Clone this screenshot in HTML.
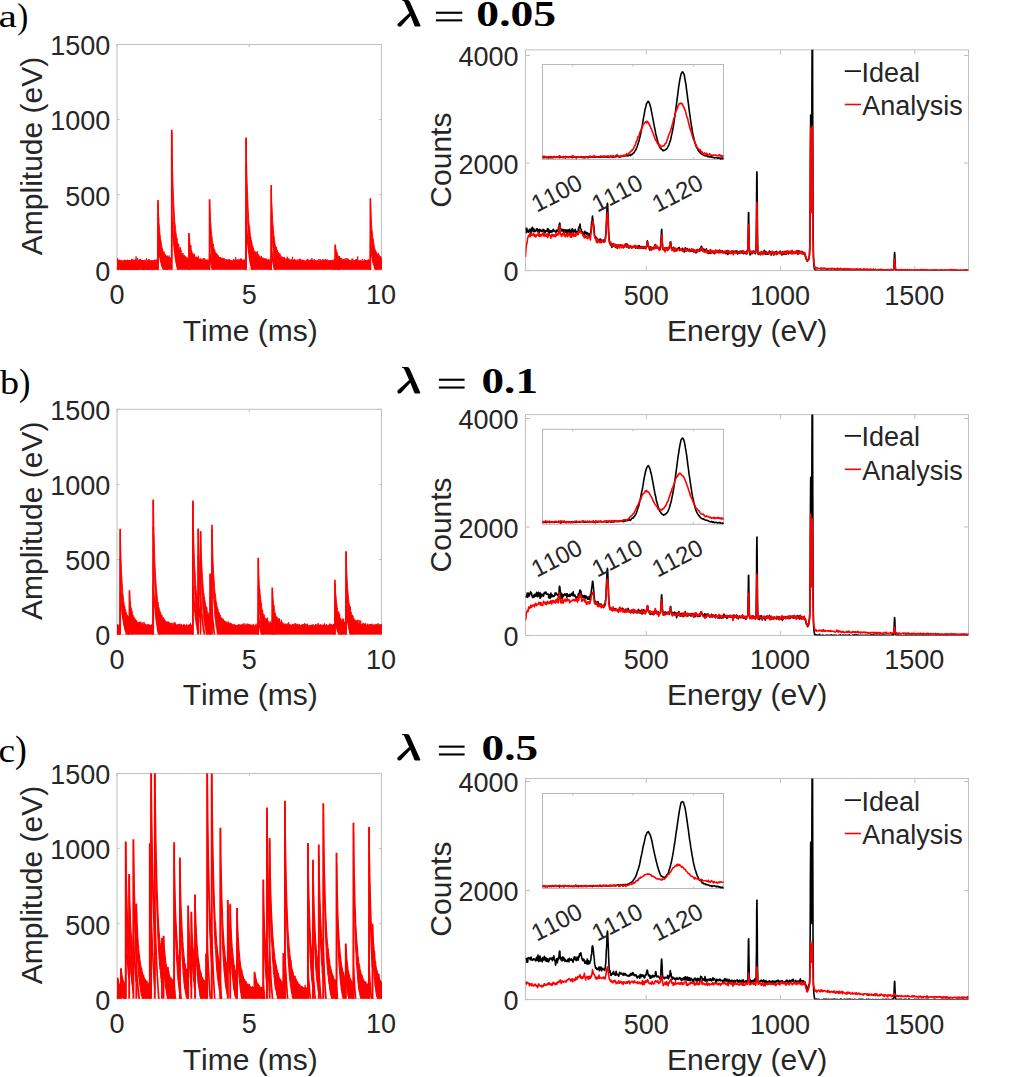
<!DOCTYPE html>
<html><head><meta charset="utf-8"><style>
html,body{margin:0;padding:0;background:#fff;width:1025px;height:1077px;overflow:hidden}
svg{display:block}
</style></head><body>
<svg width="1025" height="1077" viewBox="0 0 1025 1077" font-family="'Liberation Sans', sans-serif" fill="#262626">
<text transform="matrix(0.41517 0 0 0.32359 -1.46 27.18)" font-family="'Liberation Serif', serif" font-size="100" fill="#000" style="font-kerning:none">a</text>
<text transform="matrix(0.33095 0 0 0.36504 17.33 27.63)" font-family="'Liberation Serif', serif" font-size="100" fill="#000" style="font-kerning:none">)</text>
<path transform="translate(392.2 -4.9)" d="M10 5.2 C10 4.9 10.5 4.9 11 4.9 L15 4.9 C16.5 4.9 17.2 5.6 17.8 7 L28.2 30.2 C28.4 30.8 28.1 31.5 27.2 31.5 L23.8 31.5 C23 31.5 22.5 31 22.2 30.4 L18.4 20.7 L9.4 30.6 C8.5 31.6 7.3 31.8 6.2 31.2 C5.1 30.4 4.9 29.2 5.8 28.3 L17.1 18 L12.2 7 C11.8 6.3 11.2 6.2 10.5 6 C10.1 5.9 10 5.6 10 5.2 Z" fill="#000"/>
<rect x="435.9" y="11.7" width="26.4" height="2.1" fill="#000"/>
<rect x="435.9" y="19.3" width="26.4" height="2.1" fill="#000"/>
<text transform="matrix(0.45604 0 0 0.36661 476.36 25.78)" font-family="'Liberation Serif', serif" font-size="100" font-weight="bold" fill="#000" style="font-kerning:none">0.05</text>
<g transform="translate(0 0)">
<rect x="117.0" y="44.5" width="264.5" height="225.3" fill="none" stroke="#c0c0c0" stroke-width="1"/>
<line x1="117" y1="269.8" x2="119.6" y2="269.8" stroke="#c0c0c0" stroke-width="1"/>
<line x1="381.5" y1="269.8" x2="378.9" y2="269.8" stroke="#c0c0c0" stroke-width="1"/>
<text x="95.34" y="280.6" font-size="27" style="font-kerning:none">0</text>
<line x1="117" y1="194.7" x2="119.6" y2="194.7" stroke="#c0c0c0" stroke-width="1"/>
<line x1="381.5" y1="194.7" x2="378.9" y2="194.7" stroke="#c0c0c0" stroke-width="1"/>
<text x="65.31" y="205.5" font-size="27" style="font-kerning:none">500</text>
<line x1="117" y1="119.6" x2="119.6" y2="119.6" stroke="#c0c0c0" stroke-width="1"/>
<line x1="381.5" y1="119.6" x2="378.9" y2="119.6" stroke="#c0c0c0" stroke-width="1"/>
<text x="50.29" y="130.4" font-size="27" style="font-kerning:none">1000</text>
<line x1="117" y1="44.5" x2="119.6" y2="44.5" stroke="#c0c0c0" stroke-width="1"/>
<line x1="381.5" y1="44.5" x2="378.9" y2="44.5" stroke="#c0c0c0" stroke-width="1"/>
<text x="50.29" y="55.3" font-size="27" style="font-kerning:none">1500</text>
<line x1="117" y1="269.8" x2="117" y2="267.2" stroke="#c0c0c0" stroke-width="1"/>
<line x1="117" y1="44.5" x2="117" y2="47.1" stroke="#c0c0c0" stroke-width="1"/>
<text x="109.49" y="304.3" font-size="27" style="font-kerning:none">0</text>
<line x1="249.25" y1="269.8" x2="249.25" y2="267.2" stroke="#c0c0c0" stroke-width="1"/>
<line x1="249.25" y1="44.5" x2="249.25" y2="47.1" stroke="#c0c0c0" stroke-width="1"/>
<text x="241.77" y="304.3" font-size="27" style="font-kerning:none">5</text>
<line x1="381.5" y1="269.8" x2="381.5" y2="267.2" stroke="#c0c0c0" stroke-width="1"/>
<line x1="381.5" y1="44.5" x2="381.5" y2="47.1" stroke="#c0c0c0" stroke-width="1"/>
<text x="365.98" y="304.3" font-size="27" style="font-kerning:none">10</text>
<text x="182.71" y="340.7" font-size="30" style="font-kerning:none">Time (ms)</text>
<text transform="translate(41.7 156.9) rotate(-90)" x="-98.31" y="0" font-size="30.0" style="font-kerning:none">Amplitude (eV)</text>
<clipPath id="lc0"><rect x="117.0" y="44.5" width="265.5" height="225.3"/></clipPath>
<g clip-path="url(#lc0)" fill="#ff0000" stroke="#ff0000" stroke-linejoin="round">
<path d="M117 260.8l0.2-1 0.2 0.1 0.2-1.6 0.2 2.7 0.2 0.2 0.2-0.8 0.2 0.4 0.2-0.6 0.2 2 0.2-2.6 0.2 1.3 0.2-0.6 0.2 0.6 0.3 0.2 0.2-0.7 0.2-0.2 0.2 0.7 0.2 0 0.2-0.6 0.2 1.1 0.2 0.5 0.2-1.4 0.2 0.8 0.2 0.9 0.2-0.8 0.2-0.3 0.2 0.6 0.2 0.2 0.2-1.1 0.2-0.7 0.2 0.9 0.2 0.3 0.2-0.8 0.2-0.3 0.2 0.8 0.2-0.6 0.2-0.4 0.2-0.2 0.2 1.6 0.2-0.9 0.2 0.1 0.3-0.6 0.2 1.8 0.2-0.5 0.2 0.1 0.2 0.7 0.2-1.4 0.2-0.3 0.2 0.9 0.2-1.6 0.2 0.5 0.2 0.1 0.2 0.2 0.2-0.4 0.2 1.7 0.2-1.5 0.2 0 0.2 1.8 0.2-1.6 0.2 0.5 0.2-0.8 0.2 0.9 0.2-0.3 0.2-0.3 0.2 0.9 0.2-1.1 0.2 0.6 0.2-0.5 0.2 0.8 0.3-1.2 0.2 0.3 0.2-1.4 0.2 1.4 0.2-0.5 0.2-0.4 0.2 2.6 0.2-1.9 0.2 0.3 0.2 0.5 0.2 0.6 0.2-1.7 0.2 1.9 0.2-1.3 0.2-0.6 0.2 1.2 0.2 0 0.2 0.8 0.2-1.2 0.2-0.9 0.2-0.4 0.2 2.8 0.2-0.9 0.2-0.9 0.2-3.9 0.2 4.1 0.2 0.8 0.3-0.7 0.2 0.2 0.2 0.1 0.2-1.4 0.2-1.3 0.2 2.4 0.2 0.3 0.2 0.1 0.2 0.8 0.2-0.6 0.2-1.3 0.2 1 0.2 1 0.2-2.1 0.2 0.6 0.2-1.2 0.2 1.5 0.2 0.4 0.2 0.8 0.2-2.1 0.2-0.9 0.2 2.5 0.2-0.1 0.2-1 0.2 1.1 0.2-0.4 0.2 0.1 0.2-0.5 0.3-0.6 0.2 0.8 0.2-0.7 0.2 1 0.2-0.6 0.2 1.9 0.2-0.5 0.2-1.7 0.2 1 0.2-0.8 0.2 0 0.2-0.6 0.2 0.4 0.2-0.2 0.2 0.9 0.2 0.4 0.2 0 0.2-0.1 0.2 0.4 0.2-0.4 0.2-3.1 0.2 2.5 0.2 0.4 0.2 1.2 0.2-1.4 0.2-0.2 0.2-0.6 0.2 0.4 0.3 0.9 0.2 0 0.2-2 0.2 0.9 0.2-0.8 0.2-0.2 0.2 2.2 0.2-0.9 0.2-0.1 0.2 0 0.2 0 0.2 0.2 0.2 0.1 0.2 1.2 0.2-1 0.2 0.4 0.2-0.6 0.2 0.4 0.2-0.8 0.2-0.1 0.2 0.4 0.2 0 0.2 0.1 0.2 0.4 0.2-0.2 0.2 0.3 0.2-0.7 0.3 0.3 0.2-0.4 0.2 1.4 0.2-1.7 0.2 1.3 0.2-0.1 0.2-1.8 0.2 1.7 0.2-0.6 0.2 0.6 0.2 0.4 0.2-0.2 0.2-1.6 0.2 1 0.2 0.9 0.2-0.9 0.2 1.2 0.2-2.6 0.2 2.5 0.2-1.5 0.2 0 0.2 1.5 0.2-58.2 0.2 4.4 0.2 4.8 0.2 4.1 0.2 0.1 0.2 6.7 0.3 2.8 0.2 2.9 0.2 1.8 0.2 3.3 0.2 0.6 0.2 2.7 0.2 2 0.2 0.4 0.2 0.3 0.2 1.8 0.2 2.2 0.2 0.1 0.2 1.8 0.2 0.6 0.2 0.6 0.2 2.5 0.2-1.2 0.2 1.6 0.2 0.3 0.2 1.1 0.2 0.6 0.2 0 0.2-0.9 0.2-0.2 0.2 1.6 0.2-0.4 0.2 1.3 0.3 1.6 0.2-1.3 0.2 0.1 0.2 0.9 0.2-0.3 0.2 0.1 0.2 1.3 0.2 0.7 0.2-0.8 0.2 0.2 0.2 0.3 0.2-0.8 0.2-0.4 0.2 1.8 0.2-0.7 0.2 0 0.2 0.3 0.2-0.1 0.2 1.2 0.2-0.7 0.2-0.9 0.2-1 0.2 3.2 0.2-0.8 0.2-0.4 0.2 0.8 0.2 0.8 0.2-1.5 0.3 2.2 0.2-1.3 0.2 0.5 0.2-0.3 0.2-0.5 0.2 0.7 0.2-126.6 0.2 9.9 0.2 10.8 0.2 10.2 0.2 7.2 0.2 6.5 0.2 6.3 0.2 6.3 0.2 5.4 0.2 4.5 0.2 4.9 0.2 2.9 0.2 4.4 0.2 3.2 0.2 2.8 0.2 3.9 0.2 2.2 0.2 0.7 0.2 3 0.2 2.4 0.2 1.3 0.2 2.2 0.3 1 0.2 2.1 0.2 0.6 0.2 2.7 0.2-1.1 0.2 2.5 0.2 1.8 0.2-0.1 0.2 1 0.2 0.4 0.2 1.8 0.2-0.5 0.2-1.7 0.2 4.3 0.2-0.6 0.2 1.1 0.2 0.2 0.2 2 0.2 0 0.2-0.7 0.2 0.8 0.2-3.6 0.2 4.9 0.2-0.3 0.2-1.7 0.2 3.2 0.2 0.4 0.3-0.3 0.2 0.3 0.2-0.4 0.2 0.8 0.2 0.9 0.2-0.4 0.2-1.6 0.2 1.3 0.2 3.2 0.2-1.7 0.2 0.7 0.2-0.9 0.2 0.8 0.2-1.4 0.2 0.9 0.2 0.2 0.2 0.7 0.2 0.3 0.2-0.1 0.2-0.6 0.2 0.7 0.2 0.8 0.2-1.1 0.2 0.9 0.2 0.3 0.2 0.7 0.2-0.1 0.2 0.2 0.3 1.7 0.2-2.8 0.2 0.4 0.2 0.7 0.2-0.9 0.2 0.6 0.2 0.1 0.2 2.2 0.2-25.9 0.2 1.6 0.2 1.2 0.2 1.5 0.2 1.9 0.2 3.4 0.2 2 0.2-0.9 0.2 1.5 0.2-1.9 0.2 2.7 0.2 1.6 0.2 2 0.2-0.8 0.2 1.3 0.2 0 0.2 0.4 0.2 0.9 0.2 0.1 0.2 0.6 0.3-0.2 0.2 0.5 0.2 1.2 0.2 0.3 0.2-1.5 0.2 1.6 0.2-2.2 0.2 2.3 0.2 1 0.2 0.3 0.2-0.5 0.2 0.1 0.2-0.1 0.2 1.6 0.2-0.4 0.2-0.2 0.2-1.2 0.2 3.1 0.2-1.9 0.2 0.8 0.2-0.6 0.2 0.8 0.2-0.6 0.2-0.8 0.2 1 0.2 0 0.2-2.7 0.3 3.8 0.2-0.9 0.2 0.6 0.2 0.5 0.2-0.5 0.2 0.2 0.2-0.6 0.2 0.6 0.2-0.7 0.2-0.3 0.2 0.4 0.2-0.2 0.2 0.6 0.2 0.5 0.2 0.3 0.2 0 0.2-0.9 0.2 0.6 0.2 1.3 0.2-1.1 0.2 1.1 0.2-1.2 0.2-1.8 0.2 3 0.2-1.1 0.2 0.2 0.2 1.2 0.2-1.8 0.3-1 0.2-0.4 0.2 0.7 0.2 1.9 0.2-0.1 0.2-0.2 0.2 0.9 0.2-2 0.2 0.6 0.2 1 0.2-0.4 0.2 1 0.2-0.9 0.2-0.9 0.2 2 0.2-1 0.2-0.4 0.2-0.7 0.2-0.2 0.2 1.4 0.2 0.2 0.2-0.9 0.2 0.6 0.2 0 0.2-1 0.2-0.5 0.2-58.1 0.2 5.6 0.3 4 0.2 6 0.2 2.3 0.2 4.1 0.2 0.4 0.2 4 0.2 2.9 0.2 2.5 0.2 3.7 0.2-0.6 0.2 1 0.2 3.2 0.2 0.3 0.2 1.3 0.2 2.8 0.2-0.8 0.2 0.7 0.2-0.1 0.2 2.8 0.2 0.1 0.2 2.5 0.2-0.6 0.2-0.1 0.2 2.3 0.2-1.2 0.2 1.6 0.2 1.7 0.3-1.1 0.2 1.1 0.2-0.6 0.2 1.5 0.2-1.4 0.2 1.7 0.2-0.5 0.2 1 0.2 0 0.2-0.9 0.2 1 0.2 0.7 0.2 0.9 0.2-1.6 0.2 0.5 0.2 1 0.2-0.3 0.2 1.1 0.2 0.2 0.2 0 0.2-0.7 0.2 0.1 0.2 1 0.2-1 0.2 0.1 0.2 0.5 0.2-0.5 0.2 1.1 0.3 0 0.2-0.4 0.2 0.5 0.2-0.5 0.2 1.6 0.2-1.9 0.2 1.7 0.2-0.4 0.2 1 0.2-1.4 0.2-0.5 0.2 0.3 0.2 0.2 0.2 1.8 0.2-1.9 0.2 1.2 0.2 0.4 0.2-1.5 0.2 0.8 0.2 0.2 0.2-0.3 0.2 1.1 0.2 0 0.2 0 0.2-1 0.2 0.2 0.2-0.2 0.3-0.3 0.2 1.8 0.2-0.5 0.2-0.5 0.2 1.1 0.2-0.6 0.2-1.1 0.2 0 0.2 0 0.2 0.8 0.2 0.2 0.2-0.9 0.2 1.1 0.2-0.5 0.2-0.8 0.2 1.3 0.2 0.2 0.2-0.4 0.2-0.4 0.2 0.1 0.2 0.2 0.2-0.3 0.2 1.7 0.2-0.6 0.2-0.7 0.2 0.8 0.2 0.3 0.2-0.1 0.3-0.2 0.2-0.5 0.2 0.6 0.2-0.9 0.2-1.1 0.2 1.4 0.2-1.1 0.2 0.8 0.2 1 0.2-0.6 0.2 0.6 0.2-1.4 0.2 1.5 0.2-1.9 0.2 0.6 0.2 2 0.2-5 0.2 2.3 0.2 1.8 0.2-1.4 0.2 2.1 0.2-1.5 0.2 1.4 0.2-1.6 0.2 1.7 0.2 0.7 0.2-2.3 0.2-1.4 0.3 2.2 0.2-1.1 0.2 0.5 0.2 0.4 0.2-0.7 0.2-0.8 0.2 2.2 0.2-1.4 0.2 0.2 0.2 1.3 0.2-3.3 0.2 0.8 0.2 2.2 0.2-2.1 0.2 1.3 0.2 0.2 0.2-2.3 0.2 2 0.2-0.1 0.2-0.9 0.2 0.2 0.2 0.3 0.2 1.7 0.2 0.1 0.2-2 0.2 1.6 0.2-0.9 0.3 1 0.2-0.7 0.2 0.8 0.2-2.2 0.2 2 0.2-0.6 0.2 0 0.2-1 0.2 1.9 0.2-1 0.2 0.1 0.2-0.5 0.2-121.8 0.2 11.3 0.2 9.1 0.2 9 0.2 7 0.2 7.3 0.2 3.4 0.2 8.4 0.2 4.7 0.2 3.1 0.2 6.2 0.2 3.2 0.2 2.5 0.2 5.8 0.2 2.5 0.2 2.2 0.3 1.5 0.2 0.3 0.2 1.5 0.2 3.2 0.2 2.7 0.2 3.3 0.2 1.3 0.2-1.2 0.2 1.9 0.2 2.2 0.2-0.7 0.2 3 0.2-1.1 0.2 0.6 0.2 2.5 0.2 1.1 0.2-0.8 0.2 2.1 0.2-0.8 0.2 2.2 0.2-1 0.2 1.1 0.2 0.9 0.2 0.8 0.2-0.3 0.2 2 0.2-0.8 0.2 0.5 0.3-0.5 0.2 1.9 0.2-1.9 0.2 1.8 0.2 0.9 0.2-2.7 0.2 1.2 0.2 1.7 0.2 0.8 0.2-0.5 0.2 0.8 0.2-0.1 0.2-4.4 0.2 4.3 0.2 0.4 0.2-2 0.2 0.5 0.2 1.5 0.2 0.2 0.2 1.1 0.2-0.2 0.2-1.6 0.2 1.6 0.2 0.6 0.2-1.5 0.2 1.6 0.2 1 0.3-1.2 0.2 1.2 0.2-0.2 0.2-0.5 0.2-2.2 0.2 3.2 0.2 0 0.2 0.1 0.2-1.3 0.2 1.5 0.2 0 0.2-1.9 0.2 2 0.2-1.4 0.2 0.2 0.2 1.1 0.2 1 0.2-1.3 0.2-0.1 0.2-0.2 0.2 0.7 0.2-0.8 0.2-0.1 0.2 1.9 0.2-1.8 0.2 1 0.2 0.6 0.2-0.2 0.3-1.6 0.2 0.7 0.2 2.1 0.2-1.3 0.2 0.2 0.2 0 0.2 0.3 0.2 0.7 0.2-1.7 0.2 1.4 0.2-1.5 0.2 1.3 0.2 0.1 0.2-1.1 0.2 0.3 0.2 0.8 0.2 0.2 0.2-0.3 0.2-1.1 0.2 0.7 0.2-0.1 0.2 0.5 0.2-0.1 0.2-0.3 0.2 1.5 0.2-73 0.2 7.9 0.2 5.3 0.3 3.5 0.2 5.2 0.2 4.1 0.2 4.1 0.2 3.9 0.2 1.6 0.2 1.9 0.2 3.9 0.2 0.5 0.2 3.9 0.2 1.5 0.2 0.7 0.2 1.8 0.2 0.9 0.2 2.3 0.2 1.4 0.2 1.7 0.2 0.5 0.2 0.8 0.2 1.1 0.2-0.5 0.2 1.4 0.2 1.7 0.2-2.7 0.2 3.1 0.2 0.8 0.2-1.3 0.3 0.5 0.2 2.2 0.2 0.7 0.2 0 0.2-1.2 0.2 1.4 0.2 0.8 0.2-0.3 0.2-0.6 0.2 2.2 0.2-0.5 0.2 1 0.2-2.4 0.2 0.5 0.2 0.9 0.2 1 0.2-0.4 0.2 2.3 0.2-1.6 0.2 1.4 0.2 0.2 0.2-0.3 0.2-0.2 0.2-0.5 0.2 0 0.2 0.5 0.2 1 0.2-1 0.3 0.7 0.2-0.9 0.2 1.7 0.2 1.5 0.2-1.6 0.2-1.9 0.2 1.3 0.2 0.6 0.2-0.7 0.2 0.4 0.2 0.1 0.2 0.8 0.2-0.4 0.2 0 0.2 0.7 0.2 0.4 0.2-0.9 0.2-0.5 0.2 0.3 0.2 0.1 0.2-2.4 0.2 1 0.2 1.8 0.2-0.6 0.2-0.6 0.2 1.4 0.2-0.1 0.3-0.5 0.2-0.5 0.2 1.1 0.2 0 0.2 0.2 0.2 1 0.2-1.7 0.2 0.1 0.2 2.1 0.2-1.1 0.2 1.2 0.2-0.5 0.2-0.8 0.2 0.7 0.2-1.4 0.2 1.9 0.2-1.3 0.2-0.2 0.2-0.7 0.2-2.4 0.2 3.4 0.2 0.1 0.2 0.1 0.2-0.8 0.2 1.3 0.2-0.8 0.2 0.4 0.2-0.2 0.3 0.4 0.2-1.8 0.2 2.1 0.2-0.7 0.2 0 0.2-0.2 0.2 0.1 0.2 0 0.2-0.4 0.2 1.9 0.2-1.1 0.2 0.9 0.2-1.1 0.2 1.1 0.2-0.2 0.2-0.6 0.2-1.1 0.2 0.6 0.2 0.2 0.2-0.8 0.2 1.8 0.2 0.8 0.2-1.2 0.2-0.1 0.2-1.2 0.2-0.6 0.2 2.6 0.2-2.9 0.3 0.7 0.2 0.6 0.2 0.3 0.2-1.5 0.2 1.7 0.2 0.5 0.2-0.5 0.2 1.1 0.2-1.3 0.2 0.4 0.2-0.3 0.2-0.1 0.2 1.1 0.2-1.8 0.2 1.8 0.2-1.4 0.2 1.8 0.2-1.4 0.2 0.8 0.2-0.6 0.2 0.5 0.2 1.2 0.2-0.8 0.2-0.9 0.2-0.4 0.2 1.5 0.2 0.5 0.3-0.9 0.2-0.5 0.2 0.3 0.2 0.2 0.2-1.3 0.2-0.1 0.2 0.2 0.2 1.3 0.2-0.8 0.2-1.8 0.2 2.9 0.2-1.7 0.2 0.6 0.2 0.4 0.2-1.4 0.2 0.5 0.2-0.1 0.2-0.2 0.2 0.3 0.2 1.5 0.2-0.6 0.2-1.1 0.2 1.3 0.2-0.6 0.2-0.2 0.2-0.8 0.2 0.1 0.2 0.3 0.3 0.8 0.2-0.8 0.2 0.3 0.2-2.3 0.2 1.6 0.2 0.7 0.2 0.9 0.2-1.5 0.2 1.2 0.2-0.7 0.2 1.6 0.2-1.1 0.2 0.7 0.2 0 0.2 0.7 0.2-3 0.2 1.7 0.2-0.3 0.2-0.7 0.2 1 0.2-0.5 0.2 1.4 0.2-1.2 0.2 0.5 0.2-0.7 0.2 0.2 0.2 1.2 0.2 0.4 0.3-0.7 0.2-1.3 0.2 0.3 0.2 0 0.2 1.8 0.2 0.5 0.2-1.6 0.2-0.2 0.2 0.2 0.2-2.2 0.2 1.9 0.2 0.8 0.2-0.3 0.2-0.7 0.2 0 0.2 0.1 0.2-1.7 0.2 1.9 0.2-0.3 0.2 0.8 0.2-0.4 0.2-0.7 0.2 0 0.2 0.5 0.2-0.4 0.2 0.2 0.2 1.5 0.3 1 0.2-4.1 0.2 1.1 0.2 0.6 0.2 1.3 0.2-0.4 0.2-1.9 0.2 3.1 0.2-1.9 0.2-0.9 0.2 0.6 0.2-0.5 0.2 0.7 0.2-1.9 0.2 2.6 0.2 0.2 0.2-1.2 0.2-0.9 0.2 1.1 0.2-0.8 0.2 1.2 0.2 0.5 0.2-2 0.2-0.1 0.2 0 0.2 1.5 0.2 0.6 0.2 0 0.3-0.7 0.2-0.6 0.2 0 0.2 1.5 0.2-1.3 0.2 0.2 0.2-0.1 0.2 0.1 0.2 0.1 0.2-0.6 0.2 0.4 0.2-0.1 0.2 0.7 0.2-0.8 0.2 0.4 0.2 1.5 0.2-2 0.2 0.6 0.2-0.9 0.2 0.8 0.2 0 0.2-0.3 0.2 0.2 0.2 0.3 0.2 1 0.2-2.7 0.2 2.6 0.2-1 0.3-0.7 0.2 0.2 0.2-0.1 0.2-0.2 0.2-0.4 0.2 0.8 0.2-2 0.2-12.5 0.2 0.4 0.2 1.7 0.2 1.2 0.2 0.3 0.2 0 0.2 2.4 0.2 0.7 0.2-0.4 0.2 0.7 0.2-0.5 0.2 1.1 0.2 1.1 0.2 0.8 0.2-0.1 0.2 0.6 0.2 1.2 0.2-0.7 0.2 0.4 0.2 0.2 0.3 0.4 0.2-1.4 0.2 0.9 0.2 0 0.2 1.3 0.2 0.5 0.2-0.4 0.2-0.3 0.2 0.6 0.2 0 0.2-0.8 0.2 0.6 0.2 1.1 0.2-0.4 0.2 0.3 0.2-0.6 0.2 1.1 0.2-0.7 0.2-0.5 0.2 0.5 0.2 0.8 0.2-0.2 0.2-0.5 0.2-0.2 0.2-0.2 0.2 0.8 0.2 0.9 0.2-2 0.3 0.9 0.2-0.1 0.2 0.1 0.2 1.1 0.2-0.5 0.2-2.3 0.2 1.3 0.2 0.8 0.2 2.4 0.2-2.2 0.2-0.4 0.2-0.7 0.2 0.5 0.2-1.3 0.2 0.8 0.2 0.1 0.2 0.3 0.2 1.8 0.2-1.7 0.2 0.2 0.2 0.9 0.2-0.8 0.2 0.1 0.2 0.7 0.2-0.3 0.2 0.2 0.2-0.4 0.3 0.5 0.2-0.7 0.2 1.9 0.2-1.3 0.2 1.1 0.2-0.9 0.2-0.7 0.2-1.5 0.2 2 0.2-0.2 0.2-1.1 0.2-0.7 0.2 1.2 0.2 1.8 0.2-0.7 0.2-0.5 0.2 0.8 0.2-0.8 0.2-0.4 0.2 1.4 0.2-0.8 0.2 0.2 0.2 1.2 0.2-1.3 0.2 0.5 0.2-1.6 0.2 1.6 0.2-1.9 0.3 1.7 0.2-1.9 0.2 1.1 0.2 0.1 0.2-0.3 0.2-0.1 0.2-0.3 0.2-3.3 0.2 4.6 0.2 0.7 0.2 1 0.2-1.7 0.2-0.8 0.2 0.2 0.2 0.2 0.2 0.4 0.2 0.2 0.2-0.2 0.2-0.5 0.2 1.6 0.2-1.9 0.2 1.6 0.2-0.9 0.2 0.3 0.2-0.2 0.2 0.5 0.2 0.1 0.2-0.7 0.3 0.7 0.2-2.7 0.2 2.2 0.2 0.2 0.2-0.1 0.2 0.4 0.2 1 0.2-1.6 0.2-0.5 0.2 1.4 0.2-1.1 0.2 0.9 0.2-0.9 0.2-1.4 0.2 1 0.2 0.1 0.2 0.8 0.2-1.2 0.2 1 0.2-0.6 0.2-0.2 0.2 0.7 0.2 0.7 0.2-1.4 0.2 1.3 0.2-0.1 0.2 0.1 0.3-1.4 0.2 0.7 0.2 1.6 0.2-2.3 0.2-1 0.2 0.2 0.2 1.8 0.2-0.5 0.2-0.3 0.2-0.3 0.2 0.7 0.2 0.8 0.2-1.4 0.2 0.1 0.2 1.5 0.2-59.9 0.2 4.6 0.2 4.8 0.2 3.8 0.2 3.4 0.2 3.6 0.2 3.5 0.2 3.6 0.2 1 0.2 1.6 0.2 1.5 0.2 3.4 0.2 1.6 0.3 0.4 0.2 1.4 0.2 2 0.2 0.9 0.2 2.2 0.2-0.1 0.2 2 0.2 0.3 0.2 0.7 0.2 1 0.2 1.9 0.2-0.4 0.2-0.3 0.2 0.8 0.2 0.8 0.2-0.2 0.2 0.2 0.2 0.3 0.2 1.6 0.2-0.2 0.2 0.6 0.2-0.1 0.2 1.6 0.2-0.8 0.2 0.8 0.2-2 0.2-0.6 0.2 2.9 0.3 0.3 0.2-1.5 0.2 2.3 0.2-0.4 0.2 0.7 0.2-0.4 0.2 0.1 0.2-0.7 0.2 2.1 0.2-0.9 0.2-1.1 0.2 1.7 0.2-0.1 0.2 0.6 0 11.1 -0.2 0 -0.2 0 -0.2 0 -0.2 0 -0.2 0 -0.2 0 -0.2 0 -0.2 0 -0.2 0 -0.2 0 -0.2 0 -0.2 0 -0.2 0 -0.3 0 -0.2 0 -0.2 0 -0.2 0 -0.2 0 -0.2 0 -0.2-0.4 -0.2 0 -0.2-0.8 -0.2-1.8 -0.2 0.8 -0.2 0.2 -0.2 0.4 -0.2-1 -0.2-1.7 -0.2 0.4 -0.2-0.8 -0.2-0.4 -0.2-2.2 -0.2 1.8 -0.2-0.8 -0.2-0.8 -0.2-0.9 -0.2-1.6 -0.2 0.5 -0.2-0.6 -0.2-0.9 -0.2-1.7 -0.3 0.4 -0.2-0.3 -0.2-1.8 -0.2-2 -0.2-1 -0.2-0.4 -0.2-1.3 -0.2-3.5 -0.2-3.5 -0.2-3.5 -0.2-3.7 -0.2-4.8 -0.2-4.7 -0.2 42.4 -0.2 0 -0.2 0 -0.2 0 -0.2 0 -0.2 0 -0.2-0.4 -0.2 0.4 -0.2 0 -0.2 0 -0.2 0 -0.2 0 -0.2 0 -0.2 0 -0.2 0 -0.3 0 -0.2 0 -0.2 0 -0.2 0 -0.2 0 -0.2 0 -0.2 0 -0.2 0 -0.2 0 -0.2 0 -0.2 0 -0.2 0 -0.2 0 -0.2 0 -0.2 0 -0.2 0 -0.2 0 -0.2 0 -0.2 0 -0.2 0 -0.2 0 -0.2 0 -0.2 0 -0.2 0 -0.2 0 -0.2 0 -0.2 0 -0.3 0 -0.2 0 -0.2 0 -0.2 0 -0.2 0 -0.2 0 -0.2 0 -0.2 0 -0.2 0 -0.2 0 -0.2 0 -0.2 0 -0.2 0 -0.2 0 -0.2 0 -0.2 0 -0.2 0 -0.2 0 -0.2 0 -0.2 0 -0.2 0 -0.2 0 -0.2 0 -0.2 0 -0.2 0 -0.2 0 -0.2 0 -0.2 0 -0.3 0 -0.2 0 -0.2 0 -0.2 0 -0.2 0 -0.2 0 -0.2 0 -0.2 0 -0.2 0 -0.2 0 -0.2 0 -0.2 0 -0.2 0 -0.2 0 -0.2 0 -0.2 0 -0.2 0 -0.2 0 -0.2 0 -0.2 0 -0.2 0 -0.2 0 -0.2 0 -0.2 0 -0.2 0 -0.2 0 -0.2 0 -0.2 0 -0.3 0 -0.2 0 -0.2 0 -0.2 0 -0.2 0 -0.2 0 -0.2 0 -0.2 0 -0.2 0 -0.2 0 -0.2 0 -0.2 0 -0.2 0 -0.2 0 -0.2 0 -0.2 0 -0.2 0 -0.2 0 -0.2 0 -0.2 0 -0.2 0 -0.2 0 -0.2 0 -0.2 0 -0.2 0 -0.2 0 -0.2 0 -0.3 0 -0.2 0 -0.2 0 -0.2 0 -0.2 0 -0.2 0 -0.2 0 -0.2 0 -0.2 0 -0.2 0 -0.2 0 -0.2 0 -0.2 0 -0.2 0 -0.2 0 -0.2 0 -0.2 0 -0.2 0 -0.2 0 -0.2 0 -0.2 0 -0.2 0 -0.2 0 -0.2 0 -0.2 0 -0.2 0 -0.2 0 -0.2 0 -0.3-0.6 -0.2 0.4 -0.2-0.7 -0.2-0.2 -0.2-0.2 -0.2 0.5 -0.2 0.6 -0.2-0.8 -0.2 0.4 -0.2-1 -0.2-0.7 -0.2-0.5 -0.2-0.7 -0.2 0.5 -0.2 0 -0.2 0.4 -0.2-0.8 -0.2-0.6 -0.2-0.1 -0.2 1.2 -0.2 2.9 -0.2 0 -0.2 0 -0.2 0 -0.2 0 -0.2 0 -0.2 0 -0.3 0 -0.2 0 -0.2 0 -0.2 0 -0.2 0 -0.2 0 -0.2 0 -0.2 0 -0.2 0 -0.2 0 -0.2 0 -0.2 0 -0.2 0 -0.2 0 -0.2 0 -0.2 0 -0.2 0 -0.2 0 -0.2 0 -0.2 0 -0.2 0 -0.2 0 -0.2 0 -0.2 0 -0.2 0 -0.2 0 -0.2 0 -0.2 0 -0.3 0 -0.2 0 -0.2 0 -0.2 0 -0.2 0 -0.2 0 -0.2 0 -0.2 0 -0.2 0 -0.2 0 -0.2 0 -0.2 0 -0.2 0 -0.2 0 -0.2 0 -0.2 0 -0.2 0 -0.2 0 -0.2 0 -0.2 0 -0.2 0 -0.2 0 -0.2 0 -0.2 0 -0.2 0 -0.2 0 -0.2 0 -0.2 0 -0.3 0 -0.2 0 -0.2 0 -0.2 0 -0.2 0 -0.2 0 -0.2 0 -0.2 0 -0.2 0 -0.2 0 -0.2 0 -0.2 0 -0.2 0 -0.2 0 -0.2 0 -0.2 0 -0.2 0 -0.2 0 -0.2 0 -0.2 0 -0.2 0 -0.2 0 -0.2 0 -0.2 0 -0.2 0 -0.2 0 -0.2 0 -0.3 0 -0.2 0 -0.2 0 -0.2 0 -0.2 0 -0.2 0 -0.2 0 -0.2 0 -0.2 0 -0.2 0 -0.2 0 -0.2 0 -0.2 0 -0.2 0 -0.2 0 -0.2 0 -0.2 0 -0.2 0 -0.2 0 -0.2 0 -0.2 0 -0.2 0 -0.2 0 -0.2 0 -0.2 0 -0.2 0 -0.2 0 -0.2 0 -0.3 0 -0.2 0 -0.2 0 -0.2 0 -0.2 0 -0.2 0 -0.2 0 -0.2 0 -0.2 0 -0.2 0 -0.2 0 -0.2 0 -0.2 0 -0.2 0 -0.2 0 -0.2 0 -0.2 0 -0.2 0 -0.2 0 -0.2 0 -0.2 0 -0.2 0 -0.2 0 -0.2 0 -0.2 0 -0.2 0 -0.2 0 -0.2 0 -0.3 0 -0.2 0 -0.2 0 -0.2 0 -0.2 0 -0.2 0 -0.2 0 -0.2 0 -0.2 0 -0.2 0 -0.2 0 -0.2 0 -0.2 0 -0.2 0 -0.2 0 -0.2 0 -0.2 0 -0.2 0 -0.2 0 -0.2 0 -0.2 0 -0.2 0 -0.2 0 -0.2 0 -0.2 0 -0.2 0 -0.2 0 -0.3 0 -0.2 0 -0.2 0 -0.2 0 -0.2 0 -0.2 0 -0.2 0 -0.2 0 -0.2 0 -0.2 0 -0.2 0 -0.2 0 -0.2 0 -0.2 0 -0.2 0 -0.2 0 -0.2 0 -0.2 0 -0.2 0 -0.2 0 -0.2 0 -0.2 0 -0.2 0 -0.2 0 -0.2 0 -0.2 0 -0.2 0 -0.2 0 -0.3 0 -0.2 0 -0.2 0 -0.2 0 -0.2 0 -0.2 0 -0.2 0 -0.2 0 -0.2 0 -0.2 0 -0.2 0 -0.2 0 -0.2 0 -0.2 0 -0.2 0 -0.2 0 -0.2 0 -0.2 0 -0.2 0 -0.2 0 -0.2 0 -0.2 0 -0.2 0 -0.2 0 -0.2 0 -0.2 0 -0.2 0 -0.2 0 -0.3 0 -0.2 0 -0.2 0 -0.2 0 -0.2 0 -0.2 0 -0.2 0 -0.2 0 -0.2 0 -0.2 0 -0.2 0 -0.2 0 -0.2 0 -0.2 0 -0.2 0 -0.2 0 -0.2 0 -0.2 0 -0.2 0 -0.2 0 -0.2 0 -0.2 0 -0.2 0 -0.2 0 -0.2 0 -0.2 0 -0.2 0 -0.3 0 -0.2 0 -0.2 0 -0.2 0 -0.2 0 -0.2 0 -0.2 0 -0.2 0 -0.2 0 -0.2 0 -0.2 0 -0.2 0 -0.2 0 -0.2 0 -0.2 0 -0.2 0 -0.2 0 -0.2 0 -0.2 0 -0.2 0 -0.2 0 -0.2 0 -0.2 0 -0.2 0 -0.2 0 -0.2 0 -0.2 0 -0.2 0 -0.3 0 -0.2 0 -0.2 0 -0.2 0 -0.2 0 -0.2 0 -0.2 0 -0.2 0 -0.2-0.2 -0.2-0.6 -0.2-1.1 -0.2 0.7 -0.2-1.2 -0.2-2.4 -0.2-0.8 -0.2-1.9 -0.2-0.7 -0.2-1.5 -0.2-3.9 -0.2-0.4 -0.2-4 -0.2-1.9 -0.2-1.6 -0.2-3.9 -0.2-4.1 -0.2-4.1 -0.2-5.2 -0.3-3.5 -0.2-5.3 -0.2-7.9 -0.2 55.5 -0.2 0 -0.2 0 -0.2 0 -0.2 0 -0.2 0 -0.2 0 -0.2 0 -0.2 0 -0.2 0 -0.2 0 -0.2 0 -0.2 0 -0.2 0 -0.2 0 -0.2 0 -0.2 0 -0.2 0 -0.2 0 -0.2 0 -0.2 0 -0.2 0 -0.2 0 -0.2 0 -0.2 0 -0.3 0 -0.2 0 -0.2 0 -0.2 0 -0.2 0 -0.2 0 -0.2 0 -0.2 0 -0.2 0 -0.2 0 -0.2 0 -0.2 0 -0.2 0 -0.2 0 -0.2 0 -0.2 0 -0.2 0 -0.2 0 -0.2 0 -0.2 0 -0.2 0 -0.2 0 -0.2 0 -0.2 0 -0.2 0 -0.2 0 -0.2 0 -0.2 0 -0.3 0 -0.2 0 -0.2 0 -0.2 0 -0.2 0 -0.2 0 -0.2 0 -0.2 0 -0.2 0 -0.2 0 -0.2 0 -0.2 0 -0.2 0 -0.2 0 -0.2 0 -0.2 0 -0.2 0 -0.2 0 -0.2 0 -0.2 0 -0.2 0 -0.2 0 -0.2 0 -0.2 0 -0.2 0 -0.2 0 -0.2 0 -0.3 0 -0.2 0 -0.2 0 -0.2 0 -0.2 0 -0.2 0 -0.2 0 -0.2 0 -0.2 0 -0.2 0 -0.2-0.1 -0.2-0.3 -0.2-1.5 -0.2-0.1 -0.2-0.8 -0.2-1.4 -0.2 0.8 -0.2-2 -0.2-1.5 -0.2-1.3 -0.2 0 -0.2-1.1 -0.2-1.8 -0.2 0.4 -0.2-2.8 -0.2-3.2 -0.2-1.5 -0.2-0.2 -0.3-1.6 -0.2-2.1 -0.2-2.6 -0.2-5.8 -0.2-2.5 -0.2-3.1 -0.2-6.2 -0.2-3.1 -0.2-4.8 -0.2-8.3 -0.2-3.4 -0.2-7.4 -0.2-7 -0.2-9 -0.2-9 -0.2-11.4 -0.2 105.7 -0.2 0 -0.2 0 -0.2 0 -0.2 0 -0.2 0 -0.2 0 -0.2 0 -0.2 0 -0.2 0 -0.2 0 -0.2 0 -0.3 0 -0.2 0 -0.2 0 -0.2 0 -0.2 0 -0.2 0 -0.2 0 -0.2 0 -0.2 0 -0.2 0 -0.2 0 -0.2 0 -0.2 0 -0.2 0 -0.2 0 -0.2 0 -0.2 0 -0.2 0 -0.2 0 -0.2 0 -0.2 0 -0.2 0 -0.2 0 -0.2 0 -0.2 0 -0.2 0 -0.2 0 -0.3 0 -0.2 0 -0.2 0 -0.2 0 -0.2 0 -0.2 0 -0.2 0 -0.2 0 -0.2 0 -0.2 0 -0.2 0 -0.2 0 -0.2 0 -0.2 0 -0.2 0 -0.2 0 -0.2 0 -0.2 0 -0.2 0 -0.2 0 -0.2 0 -0.2 0 -0.2 0 -0.2 0 -0.2 0 -0.2 0 -0.2 0 -0.2 0 -0.3 0 -0.2 0 -0.2 0 -0.2 0 -0.2 0 -0.2 0 -0.2 0 -0.2 0 -0.2 0 -0.2 0 -0.2 0 -0.2 0 -0.2 0 -0.2 0 -0.2 0 -0.2 0 -0.2 0 -0.2 0 -0.2 0 -0.2 0 -0.2 0 -0.2 0 -0.2 0 -0.2 0 -0.2 0 -0.2 0 -0.2 0 -0.2 0 -0.3 0 -0.2 0 -0.2 0 -0.2 0 -0.2 0 -0.2 0 -0.2 0 -0.2 0 -0.2 0 -0.2 0 -0.2 0 -0.2 0 -0.2 0 -0.2 0 -0.2 0 -0.2 0 -0.2 0 -0.2 0 -0.2 0 -0.2 0 -0.2 0 -0.2 0 -0.2 0 -0.2 0 -0.2 0 -0.2 0 -0.2 0 -0.3 0 -0.2 0 -0.2 0 -0.2 0 -0.2 0 -0.2 0 -0.2 0 -0.2 0 -0.2 0 -0.2 0 -0.2 0 -0.2 0 -0.2 0 -0.2 0 -0.2 0 -0.2 0 -0.2 0 -0.2 0 -0.2 0 -0.2 0 -0.2 0 -0.2 0 -0.2 0 -0.2 0 -0.2 0 -0.2 0 -0.2 0 -0.2 0 -0.3 0 -0.2 0 -0.2 0 -0.2 0 -0.2 0 -0.2 0 -0.2 0 -0.2 0 -0.2-0.3 -0.2-0.3 -0.2 0.6 -0.2-2.3 -0.2-0.7 -0.2-0.1 -0.2-0.9 -0.2-1 -0.2-2.2 -0.2-1 -0.2 0.6 -0.2-3.7 -0.2-2.5 -0.2-2.9 -0.2-3.9 -0.2-0.4 -0.2-4.2 -0.2-2.3 -0.2-6 -0.3-4 -0.2-5.5 -0.2 43 -0.2 0 -0.2 0 -0.2 0 -0.2 0 -0.2 0 -0.2 0 -0.2 0 -0.2 0 -0.2 0 -0.2 0 -0.2 0 -0.2 0 -0.2 0 -0.2 0 -0.2 0 -0.2 0 -0.2 0 -0.2 0 -0.2 0 -0.2 0 -0.2 0 -0.2 0 -0.2 0 -0.2 0 -0.2 0 -0.3 0 -0.2 0 -0.2 0 -0.2 0 -0.2 0 -0.2 0 -0.2 0 -0.2 0 -0.2 0 -0.2 0 -0.2 0 -0.2 0 -0.2 0 -0.2 0 -0.2 0 -0.2 0 -0.2 0 -0.2 0 -0.2 0 -0.2 0 -0.2 0 -0.2 0 -0.2 0 -0.2 0 -0.2 0 -0.2 0 -0.2 0 -0.2 0 -0.3 0 -0.2 0 -0.2 0 -0.2 0 -0.2 0 -0.2 0 -0.2 0 -0.2 0 -0.2 0 -0.2 0 -0.2 0 -0.2 0 -0.2 0 -0.2 0 -0.2 0 -0.2 0 -0.2 0 -0.2 0 -0.2 0 -0.2 0 -0.2 0 -0.2 0 -0.2 0 -0.2 0 -0.2 0 -0.2 0 -0.2 0 -0.3 0 -0.2 0 -0.2 0 -0.2 0 -0.2 0 -0.2 0 -0.2 0 -0.2 0 -0.2 0 -0.2 0 -0.2 0 -0.2 0 -0.2 0 -0.2 0 -0.2 0 -0.2-3.1 -0.2-1.8 -0.2-1.6 -0.2-1.1 -0.2-1.6 -0.2 9.2 -0.2 0 -0.2 0 -0.2 0 -0.2 0 -0.2 0 -0.2 0 -0.2 0 -0.3 0 -0.2 0 -0.2 0 -0.2 0 -0.2 0 -0.2 0 -0.2 0 -0.2 0 -0.2 0 -0.2 0 -0.2 0 -0.2 0 -0.2 0 -0.2 0 -0.2 0 -0.2 0 -0.2 0 -0.2 0 -0.2 0 -0.2 0 -0.2 0 -0.2 0 -0.2 0 -0.2 0 -0.2 0 -0.2 0 -0.2 0 -0.2 0 -0.3 0 -0.2 0 -0.2 0 -0.2 0 -0.2 0 -0.2 0 -0.2 0 -0.2 0 -0.2 0 -0.2 0 -0.2 0 -0.2 0 -0.2 0 -0.2 0 -0.2-0.5 -0.2-0.3 -0.2-0.1 -0.2-1.2 -0.2-2.2 -0.2 0.3 -0.2-1 -0.2-1.8 -0.2 0.2 -0.2-1.3 -0.2-0.5 -0.2-0.9 -0.2-1.2 -0.3-1.1 -0.2-1.8 -0.2-1.1 -0.2-2.4 -0.2-3 -0.2-0.6 -0.2-2.3 -0.2-3.9 -0.2-2.8 -0.2-3.2 -0.2-4.4 -0.2-2.9 -0.2-4.9 -0.2-4.5 -0.2-5.4 -0.2-6.3 -0.2-6.2 -0.2-6.6 -0.2-7.2 -0.2-10.1 -0.2-10.9 -0.2-9.9 -0.2 112 -0.2 0 -0.2 0 -0.2 0 -0.2 0 -0.2 0 -0.3 0 -0.2 0 -0.2 0 -0.2 0 -0.2 0 -0.2 0 -0.2 0 -0.2 0 -0.2 0 -0.2 0 -0.2 0 -0.2 0 -0.2 0 -0.2 0 -0.2 0 -0.2 0 -0.2 0 -0.2-0.6 -0.2 0.6 -0.2-0.7 -0.2-0.1 -0.2 0.8 -0.2 0 -0.2-1.8 -0.2 1 -0.2-0.3 -0.2-0.2 -0.2-0.5 -0.3-0.9 -0.2 0.8 -0.2-1.3 -0.2-0.9 -0.2 1.2 -0.2-0.1 -0.2-1.1 -0.2-1.3 -0.2-1.2 -0.2 0.6 -0.2 0 -0.2-1.8 -0.2-0.8 -0.2 1.3 -0.2-1.5 -0.2-0.2 -0.2-0.6 -0.2-1.4 -0.2-1.2 -0.2 0.4 -0.2-1.8 -0.2-0.3 -0.2-1.2 -0.2-1.3 -0.2-0.6 -0.2-1.2 -0.2-0.4 -0.3-1.8 -0.2-6.8 -0.2 0 -0.2-4.1 -0.2-4.9 -0.2-4.4 -0.2 40.6 -0.2 0 -0.2-1 -0.2 1 -0.2-1 -0.2 0.8 -0.2 0.2 -0.2 0 -0.2 0 -0.2 0 -0.2 0 -0.2 0 -0.2 0 -0.2 0 -0.2 0 -0.2 0 -0.2 0 -0.2 0 -0.2-0.3 -0.2 0.1 -0.2-0.5 -0.2 0.7 -0.3-0.8 -0.2 0 -0.2 0.8 -0.2-0.6 -0.2 0.6 -0.2 0 -0.2-0.6 -0.2 0.1 -0.2 0.5 -0.2 0 -0.2-0.4 -0.2 0.4 -0.2-0.2 -0.2 0.2 -0.2-0.2 -0.2 0.2 -0.2 0 -0.2-0.4 -0.2 0.2 -0.2 0 -0.2 0.1 -0.2-0.3 -0.2 0.4 -0.2-0.8 -0.2 0.8 -0.2 0 -0.2 0 -0.3-0.2 -0.2 0.2 -0.2-0.5 -0.2 0.5 -0.2-0.6 -0.2 0.6 -0.2-0.6 -0.2 0.3 -0.2 0.3 -0.2 0 -0.2 0 -0.2 0 -0.2 0 -0.2-0.1 -0.2 0.1 -0.2 0 -0.2 0 -0.2 0 -0.2-0.5 -0.2 0.4 -0.2-0.2 -0.2 0.3 -0.2-0.9 -0.2 0.9 -0.2-0.5 -0.2-0.1 -0.2 0.6 -0.2-0.6 -0.3 0.6 -0.2 0 -0.2 0 -0.2 0 -0.2 0 -0.2 0 -0.2 0 -0.2-0.1 -0.2 0.1 -0.2-0.3 -0.2 0.3 -0.2-0.2 -0.2 0.2 -0.2 0 -0.2-0.2 -0.2 0.2 -0.2-0.3 -0.2-0.5 -0.2-0.3 -0.2 1.1 -0.2 0 -0.2-0.6 -0.2 0.6 -0.2 0 -0.2 0 -0.2-0.2 -0.2 0.2 -0.2-0.2 -0.3-0.4 -0.2 0.6 -0.2 0 -0.2-0.4 -0.2-0.4 -0.2 0.8 -0.2 0 -0.2-0.3 -0.2 0.3 -0.2-0.9 -0.2 0 -0.2 0.8 -0.2 0.1 -0.2 0 -0.2 0 -0.2-0.1 -0.2 0.1 -0.2 0 -0.2 0 -0.2-1 -0.2 1 -0.2-0.4 -0.2 0.4 -0.2-0.4 -0.2-0.7 -0.2 0.9 -0.2-0.1 -0.3 0.3 -0.2 0 -0.2-0.2 -0.2 0.2 -0.2-0.6 -0.2 0.3 -0.2 0.1 -0.2 0.2 -0.2 0 -0.2 0 -0.2 0 -0.2-0.5 -0.2 0.5 -0.2 0 -0.2-0.9 -0.2 0.9 -0.2 0 -0.2-0.2 -0.2-0.2 -0.2-0.4 -0.2 0.5 -0.2 0 -0.2-0.8 -0.2 0.6 -0.2-0.5 -0.2 0.9 -0.2 0.1 -0.2-0.8 -0.3 0.8 -0.2 0 -0.2 0 -0.2-0.5 -0.2-0.3 -0.2-0.2 -0.2 1 -0.2-0.3 -0.2-0.2 -0.2-0.5 -0.2 0 -0.2 1 -0.2 0 -0.2 0 -0.2-0.5 -0.2 0.5 -0.2-0.6 -0.2 0.4 -0.2 0.2 -0.2-0.7 -0.2 0.7 -0.2-0.9 -0.2 0.4 -0.2 0.5 -0.2 0 -0.2 0 -0.2 0 -0.2-0.4 -0.3 0.4 -0.2 0 -0.2-0.2 -0.2 0.2 -0.2 0 -0.2 0 -0.2 0 -0.2 0 -0.2 0 -0.2-1.3 -0.2 1 -0.2 0.3 -0.2 0 -0.2 0z" stroke-width="0.9"/>
<path d="M117.6 269.5l0.2-1 0.2 1.3 0 0 -0.2 0 -0.2 0z M120.7 269.8l0.2-0.5 0.2-0.4 0.2 0.9 0 0 -0.2 0 -0.2 0 -0.2 0z M121.3 269.8l0.2-0.7 0.2 0.7 0 0 -0.2 0 -0.2 0z M121.9 269.6l0.2-0.4 0.2 0.6 0 0 -0.2 0 -0.2 0z M122.3 269.8l0.2-0.5 0.2 0.5 0 0 -0.2 0 -0.2 0z M123.1 269.8l0.2-1 0.2 0 0.2 0.5 0.2 0.2 0 0.3 -0.2 0 -0.2 0 -0.2 0 -0.2 0z M124.1 269.8l0.2-1 0.2 0.2 0.2 0.3 0.2 0.5 0 0 -0.2 0 -0.2 0 -0.2 0 -0.2 0z M125.3 269.8l0.3-0.8 0.2 0.8 0 0 -0.2 0 -0.3 0z M126 269.7l0.2-0.9 0.2 0.5 0.2-0.6 0.2 0.8 0 0.3 -0.2 0 -0.2 0 -0.2 0 -0.2 0z M127 269.5l0.2-0.5 0.2 0.4 0 0.4 -0.2 0 -0.2 0z M128 269.8l0.2-0.9 0.2 0.9 0 0 -0.2 0 -0.2 0z M128.6 269.8l0.2-0.5 0.2 0.5 0 0 -0.2 0 -0.2 0z M130 269.5l0.2-0.3 0.2 0.6 0 0 -0.2 0 -0.2 0z M131.5 269.6l0.2-0.9 0.2 0.7 0 0.4 -0.2 0 -0.2 0z M132.5 269.8l0.2-1 0.2 1 0 0 -0.2 0 -0.2 0z M134.3 269.7l0.2-0.8 0.2 0 0.2 0.9 0 0 -0.2 0 -0.2 0 -0.2 0z M135.5 269.8l0.2-0.8 0.2 0.4 0 0.4 -0.2 0 -0.2 0z M136.3 269.8l0.2-0.6 0.3 0.4 0 0.2 -0.3 0 -0.2 0z M137.8 269.8l0.2-0.6 0.2 0.6 0 0 -0.2 0 -0.2 0z M138.4 269.8l0.2-1.1 0.2 0.3 0.2 0.5 0 0.3 -0.2 0 -0.2 0 -0.2 0z M142.2 269.8l0.3-0.6 0.2 0.6 0 0 -0.2 0 -0.3 0z M142.7 269.8l0.2-0.6 0.2 0.1 0.2 0.5 0 0 -0.2 0 -0.2 0 -0.2 0z M143.3 269.8l0.2-0.9 0.2 0.9 0 0 -0.2 0 -0.2 0z M144.1 269.7l0.2-0.4 0.2 0.5 0 0 -0.2 0 -0.2 0z M146.5 269.5l0.2-0.3 0.2 0.6 0 0 -0.2 0 -0.2 0z M146.9 269.8l0.2-0.6 0.2 0.6 0 0 -0.2 0 -0.2 0z M147.3 269.8l0.2-0.5 0.2 0.5 0 0 -0.2 0 -0.2 0z M148.6 269.8l0.2-0.8 0.2 0.8 0 0 -0.2 0 -0.2 0z M151.8 269.8l0.2-0.5 0.2-0.1 0.2 0.6 0 0 -0.2 0 -0.2 0 -0.2 0z M152.6 269.8l0.2-0.6 0.2 0.6 0 0 -0.2 0 -0.2 0z M153 269.8l0.2-0.8 0.2 0 0.3 0.8 0 0 -0.3 0 -0.2 0 -0.2 0z M153.7 269.8l0.2-0.7 0.2 0.5 0 0.2 -0.2 0 -0.2 0z M156.9 269.6l0.2-0.8 0.2 1 0 0 -0.2 0 -0.2 0z M157.3 269.8l0.2-1 0.2 1 0 0 -0.2 0 -0.2 0z M157.9 269.8l0.2-25.4 0.2 0 0.2 2.7 0.2-0.2 0.2 1.5 0.2 1.7 0.3 1.1 0.2 0.4 0.2 1.2 0.2 0.6 0.2 1.3 0.2 1.2 0.2 0.3 0.2 1.8 0.2-0.4 0.2 1.2 0.2 1.4 0.2 0.6 0.2 0.2 0.2 1.5 0.2-1.3 0.2 0.8 0.2 1.8 0.2 0 0.2-0.6 0.2 1.2 0.2 1.3 0.2 1.1 0.2 0.1 0.2-1.2 0.2 0.9 0.2 1.3 0.2-0.8 0.3 0.9 0.2 0.5 0.2 0.2 0.2 0.3 0.2-1 0.2 1.8 0 0 -0.2 0 -0.2 0 -0.2 0 -0.2 0 -0.2 0 -0.3 0 -0.2 0 -0.2 0 -0.2 0 -0.2 0 -0.2 0 -0.2 0 -0.2-0.9 -0.2-1.2 -0.2 0.6 -0.2 0 -0.2-1.7 -0.2-0.9 -0.2 1.3 -0.2-1.5 -0.2-0.2 -0.2-0.6 -0.2-1.4 -0.2-1.2 -0.2 0.4 -0.2-1.8 -0.2-0.3 -0.2-1.1 -0.2-1.4 -0.2-0.6 -0.2-1.2 -0.2-0.4 -0.3-1.1 -0.2-1.7 -0.2-1.5 -0.2 0.2 -0.2-2.7 -0.2 0 -0.2 20.9z M166.1 269.8l0.2-0.8 0.2 0.1 0.2 0.7 0 0 -0.2 0 -0.2 0 -0.2 0z M166.7 269.8l0.2-0.6 0.2 0.6 0 0 -0.2 0 -0.2 0z M171.6 269.8l0.2-53.8 0.2 2.7 0.2 2.6 0.2 2.3 0.2 2.8 0.2 2.8 0.2 1.2 0.2 3.6 0.2 2 0.2 0.7 0.2 4.2 0.2 0.8 0.2 2.2 0.2 2.9 0.2 1.3 0.2 0.7 0.2 3 0.2 0.7 0.2 0.8 0.2 2 0.2 1.1 0.2 1.8 0.3 1.1 0.2 1.2 0.2 0.9 0.2 0.5 0.2 1.3 0.2-0.2 0.2 1.8 0.2 1 0.2-0.3 0.2 2.2 0.2 1.2 0.2 0.1 0.2 0.8 0 0 -0.2 0 -0.2 0 -0.2 0 -0.2 0 -0.2 0 -0.2-0.5 -0.2-1.7 -0.2 0.1 -0.2-1.3 -0.2-0.5 -0.2-0.9 -0.2-1.2 -0.3-1.1 -0.2-1.8 -0.2-1.1 -0.2-2 -0.2-0.8 -0.2-0.7 -0.2-3 -0.2-0.7 -0.2-1.3 -0.2-2.9 -0.2-2.2 -0.2-0.8 -0.2-4.2 -0.2-0.7 -0.2-2 -0.2-3.6 -0.2-1.2 -0.2-2.8 -0.2-2.8 -0.2-2.3 -0.2-2.6 -0.2-2.7 -0.2 49.3z M188.9 269.8l0.2-0.8 0.2 0.8 0 0 -0.2 0 -0.2 0z M209.4 269.8l0.2-19 0.2 2.7 0.3 0.7 0.2 1 0.2 1.6 0.2 0.6 0.2 1 0.2 1.4 0.2 0.3 0.2 1.9 0.2 1.2 0.2 0.1 0.2 1.5 0.2 0 0.2 1 0.2 0.9 0.2 0.1 0.2 0.7 0.2 2.3 0 0 -0.2 0 -0.2 0 -0.2 0 -0.2 0 -0.2-0.5 -0.2 0 -0.2-1.5 -0.2-0.1 -0.2-1.2 -0.2-1.9 -0.2-0.3 -0.2-1.4 -0.2-1 -0.2-0.6 -0.2-1.6 -0.2-1 -0.3-0.7 -0.2-2.7 -0.2 14.5z M213.3 269.8l0.2-0.6 0.2 0.3 0 0.3 -0.2 0 -0.2 0z M245.9 269.8l0.2-50.5 0.2 1.6 0.2 5.1 0.2 3.1 0.2 0.6 0.2 2.5 0.2 2.6 0.2 1.6 0.2 3.1 0.2 1.6 0.2 1.6 0.2 2.4 0.2 1.3 0.2 2.1 0.2 1.1 0.2 1.7 0.3 2.8 0.2 0.1 0.2 2.2 0.2 1 0.2 1.7 0.2-0.4 0.2 1.8 0.2 1.1 0.2 0 0.2 1.3 0.2 1.5 0.2 2 0.2-0.8 0.2 1.4 0.2 0.8 0.2 0.1 0.2 1.5 0 0.4 -0.2 0 -0.2 0 -0.2 0 -0.2 0 -0.2 0 -0.2-0.9 -0.2-1.5 -0.2-1.3 -0.2 0 -0.2-1.1 -0.2-1.8 -0.2 0.4 -0.2-1.7 -0.2-1 -0.2-2.2 -0.2-0.1 -0.3-2.8 -0.2-1.7 -0.2-1.1 -0.2-2.1 -0.2-1.2 -0.2-2.5 -0.2-1.6 -0.2-1.6 -0.2-3.1 -0.2-1.6 -0.2-2.5 -0.2-2.6 -0.2-0.6 -0.2-3.1 -0.2-5.1 -0.2-1.6 -0.2 46z M271.1 269.8l0.2-22.2 0.2 1.5 0.2 1.5 0.3 0.5 0.2 2.4 0.2 0.6 0.2 1.4 0.2 2.1 0.2 0.5 0.2 1.9 0.2 0.5 0.2 0.5 0.2 1.6 0.2 1.3 0.2 0.6 0.2 0.7 0.2 0.6 0.2 2.3 0.2 0.5 0.2-0.7 0.2 1.1 0.2 0.6 0 0.2 -0.2 0 -0.2 0 -0.2 0 -0.2 0 -0.2 0 -0.2 0 -0.2-0.8 -0.2-0.6 -0.2-1.3 -0.2-1.6 -0.2-0.5 -0.2-0.5 -0.2-1.9 -0.2-0.5 -0.2-2.1 -0.2-1.4 -0.2-0.6 -0.2-2.4 -0.3-0.5 -0.2-1.5 -0.2-1.5 -0.2 17.7z M335.1 269.8l0.2-2.9 0.2-1.2 0.2 0.1 0.2 0.6 0.2 0.8 0.2-0.4 0.2 0 0.2-0.5 0.2 0.7 0.2 0.5 0.2 0.7 0.2 1 0.2-0.4 0.2 0.8 0 0.2 -0.2 0 -0.2 0 -0.2 0 -0.2 0 -0.2 0 -0.2 0 -0.2 0 -0.2 0 -0.2 0 -0.2 0 -0.2 0 -0.2 0 -0.2 0 -0.2 0z M337.9 269.6l0.2-0.6 0.2-0.5 0.2 0.2 0.2 0.2 0.2 0.7 0 0.2 -0.2 0 -0.2 0 -0.2 0 -0.2 0 -0.2 0z M338.9 269.6l0.2-0.4 0.3 0.6 0 0 -0.3 0 -0.2 0z M370.3 269.8l0.2-25.1 0.2 0.8 0.2 1.7 0.2 1 0.2 1 0.2 0.7 0.2 1.5 0.2 1 0.2 0.4 0.2 1 0.2 2 0.2 1.8 0.2 0.3 0.3-0.4 0.2 1.7 0.2 0.9 0.2 0.6 0.2-0.5 0.2 1.6 0.2 0.9 0.2 0.8 0.2 0.8 0.2-1.8 0.2 2.2 0.2 0.4 0.2 0.8 0.2-0.4 0.2 1.7 0.2 1 0.2-0.4 0.2-0.2 0.2-0.8 0.2 1.8 0.2 0.8 0 0.4 -0.2 0 -0.2 0 -0.2 0 -0.2 0 -0.2 0 -0.2 0 -0.2 0 -0.2 0 -0.2-0.2 -0.2-0.4 -0.2-2.2 -0.2 1.8 -0.2-0.8 -0.2-0.8 -0.2-0.9 -0.2-1.6 -0.2 0.5 -0.2-0.6 -0.2-0.9 -0.2-1.7 -0.3 0.5 -0.2-0.4 -0.2-1.8 -0.2-2 -0.2-1 -0.2-0.4 -0.2-1 -0.2-1.5 -0.2-0.7 -0.2-1 -0.2-1 -0.2-1.7 -0.2-0.8 -0.2 20.6z" stroke-width="1.2"/>
<line x1="158" y1="269.8" x2="158" y2="200.11" stroke="#ff0000" stroke-width="1.7"/>
<line x1="171.75" y1="269.8" x2="171.75" y2="129.81" stroke="#ff0000" stroke-width="1.7"/>
<line x1="188.94" y1="269.8" x2="188.94" y2="233" stroke="#ff0000" stroke-width="1.7"/>
<line x1="209.57" y1="269.8" x2="209.57" y2="199.21" stroke="#ff0000" stroke-width="1.7"/>
<line x1="246.08" y1="269.8" x2="246.08" y2="137.62" stroke="#ff0000" stroke-width="1.7"/>
<line x1="271.2" y1="269.8" x2="271.2" y2="185.09" stroke="#ff0000" stroke-width="1.7"/>
<line x1="335.21" y1="269.8" x2="335.21" y2="244.57" stroke="#ff0000" stroke-width="1.7"/>
<line x1="370.39" y1="269.8" x2="370.39" y2="198.15" stroke="#ff0000" stroke-width="1.7"/>
</g>
<rect x="525.5" y="49.85" width="443.0" height="220.75000000000003" fill="none" stroke="#c0c0c0" stroke-width="1"/>
<line x1="525.5" y1="270.6" x2="530" y2="270.6" stroke="#c0c0c0" stroke-width="1"/>
<line x1="968.5" y1="270.6" x2="964" y2="270.6" stroke="#c0c0c0" stroke-width="1"/>
<text x="503.54" y="281.4" font-size="27" style="font-kerning:none">0</text>
<line x1="525.5" y1="163.05" x2="530" y2="163.05" stroke="#c0c0c0" stroke-width="1"/>
<line x1="968.5" y1="163.05" x2="964" y2="163.05" stroke="#c0c0c0" stroke-width="1"/>
<text x="458.49" y="173.85" font-size="27" style="font-kerning:none">2000</text>
<line x1="525.5" y1="55.5" x2="530" y2="55.5" stroke="#c0c0c0" stroke-width="1"/>
<line x1="968.5" y1="55.5" x2="964" y2="55.5" stroke="#c0c0c0" stroke-width="1"/>
<text x="458.49" y="66.3" font-size="27" style="font-kerning:none">4000</text>
<line x1="646.32" y1="270.6" x2="646.32" y2="266.1" stroke="#c0c0c0" stroke-width="1"/>
<line x1="646.32" y1="49.85" x2="646.32" y2="54.35" stroke="#c0c0c0" stroke-width="1"/>
<text x="623.78" y="304.5" font-size="27" style="font-kerning:none">500</text>
<line x1="780.56" y1="270.6" x2="780.56" y2="266.1" stroke="#c0c0c0" stroke-width="1"/>
<line x1="780.56" y1="49.85" x2="780.56" y2="54.35" stroke="#c0c0c0" stroke-width="1"/>
<text x="750.03" y="304.5" font-size="27" style="font-kerning:none">1000</text>
<line x1="914.8" y1="270.6" x2="914.8" y2="266.1" stroke="#c0c0c0" stroke-width="1"/>
<line x1="914.8" y1="49.85" x2="914.8" y2="54.35" stroke="#c0c0c0" stroke-width="1"/>
<text x="884.27" y="304.5" font-size="27" style="font-kerning:none">1500</text>
<text x="667.07" y="340.7" font-size="30" style="font-kerning:none">Energy (eV)</text>
<text transform="translate(450.6 159.9) rotate(-90)" x="-47.75" y="0" font-size="30.0" style="font-kerning:none">Counts</text>
<line x1="844.8" y1="71.1" x2="861" y2="71.1" stroke="#000" stroke-width="1.6"/>
<text x="861.51" y="81.6" font-size="27" style="font-kerning:none">Ideal</text>
<line x1="844.8" y1="104.5" x2="861" y2="104.5" stroke="#ff0000" stroke-width="1.6"/>
<text x="862.25" y="115.1" font-size="27" style="font-kerning:none">Analysis</text>
<clipPath id="rc0"><rect x="525.5" y="49.85" width="443.0" height="220.75000000000003"/></clipPath>
<g clip-path="url(#rc0)" fill="none" stroke-width="1.6" stroke-linejoin="round">
<path d="M525.5 230l0.1-0.6 0.2-0.5 0.1-0.6 0.1 1.2 0.2 1.6 0.1 1.6 0.1-0.4 0.2-1.7 0.1-1.7 0.1-0.6 0.2 0.8 0.1 0.9 0.1 0.7 0.2 0.4 0.1 0.3 0.1 0.4 0.2 0 0.1 0 0.2 0 0.1 0.1 0.1 0.1 0.2 0.2 0.1-0.2 0.1-0.4 0.2-0.4 0.1-0.5 0.1-0.5 0.2-0.5 0.1-0.4 0.1 0.1 0.2 0.2 0.1 0.1 0.1 0 0.2-0.1 0.1 0 0.1 0.9 0.2 1.1 0.1 1.2 0.1 0.4 0.2-0.1 0.1-0.1 0.1-0.6 0.2-1.5 0.1-1.5 0.1-1.1 0.2 0.2 0.1 0.3 0.1 0.3 0.2-0.6 0.1-0.6 0.1-0.5 0.2 0.2 0.1 0.5 0.2 0.5 0.1 0.8 0.1 1.1 0.2 1.1 0.1 0.1 0.1-1.1 0.2-1.1 0.1-0.8 0.1 0.3 0.2 0.3 0.1 0.4 0.1 0.2 0.2 0.2 0.1 0.2 0.1 0.4 0.2 0.5 0.1 0.5 0.1-0.1 0.2-0.3 0.1-0.4 0.1-0.2 0.2 0 0.1 0.1 0.1 0 0.2-0.5 0.1-0.5 0.1-0.5 0.2 0.4 0.1 0.3 0.1 0.4 0.2-0.5 0.1-0.7 0.1-0.7 0.2 0.4 0.1 1.2 0.2 1.1 0.1 0.4 0.1-0.6 0.2-0.6 0.1-0.5 0.1 0 0.2 0 0.1 0 0.1 0.7 0.2 0.6 0.1 0.7 0.1 0.2 0.2 0.2 0.1 0.1 0.1-0.6 0.2-1 0.1-1.1 0.1-0.5 0.2 0.3 0.1 0.2 0.1 0.3 0.2 0.3 0.1 0.3 0.1 0.3 0.2-0.2 0.1-0.3 0.1-0.3 0.2 0.4 0.1 0.5 0.1 0.5 0.2 0 0.1-0.5 0.1-0.4 0.2-0.1 0.1 0.4 0.2 0.4 0.1 0.2 0.1-0.3 0.2-0.4 0.1-0.4 0.1-0.4 0.2-0.4 0.1-0.3 0.1 0.4 0.2 0.7 0.1 0.6 0.1-0.1 0.2-0.6 0.1-0.6 0.1 0.1 0.2 0.9 0.1 0.9 0.1 0.6 0.2-0.3 0.1-0.4 0.1-0.3 0.2 0.5 0.1 0.5 0.1 0.6 0.2-0.5 0.1-0.6 0.1-0.6 0.2-0.3 0.1 0 0.1-0.1 0.2 0 0.1 0.1 0.1 0.2 0.2 0.1 0.1 0 0.2 0 0.1 0 0.1-0.7 0.2-0.8 0.1-0.8 0.1-0.1 0.2-0.1 0.1 0 0.1 0.8 0.2 1.3 0.1 1.2 0.1 0.2 0.2-1.1 0.1-1.2 0.1-0.5 0.2 1.4 0.1 1.4 0.1 1.3 0.2-0.5 0.1-0.4 0.1-0.5 0.2-0.3 0.1-0.3 0.1-0.3 0.2-0.1 0.1-0.2 0.1-0.1 0.2 0.2 0.1 0.5 0.1 0.6 0.2 0.4 0.1-0.2 0.1-0.1 0.2-0.2 0.1-0.4 0.2-0.4 0.1-0.4 0.1 0.3 0.2 0.4 0.1 0.3 0.1 0.2 0.2-0.1 0.1 0 0.1-0.3 0.2-0.6 0.1-0.6 0.1-0.5 0.2-0.2 0.1-0.1 0.1-0.1 0.2 0.5 0.1 0.5 0.1 0.5 0.2 0 0.1-0.1 0.1 0 0.2 0 0.1 0 0.1 0.1 0.2 0.1 0.1 0.2 0.1 0.2 0.2 0.1 0.1 0.1 0.1 0 0.2 0 0.1 0.3 0.1 0.3 0.2 0.2 0.1-0.7 0.2-0.8 0.1-0.8 0.1 0 0.2 0.3 0.1 0.4 0.1 0.2 0.2 0 0.1 0.1 0.1-0.1 0.2-0.1 0.1-0.2 0.1-0.2 0.2-0.2 0.1-0.2 0.1-0.2 0.2-0.6 0.1-0.7 0.1-0.9 0.2-0.3 0.1 0 0.1-0.3 0.2-0.8 0.1-1.1 0.1-0.9 0.2-0.7 0.1-0.5 0.1 0 0.2 0.5 0.1 1.5 0.1 1.7 0.2 1.7 0.1 0.3 0.1-0.2 0.2-0.4 0.1 0.3 0.2 0.4 0.1 0.3 0.1 0.3 0.2 0.1 0.1 0.2 0.1 0.2 0.2 0.4 0.1 0.3 0.1 0.4 0.2-0.4 0.1-0.4 0.1-0.5 0.2-0.1 0.1-0.2 0.1-0.1 0.2 0.1 0.1 0.3 0.1 0.2 0.2 0.4 0.1 0.3 0.1 0.4 0.2 0.5 0.1 0.6 0.1 0.7 0.2 0.5 0.1-1.2 0.1-1.3 0.2-1.2 0.1 0.4 0.1 0.6 0.2 0.6 0.1 0.4 0.1 0.2 0.2 0.2 0.1-0.2 0.2-0.9 0.1-0.8 0.1-0.5 0.2 0.3 0.1 0.2 0.1 0.4 0.2 0.8 0.1 0.8 0.1 0.9 0.2-0.5 0.1-0.6 0.1-0.6 0.2-0.2 0.1 0.1 0.1 0.1 0.2-0.3 0.1-0.6 0.1-0.6 0.2 0 0.1 1.4 0.1 1.4 0.2 1.2 0.1-0.7 0.1-0.8 0.2-0.7 0.1-0.2 0.1-0.1 0.2-0.1 0.1-0.5 0.1-0.8 0.2-0.7 0.1 0.2 0.1 1.2 0.2 1.2 0.1 1.1 0.2 0.9 0.1 0.9 0.1 0.7 0.2-0.7 0.1-0.8 0.1-0.7 0.2-0.8 0.1-0.8 0.1-0.7 0.2-0.5 0.1-0.2 0.1-0.3 0.2-0.3 0.1-0.4 0.1-0.5 0.2-0.1 0.1 0.7 0.1 0.6 0.2 0.6 0.1 0.6 0.1 0.6 0.2 0.6 0.1-0.7 0.1-0.8 0.2-0.8 0.1 0.1 0.1 0.4 0.2 0.5 0.1 0.2 0.1 0.1 0.2 0.1 0.1 0.1 0.1-0.1 0.2-0.1 0.1-0.2 0.2-0.6 0.1-0.6 0.1-0.6 0.2 0.9 0.1 1.1 0.1 1 0.2 0.4 0.1 0 0.1 0.1 0.2-0.2 0.1-0.4 0.1-0.5 0.2-0.3 0.1 0 0.1 0 0.2 0 0.1 0.4 0.1 0.3 0.2 0.3 0.1 0 0.1 0 0.2-0.1 0.1-0.6 0.1-0.8 0.2-0.8 0.1-0.8 0.1-0.7 0.2-0.8 0.1-0.6 0.1-0.2 0.2-0.1 0.1-0.2 0.1-0.4 0.2-0.4 0.1-0.4 0.2-0.6 0.1-0.5 0.1-0.5 0.2 0.9 0.1 1.5 0.1 1.6 0.2 0.8 0.1 0.1 0.1 0.1 0.2 0.1 0.1 0.1 0.1 0.1 0.2 0.2 0.1 0.7 0.1 0.7 0.2 0.7 0.1 0.3 0.1 0.3 0.2 0.2 0.1-0.1 0.1-0.2 0.2-0.3 0.1 0.3 0.1 0.8 0.2 0.7 0.1 0.4 0.1-0.3 0.2-0.3 0.1-0.2 0.1 0.8 0.2 0.8 0.1 0.8 0.1-0.3 0.2-0.5 0.1-0.5 0.2-0.8 0.1-1.1 0.1-1 0.2 0 0.1 0.9 0.1 0.9 0.2 0.5 0.1-0.3 0.1-0.4 0.2-0.3 0.1-0.1 0.1-0.2 0.2-0.1 0.1 0.6 0.1 0.6 0.2 0.6 0.1-0.2 0.1-0.4 0.2-0.5 0.1-0.1 0.1 0.3 0.2 0.2 0.1 0.1 0.1-0.2 0.2-0.1 0.1-0.1 0.1 0.7 0.2 0.7 0.1 0.6 0.1 0.5 0.2 0.4 0.1 0.4 0.1 0 0.2-0.1 0.1-0.2 0.2-0.1 0.1-0.2 0.1-0.2 0.2-0.4 0.1-0.5 0.1-0.6 0.2-0.6 0.1 0.1 0.1 0.1 0.2-0.1 0.1-0.4 0.1-0.6 0.2-0.6 0.1-1 0.1-1.1 0.2-1.2 0.1-1.6 0.1-1.9 0.2-1.9 0.1-1.4 0.1-0.5 0.2-0.4 0.1-0.5 0.1-1.8 0.2-1.5 0.1-1.2 0.1 1.1 0.2 1.4 0.1 1.8 0.1 0.9 0.2 0.7 0.1 1 0.1 0.8 0.2 0.8 0.1 0.9 0.2 1.1 0.1 1.6 0.1 1.5 0.2 1.4 0.1 1.7 0.1 1.6 0.2 1.5 0.1 0.5 0.1 0.3 0.2 0.2 0.1 0.5 0.1 0.6 0.2 0.6 0.1-0.1 0.1-0.5 0.2-0.5 0.1-0.2 0.1 0.2 0.2 0.2 0.1 0.3 0.1 0.7 0.2 0.6 0.1 0.6 0.1-0.4 0.2-0.4 0.1-0.4 0.1 0.2 0.2 0.4 0.1 0.3 0.1 0.2 0.2-0.1 0.1-0.1 0.1 0 0.2 0 0.1 0 0.2 0 0.1 0.4 0.1 0.3 0.2 0.3 0.1-0.3 0.1-0.4 0.2-0.4 0.1 0 0.1 0 0.2 0 0.1 0.1 0.1 0 0.2 0.1 0.1-0.1 0.1-0.2 0.2-0.2 0.1-0.1 0.1 0.6 0.2 0.6 0.1 0.6 0.1 0.6 0.2 0.5 0.1 0.5 0.1-0.1 0.2-0.4 0.1-0.4 0.1-0.3 0.2-0.2 0.1-0.3 0.1-0.1 0.2 0.1 0.1 0.1 0.1 0 0.2-0.2 0.1-0.2 0.1-0.2 0.2 0 0.1-0.1 0.2-0.1 0.1 0.3 0.1 0.4 0.2 0.4 0.1 0.2 0.1 0 0.2-0.1 0.1 0.1 0.1 0.2 0.2 0.2 0.1-0.2 0.1-1.3 0.2-1.4 0.1-1.7 0.1-0.7 0.2-1 0.1-1.3 0.1-1.8 0.2-2.3 0.1-2.6 0.1-3.1 0.2-3.4 0.1-3.4 0.1-3.4 0.2-3.2 0.1-2.7 0.1-2.2 0.2-1.8 0.1-0.9 0.1-0.1 0.2 1.9 0.1 2.6 0.1 3.2 0.2 4.2 0.1 4.5 0.2 4.6 0.1 3.6 0.1 2.6 0.2 2.4 0.1 2.1 0.1 2.1 0.2 1.7 0.1 1.3 0.1 1 0.2 0.7 0.1 0.5 0.1 0.6 0.2 0.4 0.1 0.3 0.1 0.5 0.2 0.5 0.1 0.5 0.1-0.1 0.2-0.3 0.1-0.4 0.1-0.1 0.2 0.4 0.1 0.4 0.1 0.5 0.2 0.6 0.1 0.7 0.1 0.7 0.2-0.6 0.1-0.6 0.1-0.6 0.2-0.1 0.1 0 0.1 0 0.2-0.3 0.1-0.6 0.2-0.7 0.1-0.3 0.1-0.1 0.2 0 0.1 0.1 0.1 0.9 0.2 0.8 0.1 0.8 0.1-0.4 0.2-0.5 0.1-0.4 0.1-0.1 0.2 0.1 0.1 0 0.1 0.4 0.2 0.6 0.1 0.6 0.1 0.4 0.2 0.3 0.1 0.2 0.1 0.1 0.2-0.7 0.1-0.8 0.1-0.7 0.2-0.1 0.1-0.1 0.1 0 0.2 0.2 0.1 0.3 0.1 0.3 0.2 0.6 0.1 0.8 0.1 0.8 0.2 0.1 0.1-1 0.2-1 0.1-0.8 0.1 0.3 0.2 0.2 0.1 0.2 0.1 0.1 0.2 0.2 0.1 0.1 0.1-0.1 0.2-0.2 0.1-0.2 0.1 0.1 0.2 0.3 0.1 0.3 0.1-0.1 0.2-0.6 0.1-0.6 0.1-0.5 0.2 0.3 0.1 0.2 0.1 0.2 0.2 0.2 0.1 0.3 0.1 0.2 0.2-0.2 0.1-0.3 0.1-0.3 0.2-0.1 0.1 0.2 0.1 0.1 0.2 0.3 0.1 0.6 0.1 0.6 0.2 0.3 0.1-0.5 0.2-0.5 0.1-0.5 0.1 0.1 0.2 0.2 0.1 0.1 0.1 0.4 0.2 0.5 0.1 0.5 0.1 0 0.2-0.4 0.1-0.4 0.1-0.4 0.2-0.4 0.1-0.4 0.1-0.2 0.2 0.4 0.1 0.4 0.1 0.4 0.2-0.8 0.1-0.7 0.1-0.8 0.2-0.2 0.1-0.1 0.1-0.1 0.2 0.4 0.1 0.8 0.1 0.8 0.2 0.3 0.1-0.3 0.1-0.3 0.2-0.4 0.1-0.5 0.1-0.5 0.2-0.5 0.1 0.9 0.2 0.8 0.1 0.9 0.1 0.4 0.2 0.2 0.1 0.2 0.1 0 0.2-0.2 0.1-0.1 0.1 0 0.2 0.4 0.1 0.4 0.1 0.2 0.2 0.1 0.1 0 0.1-0.1 0.2-0.5 0.1-0.6 0.1-0.6 0.2 0.1 0.1 0.3 0.1 0.2 0.2 0 0.1-0.3 0.1-0.2 0.2-0.2 0.1 0 0.1-0.1 0.2 0 0.1 0.5 0.1 0.5 0.2 0.4 0.1-0.2 0.1-0.2 0.2-0.2 0.1 0 0.2 0.1 0.1 0 0.1 0.1 0.2 0.2 0.1 0.2 0.1 0.1 0.2 0.1 0.1 0 0.1 0 0.2-0.4 0.1-0.5 0.1-0.3 0.2 0.1 0.1 0.2 0.1 0.2 0.2-0.1 0.1-0.2 0.1-0.1 0.2-0.2 0.1-0.3 0.1-0.2 0.2-0.1 0.1 0 0.1 0 0.2 0.2 0.1 0.8 0.1 0.8 0.2 0.7 0.1-0.1 0.1 0 0.2-0.1 0.1-0.2 0.1-0.2 0.2-0.2 0.1-0.2 0.2-0.1 0.1-0.2 0.1-0.2 0.2-0.2 0.1-0.3 0.1-0.1 0.2 0.7 0.1 0.8 0.1 0.6 0.2-0.2 0.1-0.1 0.1-0.2 0.2-0.3 0.1-0.2 0.1-0.2 0.2-0.4 0.1-0.3 0.1-0.4 0.2-0.2 0.1 0 0.1-0.1 0.2 0.2 0.1 0.9 0.1 0.9 0.2 0.8 0.1-0.2 0.1-0.3 0.2-0.3 0.1 0.2 0.1 0.2 0.2 0.2 0.1-0.3 0.1-0.6 0.2-0.6 0.1-0.2 0.2 0.1 0.1 0.2 0.1 0.2 0.2 0.3 0.1 0.3 0.1 0.3 0.2 0.1 0.1 0.1 0.1 0.1 0.2-0.3 0.1-0.3 0.1-0.3 0.2-0.3 0.1-0.2 0.1-0.3 0.2 0.2 0.1 0.7 0.1 0.6 0.2 0.4 0.1-0.1 0.1-0.2 0.2-0.1 0.1-0.2 0.1-0.1 0.2-0.2 0.1 0.1 0.1 0 0.2 0 0.1 0 0.1-0.1 0.2-0.2 0.1 0.2 0.1 0.4 0.2 0.4 0.1 0.2 0.2-0.3 0.1-0.5 0.1-0.5 0.2 0.1 0.1-0.1 0.1-0.1 0.2-1.3 0.1-1.5 0.1-1.4 0.2-0.9 0.1-0.7 0.1-0.4 0.2 0.6 0.1 1.5 0.1 1.7 0.2 1.4 0.1 0.2 0.1 0.2 0.2 0.1 0.1 0 0.1-0.1 0.2-0.2 0.1 0.5 0.1 0.6 0.2 0.5 0.1 0.6 0.1 0.7 0.2 0.7 0.1-0.2 0.1-1.1 0.2-1.1 0.1-0.5 0.1 0.9 0.2 1 0.1 0.8 0.2-1 0.1-1 0.1-1 0.2 0.5 0.1 0.7 0.1 0.7 0.2 0.3 0.1 0 0.1 0.1 0.2-0.1 0.1-0.3 0.1-0.2 0.2-0.2 0.1 0 0.1 0.1 0.2 0 0.1-0.2 0.1-0.3 0.2-0.2 0.1 0 0.1 0.1 0.2 0 0.1 0.2 0.1 0.2 0.2 0.3 0.1-0.2 0.1-0.6 0.2-0.7 0.1-0.6 0.1-0.1 0.2-0.2 0.1-0.3 0.1-0.4 0.2-0.3 0.1-0.3 0.2-0.2 0.1 0 0.1 0.2 0.2 0.5 0.1 0.6 0.1 0.7 0.2 0.6 0.1 0.4 0.1 0.4 0.2 0.2 0.1-0.1 0.1-0.1 0.2-0.2 0.1 0.2 0.1 0.1 0.2 0 0.1 0.2 0.1 0.2 0.2 0.1 0.1-0.2 0.1-0.3 0.2-0.3 0.1 0 0.1 0.5 0.2 0.5 0.1 0.2 0.1-0.2 0.2-0.3 0.1-0.2 0.1-0.1 0.2-0.2 0.1-0.1 0.1 0.6 0.2 0.7 0.1 0.7 0.2-0.1 0.1-0.5 0.1-0.7 0.2-1.1 0.1-1.7 0.1-2.2 0.2-2.2 0.1-1.7 0.1-1.9 0.2-2.1 0.1-3 0.1-2.2 0.2-1 0.1 1.7 0.1 2.8 0.2 3.5 0.1 2.7 0.1 2.2 0.2 1.8 0.1 1.8 0.1 1.7 0.2 1.3 0.1 0.8 0.1 0.1 0.2-0.1 0.1-0.1 0.1 0 0.2-0.1 0.1 0 0.1 0 0.2 0.1 0.1 0 0.1-0.3 0.2-0.6 0.1-0.5 0.2-0.2 0.1 0 0.1 0.1 0.2 0.1 0.1 0 0.1 0 0.2 0 0.1 0.2 0.1 0.3 0.2 0.2 0.1-0.4 0.1-0.5 0.2-0.5 0.1 0 0.1 0.2 0.2 0.2 0.1 0.3 0.1 0.2 0.2 0.3 0.1 0.3 0.1 0.5 0.2 0.5 0.1 0.4 0.1-0.6 0.2-0.6 0.1-0.6 0.1-0.1 0.2 0.1 0.1 0 0.1 0.1 0.2 0.2 0.1 0.1 0.1-0.1 0.2-0.4 0.1-0.5 0.2-0.6 0.1-0.7 0.1-0.9 0.2-1 0.1-0.8 0.1-0.7 0.2-0.5 0.1-0.7 0.1-0.4 0.2 0.1 0.1 0.7 0.1 1.1 0.2 1.2 0.1 1.2 0.1 1 0.2 0.7 0.1 0.7 0.1 0.6 0.2 0.4 0.1 0.4 0.1 0.1 0.2 0.1 0.1 0 0.1-0.1 0.2-0.2 0.1-0.2 0.1-0.4 0.2-0.4 0.1-0.5 0.1-0.4 0.2-0.3 0.1-0.3 0.1 0.1 0.2 1 0.1 0.9 0.2 0.9 0.1 0.2 0.1 0.3 0.2 0.2 0.1-0.2 0.1-0.2 0.2-0.3 0.1 0.1 0.1 0.2 0.2 0.2 0.1 0 0.1-0.2 0.2-0.1 0.1-0.2 0.1-0.3 0.2-0.2 0.1-0.2 0.1 0.5 0.2 0.4 0.1 0.5 0.1-0.5 0.2-0.5 0.1-0.5 0.1-0.2 0.2-0.1 0.1 0 0.1-0.2 0.2-0.2 0.1-0.3 0.1-0.2 0.2-0.1 0.1-0.1 0.1 0 0.2 0.3 0.1 0.3 0.2 0.3 0.1-0.4 0.1-0.4 0.2-0.5 0.1 0.6 0.1 1 0.2 1 0.1 0.3 0.1-0.3 0.2-0.3 0.1-0.1 0.1 0 0.2 0.1 0.1 0 0.1-0.1 0.2-0.1 0.1-0.1 0.1-0.1 0.2-0.2 0.1-0.2 0.1 0.3 0.2 0.4 0.1 0.5 0.1-0.2 0.2-0.7 0.1-0.7 0.1-0.3 0.2 0.1 0.1 0.2 0.1 0.2 0.2 0.3 0.1 0.3 0.1 0.3 0.2 0 0.1 0 0.2-0.1 0.1 0.4 0.1 0.5 0.2 0.4 0.1 0.4 0.1 0.4 0.2 0.3 0.1-0.2 0.1-1.1 0.2-1.1 0.1-1 0.1-0.4 0.2-0.3 0.1-0.1 0.1 0.1 0.2 0.3 0.1 0.3 0.1 0.7 0.2 0.7 0.1 0.8 0.1 0.3 0.2-0.1 0.1-0.1 0.1-0.4 0.2-0.7 0.1-0.7 0.1-0.5 0.2 0.3 0.1 0.4 0.1 0.3 0.2 0.1 0.1 0 0.1 0.1 0.2 0.2 0.1 0.4 0.2 0.3 0.1-0.1 0.1-0.3 0.2-0.4 0.1-0.3 0.1-0.1 0.2-0.2 0.1-0.1 0.1 0.1 0.2 0.2 0.1 0.2 0.1 0.4 0.2 0.4 0.1 0.4 0.1-0.1 0.2-0.2 0.1-0.2 0.1 0.1 0.2 0.4 0.1 0.4 0.1 0.2 0.2-0.2 0.1-0.2 0.1-0.2 0.2-0.3 0.1-0.3 0.1-0.3 0.2 0.4 0.1 0.4 0.1 0.4 0.2 0 0.1-0.1 0.1-0.1 0.2-0.4 0.1-0.5 0.2-0.6 0.1-0.1 0.1 0.5 0.2 0.6 0.1 0.4 0.1-0.4 0.2-0.3 0.1-0.3 0.1 0.4 0.2 0.3 0.1 0.4 0.1 0.3 0.2 0.3 0.1 0.3 0.1-0.1 0.2-0.4 0.1-0.4 0.1-0.2 0.2 0.2 0.1 0.1 0.1 0.2 0.2 0.6 0.1 0.5 0.1 0.6 0.2-0.3 0.1-0.2 0.1-0.3 0.2-0.2 0.1-0.3 0.1-0.3 0.2-0.4 0.1-0.7 0.1-0.6 0.2-0.1 0.1 0.7 0.2 0.7 0.1 0.5 0.1-0.2 0.2-0.1 0.1-0.2 0.1-0.2 0.2-0.3 0.1-0.2 0.1 0.1 0.2 0.1 0.1 0.1 0.1 0.2 0.2 0.2 0.1 0.2 0.1-0.2 0.2-0.7 0.1-0.8 0.1-0.7 0.2-0.1 0.1-0.1 0.1-0.2 0.2 0.9 0.1 0.8 0.1 0.8 0.2-1 0.1-1.6 0.1-1.4 0.2-0.5 0.1 0.1 0.1 0.3 0.2 0.3 0.1 0.2 0.1 0.3 0.2 0.4 0.1 0.8 0.2 0.7 0.1 0.6 0.1 0 0.2 0 0.1-0.1 0.1-0.2 0.2-0.3 0.1-0.3 0.1-0.1 0.2 0.1 0.1 0.1 0.1 0 0.2 0 0.1 0 0.1 0 0.2 0.3 0.1 0.2 0.1 0.3 0.2 0 0.1 0.1 0.1 0 0.2 0 0.1 0 0.1 0 0.2 0.5 0.1 0.7 0.1 0.6 0.2 0 0.1-1.1 0.1-1.1 0.2-0.8 0.1 0.7 0.1 0.7 0.2 0.6 0.1 0 0.2 0 0.1 0 0.1 0 0.2 0.1 0.1 0.1 0.1-0.1 0.2-0.1 0.1-0.1 0.1 0.3 0.2 0.9 0.1 0.8 0.1 0.6 0.2-0.8 0.1-0.8 0.1-0.8 0.2 0.6 0.1 0.5 0.1 0.5 0.2 0 0.1-0.1 0.1-0.1 0.2 0.1 0.1 0.3 0.1 0.3 0.2 0.2 0.1-0.1 0.1 0 0.2-0.2 0.1-0.7 0.1-0.8 0.2-0.7 0.1 0.3 0.1 0.4 0.2 0.3 0.1 0 0.2-0.1 0.1-0.1 0.1-0.1 0.2 0.1 0.1 0 0.1 0.1 0.2 0.4 0.1 0.3 0.1 0.2 0.2-0.1 0.1-0.2 0.1-0.1 0.2 0.2 0.1 0.2 0.1 0.2 0.2-0.3 0.1-0.3 0.1-0.3 0.2 0.3 0.1 0.7 0.1 0.6 0.2 0.1 0.1-0.6 0.1-0.6 0.2-0.6 0.1-0.4 0.1-0.4 0.2-0.4 0.1-0.1 0.1-0.1 0.2-0.1 0.1 0 0.1 0 0.2 0.1 0.1 0.1 0.2 0.2 0.1 0.2 0.1 0.4 0.2 0.5 0.1 0.5 0.1 0.2 0.2-0.6 0.1-0.6 0.1-0.6 0.2 0.1 0.1 0.1 0.1 0.2 0.2 0.1 0.1 0.1 0.1 0 0.2 0.4 0.1 0.5 0.1 0.5 0.2 0 0.1-0.5 0.1-0.5 0.2-0.5 0.1-0.3 0.1-0.4 0.2-0.3 0.1 0.2 0.1 0.3 0.2 0.2 0.1 0.3 0.1 0.3 0.2 0.4 0.1-0.1 0.1-0.2 0.2-0.3 0.1 0 0.2 0.1 0.1 0.2 0.1 0.1 0.2 0 0.1-0.1 0.1 0 0.2-0.2 0.1-0.3 0.1-0.2 0.2 0.1 0.1 0.2 0.1 0.2 0.2 0.1 0.1 0.1 0.1 0.1 0.2 0 0.1-0.1 0.1-0.1 0.2 0 0.1 0.4 0.1 0.4 0.2 0.4 0.1 0.1 0.1 0 0.2 0.1 0.1-0.4 0.1-0.5 0.2-0.5 0.1 0.1 0.1 0.4 0.2 0.3 0.1 0 0.1-0.3 0.2-0.4 0.1-0.1 0.2 0.8 0.1 0.8 0.1 0.7 0.2-1 0.1-1 0.1-1 0.2 0.2 0.1 0.5 0.1 0.4 0.2-0.2 0.1-0.6 0.1-0.6 0.2 0.3 0.1 1.4 0.1 1.4 0.2 0.9 0.1-0.3 0.1-0.2 0.2-0.3 0.1-1 0.1-1 0.2-1 0.1 0.2 0.1 0.4 0.2 0.4 0.1 0.1 0.1 0 0.2-0.1 0.1 0 0.1 0.1 0.2 0.1 0.1 0 0.1 0 0.2 0 0.1 0 0.2-0.1 0.1-0.2 0.1-0.1 0.2 0.4 0.1 0.6 0.1 0.5 0.2 0 0.1-0.3 0.1-0.3 0.2-0.4 0.1-0.4 0.1-0.5 0.2-0.2 0.1 0.3 0.1 0.4 0.2 0.4 0.1 0.2 0.1 0.3 0.2 0.2 0.1-0.1 0.1-0.2 0.2-0.3 0.1-0.3 0.1-0.3 0.2-0.3 0.1 0.1 0.1 0.4 0.2 0.4 0.1 0.3 0.1 0 0.2 0 0.1 0 0.1-0.3 0.2-0.2 0.1-0.2 0.2-0.1 0.1-0.1 0.1-0.1 0.2-0.2 0.1-0.2 0.1-0.2 0.2 0.1 0.1 0.6 0.1 0.5 0.2 0.3 0.1-0.1 0.1-0.2 0.2-0.1 0.1-0.3 0.1-0.2 0.2-0.2 0.1 0.8 0.1 1 0.2 0.9 0.1-0.1 0.1-0.7 0.2-0.6 0.1-0.4 0.1-0.1 0.2-0.1 0.1 0 0.1 0.1 0.2 0.2 0.1 0.2 0.1 0.3 0.2 0.2 0.1 0.3 0.1-0.4 0.2-0.5 0.1-0.4 0.2-0.3 0.1-0.2 0.1-0.2 0.2 0.1 0.1 0.4 0.1 0.4 0.2 0.4 0.1 0.1 0.1 0.1 0.2 0.2 0.1-0.1 0.1-0.1 0.2-0.1 0.1-0.5 0.1-0.6 0.2-0.5 0.1-0.2 0.1 0.2 0.2 0.1 0.1 0.2 0.1 0.4 0.2 0.4 0.1 0.4 0.1 0.3 0.2 0.4 0.1 0.4 0.1 0 0.2 0.1 0.1 0 0.1-0.2 0.2-0.3 0.1-0.3 0.1-0.1 0.2 0 0.1 0 0.2-0.1 0.1-0.2 0.1-0.2 0.2 0 0.1 0.5 0.1 0.4 0.2 0.4 0.1-0.3 0.1-0.3 0.2-0.4 0.1-0.2 0.1-0.2 0.2-0.2 0.1 0.4 0.1 0.8 0.2 0.7 0.1-0.3 0.1-1.3 0.2-1.3 0.1-0.7 0.1 0.5 0.2 0.4 0.1 0.1 0.1-1.2 0.2-2.6 0.1-4.9 0.1-7 0.2-8.9 0.1-8.5 0.1-5.6 0.2 0 0.1 5.6 0.1 8.7 0.2 8.8 0.1 6.9 0.1 4.5 0.2 2.6 0.1 1.3 0.2 0.6 0.1 1.2 0.1 1.1 0.2 1.1 0.1-1 0.1-1.1 0.2-1.2 0.1-0.2 0.1 0.1 0.2 0.2 0.1 0.1 0.1 0 0.2 0.1 0.1 0.2 0.1 0.5 0.2 0.6 0.1 0.4 0.1-0.4 0.2-0.5 0.1-0.4 0.1 0.2 0.2 0.3 0.1 0.3 0.1-0.2 0.2-0.4 0.1-0.3 0.1-0.4 0.2-0.4 0.1-0.4 0.1-0.2 0.2 0.4 0.1 0.4 0.1 0.3 0.2-0.1 0.1-0.1 0.2-0.1 0.1 0.3 0.1 0.5 0.2 0.4 0.1 0.3 0.1 0.2 0.2 0.2 0.1 0 0.1-0.4 0.2-0.4 0.1-0.6 0.1-1.2 0.2-2.7 0.1-5.5 0.1-9.8 0.2-15 0.1-18.7 0.1-17.2 0.2-10.3 0.1 0.8 0.1 11.3 0.2 17.7 0.1 18.3 0.1 14.7 0.2 9.7 0.1 5.2 0.1 2.6 0.2 1.3 0.1 0.7 0.1 0.3 0.2-0.5 0.1-0.6 0.1-0.6 0.2-0.1 0.1-0.1 0.2 0 0.1 0.1 0.1 0.3 0.2 0.2 0.1 0.1 0.1-0.1 0.2-0.1 0.1 0.2 0.1 0.5 0.2 0.5 0.1 0.4 0.1-0.6 0.2-0.6 0.1-0.6 0.1-0.4 0.2-0.4 0.1-0.5 0.1 0.3 0.2 0.4 0.1 0.5 0.1 0.1 0.2-0.2 0.1-0.2 0.1-0.1 0.2 0 0.1 0.1 0.1 0.1 0.2 0.3 0.1 0.4 0.1 0.4 0.2-0.2 0.1-0.3 0.1-0.4 0.2 0.2 0.1 0.3 0.2 0.4 0.1-0.5 0.1-1.2 0.2-1.2 0.1-0.5 0.1 0.9 0.2 0.9 0.1 0.8 0.1 0.4 0.2 0.4 0.1 0.4 0.1 0.2 0.2 0.1 0.1 0.2 0.1-0.7 0.2-1 0.1-0.9 0.1-0.3 0.2 0.2 0.1 0.3 0.1 0.2 0.2 0.1 0.1 0.1 0.1 0.1 0.2 0.6 0.1 0.6 0.1 0.5 0.2-0.2 0.1-0.2 0.1-0.3 0.2 0.1 0.1 0.2 0.1 0.2 0.2-0.3 0.1-0.7 0.2-0.8 0.1-0.3 0.1 0.6 0.2 0.5 0.1 0.3 0.1-0.8 0.2-0.8 0.1-0.7 0.1 0.4 0.2 0.4 0.1 0.5 0.1 0.3 0.2 0.2 0.1 0.3 0.1-0.2 0.2-0.5 0.1-0.5 0.1 0 0.2 1.1 0.1 1.1 0.1 0.9 0.2-0.4 0.1-0.4 0.1-0.4 0.2-0.2 0.1-0.1 0.1-0.1 0.2-0.4 0.1-0.5 0.1-0.5 0.2-0.2 0.1 0 0.1 0 0.2 0.1 0.1 0.2 0.2 0.3 0.1 0.3 0.1 0.6 0.2 0.7 0.1 0.7 0.1-0.3 0.2-0.4 0.1-0.4 0.1 0 0.2 0.2 0.1 0.2 0.1-0.4 0.2-0.7 0.1-0.8 0.1-0.3 0.2 0.6 0.1 0.5 0.1 0.4 0.2-0.3 0.1-0.3 0.1-0.4 0.2-0.4 0.1-0.4 0.1-0.4 0.2 0.4 0.1 0.6 0.1 0.6 0.2 0.1 0.1-0.2 0.1-0.3 0.2 0 0.1 0.4 0.1 0.3 0.2 0.3 0.1-0.2 0.2-0.1 0.1-0.2 0.1 0 0.2 0 0.1 0 0.1 0 0.2 0 0.1 0 0.1 0 0.2 0 0.1 0 0.1 0 0.2 0.2 0.1 0.1 0.1 0 0.2-0.7 0.1-0.7 0.1-0.8 0.2 0.8 0.1 0.8 0.1 0.8 0.2 0 0.1-0.3 0.1-0.3 0.2-0.1 0.1 0.2 0.1 0.2 0.2 0.3 0.1 0.6 0.1 0.7 0.2 0.3 0.1-1 0.1-1.1 0.2-1 0.1 0.2 0.2 0.2 0.1 0.2 0.1 0.5 0.2 0.5 0.1 0.5 0.1 0.1 0.2-0.2 0.1-0.2 0.1-0.1 0.2 0.3 0.1 0.3 0.1 0.1 0.2-0.6 0.1-0.6 0.1-0.6 0.2-0.5 0.1-0.4 0.1-0.4 0.2 0 0.1 0.1 0.1 0.1 0.2 0.5 0.1 0.8 0.1 0.8 0.2 0.6 0.1 0.1 0.1 0.1 0.2 0 0.1-0.7 0.1-0.8 0.2-0.7 0.1-0.4 0.1-0.4 0.2-0.3 0.1 0.3 0.2 0.5 0.1 0.5 0.1 0.1 0.2-0.4 0.1-0.3 0.1 0.1 0.2 0.8 0.1 0.8 0.1 0.5 0.2-0.4 0.1-0.4 0.1-0.4 0.2-0.2 0.1-0.2 0.1-0.2 0.2 0.2 0.1 0.3 0.1 0.2 0.2 0.1 0.1-0.1 0.1 0 0.2-0.2 0.1-0.3 0.1-0.3 0.2-0.1 0.1 0.4 0.1 0.4 0.2 0.4 0.1 0.1 0.1 0.1 0.2 0.2 0.1-0.5 0.1-0.5 0.2-0.6 0.1-0.1 0.2 0.1 0.1 0.2 0.1 0.2 0.2 0.4 0.1 0.4 0.1 0.3 0.2-0.5 0.1-0.5 0.1-0.4 0.2 0.3 0.1 0.3 0.1 0.3 0.2-0.2 0.1-0.4 0.1-0.4 0.2 0 0.1 0.2 0.1 0.2 0.2 0.2 0.1 0.1 0.1 0 0.2 0.2 0.1 0.1 0.1 0.2 0.2 0.1 0.1-0.3 0.1-0.3 0.2-0.3 0.1 0 0.1 0.1 0.2 0.1 0.1-0.4 0.1-0.6 0.2-0.6 0.1-0.1 0.2 0.6 0.1 0.6 0.1 0.6 0.2 0.4 0.1 0.5 0.1 0.4 0.2-1.1 0.1-1.1 0.1-1.1 0.2 0.9 0.1 1.3 0.1 1.3 0.2-0.2 0.1-1.2 0.1-1.2 0.2-0.3 0.1 0.8 0.1 0.8 0.2 0.5 0.1-0.7 0.1-0.7 0.2-0.7 0.1 0.5 0.1 0.5 0.2 0.5 0.1-0.1 0.1-0.2 0.2-0.2 0.1 0 0.1 0.2 0.2 0.2 0.1 0.1 0.1 0 0.2 0.1 0.1 0 0.2-0.2 0.1-0.2 0.1-0.2 0.2 0.4 0.1 0.4 0.1 0.4 0.2-0.2 0.1-0.4 0.1-0.3 0.2 0.2 0.1 0.5 0.1 0.5 0.2 0.3 0.1-0.1 0.1-0.1 0.2-0.1 0.1 0 0.1 0 0.2 0 0.1-0.1 0.1 0 0.2 0 0.1-0.2 0.1-0.3 0.2-0.2 0.1 0.5 0.1 0.8 0.2 1 0.1 0.6 0.1 0.4 0.2 0.4 0.1 0.4 0.1 0.5 0.2 0.5 0.1 0.5 0.2 0.3 0.1 0.2 0.1 0.3 0.2 0.1 0.1 0.2 0.1 0.1 0.2 0.4 0.1 0.5 0.1 0.5 0.2 0.2 0.1-0.1 0.1-0.2 0.2-0.2 0.1-0.2 0.1-0.2 0.2-0.2 0.1-0.6 0.1-0.5 0.2-0.6 0.1 0 0.1 0.1 0.2 0.2 0.1-0.7 0.1-1.2 0.2-1.4 0.1-1.6 0.1-2.2 0.2-4.4 0.1-8.1 0.1-13.3 0.2-20 0.1-25.7 0.1-28.3 0.2-23.9 0.1-13 0.2 2.1 0.1 15.8 0.1 23.8 0.2 23 0.1 14.1 0.1-0.6 0.2-18.5 0.1-35.6 0.1-47.2 0.2-44.1 0.1 0 0.1 0 0.2 0 0.1 0.5 0.1 51.7 0.2 51.6 0.1 42.2 0.1 29.8 0.2 18.6 0.1 10.3 0.1 5.5 0.2 3.1 0.1 2 0.1 1.7 0.2 1.4 0.1 1.1 0.1 0.6 0.2 0.5 0.1 0.5 0.1 0.4 0.2 0.3 0.1 0.3 0.1 0.1 0.2 0.1 0.1 0 0.2 0.1 0.1 0.1 0.1 0.1 0.2 0 0.1 0.1 0.1 0.1 0.2 0.1 0.1-0.2 0.1-0.2 0.2-0.1 0.1 0.1 0.1 0 0.2 0.1 0.1 0 0.1 0 0.2-0.1 0.1 0.2 0.1 0.2 0.2 0.2 0.1 0 0.1 0 0.2 0 0.1-0.1 0.1 0 0.2 0 0.1 0 0.1 0 0.2-0.1 0.1 0 0.1 0.2 0.2 0.1 0.1 0.2 0.1-0.1 0.2-0.4 0.1-0.3 0.2-0.1 0.1 0.1 0.1 0.2 0.2 0 0.1-0.1 0.1-0.1 0.2-0.1 0.1 0 0.1 0 0.2 0.1 0.1-0.1 0.1-0.1 0.2 0 0.1 0 0.1 0.1 0.2 0.1 0.1 0 0.1 0 0.2 0.1 0.1 0 0.1 0.1 0.2 0.1 0.1 0.1 0.1-0.1 0.2-0.1 0.1 0 0.1-0.2 0.2-0.1 0.1-0.2 0.1 0.2 0.2 0.3 0.1 0.4 0.1 0.1 0.2-0.1 0.1-0.1 0.2-0.1 0.1-0.1 0.1-0.1 0.2-0.1 0.1-0.1 0.1-0.2 0.2-0.1 0.1 0.2 0.1 0.3 0.2 0.2 0.1 0.1 0.1-0.1 0.2 0 0.1-0.1 0.1-0.1 0.2 0 0.1-0.1 0.1-0.3 0.2-0.3 0.1-0.2 0.1 0.3 0.2 0.4 0.1 0.4 0.1 0 0.2-0.1 0.1-0.1 0.1 0 0.2-0.1 0.1-0.1 0.1 0 0.2 0.2 0.1 0.1 0.1 0.1 0.2-0.1 0.1-0.1 0.2-0.1 0.1 0 0.1 0 0.2-0.1 0.1 0.1 0.1 0.1 0.2 0.1 0.1-0.1 0.1 0 0.2-0.1 0.1-0.1 0.1-0.1 0.2-0.2 0.1 0 0.1 0.1 0.2 0.2 0.1 0.1 0.1 0.1 0.2 0 0.1 0.1 0.1 0 0.2 0.1 0.1 0 0.1-0.1 0.2-0.1 0.1-0.1 0.1 0 0.2-0.1 0.1-0.1 0.1 0 0.2 0.1 0.1 0 0.1 0.1 0.2 0 0.1 0 0.2 0 0.1-0.2 0.1-0.3 0.2-0.2 0.1 0.2 0.1 0.3 0.2 0.3 0.1 0.2 0.1 0.1 0.2 0 0.1 0 0.1-0.2 0.2-0.1 0.1-0.1 0.1 0 0.2 0.1 0.1 0 0.1 0 0.2-0.1 0.1-0.1 0.1-0.1 0.2 0 0.1-0.1 0.1 0 0.2 0.1 0.1 0.1 0.1 0.1 0.2 0 0.1 0.1 0.1 0 0.2 0 0.1-0.1 0.1-0.1 0.2 0 0.1 0 0.2 0 0.1 0.1 0.1 0 0.2 0.1 0.1 0 0.1 0.1 0.2 0 0.1 0 0.1-0.1 0.2-0.1 0.1-0.1 0.1 0.1 0.2 0 0.1 0.1 0.1 0.1 0.2 0.1 0.1 0.1 0.1-0.1 0.2-0.2 0.1-0.2 0.1 0 0.2 0.1 0.1 0.2 0.1 0 0.2 0 0.1 0 0.1 0 0.2-0.1 0.1-0.1 0.1-0.1 0.2 0.1 0.1 0.1 0.1 0.2 0.2 0 0.1-0.1 0.2 0 0.1 0 0.1 0 0.2 0.1 0.1 0.1 0.1 0 0.2 0.1 0.1 0 0.1-0.2 0.2-0.1 0.1-0.2 0.1-0.1 0.2-0.2 0.1-0.1 0.1 0.2 0.2 0.2 0.1 0.2 0.1 0 0.2-0.2 0.1-0.2 0.1-0.1 0.2 0 0.1 0 0.1 0 0.2 0 0.1 0 0.1-0.1 0.2 0.2 0.1 0.3 0.1 0.2 0.2 0.1 0.1-0.1 0.1 0 0.2-0.1 0.1-0.3 0.2-0.2 0.1-0.1 0.1 0.2 0.2 0.1 0.1 0.2 0.1 0 0.2 0 0.1 0 0.1-0.1 0.2-0.1 0.1 0 0.1 0 0.2 0 0.1 0 0.1 0 0.2 0.2 0.1 0.1 0.1 0 0.2 0 0.1 0 0.1-0.1 0.2-0.1 0.1 0 0.1-0.1 0.2 0 0.1 0 0.1 0.1 0.2 0.1 0.1 0.1 0.1 0.1 0.2-0.1 0.1-0.2 0.1-0.2 0.2-0.1 0.1 0 0.2 0.1 0.1 0 0.1 0.1 0.2 0.1 0.1 0.2 0.1 0 0.2 0 0.1 0 0.1-0.1 0.2-0.1 0.1-0.1 0.1 0.1 0.2 0.3 0.1 0.3 0.1 0.1 0.2-0.2 0.1-0.3 0.1-0.2 0.2 0.1 0.1 0.1 0.1 0 0.2 0.1 0.1 0 0.1 0 0.2-0.1 0.1-0.2 0.1-0.1 0.2-0.1 0.1 0.1 0.1 0 0.2 0 0.1-0.3 0.1-0.3 0.2-0.1 0.1 0.3 0.2 0.3 0.1 0.3 0.1 0 0.2-0.1 0.1 0 0.1 0.1 0.2 0.2 0.1 0.1 0.1 0 0.2-0.3 0.1-0.2 0.1-0.1 0.2 0.2 0.1 0.1 0.1 0.1 0.2 0 0.1-0.1 0.1-0.1 0.2-0.1 0.1-0.1 0.1-0.1 0.2 0 0.1 0 0.1 0 0.2 0 0.1 0.1 0.1 0.1 0.2 0 0.1-0.1 0.1-0.1 0.2 0 0.1 0.2 0.1 0.1 0.2 0.2 0.1 0 0.2 0.1 0.1 0 0.1 0.1 0.2 0 0.1 0.1 0.1-0.1 0.2-0.2 0.1-0.2 0.1-0.2 0.2-0.1 0.1-0.1 0.1-0.1 0.2 0.2 0.1 0.2 0.1 0.3 0.2-0.1 0.1 0 0.1 0 0.2 0 0.1 0 0.1 0 0.2 0 0.1-0.1 0.1 0 0.2 0 0.1 0.2 0.1 0.2 0.2 0.2 0.1-0.3 0.1-0.2 0.2-0.3 0.1 0 0.1 0 0.2-0.1 0.1 0.2 0.2 0.1 0.1 0.2 0.1 0.1 0.2 0 0.1 0.1 0.1 0 0.2 0 0.1-0.1 0.1 0 0.2-0.1 0.1-0.2 0.1-0.1 0.2-0.1 0.1-0.1 0.1-0.1 0.2 0.2 0.1 0.2 0.1 0.3 0.2 0.1 0.1 0.1 0.1 0 0.2 0 0.1-0.2 0.1-0.1 0.2-0.2 0.1 0 0.1 0 0.2 0 0.1-0.1 0.1 0 0.2 0 0.1 0.1 0.1 0.1 0.2 0.1 0.1 0 0.2-0.1 0.1-0.2 0.1-0.1 0.2 0 0.1 0 0.1 0 0.2 0.2 0.1 0.3 0.1 0.3 0.2-0.2 0.1-0.1 0.1-0.1 0.2-0.1 0.1-0.1 0.1-0.1 0.2 0 0.1 0 0.1-0.1 0.2 0.1 0.1 0.1 0.1 0.1 0.2 0.2 0.1 0.1 0.1 0.1 0.2 0.2 0.1-0.1 0.1-0.2 0.2-0.1 0.1 0.1 0.1 0 0.2 0.1 0.1 0 0.1-0.1 0.2-0.1 0.1-0.1 0.2-0.2 0.1-0.1 0.1-0.1 0.2 0.1 0.1 0.2 0.1 0.2 0.2-0.1 0.1-0.1 0.1 0 0.2 0 0.1 0.2 0.1 0.1 0.2-0.1 0.1-0.2 0.1-0.2 0.2-0.1 0.1 0.2 0.1 0.1 0.2 0.2 0.1 0 0.1 0.1 0.2 0 0.1-0.3 0.1-0.3 0.2-0.2 0.1 0 0.1 0.2 0.2 0.1 0.1 0.1 0.1-0.1 0.2 0 0.1 0.1 0.1 0.2 0.2 0.3 0.1 0.1 0.2-0.3 0.1-0.3 0.1-0.4 0.2 0 0.1 0 0.1 0 0.2 0.1 0.1 0.2 0.1 0.1 0.2 0.1 0.1 0 0.1 0.1 0.2 0 0.1 0 0.1 0 0.2 0 0.1-0.1 0.1-0.2 0.2-0.2 0.1 0.3 0.1 0.3 0.2 0.2 0.1-0.1 0.1-0.2 0.2-0.2 0.1-0.1 0.1-0.2 0.2-0.1 0.1-0.1 0.1 0.2 0.2 0.2 0.1 0.1 0.1-0.2 0.2-0.2 0.1-0.1 0.2 0.2 0.1 0.1 0.1 0.2 0.2 0.1 0.1 0 0.1 0.1 0.2-0.1 0.1-0.1 0.1-0.1 0.2-0.1 0.1 0.1 0.1 0.1 0.2 0.1 0.1 0 0.1 0 0.2-0.1 0.1 0.1 0.1 0 0.2 0.1 0.1 0.1 0.1 0 0.2 0.1 0.1 0 0.1-0.1 0.2-0.1 0.1-0.1 0.1-0.1 0.2-0.1 0.1 0 0.1-0.1 0.2 0 0.1-0.1 0.1 0.2 0.2 0.1 0.1 0.1 0.2 0 0.1-0.1 0.1 0 0.2 0.1 0.1 0.1 0.1 0.1 0.2 0 0.1 0 0.1-0.1 0.2-0.1 0.1 0 0.1 0 0.2 0 0.1 0 0.1 0 0.2 0 0.1 0 0.1 0 0.2-0.1 0.1 0 0.1-0.2 0.2-0.2 0.1-0.7 0.1-1.2 0.2-2 0.1-2.7 0.1-3.4 0.2-3.5 0.1-2.7 0.1-1.3 0.2 0.7 0.1 2.4 0.1 3.5 0.2 3.7 0.1 3.2 0.1 2.2 0.2 1.3 0.1 0.7 0.2 0.3 0.1 0 0.1 0 0.2 0 0.1 0 0.1 0 0.2-0.1 0.1 0 0.1-0.1 0.2 0 0.1 0.2 0.1 0.2 0.2 0.2 0.1 0 0.1-0.2 0.2-0.2 0.1-0.1 0.1 0 0.2 0 0.1 0 0.1 0.1 0.2 0 0.1 0.1 0.1 0 0.2 0.1 0.1 0 0.1-0.1 0.2-0.1 0.1-0.1 0.1 0 0.2 0.1 0.1 0 0.1 0 0.2-0.1 0.1 0 0.2 0 0.1 0.2 0.1 0.3 0.2 0.2 0.1-0.1 0.1-0.1 0.2-0.1 0.1-0.2 0.1-0.3 0.2-0.2 0.1 0 0.1 0.1 0.2 0.1 0.1 0.1 0.1 0.1 0.2 0.1 0.1 0.1 0.1 0 0.2-0.1 0.1 0 0.1 0.1 0.2 0.1 0.1 0.1 0.1-0.2 0.2-0.3 0.1-0.3 0.1-0.1 0.2 0 0.1 0 0.1 0.1 0.2 0 0.1 0.1 0.1 0 0.2 0 0.1-0.1 0.2 0 0.1 0.1 0.1 0 0.2 0.1 0.1 0 0.1-0.1 0.2-0.1 0.1 0 0.1 0.1 0.2 0 0.1 0 0.1 0 0.2-0.1 0.1 0 0.1 0.1 0.2 0.1 0.1 0.2 0.1 0 0.2 0 0.1 0 0.1 0 0.2 0.1 0.1 0 0.1 0 0.2 0 0.1 0 0.1 0.1 0.2 0.1 0.1 0.1 0.1 0 0.2-0.3 0.1-0.3 0.1-0.2 0.2 0 0.1-0.1 0.2 0 0.1 0.1 0.1 0.1 0.2 0 0.1 0 0.1 0 0.2 0 0.1 0 0.1 0.1 0.2 0 0.1 0.1 0.1 0 0.2-0.1 0.1 0 0.1 0.2 0.2 0.2 0.1 0.2 0.1-0.1 0.2-0.1 0.1-0.2 0.1 0.1 0.2 0.2 0.1 0.1 0.1 0.1 0.2-0.1 0.1-0.1 0.1-0.1 0.2-0.1 0.1 0 0.1 0 0.2 0 0.1 0 0.1 0 0.2 0 0.1 0.1 0.2 0.1 0.1-0.2 0.1-0.2 0.2-0.2 0.1-0.1 0.1 0 0.2 0 0.1 0.1 0.1 0.2 0.2 0.1 0.1 0.1 0.1 0.1 0.2 0.1 0.1 0 0.1 0 0.2-0.1 0.1-0.1 0.1-0.1 0.2-0.1 0.1-0.1 0.1 0 0.2 0.3 0.1 0.3 0.1 0.1 0.2-0.3 0.1-0.2 0.1-0.3 0.2 0.1 0.1 0.1 0.1 0.1 0.2 0 0.1 0.1 0.1 0 0.2-0.1 0.1-0.1 0.2-0.2 0.1 0 0.1 0.1 0.2 0.1 0.1 0.1 0.1 0 0.2 0 0.1 0.1 0.1-0.2 0.2-0.1 0.1-0.2 0.1 0.2 0.2 0.3 0.1 0.3 0.1-0.2 0.2-0.3 0.1-0.3 0.1 0 0.2 0.2 0.1 0.3 0.1 0.1 0.2 0 0.1 0 0.1 0 0.2-0.2 0.1-0.3 0.1-0.2 0.2-0.2 0.1-0.1 0.1-0.2 0.2 0.1 0.1 0.2 0.1 0.2 0.2 0.2 0.1 0.2 0.2 0.2 0.1 0.2 0.1 0.1 0.2 0.1 0.1 0.1 0.1-0.2 0.2-0.2 0.1-0.3 0.1 0 0.2 0 0.1 0.1 0.1 0 0.2 0.1 0.1 0 0.1 0 0.2 0 0.1-0.1 0.1 0 0.2 0.1 0.1 0 0.1 0.1 0.2-0.2 0.1-0.1 0.1-0.2 0.2 0.1 0.1 0.1 0.1 0.1 0.2 0 0.1 0 0.1 0 0.2 0.1 0.1 0.2 0.1 0.2 0.2 0.1 0.1-0.3 0.2-0.2 0.1-0.2 0.1 0.2 0.2 0.1 0.1 0.2 0.1-0.2 0.2-0.2 0.1-0.2 0.1 0 0.2 0.1 0.1 0 0.1 0.2 0.2 0.2 0.1 0.2 0.1 0 0.2-0.1 0.1-0.2 0.1-0.1 0.2 0.1 0.1 0 0.1 0.1 0.2-0.1 0.1-0.2 0.1-0.2 0.2 0 0.1 0 0.1 0 0.2 0 0.1-0.1 0.1 0 0.2 0 0.1 0.2 0.1 0.2 0.2 0.1 0.1-0.1 0.2-0.1 0.1-0.2 0.1 0.2 0.2 0.2 0.1 0.1 0.1 0 0.2-0.2 0.1-0.1 0.1-0.1 0.2 0.1 0.1 0 0.1 0 0.2 0 0.1-0.1 0.1 0 0.2 0 0.1 0.1 0.1 0 0.2-0.1 0.1-0.1 0.1-0.1 0.2 0.1 0.1 0.1 0.1 0.1 0.2 0.1 0.1 0 0.1-0.1 0.2 0 0.1-0.2 0.1-0.1 0.2-0.1 0.1 0.1 0.1 0.1 0.2 0.2 0.1 0 0.2 0.1 0.1 0 0.1 0.1 0.2 0 0.1 0 0.1 0 0.2-0.1 0.1-0.1 0.1 0 0.2 0 0.1 0 0.1 0 0.2-0.1 0.1-0.1 0.1 0 0.2 0.1 0.1 0 0.1 0.1 0.2 0 0.1-0.1 0.1-0.1 0.2 0 0.1 0.1 0.1 0.1 0.2 0 0.1-0.2 0.1-0.2 0.2-0.1 0.1 0.2 0.1 0.1 0.2 0.2 0.1-0.1 0.1 0 0.2-0.1 0.1 0 0.2 0 0.1 0 0.1 0.1 0.2 0.2 0.1 0.2 0.1 0 0.2-0.2 0.1-0.2 0.1-0.2 0.2 0.1 0.1 0.2 0.1 0.1 0.2-0.1 0.1-0.1 0.1-0.2 0.2 0.2 0.1 0.3 0.1 0.3 0.2 0.1 0.1 0 0.1 0 0.2 0 0.1 0 0.1 0 0.2 0 0.1 0 0.1-0.1 0.2 0 0.1-0.1 0.1-0.1 0.2-0.2 0.1 0 0.1-0.1 0.2 0 0.1 0 0.2 0.1 0.1 0.1 0.1 0.1 0.2-0.1 0.1-0.1 0.1 0 0.2 0 0.1 0.1 0.1 0 0.2-0.1 0.1-0.2 0.1-0.1 0.2 0 0.1 0 0.1 0 0.2 0 0.1 0 0.1 0.1 0.2 0 0.1-0.1 0.1 0 0.2 0 0.1-0.1 0.1-0.1 0.2-0.1 0.1 0.1 0.1 0.1 0.2 0.1 0.1 0.1 0.1 0.3 0.2 0.2 0.1 0 0.1-0.1 0.2-0.2 0.1 0 0.2 0 0.1 0 0.1 0 0.2-0.1 0.1-0.2 0.1-0.1 0.2 0.1 0.1 0 0.1 0 0.2 0 0.1 0 0.1-0.1 0.2 0.2 0.1 0.2 0.1 0.2 0.2 0.1 0.1-0.3 0.1-0.3 0.2-0.2 0.1 0.1 0.1 0.2 0.2 0.1 0.1-0.1 0.1-0.1 0.2-0.1 0.1 0 0.1 0.1 0.2 0 0.1 0.1 0.1 0.1 0.2 0.2 0.1 0.1 0.1-0.1 0.2 0 0.1 0 0.2-0.1 0.1-0.2 0.1-0.1 0.2 0 0.1-0.1 0.1 0 0.2 0.1 0.1 0.2 0.1 0.2 0.2 0.1 0.1 0 0.1 0 0.2 0.1 0.1 0.1 0.1 0 0.2 0.1 0.1-0.1 0.1-0.1 0.2-0.1 0.1 0 0.1-0.1 0.2 0 0.1 0 0.1-0.1 0.2 0 0.1-0.1 0.1-0.1 0.2 0 0.1-0.1 0.1 0.2 0.2 0.1 0.1 0.1 0.1 0 0.2 0.1 0.1 0 0.2 0 0.1-0.1 0.1-0.1 0.2 0 0.1 0 0.1-0.1 0.2 0 0.1 0 0.1 0 0.2 0 0.1 0 0.1 0 0.2 0 0.1 0 0.1 0 0.2 0.1 0.1-0.1 0.1-0.1 0.2-0.1 0.1 0.1 0.1 0.1 0.2 0.1 0.1 0 0.1 0.1 0.2 0.1 0.1 0 0.1-0.1 0.2-0.1 0.1-0.1 0.1-0.2 0.2-0.2 0.1-0.2 0.1 0.3 0.2 0.2 0.1 0.3 0.2-0.2 0.1-0.3 0.1-0.3 0.2 0 0.1 0.3 0.1 0.3 0.2 0.1 0.1-0.1 0.1-0.1 0.2-0.1 0.1 0.2 0.1 0.3 0.2 0.2 0.1-0.2 0.1-0.1 0.2-0.1 0.1-0.2" stroke="#000"/>
<path d="M525.5 257l0.1-2.5 0.2-2.4 0.1-2.1 0.1-1.7 0.2-1.5 0.1-1.3 0.1-0.8 0.2-0.3 0.1-0.2 0.1-0.4 0.2-0.8 0.1-0.8 0.1-0.7 0.2-1.2 0.1-1.1 0.1-1.1 0.2-0.4 0.1-0.4 0.2-0.3 0.1-0.4 0.1-0.4 0.2-0.4 0.1-0.1 0.1 0.2 0.2 0.3 0.1-0.1 0.1-0.4 0.2-0.5 0.1-0.4 0.1-0.4 0.2-0.3 0.1-0.4 0.1 1.1 0.2 1 0.1 1 0.1-0.6 0.2-1.1 0.1-1 0.1-0.4 0.2 0.1 0.1 0.1 0.1 0 0.2-0.3 0.1-0.2 0.1-0.1 0.2 0.7 0.1 0.8 0.1 0.7 0.2-0.2 0.1-0.1 0.1-0.2 0.2-0.1 0.1 0 0.2-0.1 0.1 0.1 0.1 0.3 0.2 0.2 0.1-0.1 0.1-0.7 0.2-0.7 0.1-0.4 0.1 0.3 0.2 0.4 0.1 0.3 0.1 0.6 0.2 0.5 0.1 0.6 0.1-0.4 0.2-0.6 0.1-0.5 0.1 0.1 0.2 0.6 0.1 0.6 0.1 0.5 0.2 0.2 0.1 0.2 0.1 0.1 0.2-0.2 0.1-0.2 0.1-0.3 0.2-0.5 0.1-0.4 0.1-0.5 0.2-0.1 0.1-0.1 0.1 0 0.2 0 0.1 0.1 0.2 0.1 0.1 0 0.1-0.3 0.2-0.3 0.1-0.4 0.1-0.6 0.2-0.6 0.1-0.6 0.1 1.4 0.2 1.4 0.1 1.3 0.1-0.3 0.2-0.7 0.1-0.7 0.1-0.2 0.2 0 0.1 0.1 0.1 0.3 0.2 0.7 0.1 0.6 0.1 0.5 0.2-0.3 0.1-0.4 0.1-0.3 0.2-0.3 0.1-0.3 0.1-0.3 0.2 0 0.1 0.1 0.1 0.1 0.2 0.2 0.1 0.4 0.1 0.4 0.2-0.1 0.1-0.7 0.2-0.7 0.1-0.5 0.1 0.2 0.2 0.3 0.1 0.2 0.1-0.2 0.2-0.2 0.1-0.1 0.1-0.4 0.2-0.5 0.1-0.4 0.1 0.7 0.2 1.3 0.1 1.2 0.1 0.3 0.2-1 0.1-1 0.1-0.7 0.2 0.2 0.1 0.2 0.1 0.3 0.2 0.6 0.1 0.6 0.1 0.6 0.2-0.2 0.1-0.4 0.1-0.4 0.2 0 0.1 0.2 0.1 0.1 0.2 0.3 0.1 0.3 0.1 0.3 0.2 0.1 0.1-0.9 0.2-0.9 0.1-0.8 0.1 0.7 0.2 0.7 0.1 0.7 0.1 0.6 0.2 0.6 0.1 0.5 0.1-0.6 0.2-1.3 0.1-1.2 0.1-0.5 0.2 0.6 0.1 0.6 0.1 0.3 0.2-0.3 0.1-0.4 0.1-0.4 0.2 0.1 0.1 0.1 0.1 0 0.2 0.2 0.1 0.3 0.1 0.2 0.2 0.1 0.1 0 0.1 0.1 0.2 0.4 0.1 1 0.1 0.9 0.2 0.5 0.1-1 0.1-0.9 0.2-0.9 0.1 0.4 0.2 0.3 0.1 0.3 0.1-0.6 0.2-0.7 0.1-0.7 0.1 0.1 0.2 0.6 0.1 0.5 0.1 0.3 0.2 0 0.1-0.1 0.1-0.1 0.2-0.4 0.1-0.3 0.1-0.3 0.2 0.6 0.1 0.5 0.1 0.6 0.2-0.1 0.1-0.2 0.1-0.2 0.2-0.1 0.1-0.1 0.1-0.1 0.2-0.2 0.1-0.4 0.1-0.4 0.2-0.1 0.1 0.8 0.1 0.8 0.2 0.7 0.1-0.9 0.1-1 0.2-1 0.1 0.2 0.2 0.4 0.1 0.4 0.1 0.3 0.2 0.1 0.1 0.2 0.1-0.1 0.2-0.4 0.1-0.4 0.1-0.3 0.2-0.3 0.1-0.3 0.1-0.3 0.2-0.1 0.1-0.1 0.1-0.2 0.2 0.7 0.1 0.7 0.1 0.5 0.2-1.1 0.1-1.9 0.1-2.2 0.2-1.5 0.1-0.6 0.1-0.4 0.2-0.4 0.1-0.8 0.1-0.3 0.2 0.3 0.1 2.1 0.1 2.3 0.2 2.2 0.1 0.9 0.1 0.4 0.2 0.3 0.1 0.3 0.2 0.2 0.1 0.2 0.1 0.3 0.2 0.5 0.1 0.6 0.1 0.2 0.2-0.3 0.1-0.4 0.1-0.3 0.2-0.6 0.1-0.6 0.1-0.6 0.2-0.2 0.1-0.1 0.1-0.1 0.2 0.1 0.1 0.2 0.1 0.2 0.2 0.2 0.1 0.2 0.1 0.2 0.2 0.2 0.1 0.3 0.1 0.3 0.2 0.2 0.1-1.1 0.1-1.1 0.2-1.1 0.1 1.2 0.1 1.5 0.2 1.5 0.1 0.4 0.1 0 0.2-0.1 0.1-0.1 0.2-0.2 0.1-0.2 0.1-0.2 0.2-0.5 0.1-0.4 0.1-0.3 0.2 0.2 0.1 0.3 0.1 0.3 0.2-0.4 0.1-0.6 0.1-0.5 0.2 0.5 0.1 1.1 0.1 1 0.2 0 0.1-1.1 0.1-1 0.2-0.9 0.1-0.4 0.1-0.4 0.2-0.3 0.1 0.4 0.1 0.3 0.2 0.4 0.1 0.5 0.1 0.6 0.2 0.5 0.1 0.2 0.1 0.2 0.2 0.1 0.1-0.3 0.1-0.7 0.2-0.8 0.1-0.1 0.2 1.2 0.1 1.2 0.1 1.1 0.2-0.4 0.1-0.4 0.1-0.4 0.2 0.3 0.1 0.4 0.1 0.4 0.2-0.3 0.1-0.7 0.1-0.7 0.2-0.8 0.1-0.8 0.1-0.9 0.2-0.3 0.1 1 0.1 1 0.2 0.8 0.1-0.6 0.1-0.7 0.2-0.7 0.1 0.9 0.1 0.9 0.2 1 0.1 0.1 0.1-0.2 0.2-0.3 0.1-0.1 0.1 0 0.2 0 0.1-0.2 0.1-0.7 0.2-0.7 0.1-0.5 0.2 0.8 0.1 0.9 0.1 0.8 0.2 0 0.1 0 0.1-0.1 0.2-0.3 0.1-0.3 0.1-0.2 0.2-0.5 0.1-0.7 0.1-0.7 0.2-0.2 0.1 0.6 0.1 0.7 0.2 0.4 0.1-0.7 0.1-0.8 0.2-0.8 0.1 0.4 0.1 0.5 0.2 0.5 0.1 0.3 0.1 0.1 0.2 0 0.1-0.4 0.1-0.9 0.2-1 0.1-0.5 0.1 0.4 0.2 0.3 0.1 0.3 0.1-0.3 0.2-0.3 0.1-0.2 0.2-0.8 0.1-0.7 0.1-0.6 0.2 0.3 0.1 0.7 0.1 0.8 0.2 0.4 0.1 0.1 0.1 0.1 0.2 0.3 0.1 0.2 0.1 0.3 0.2 0.3 0.1 0 0.1 0.1 0.2 0.1 0.1-0.1 0.1 0 0.2-0.2 0.1 0.1 0.1 0.2 0.2 0.2 0.1 0.4 0.1 0.8 0.2 0.7 0.1 0.4 0.1-0.1 0.2-0.2 0.1 0 0.1 0.3 0.2 0.2 0.1 0.3 0.1 0.5 0.2 0.5 0.1 0.5 0.2-0.4 0.1-0.8 0.1-0.7 0.2-0.1 0.1 0.5 0.1 0.6 0.2 0.1 0.1-0.6 0.1-0.6 0.2-0.5 0.1 0.6 0.1 0.6 0.2 0.6 0.1 0.3 0.1 0.2 0.2 0.3 0.1-0.4 0.1-0.5 0.2-0.5 0.1-0.1 0.1 0.5 0.2 0.4 0.1 0.4 0.1 0.3 0.2 0.4 0.1 0.2 0.1-1 0.2-0.9 0.1-1 0.1 0.3 0.2 0.3 0.1 0.4 0.1 0.1 0.2 0 0.1 0.1 0.2 0 0.1 0.1 0.1 0.1 0.2 0.2 0.1 0.2 0.1 0.1 0.2 0.2 0.1 0.7 0.1 0.7 0.2 0.6 0.1-1.4 0.1-1.5 0.2-1.7 0.1-1.1 0.1-1 0.2-1.1 0.1-1.4 0.1-1.5 0.2-1.6 0.1-1.2 0.1-0.5 0.2-0.3 0.1-0.5 0.1-1.5 0.2-1.3 0.1-1 0.1 0.1 0.2 0.4 0.1 0.7 0.1 0.3 0.2 0.3 0.1 0.5 0.1 1.5 0.2 2.2 0.1 2.3 0.2 1.8 0.1 1 0.1 0.9 0.2 0.9 0.1 0.9 0.1 0.8 0.2 0.7 0.1 0.5 0.1 0.4 0.2 0.4 0.1 0.1 0.1 0 0.2 0 0.1 0.2 0.1 0.5 0.2 0.5 0.1 0.6 0.1 0.8 0.2 0.9 0.1 0.5 0.1-1.2 0.2-1.2 0.1-1.2 0.1 1.4 0.2 1.6 0.1 1.5 0.1-0.4 0.2-1 0.1-1.1 0.1-0.5 0.2-0.3 0.1-0.2 0.1 0.2 0.2 0.8 0.1 0.9 0.2 0.6 0.1-0.2 0.1-0.2 0.2-0.2 0.1 0 0.1 0.1 0.2 0 0.1 0.4 0.1 0.4 0.2 0.5 0.1-0.2 0.1-0.5 0.2-0.6 0.1-0.1 0.1 0.5 0.2 0.6 0.1 0.4 0.1-0.5 0.2-0.5 0.1-0.5 0.1-0.1 0.2-0.1 0.1 0 0.1-0.2 0.2-0.2 0.1-0.1 0.1-0.1 0.2-0.1 0.1-0.1 0.1 0.1 0.2 0.4 0.1 0.4 0.1 0.3 0.2 0 0.1 0 0.1 0 0.2 0.3 0.1 0.3 0.2 0.3 0.1 0 0.1 0 0.2-0.1 0.1-0.2 0.1-0.4 0.2-0.4 0.1-0.3 0.1-0.1 0.2-0.1 0.1-0.2 0.1-0.3 0.2-0.4 0.1-0.5 0.1-0.8 0.2-1 0.1-1.3 0.1-2.1 0.2-2.5 0.1-2.7 0.1-2.3 0.2-1.9 0.1-1.9 0.1-2.2 0.2-2.6 0.1-2.2 0.1-1.7 0.2-1.1 0.1-0.4 0.1 0.2 0.2 0.9 0.1 1.5 0.1 1.9 0.2 3.3 0.1 3.8 0.2 3.7 0.1 3.2 0.1 2.5 0.2 2.3 0.1 2.1 0.1 1.8 0.2 1.5 0.1 1.1 0.1 0.1 0.2 0 0.1-0.2 0.1 0.3 0.2 0.2 0.1 0.2 0.1-0.1 0.2-0.2 0.1-0.2 0.1-0.2 0.2-0.3 0.1-0.2 0.1 0.4 0.2 1.3 0.1 1.3 0.1 1 0.2-0.3 0.1-0.4 0.1-0.4 0.2 0.2 0.1 0.1 0.1 0.2 0.2 0.2 0.1 0.2 0.1 0.2 0.2-0.1 0.1-0.5 0.2-0.4 0.1-0.1 0.1 0.2 0.2 0.3 0.1 0.1 0.1-0.3 0.2-0.2 0.1-0.2 0.1 0.2 0.2 0.2 0.1 0.2 0.1 0.3 0.2 0.5 0.1 0.4 0.1-0.3 0.2-0.7 0.1-0.8 0.1-0.4 0.2 0 0.1 0 0.1 0.1 0.2 0.4 0.1 0.4 0.1 0.4 0.2 0.6 0.1 0.7 0.1 0.7 0.2 0.2 0.1 0 0.1 0.1 0.2-0.2 0.1-0.3 0.1-0.4 0.2-0.4 0.1-0.7 0.2-0.6 0.1-0.5 0.1-0.1 0.2-0.1 0.1-0.1 0.1 0.2 0.2 0.3 0.1 0.2 0.1 0.1 0.2 0 0.1 0 0.1 0.6 0.2 1 0.1 1 0.1 0.1 0.2-1.1 0.1-1 0.1-0.8 0.2 0.4 0.1 0.4 0.1 0.4 0.2-0.1 0.1-0.1 0.1-0.2 0.2 0.2 0.1 0.3 0.1 0.2 0.2 0.4 0.1 0.4 0.1 0.4 0.2-0.2 0.1-1 0.1-1 0.2-0.8 0.1 0.2 0.2 0.1 0.1 0.2 0.1 0.6 0.2 0.5 0.1 0.5 0.1 0.3 0.2 0.2 0.1 0.2 0.1-0.2 0.2-0.3 0.1-0.3 0.1-0.4 0.2-0.6 0.1-0.5 0.1-0.4 0.2 0.2 0.1 0.1 0.1 0.1 0.2 0.2 0.1 0.2 0.1 0.2 0.2-0.2 0.1-0.3 0.1-0.3 0.2 0 0.1 0.2 0.1 0.3 0.2 0.3 0.1 0.5 0.1 0.5 0.2 0.2 0.1-0.6 0.1-0.5 0.2-0.6 0.1 0.3 0.2 0.3 0.1 0.2 0.1 0.3 0.2 0.3 0.1 0.3 0.1-0.3 0.2-0.7 0.1-0.7 0.1-0.3 0.2 0.2 0.1 0.3 0.1 0.4 0.2 0.7 0.1 0.7 0.1 0.6 0.2-0.8 0.1-0.8 0.1-0.8 0.2 0.1 0.1 0.2 0.1 0.2 0.2 0.2 0.1 0.3 0.1 0.2 0.2 0.1 0.1 0.1 0.1 0 0.2 0.1 0.1 0.2 0.1 0.2 0.2 0.3 0.1 0.1 0.1 0.2 0.2 0.2 0.1-0.5 0.2-0.6 0.1-0.7 0.1-0.2 0.2-0.1 0.1 0 0.1 0.1 0.2 0.3 0.1 0.3 0.1 0.1 0.2-0.2 0.1-0.2 0.1-0.1 0.2 0.2 0.1 0.2 0.1 0.3 0.2 0 0.1 0 0.1 0 0.2-0.2 0.1-0.3 0.1-0.3 0.2-0.1 0.1 0 0.1 0 0.2 0 0.1-0.4 0.1-0.3 0.2-0.3 0.1 0.7 0.1 0.7 0.2 0.7 0.1-0.1 0.1-0.3 0.2-0.3 0.1 0 0.2 0.2 0.1 0.2 0.1 0.1 0.2-0.1 0.1-0.2 0.1-0.2 0.2-0.3 0.1-0.4 0.1-0.3 0.2 0.3 0.1 0.3 0.1 0.3 0.2 0.5 0.1 0.4 0.1 0.4 0.2 0.1 0.1-0.1 0.1-0.1 0.2 0 0.1 0 0.1 0.1 0.2 0 0.1-0.1 0.1-0.1 0.2-0.1 0.1 0.2 0.1 0.1 0.2 0.2 0.1-0.1 0.1 0 0.2-0.1 0.1 0 0.1-0.1 0.2-0.2 0.1-0.1 0.2-0.1 0.1-0.2 0.1 0 0.2 0.4 0.1 0.4 0.1 0.4 0.2-0.3 0.1-0.3 0.1-0.3 0.2-0.1 0.1 0.1 0.1 0 0.2-0.2 0.1-0.3 0.1-0.2 0.2-0.1 0.1 0.2 0.1 0.3 0.2 0.1 0.1-0.1 0.1-0.1 0.2 0 0.1 0.1 0.1 0.1 0.2 0.1 0.1-0.3 0.1-0.3 0.2-0.3 0.1 0.2 0.1 0.5 0.2 0.4 0.1 0.4 0.1 0.5 0.2 0.4 0.1 0 0.2-0.9 0.1-0.9 0.1-0.9 0.2-0.1 0.1-0.1 0.1-0.2 0.2-0.3 0.1-0.2 0.1-0.2 0.2-0.9 0.1-1.3 0.1-0.9 0.2-0.2 0.1 0.5 0.1 0.8 0.2 0.8 0.1 0.6 0.1 0.6 0.2 0.6 0.1 0.5 0.1 0.3 0.2 0.3 0.1 0.5 0.1 0.4 0.2 0.3 0.1-0.1 0.1-0.4 0.2-0.4 0.1 0 0.1 0.3 0.2 0.4 0.1 0.3 0.1 0.1 0.2 0.2 0.1 0.1 0.2-0.1 0.1-0.1 0.1-0.1 0.2 0.6 0.1 0.7 0.1 0.7 0.2-0.3 0.1-0.9 0.1-0.9 0.2-0.1 0.1 0.7 0.1 0.7 0.2 0.3 0.1-0.6 0.1-0.6 0.2-0.6 0.1 0.2 0.1 0.2 0.2 0.2 0.1-0.1 0.1 0 0.2-0.1 0.1 0.2 0.1 0.3 0.2 0.3 0.1-0.3 0.1-1 0.2-0.9 0.1-0.5 0.1 0.9 0.2 0.9 0.1 0.6 0.1-1.3 0.2-1.1 0.1-1.1 0.2-0.1 0.1 0.2 0.1 0.5 0.2 0.6 0.1 0.7 0.1 0.9 0.2 0.1 0.1-0.5 0.1-0.7 0.2-0.3 0.1 0.6 0.1 0.6 0.2 0.4 0.1-0.7 0.1-0.8 0.2-0.7 0.1 0.4 0.1 0.6 0.2 0.6 0.1 0.2 0.1 0.1 0.2 0.1 0.1 0.1 0.1-0.1 0.2 0 0.1 0.2 0.1 0.6 0.2 0.7 0.1 0.6 0.1 0 0.2 0 0.1 0 0.1-0.8 0.2-1 0.1-0.9 0.2-0.2 0.1 0.1 0.1-0.1 0.2-0.1 0.1-0.2 0.1-0.6 0.2-1.3 0.1-2.2 0.1-2.4 0.2-2.4 0.1-1.8 0.1-1 0.2-0.2 0.1 0.4 0.1 1.2 0.2 1.6 0.1 2.3 0.1 2.4 0.2 2 0.1 1.6 0.1 1.3 0.2 0.9 0.1 0.4 0.1-0.3 0.2-0.4 0.1-0.3 0.1 0.4 0.2 0.5 0.1 0.5 0.1-0.3 0.2-0.4 0.1-0.3 0.1 0.1 0.2 0.4 0.1 0.4 0.2 0.7 0.1 0.8 0.1 0.9 0.2 0.1 0.1-1.6 0.1-1.6 0.2-1.3 0.1 0.9 0.1 0.8 0.2 0.9 0.1-0.5 0.1-0.7 0.2-0.6 0.1-0.1 0.1 0.1 0.2 0.2 0.1 0.2 0.1 0.4 0.2 0.4 0.1 0.4 0.1 0.2 0.2 0.2 0.1 0.1 0.1-1 0.2-1.1 0.1-1 0.1 0.5 0.2 0.5 0.1 0.6 0.1-0.1 0.2-0.4 0.1-0.4 0.1-0.1 0.2 0.2 0.1 0 0.2-0.4 0.1-0.8 0.1-1.1 0.2-1.2 0.1-0.9 0.1-0.8 0.2-0.7 0.1 0 0.1 0.4 0.2 0.9 0.1 0.8 0.1 0.9 0.2 1 0.1 0.8 0.1 0.5 0.2 0.4 0.1 0.5 0.1 0.9 0.2 0.7 0.1 0.6 0.1-0.2 0.2-0.2 0.1-0.3 0.1-0.1 0.2 0 0.1-0.1 0.1-0.3 0.2-0.4 0.1-0.4 0.1-0.3 0.2-0.1 0.1-0.2 0.1 0.3 0.2 1.2 0.1 1.2 0.2 1 0.1-0.8 0.1-0.8 0.2-0.8 0.1-0.5 0.1-0.5 0.2-0.4 0.1 0.6 0.1 1.1 0.2 1 0.1 0.5 0.1-0.1 0.2-0.1 0.1-0.3 0.1-0.7 0.2-0.8 0.1-0.5 0.1 0.3 0.2 0.3 0.1 0.4 0.1 0.2 0.2 0.3 0.1 0.2 0.1-0.1 0.2-0.2 0.1-0.3 0.1-0.2 0.2-0.2 0.1-0.1 0.1-0.1 0.2 0.3 0.1 0.2 0.1 0.1 0.2 0 0.1-0.1 0.2-0.1 0.1 0 0.1 0.1 0.2 0.1 0.1-0.1 0.1 0 0.2-0.1 0.1 0 0.1 0.1 0.2 0.1 0.1 0 0.1-0.1 0.2 0 0.1-0.1 0.1 0.2 0.2 0.2 0.1 0.2 0.1-0.4 0.2-0.4 0.1-0.4 0.1 0.3 0.2 0.4 0.1 0.5 0.1 0.2 0.2 0.1 0.1 0.1 0.1 0.1 0.2 0.4 0.1 0.3 0.1 0.2 0.2-0.2 0.1-0.2 0.1-0.3 0.2-0.3 0.1-0.2 0.2-0.3 0.1 0 0.1 0 0.2 0.1 0.1-0.2 0.1-0.4 0.2-0.4 0.1-0.2 0.1 0.3 0.2 0.2 0.1 0.2 0.1-0.4 0.2-0.3 0.1-0.2 0.1 0.5 0.2 0.7 0.1 0.7 0.1 0 0.2-0.2 0.1-0.3 0.1-0.2 0.2-0.3 0.1-0.3 0.1-0.1 0.2 0.2 0.1 0.2 0.1 0.2 0.2 0.3 0.1 0.3 0.1 0.3 0.2-0.3 0.1-0.3 0.1-0.2 0.2 0 0.1 0 0.2 0.1 0.1 0.3 0.1 0.3 0.2 0.4 0.1 0.3 0.1 0 0.2 0.1 0.1 0 0.1 0 0.2 0 0.1-0.1 0.1-0.4 0.2-0.4 0.1-0.5 0.1-0.1 0.2 0 0.1-0.1 0.1 0.1 0.2 0 0.1 0.1 0.1 0.1 0.2 0.2 0.1 0.3 0.1 0 0.2-0.7 0.1-0.7 0.1-0.6 0.2 0.6 0.1 0.7 0.1 0.7 0.2 0 0.1-0.3 0.1-0.2 0.2 0 0.1 0.1 0.2 0.1 0.1 0 0.1-0.3 0.2-0.3 0.1 0 0.1 0.8 0.2 0.9 0.1 0.9 0.1-0.7 0.2-0.7 0.1-0.7 0.1 0.1 0.2 0.2 0.1 0.2 0.1 0.1 0.2 0 0.1 0 0.1 0.1 0.2 0.3 0.1 0.3 0.1 0.2 0.2-0.1 0.1-0.1 0.1-0.1 0.2-0.6 0.1-0.6 0.1-0.6 0.2 0 0.1 0.1 0.1 0.1 0.2 0.5 0.1 0.7 0.1 0.8 0.2 0.2 0.1-0.5 0.2-0.5 0.1-0.4 0.1 0.2 0.2 0.2 0.1 0.3 0.1-0.5 0.2-0.5 0.1-0.5 0.1 0.1 0.2 0.2 0.1 0.2 0.1 0 0.2-0.1 0.1-0.1 0.1 0 0.2 0.2 0.1 0.2 0.1 0 0.2-0.2 0.1-0.3 0.1-0.3 0.2-0.2 0.1-0.2 0.1-0.2 0.2-0.2 0.1-0.1 0.1 0 0.2-0.3 0.1-0.3 0.1-0.1 0.2-0.2 0.1-0.2 0.1-0.1 0.2 0 0.1 0.4 0.2 0.4 0.1 0.3 0.1 1 0.2 0.9 0.1 0.9 0.1 0.2 0.2 0.1 0.1 0 0.1 0 0.2 0 0.1 0 0.1 0 0.2 0 0.1 0 0.1 0.1 0.2 0.1 0.1 0.2 0.1 0.1 0.2-0.2 0.1-0.1 0.1-0.2 0.2-0.3 0.1-0.4 0.1-0.5 0.2-0.1 0.1-0.1 0.1 0 0.2-0.1 0.1-0.3 0.1-0.3 0.2-0.1 0.1 0.6 0.1 0.6 0.2 0.6 0.1 0.6 0.2 0.6 0.1 0.7 0.1-0.3 0.2-0.5 0.1-0.5 0.1-0.1 0.2 0.2 0.1 0.1 0.1 0 0.2-0.2 0.1-0.2 0.1-0.1 0.2 0.1 0.1 0.1 0.1 0.1 0.2-0.5 0.1-0.5 0.1-0.6 0.2 0.4 0.1 0.6 0.1 0.6 0.2 0 0.1-0.2 0.1-0.3 0.2-0.4 0.1-0.5 0.1-0.6 0.2-0.3 0.1 0.6 0.1 0.5 0.2 0.6 0.1 0.5 0.1 0.6 0.2 0.5 0.1-0.6 0.2-0.8 0.1-0.8 0.1-0.2 0.2 0.1 0.1 0.2 0.1 0.1 0.2-0.1 0.1 0 0.1 0 0.2 0 0.1-0.1 0.1 0 0.2 0.5 0.1 0.5 0.1 0.6 0.2 0.1 0.1 0 0.1 0 0.2-0.2 0.1-0.4 0.1-0.3 0.2 0 0.1 0.6 0.1 0.6 0.2 0.4 0.1-0.3 0.1-0.2 0.2-0.3 0.1-0.6 0.1-0.7 0.2-0.6 0.1 0.5 0.1 0.8 0.2 0.8 0.1-0.1 0.2-0.5 0.1-0.5 0.1-0.3 0.2-0.3 0.1-0.2 0.1-0.1 0.2 0.4 0.1 0.3 0.1 0.4 0.2 0.1 0.1 0.1 0.1 0.2 0.2-0.5 0.1-0.5 0.1-0.5 0.2 0.3 0.1 0.8 0.1 0.9 0.2 0 0.1-0.9 0.1-1 0.2-0.5 0.1 0.8 0.1 0.8 0.2 0.8 0.1-0.3 0.1-0.3 0.2-0.3 0.1 0.3 0.1 0.4 0.2 0.3 0.1 0.1 0.1 0 0.2 0 0.1-0.3 0.2-0.6 0.1-0.6 0.1-0.4 0.2 0.2 0.1 0.3 0.1 0.3 0.2-0.1 0.1-0.2 0.1-0.1 0.2 0.5 0.1 0.5 0.1 0.6 0.2 0 0.1-0.3 0.1-0.3 0.2 0 0.1 0.3 0.1 0.3 0.2 0.1 0.1-0.4 0.1-0.4 0.2-0.3 0.1-0.2 0.1-0.1 0.2-0.2 0.1 0 0.1 0 0.2 0 0.1 0 0.1 0 0.2 0 0.1 0.2 0.1 0.3 0.2 0.4 0.1 0.2 0.2-0.4 0.1-0.4 0.1-0.3 0.2 0.3 0.1 0.3 0.1 0.3 0.2-0.4 0.1-0.5 0.1-0.6 0.2 0.1 0.1 0.5 0.1 0.5 0.2 0.1 0.1-0.5 0.1-0.4 0.2-0.2 0.1 0.5 0.1 0.5 0.2 0.4 0.1-0.3 0.1-0.3 0.2-0.3 0.1 0.1 0.1 0.1 0.2 0.2 0.1 0.3 0.1 0.6 0.2 0.5 0.1 0 0.1-0.7 0.2-0.6 0.1-0.4 0.1 0.5 0.2 0.5 0.1 0.5 0.2 0.3 0.1 0.2 0.1 0.3 0.2-0.5 0.1-0.6 0.1-0.5 0.2-0.4 0.1-0.3 0.1-0.4 0.2-0.1 0.1 0.2 0.1 0.1 0.2 0.2 0.1 0.5 0.1 0.5 0.2 0.5 0.1 0.3 0.1 0.2 0.2 0.3 0.1 0.3 0.1 0.3 0.2 0.3 0.1-0.3 0.1-0.6 0.2-0.7 0.1-0.3 0.1 0 0.2-0.1 0.1 0 0.1-0.1 0.2-0.1 0.1-0.2 0.1-0.4 0.2-0.4 0.1-0.5 0.2 0.4 0.1 0.4 0.1 0.5 0.2 0.3 0.1 0.3 0.1 0.3 0.2 0.1 0.1 0 0.1 0.1 0.2-0.1 0.1 0 0.1 0 0.2-0.1 0.1-0.1 0.1-0.1 0.2 0 0.1-0.3 0.1-0.3 0.2-0.3 0.1 0 0.1 0.2 0.2 0.2 0.1 0.1 0.1-0.1 0.2-0.1 0.1 0 0.1-0.1 0.2 0 0.1-0.1 0.1 0 0.2 0 0.1-0.1 0.1-0.1 0.2-0.1 0.1-0.1 0.2-0.2 0.1-0.2 0.1-0.1 0.2 0.2 0.1 0.7 0.1 0.7 0.2 0.4 0.1-0.2 0.1-0.2 0.2-0.2 0.1-0.1 0.1 0 0.2-0.1 0.1 0 0.1 0 0.2 0.1 0.1-0.2 0.1-0.3 0.2-0.3 0.1-0.2 0.1 0.1 0.2 0 0.1 0.1 0.1 0.5 0.2 0.4 0.1 0.3 0.1-0.7 0.2-0.7 0.1-0.7 0.1 0.2 0.2 0.4 0.1 0.3 0.1 0.1 0.2 0 0.1-0.1 0.2 0.2 0.1 0.4 0.1 0.4 0.2 0.2 0.1-0.5 0.1-0.4 0.2-0.3 0.1 0.3 0.1 0.3 0.2 0.4 0.1 0.2 0.1 0.2 0.2 0.2 0.1-0.2 0.1-0.3 0.2-0.3 0.1 0 0.1 0.3 0.2 0.4 0.1 0.2 0.1 0 0.2 0 0.1-0.4 0.1-1.2 0.2-2.3 0.1-3.7 0.1-5.2 0.2-6.5 0.1-6.2 0.1-3.5 0.2 0.5 0.1 4.3 0.1 6 0.2 5.9 0.1 4.5 0.1 2.9 0.2 1.7 0.1 0.8 0.2 0.2 0.1 0.1 0.1 0.1 0.2 0 0.1 0.2 0.1 0.3 0.2 0.2 0.1 0.2 0.1 0.2 0.2 0.2 0.1-0.2 0.1-0.5 0.2-0.6 0.1-0.2 0.1 0.6 0.2 0.6 0.1 0.5 0.1-0.3 0.2-0.2 0.1-0.3 0.1-0.2 0.2-0.2 0.1-0.2 0.1-0.2 0.2-0.1 0.1-0.2 0.1 0.1 0.2 0.5 0.1 0.4 0.1 0.3 0.2 0 0.1 0 0.1 0 0.2-0.1 0.1 0 0.2-0.1 0.1 0.1 0.1 0.1 0.2 0.1 0.1-0.2 0.1-0.3 0.2-0.2 0.1-0.2 0.1 0 0.2 0 0.1-0.2 0.1-0.8 0.2-1.7 0.1-3.3 0.1-5.4 0.2-8.7 0.1-10.9 0.1-11.2 0.2-6.9 0.1-0.1 0.1 7.2 0.2 11.5 0.1 11.9 0.1 9.2 0.2 5.8 0.1 3 0.1 1.2 0.2 0 0.1-0.4 0.1-0.4 0.2 0.6 0.1 0.5 0.1 0.5 0.2 0.5 0.1 0.5 0.2 0.5 0.1-0.2 0.1-0.4 0.2-0.4 0.1-0.2 0.1 0 0.2 0 0.1 0.1 0.1 0.4 0.2 0.4 0.1 0.3 0.1-0.6 0.2-0.6 0.1-0.6 0.1-0.2 0.2-0.2 0.1-0.2 0.1 0.2 0.2 0.4 0.1 0.5 0.1-0.1 0.2-0.4 0.1-0.5 0.1 0 0.2 0.9 0.1 1 0.1 0.7 0.2-0.9 0.1-0.8 0.1-0.9 0.2 0.2 0.1 0.2 0.1 0.2 0.2-0.4 0.1-0.7 0.2-0.7 0.1 0.1 0.1 0.6 0.2 0.7 0.1 0.5 0.1 0 0.2 0 0.1 0 0.1 0 0.2 0 0.1 0 0.1 0.1 0.2 0.1 0.1 0.1 0.1 0.1 0.2 0 0.1 0 0.1-0.2 0.2-0.3 0.1-0.3 0.1-0.2 0.2 0.1 0.1 0.2 0.1 0.1 0.2 0 0.1 0 0.1 0 0.2 0 0.1 0 0.1 0 0.2 0.2 0.1 0.3 0.1 0.3 0.2-0.3 0.1-0.8 0.2-0.7 0.1-0.2 0.1 0.8 0.2 0.9 0.1 0.7 0.1-0.6 0.2-0.6 0.1-0.6 0.1 0.3 0.2 0.3 0.1 0.4 0.1-0.2 0.2-0.4 0.1-0.3 0.1 0 0.2 0.4 0.1 0.4 0.1 0.1 0.2-0.4 0.1-0.4 0.1-0.3 0.2 0.2 0.1 0.1 0.1 0.2 0.2-0.2 0.1-0.2 0.1-0.2 0.2-0.2 0.1-0.3 0.1-0.2 0.2 0.2 0.1 0.5 0.1 0.6 0.2 0.3 0.1 0 0.2 0 0.1 0.2 0.1 0.7 0.2 0.8 0.1 0.8 0.1-0.7 0.2-0.7 0.1-0.7 0.1-0.4 0.2-0.3 0.1-0.2 0.1 0 0.2 0.4 0.1 0.3 0.1 0.2 0.2-0.1 0.1-0.1 0.1-0.1 0.2 0.1 0.1 0.1 0.1 0 0.2 0.6 0.1 0.5 0.1 0.5 0.2-0.5 0.1-0.8 0.1-0.9 0.2-0.1 0.1 0.5 0.1 0.5 0.2 0.3 0.1 0.2 0.1 0.2 0.2 0 0.1-0.7 0.2-0.7 0.1-0.7 0.1 0.2 0.2 0.2 0.1 0.1 0.1 0 0.2 0 0.1-0.1 0.1 0.1 0.2 0.1 0.1 0.1 0.1 0.2 0.2 0.2 0.1 0.2 0.1 0.2 0.2-0.5 0.1-0.5 0.1-0.4 0.2 0.4 0.1 0.6 0.1 0.5 0.2-0.2 0.1-0.3 0.1-0.3 0.2 0 0.1 0.4 0.1 0.4 0.2 0.2 0.1 0 0.1 0.1 0.2-0.1 0.1-0.6 0.1-0.6 0.2-0.6 0.1 0.5 0.2 0.5 0.1 0.4 0.1-0.4 0.2-0.7 0.1-0.8 0.1 0.2 0.2 0.9 0.1 0.9 0.1 0.2 0.2-0.7 0.1-0.7 0.1-0.5 0.2 0.4 0.1 0.4 0.1 0.4 0.2-0.3 0.1-0.4 0.1-0.3 0.2 0 0.1 0 0.1 0 0.2 0.4 0.1 0.8 0.1 0.7 0.2 0.2 0.1-0.7 0.1-0.8 0.2-0.5 0.1 0.2 0.1 0.3 0.2 0.3 0.1 0.2 0.1 0.2 0.2 0.1 0.1-0.4 0.2-0.6 0.1-0.6 0.1-0.1 0.2 0.2 0.1 0.1 0.1 0.2 0.2-0.1 0.1 0 0.1-0.1 0.2-0.3 0.1-0.3 0.1-0.3 0.2 0.1 0.1 0.2 0.1 0.1 0.2 0.2 0.1 0.3 0.1 0.2 0.2 0.3 0.1 0.3 0.1 0.2 0.2-0.1 0.1-0.7 0.1-0.7 0.2-0.4 0.1 0.7 0.1 0.6 0.2 0.6 0.1 0.3 0.1 0.3 0.2 0.3 0.1-0.8 0.1-1.1 0.2-1.1 0.1-0.4 0.2-0.1 0.1 0 0.1 0.4 0.2 1.1 0.1 1.1 0.1 0.8 0.2-0.6 0.1-0.6 0.1-0.6 0.2 0.5 0.1 0.6 0.1 0.5 0.2-0.4 0.1-0.6 0.1-0.6 0.2-0.1 0.1 0.4 0.1 0.3 0.2 0.3 0.1 0.3 0.1 0.3 0.2 0.1 0.1-0.8 0.1-0.7 0.2-0.7 0.1 0.6 0.1 0.5 0.2 0.6 0.1-0.2 0.1-0.4 0.2-0.4 0.1 0.1 0.1 0.3 0.2 0.3 0.1-0.1 0.2-0.7 0.1-0.7 0.1-0.5 0.2 0.2 0.1 0.2 0.1 0.2 0.2 0.4 0.1 0.5 0.1 0.5 0.2 0.5 0.1 0.5 0.1 0.5 0.2-0.2 0.1-0.8 0.1-0.7 0.2-0.3 0.1 0.4 0.1 0.4 0.2 0.2 0.1-0.7 0.1-0.6 0.2-0.6 0.1-0.1 0.1-0.1 0.2-0.1 0.1 0.3 0.1 0.5 0.2 0.5 0.1 0 0.1-0.3 0.2-0.2 0.1 0.1 0.1 0.7 0.2 0.7 0.1 0.4 0.2-0.6 0.1-0.5 0.1-0.6 0.2-0.3 0.1-0.3 0.1-0.3 0.2 0.7 0.1 0.9 0.1 0.9 0.2 0 0.1-0.6 0.1-0.6 0.2-0.3 0.1 0.2 0.1 0.1 0.2 0.2 0.1-0.2 0.1-0.1 0.2-0.1 0.1 0.3 0.1 0.3 0.2 0.4 0.1 0.2 0.1 0.2 0.2 0.2 0.1 0 0.1-0.1 0.2 0 0.1 0.2 0.1 0.7 0.2 0.7 0.1 0.7 0.1 0.3 0.2 0.3 0.1 0.4 0.2 0.9 0.1 0.9 0.1 0.9 0.2 0.2 0.1-0.1 0.1-0.1 0.2 0.1 0.1 0.2 0.1 0.1 0.2 0.1 0.1 0.2 0.1 0.1 0.2 0 0.1-0.2 0.1-0.3 0.2-0.4 0.1 0.1 0.1 0.1 0.2 0.1 0.1-0.6 0.1-0.6 0.2-0.7 0.1-0.7 0.1-0.7 0.2-0.8 0.1-1.1 0.1-1.9 0.2-3.9 0.1-7.5 0.1-13.2 0.2-19.2 0.1-24.3 0.1-24.8 0.2-20.9 0.1-11.1 0.2 2.3 0.1 14.9 0.1 22.5 0.2 22.4 0.1 16.2 0.1 6.3 0.2-4.5 0.1-14.1 0.1-21.3 0.2-22.8 0.1-17.8 0.1-6.1 0.2 7.8 0.1 19.3 0.1 25.5 0.2 25.4 0.1 20.9 0.1 14.9 0.2 9.3 0.1 5.1 0.1 2.7 0.2 1.5 0.1 1.6 0.1 2 0.2 1.6 0.1 1.3 0.1 0.7 0.2 0.5 0.1 0.4 0.1 0.7 0.2 0.5 0.1 0.5 0.1 0 0.2 0 0.1 0 0.2-0.2 0.1-0.3 0.1-0.3 0.2-0.1 0.1 0.2 0.1 0.1 0.2 0.2 0.1 0 0.1 0.1 0.2 0 0.1 0 0.1-0.1 0.2-0.1 0.1 0.1 0.1 0.1 0.2 0.1 0.1 0.1 0.1 0 0.2 0 0.1 0.1 0.1 0.2 0.2 0.1 0.1 0.2 0.1 0 0.2 0.1 0.1 0 0.1 0 0.2-0.1 0.1-0.1 0.1-0.1 0.2 0 0.1 0 0.1 0 0.2 0.1 0.1 0 0.2 0 0.1-0.2 0.1-0.1 0.2-0.2 0.1-0.1 0.1-0.1 0.2-0.1 0.1 0.2 0.1 0.2 0.2 0.2 0.1 0.2 0.1 0.1 0.2 0.2 0.1 0 0.1 0 0.2 0 0.1-0.2 0.1-0.2 0.2-0.2 0.1-0.2 0.1 0 0.2 0.1 0.1 0 0.1 0.1 0.2 0 0.1 0.1 0.1 0 0.2-0.1 0.1 0 0.1-0.1 0.2 0 0.1-0.1 0.1 0.1 0.2 0.1 0.1 0.1 0.2 0.1 0.1 0 0.1-0.1 0.2 0 0.1 0.1 0.1 0.1 0.2 0 0.1 0.2 0.1 0.2 0.2 0.2 0.1-0.1 0.1-0.2 0.2-0.3 0.1-0.1 0.1 0.1 0.2 0 0.1 0 0.1-0.1 0.2 0 0.1 0 0.1 0.1 0.2 0.1 0.1 0.1 0.1-0.1 0.2-0.1 0.1-0.1 0.1 0 0.2 0 0.1 0 0.1 0.1 0.2 0 0.1 0.1 0.1 0.1 0.2 0.1 0.1 0 0.2 0.1 0.1 0 0.1-0.1 0.2 0 0.1-0.1 0.1-0.1 0.2-0.1 0.1-0.1 0.1 0 0.2-0.1 0.1 0 0.1-0.1 0.2-0.1 0.1 0 0.1 0.2 0.2 0.2 0.1 0.1 0.1 0 0.2-0.1 0.1 0 0.1-0.1 0.2 0 0.1-0.1 0.1 0.1 0.2 0.2 0.1 0.3 0.1 0 0.2-0.2 0.1-0.1 0.1-0.1 0.2 0.1 0.1 0.1 0.1 0.1 0.2 0 0.1 0 0.2 0 0.1-0.1 0.1-0.1 0.2-0.1 0.1 0 0.1 0.1 0.2 0.1 0.1 0.1 0.1-0.1 0.2 0 0.1 0 0.1 0.1 0.2 0.2 0.1 0.1 0.1-0.1 0.2-0.1 0.1-0.1 0.1 0 0.2 0.1 0.1 0.1 0.1 0 0.2-0.1 0.1 0 0.1-0.2 0.2-0.3 0.1-0.3 0.1-0.1 0.2 0.3 0.1 0.2 0.1 0.3 0.2 0 0.1 0 0.1 0.1 0.2 0 0.1 0 0.2 0 0.1 0.1 0.1 0 0.2 0 0.1-0.1 0.1-0.2 0.2-0.2 0.1-0.1 0.1 0.2 0.2 0.2 0.1 0.2 0.1-0.3 0.2-0.3 0.1-0.2 0.1 0.2 0.2 0.2 0.1 0.3 0.1-0.1 0.2-0.1 0.1-0.1 0.1 0 0.2 0.1 0.1 0.1 0.1 0.1 0.2 0.1 0.1 0 0.1 0.1 0.2-0.1 0.1 0 0.1 0 0.2-0.2 0.1-0.1 0.1-0.1 0.2 0 0.1 0.2 0.2 0.1 0.1 0.2 0.1 0.1 0.2 0.2 0.1 0 0.1-0.3 0.2-0.4 0.1-0.3 0.1 0.3 0.2 0.2 0.1 0.3 0.1-0.1 0.2 0 0.1 0 0.1-0.2 0.2-0.1 0.1-0.2 0.1 0.1 0.2 0.3 0.1 0.3 0.1 0.2 0.2-0.1 0.1-0.2 0.1-0.1 0.2-0.1 0.1-0.1 0.1-0.1 0.2 0 0.1 0 0.1 0 0.2 0 0.1 0 0.1 0 0.2 0.1 0.1 0.2 0.2 0.1 0.1 0.1 0.1-0.2 0.2-0.2 0.1-0.1 0.1 0.1 0.2 0.1 0.1 0.2 0.1-0.1 0.2 0 0.1-0.1 0.1 0.1 0.2 0.1 0.1 0.1 0.1-0.1 0.2-0.2 0.1-0.3 0.1-0.1 0.2 0.2 0.1 0.2 0.1 0.2 0.2 0 0.1-0.1 0.1 0 0.2 0.1 0.1 0 0.1 0.1 0.2-0.1 0.1-0.1 0.1-0.1 0.2 0.1 0.1 0.2 0.1 0.1 0.2 0.1 0.1-0.1 0.2-0.1 0.1-0.1 0.1 0 0.2 0 0.1 0 0.1-0.2 0.2-0.1 0.1-0.2 0.1 0.1 0.2 0.2 0.1 0.2 0.1 0.1 0.2-0.1 0.1 0 0.1 0 0.2 0 0.1 0 0.1-0.1 0.2-0.1 0.1 0 0.1-0.1 0.2-0.1 0.1-0.1 0.1-0.1 0.2 0.1 0.1 0.1 0.1 0.2 0.2 0.1 0.1 0 0.1-0.1 0.2 0 0.1-0.1 0.1-0.1 0.2-0.1 0.1 0.2 0.2 0.1 0.1 0.2 0.1 0 0.2-0.1 0.1 0 0.1 0.1 0.2 0.1 0.1 0.1 0.1 0 0.2-0.1 0.1 0 0.1 0 0.2 0.1 0.1 0 0.1 0 0.2-0.2 0.1-0.3 0.1-0.3 0.2 0.1 0.1 0.1 0.1 0.2 0.2 0 0.1 0 0.1 0.1 0.2 0 0.1 0.2 0.1 0.2 0.2 0 0.1-0.1 0.1-0.1 0.2 0 0.1 0 0.1 0.1 0.2 0.1 0.1 0 0.2 0 0.1 0 0.1 0.1 0.2 0 0.1 0.1 0.1 0 0.2-0.1 0.1 0 0.1-0.2 0.2-0.3 0.1-0.3 0.1-0.2 0.2 0.3 0.1 0.3 0.1 0.3 0.2-0.1 0.1-0.1 0.1-0.1 0.2-0.1 0.1 0 0.1 0 0.2 0 0.1 0 0.1 0.1 0.2 0 0.1 0 0.1-0.1 0.2 0.1 0.1 0.1 0.1 0.2 0.2 0.2 0.1-0.3 0.1-0.2 0.2-0.3 0.1 0 0.2-0.1 0.1 0 0.1 0 0.2 0.2 0.1 0.2 0.1 0.2 0.2 0.1 0.1 0 0.1 0.1 0.2 0 0.1 0 0.1 0.1 0.2 0 0.1 0.1 0.1 0 0.2-0.1 0.1-0.2 0.1-0.2 0.2-0.1 0.1 0 0.1 0 0.2-0.1 0.1 0 0.1-0.1 0.2 0 0.1 0.2 0.1 0.3 0.2 0.3 0.1-0.2 0.1-0.2 0.2-0.2 0.1 0 0.1 0 0.2 0 0.1 0.1 0.2 0.1 0.1 0.1 0.1 0.1 0.2 0 0.1 0.1 0.1 0 0.2-0.1 0.1-0.1 0.1-0.1 0.2-0.2 0.1-0.2 0.1-0.2 0.2 0.3 0.1 0.3 0.1 0.3 0.2 0.1 0.1 0 0.1-0.1 0.2 0 0.1 0 0.1 0 0.2 0 0.1-0.1 0.1 0 0.2-0.1 0.1-0.1 0.1-0.1 0.2-0.1 0.1 0.1 0.1 0.1 0.2 0.2 0.1 0.2 0.1 0.1 0.2 0.2 0.1 0.1 0.2-0.1 0.1-0.1 0.1-0.1 0.2 0 0.1 0 0.1 0 0.2-0.1 0.1-0.2 0.1-0.1 0.2 0 0.1 0 0.1 0 0.2 0.1 0.1 0.1 0.1 0.1 0.2 0 0.1-0.1 0.1-0.2 0.2-0.1 0.1 0.2 0.1 0.3 0.2 0.2 0.1-0.1 0.1-0.2 0.2-0.1 0.1-0.2 0.1-0.1 0.2-0.2 0.1 0.1 0.1 0.3 0.2 0.3 0.1 0.1 0.1-0.2 0.2-0.2 0.1-0.2 0.2 0 0.1-0.1 0.1 0 0.2 0.1 0.1 0.2 0.1 0.1 0.2 0 0.1-0.1 0.1 0 0.2 0.1 0.1 0.1 0.1 0.2 0.2 0 0.1-0.2 0.1-0.1 0.2-0.1 0.1 0.1 0.1 0.2 0.2 0.1 0.1-0.1 0.1 0 0.2-0.1 0.1-0.1 0.1-0.1 0.2-0.1 0.1 0.1 0.1 0 0.2 0.1 0.1 0.1 0.1 0.1 0.2 0 0.1 0.1 0.1-0.1 0.2-0.1 0.1-0.1 0.2 0 0.1 0 0.1 0 0.2 0.1 0.1 0 0.1 0.1 0.2 0.1 0.1 0.1 0.1 0.1 0.2 0 0.1-0.2 0.1-0.1 0.2-0.2 0.1-0.1 0.1-0.1 0.2-0.1 0.1 0.2 0.1 0.1 0.2 0.2 0.1 0 0.1 0 0.2 0 0.1 0 0.1 0 0.2 0 0.1-0.1 0.1-0.1 0.2 0 0.1-0.1 0.1 0.2 0.2 0.2 0.1 0.2 0.1-0.2 0.2-0.3 0.1-0.2 0.2-0.1 0.1-0.1 0.1-0.2 0.2 0.1 0.1 0.1 0.1 0.2 0.2 0.1 0.1 0 0.1 0.1 0.2 0 0.1 0 0.1-0.1 0.2 0 0.1 0 0.1 0 0.2 0 0.1 0.1 0.1 0 0.2 0.1 0.1 0 0.1-0.1 0.2-0.2 0.1-0.3 0.1-0.7 0.2-1.1 0.1-1.6 0.1-2.2 0.2-2.1 0.1-1.8 0.1-0.9 0.2 0.3 0.1 1.3 0.1 2.1 0.2 2.3 0.1 2 0.1 1.2 0.2 0.6 0.1 0.3 0.2 0.2 0.1 0.4 0.1 0.3 0.2 0.2 0.1-0.1 0.1-0.2 0.2-0.1 0.1 0.1 0.1 0.1 0.2 0.2 0.1-0.1 0.1 0 0.2-0.1 0.1 0 0.1 0 0.2 0 0.1 0.1 0.1 0.2 0.2 0.2 0.1 0 0.1-0.1 0.2-0.2 0.1-0.1 0.1-0.1 0.2 0 0.1-0.1 0.1 0 0.2 0 0.1 0 0.1 0.1 0.2 0.2 0.1 0.2 0.1 0.1 0.2 0 0.1 0 0.2-0.1 0.1-0.2 0.1-0.2 0.2-0.2 0.1 0.2 0.1 0.2 0.2 0.1 0.1-0.2 0.1-0.3 0.2-0.3 0.1 0 0.1 0.2 0.2 0.2 0.1 0 0.1 0 0.2 0 0.1 0.1 0.1 0 0.2 0.1 0.1 0 0.1 0.1 0.2 0 0.1 0.1 0.1-0.1 0.2-0.1 0.1-0.1 0.1 0 0.2 0.1 0.1 0 0.1 0 0.2-0.2 0.1-0.2 0.1-0.1 0.2 0.2 0.1 0.1 0.2 0.1 0.1 0 0.1 0 0.2 0 0.1-0.1 0.1 0 0.2-0.1 0.1 0 0.1 0 0.2 0 0.1 0.1 0.1 0.3 0.2 0.3 0.1 0.1 0.1-0.4 0.2-0.4 0.1-0.3 0.1 0.3 0.2 0.4 0.1 0.3 0.1 0 0.2 0 0.1-0.1 0.1 0 0.2-0.1 0.1-0.1 0.1 0 0.2 0.1 0.1 0 0.1 0 0.2-0.3 0.1-0.2 0.1-0.2 0.2 0.1 0.1 0.2 0.2 0.2 0.1 0.1 0.1 0.1 0.2 0.1 0.1 0 0.1-0.1 0.2 0 0.1 0 0.1 0 0.2 0 0.1 0.1 0.1 0 0.2-0.1 0.1 0 0.1-0.1 0.2-0.1 0.1-0.1 0.1 0 0.2 0 0.1 0 0.1 0 0.2 0.1 0.1 0 0.1 0.1 0.2 0.1 0.1 0.2 0.1 0 0.2 0 0.1-0.1 0.1-0.1 0.2-0.1 0.1-0.2 0.1-0.1 0.2 0 0.1 0 0.2 0.1 0.1 0 0.1 0.1 0.2 0.1 0.1 0 0.1-0.1 0.2-0.1 0.1 0 0.1 0.2 0.2 0.3 0.1 0.2 0.1-0.1 0.2-0.1 0.1-0.1 0.1-0.1 0.2-0.1 0.1 0 0.1-0.1 0.2 0 0.1 0 0.1-0.1 0.2 0 0.1-0.1 0.1 0 0.2 0.1 0.1 0.1 0.1 0 0.2 0 0.1 0 0.1 0 0.2 0 0.1 0 0.1 0 0.2 0.1 0.1 0.1 0.2 0.2 0.1 0 0.1-0.1 0.2-0.1 0.1-0.1 0.1-0.2 0.2-0.1 0.1-0.1 0.1 0 0.2 0.1 0.1 0.1 0.1 0.1 0.2 0.1 0.1 0.1 0.1 0 0.2-0.1 0.1 0 0.1-0.1 0.2-0.2 0.1-0.1 0.1-0.1 0.2 0 0.1 0 0.1 0 0.2 0 0.1 0 0.1-0.1 0.2 0.1 0.1 0 0.1 0.1 0.2 0.1 0.1 0.1 0.1 0.2 0.2 0.1 0.1 0 0.2 0 0.1 0 0.1 0.2 0.2 0.1 0.1 0.1 0.1-0.3 0.2-0.3 0.1-0.2 0.1-0.1 0.2 0 0.1 0 0.1 0 0.2-0.1 0.1-0.1 0.1 0.1 0.2 0.3 0.1 0.3 0.1 0.1 0.2-0.2 0.1-0.3 0.1-0.2 0.2 0.1 0.1 0.1 0.1 0.1 0.2 0.1 0.1 0 0.1 0.1 0.2 0 0.1 0 0.1 0 0.2 0 0.1 0.2 0.1 0.1 0.2 0.1 0.1-0.1 0.2-0.1 0.1-0.1 0.1 0.1 0.2 0 0.1 0.1 0.1 0 0.2 0 0.1-0.1 0.1-0.1 0.2 0 0.1-0.1 0.1 0 0.2 0.1 0.1 0 0.1 0.1 0.2-0.2 0.1-0.1 0.1-0.1 0.2 0.2 0.1 0.1 0.1 0.2 0.2 0 0.1-0.1 0.1 0 0.2 0 0.1 0 0.1 0 0.2 0 0.1-0.1 0.1-0.1 0.2 0 0.1 0 0.1 0 0.2 0 0.1-0.1 0.2-0.1 0.1 0 0.1 0.1 0.2 0.1 0.1 0.1 0.1 0.1 0.2 0 0.1 0.1 0.1-0.1 0.2-0.1 0.1-0.1 0.1-0.1 0.2-0.1 0.1-0.2 0.1-0.1 0.2 0.1 0.1 0.1 0.1 0.1 0.2 0.2 0.1 0.3 0.1 0.3 0.2-0.1 0.1-0.2 0.1-0.2 0.2 0 0.1 0 0.1 0.1 0.2 0 0.1 0 0.1 0 0.2-0.1 0.1-0.1 0.1-0.1 0.2-0.1 0.1 0.1 0.2 0.1 0.1 0 0.1 0.1 0.2 0 0.1 0 0.1 0.1 0.2 0.1 0.1 0.2 0.1 0 0.2-0.1 0.1-0.2 0.1-0.1 0.2 0.1 0.1 0.1 0.1 0 0.2-0.1 0.1-0.1 0.1-0.1 0.2 0 0.1-0.1 0.1-0.1 0.2 0.1 0.1 0.2 0.1 0.1 0.2 0.1 0.1 0 0.1-0.1 0.2 0 0.1-0.1 0.1-0.1 0.2-0.1 0.1 0.2 0.1 0.2 0.2 0.3 0.1-0.1 0.2 0 0.1-0.1 0.1 0 0.2 0 0.1 0.1 0.1 0 0.2 0 0.1-0.1 0.1-0.1 0.2-0.1 0.1 0 0.1-0.1 0.2 0.1 0.1 0 0.1 0 0.2-0.1 0.1-0.2 0.1-0.1 0.2-0.1 0.1 0.1 0.1 0 0.2 0.1 0.1 0.1 0.1 0 0.2 0.1 0.1-0.1 0.1-0.1 0.2-0.1 0.1-0.1 0.1-0.1 0.2 0 0.1 0.1 0.1 0.2 0.2 0.2 0.1 0.1 0.2 0 0.1 0 0.1 0 0.2-0.1 0.1 0 0.1-0.1 0.2-0.1 0.1 0 0.1-0.1 0.2 0.3 0.1 0.3 0.1 0.3 0.2-0.1 0.1-0.2 0.1-0.2 0.2-0.2 0.1-0.3 0.1-0.2 0.2-0.1 0.1 0.3 0.1 0.2 0.2 0.2 0.1-0.2 0.1-0.2 0.2-0.1 0.1-0.1 0.1-0.1 0.2 0 0.1 0.1 0.1 0.2 0.2 0.1 0.1 0 0.1-0.1 0.2-0.2 0.1 0 0.2 0.2 0.1 0.2 0.1 0.3 0.2 0.1 0.1 0.2 0.1 0.2 0.2-0.1 0.1-0.2 0.1-0.1 0.2-0.1 0.1-0.2 0.1-0.2 0.2-0.2 0.1-0.1 0.1-0.1 0.2 0 0.1 0.2 0.1 0.2 0.2 0.2 0.1 0.2 0.1 0.2 0.2 0.2 0.1-0.1 0.1-0.2 0.2-0.1 0.1 0.1 0.1 0.2 0.2 0.2 0.1 0 0.1-0.2 0.2-0.2 0.1-0.2 0.1-0.2 0.2-0.1 0.1-0.1 0.2 0.2 0.1 0.3 0.1 0.2 0.2 0 0.1 0 0.1 0 0.2 0 0.1 0 0.1-0.1 0.2 0 0.1 0 0.1 0 0.2-0.1 0.1 0 0.1-0.1 0.2-0.1 0.1 0 0.1 0 0.2 0.1 0.1-0.1 0.1 0 0.2-0.1 0.1 0.2 0.1 0.1 0.2 0.2 0.1 0 0.1-0.3 0.2-0.2 0.1-0.1 0.1 0.1 0.2 0 0.1 0.1 0.1 0.2 0.2 0.1 0.1 0.2 0.2-0.1 0.1 0 0.1 0 0.2 0 0.1 0 0.1 0 0.2 0 0.1 0.2 0.1 0.1 0.2-0.1 0.1-0.4 0.1-0.3 0.2-0.3 0.1 0.1 0.1 0.2 0.2 0.1 0.1 0 0.1 0.1 0.2 0.1 0.1-0.1 0.1-0.1 0.2-0.1 0.1 0 0.1 0.1 0.2 0.2 0.1 0 0.1 0 0.2 0 0.1 0 0.1-0.1 0.2-0.2 0.1-0.1 0.1 0.2 0.2 0.2 0.1 0.3 0.2 0 0.1 0 0.1 0 0.2 0 0.1 0.1 0.1 0.1 0.2 0 0.1-0.1 0.1-0.1 0.2-0.1 0.1-0.2 0.1-0.1 0.2-0.2 0.1 0.1 0.1 0.2 0.2 0.1 0.1-0.1" stroke="#ff0000"/>
</g>
<rect x="542.5" y="64.5" width="181.0" height="95.0" fill="#fff" stroke="#b8b8b8" stroke-width="1"/>
<line x1="572.67" y1="159.5" x2="572.67" y2="157.5" stroke="#b8b8b8" stroke-width="1"/>
<line x1="572.67" y1="64.5" x2="572.67" y2="66.5" stroke="#b8b8b8" stroke-width="1"/>
<text transform="translate(557.07 193.0) rotate(-27.5)" x="-27.14" y="8.26" font-size="24.0" style="font-kerning:none">1100</text>
<line x1="633" y1="159.5" x2="633" y2="157.5" stroke="#b8b8b8" stroke-width="1"/>
<line x1="633" y1="64.5" x2="633" y2="66.5" stroke="#b8b8b8" stroke-width="1"/>
<text transform="translate(617.4 193.0) rotate(-27.5)" x="-27.14" y="8.26" font-size="24.0" style="font-kerning:none">1110</text>
<line x1="693.33" y1="159.5" x2="693.33" y2="157.5" stroke="#b8b8b8" stroke-width="1"/>
<line x1="693.33" y1="64.5" x2="693.33" y2="66.5" stroke="#b8b8b8" stroke-width="1"/>
<text transform="translate(677.73 193.0) rotate(-27.5)" x="-27.14" y="8.26" font-size="24.0" style="font-kerning:none">1120</text>
<g fill="none" stroke-width="1.6" stroke-linejoin="round">
<path d="M542.5 157.3l0.6 0.2 0.6 0.1 0.6-0.5 0.6 0.5 0.6-0.2 0.6 0.2 0.6-0.1 0.6 0.2 0.6-0.6 0.7 0.8 0.6-0.2 0.6-0.5 0.6 0.4 0.6-0.1 0.6-0.7 0.6 0.7 0.6-0.3 0.6 0.1 0.6-0.1 0.6 0 0.6 0.2 0.6 0 0.6-0.5 0.6 0.4 0.6-0.4 0.6 0.1 0.6 0.2 0.6 0.4 0.7-0.1 0.6-0.3 0.6-0.1 0.6 0 0.6 0.3 0.6 0.2 0.6-0.3 0.6 0.2 0.6-0.1 0.6 0.4 0.6-1.1 0.6 0 0.6 0.5 0.6 0.3 0.6-0.3 0.6 0.2 0.6-0.5 0.6 0 0.7 0.2 0.6 0.4 0.6 0 0.6-0.4 0.6 0.2 0.6-0.2 0.6 0.2 0.6-0.4 0.6 0.4 0.6-0.3 0.6 0.2 0.6-0.1 0.6-0.1 0.6 0.3 0.6-0.2 0.6 0.1 0.6-0.1 0.6 0.3 0.6-0.4 0.7 0.5 0.6 0.1 0.6-0.5 0.6 0.6 0.6 0.1 0.6-0.5 0.6-0.5 0.6-0.1 0.6 0.4 0.6 0.6 0.6-0.3 0.6 0 0.6-0.3 0.6-0.2 0.6 0.4 0.6-0.5 0.6 0.3 0.6 0.2 0.6-0.2 0.7 0.2 0.6-0.3 0.6 0.3 0.6-0.1 0.6-0.6 0.6 0.2 0.6 0.1 0.6 0.4 0.6-0.2 0.6 0 0.6 0 0.6 0.1 0.6 0.1 0.6-0.5 0.6-0.3 0.6 0.7 0.6-0.3 0.6 0.1 0.7-0.1 0.6-0.3 0.6-0.1 0.6 0.7 0.6 0 0.6 0 0.6-0.3 0.6 0 0.6-0.2 0.6 0.1 0.6-0.1 0.6-0.1 0.6 0.2 0.6 0.5 0.6-1.1 0.6 0.7 0.6 0 0.6-0.6 0.6 0.4 0.7-0.1 0.6-0.2 0.6 0 0.6-0.3 0.6 0.9 0.6 0.1 0.6-0.2 0.6-0.6 0.6 0.1 0.6 0 0.6-0.4 0.6 0.1 0.6 0.2 0.6-0.4 0.6-0.4 0.6 0 0.6 0.4 0.6-0.2 0.6-0.1 0.7 0.4 0.6-0.5 0.6-0.4 0.6 0 0.6 0.5 0.6-1.3 0.6 0.6 0.6-0.4 0.6-0.9 0.6-0.6 0.6-0.1 0.6-1.1 0.6-1.1 0.6-0.4 0.6-1.7 0.6-1.4 0.6-1.7 0.6-2 0.7-1.9 0.6-2.5 0.6-2.4 0.6-2.6 0.6-3 0.6-3.1 0.6-3.2 0.6-3.6 0.6-3.8 0.6-2.8 0.6-4 0.6-2.5 0.6-2.2 0.6-2.6 0.6-0.4 0.6-1.4 0.6-0.2 0.6 1 0.6 1.4 0.7 2.2 0.6 2.5 0.6 3.2 0.6 2.7 0.6 3.3 0.6 3 0.6 3.7 0.6 2.8 0.6 2.8 0.6 3.8 0.6 2 0.6 2.4 0.6 2.3 0.6 2.4 0.6 1.1 0.6 1.8 0.6 1.5 0.6 1.4 0.6 0.2 0.7 0.7 0.6 0.2 0.6 1.2 0.6-0.5 0.6 0 0.6-0.1 0.6-0.6 0.6-0.2 0.6-1 0.6 0 0.6-1.5 0.6-1.2 0.6-1 0.6-2.4 0.6-1.2 0.6-2.2 0.6-3.2 0.6-2.4 0.7-3.4 0.6-3.2 0.6-4 0.6-4.3 0.6-3.8 0.6-4.7 0.6-4.5 0.6-4.5 0.6-4.6 0.6-4.7 0.6-5 0.6-3.5 0.6-3.9 0.6-2.6 0.6-2.8 0.6-1 0.6-1 0.6 0.2 0.6 1.2 0.7 1.4 0.6 3.5 0.6 3.3 0.6 3.6 0.6 4.7 0.6 4.6 0.6 4.7 0.6 4.6 0.6 4.9 0.6 4.6 0.6 4.2 0.6 4.1 0.6 3.8 0.6 3.7 0.6 3.7 0.6 2.7 0.6 2.5 0.6 2.9 0.6 2.4 0.7 1.5 0.6 2 0.6 1.3 0.6 0.8 0.6 1.4 0.6 0.8 0.6 0.9 0.6-0.3 0.6 1.6 0.6 0.5 0.6-0.1 0.6 1 0.6-0.1 0.6 0.4 0.6 0.5 0.6 0.3 0.6-0.1 0.6 0.3 0.7 0.1 0.6-0.2 0.6 0.9 0.6-0.1 0.6-0.1 0.6 0.4 0.6 0 0.6-0.2 0.6 0.5 0.6-0.1 0.6 0.2 0.6 0.2 0.6 0.1 0.6 0.4 0.6-0.4 0.6 0 0.6-0.1 0.6 0.1 0.6 0.5 0.7 0 0.6-0.3 0.6 0.2 0.6 0.1 0.6 0.7 0.6-0.7 0.6 0.5 0.6-0.6 0.6 0.5 0.6 0.6" stroke="#000"/>
<path d="M542.5 156.4l0.6 1 0.6-1.3 0.6 0.8 0.6-0.5 0.6 0.5 0.6-0.1 0.6 0.5 0.6-0.3 0.6 0 0.7-0.3 0.6 0.4 0.6-0.6 0.6 0.1 0.6 0 0.6 0.6 0.6 0.7 0.6-1 0.6 0.9 0.6-1.4 0.6 0.2 0.6 0.5 0.6 0.1 0.6 0 0.6 0.4 0.6-0.8 0.6 0.6 0.6-0.4 0.6-1.4 0.7 0.8 0.6 0.2 0.6 0.3 0.6 0.2 0.6-0.3 0.6 0.7 0.6-1.1 0.6 0.5 0.6 0.4 0.6-0.9 0.6 1 0.6-0.1 0.6-0.5 0.6 0.1 0.6-0.1 0.6 0.1 0.6 0.5 0.6-0.3 0.7-0.9 0.6 0 0.6 0.9 0.6-1.4 0.6 0.4 0.6 0.5 0.6 0.2 0.6 0.6 0.6-0.5 0.6 1.5 0.6-1.5 0.6 0.3 0.6 0.1 0.6-0.5 0.6 0.4 0.6-0.1 0.6-0.2 0.6-0.4 0.6 0.1 0.7 0.5 0.6-0.3 0.6 0.2 0.6 0 0.6-0.1 0.6-0.1 0.6 0.2 0.6 0.1 0.6 0.3 0.6-0.4 0.6-0.5 0.6-0.1 0.6 0.6 0.6-1 0.6 0.5 0.6 0.7 0.6-0.6 0.6-0.2 0.6 0.9 0.7-1.8 0.6 1.2 0.6-0.2 0.6 0 0.6 0.6 0.6 0.2 0.6-0.1 0.6-0.3 0.6-0.1 0.6-0.3 0.6 0.1 0.6-0.7 0.6 0.5 0.6 0.5 0.6-0.4 0.6 0.5 0.6-1.1 0.6 0.4 0.7-0.2 0.6 0.9 0.6-0.6 0.6 0 0.6-0.4 0.6 0.3 0.6-0.3 0.6 0.2 0.6 1.2 0.6-1.5 0.6 0.4 0.6-0.3 0.6 1 0.6-1.1 0.6 0.1 0.6 0.5 0.6 0.5 0.6-0.6 0.6-0.4 0.7-0.9 0.6-0.5 0.6 1.5 0.6 0 0.6 0.5 0.6-0.4 0.6-0.3 0.6 0.6 0.6 0.1 0.6-1.1 0.6 0.6 0.6 0.1 0.6-1 0.6 0.4 0.6-0.4 0.6 0.4 0.6-0.3 0.6-1.6 0.6 0.5 0.7 0.4 0.6-0.7 0.6-1.1 0.6-0.3 0.6-0.8 0.6 0 0.6-1.4 0.6 0.3 0.6-1 0.6-0.6 0.6-1.3 0.6-1.2 0.6-1.3 0.6-1.4 0.6-2.5 0.6-0.4 0.6-2.1 0.6-2.3 0.7 0.1 0.6-2.3 0.6-2.4 0.6-0.7 0.6-1.5 0.6-1.6 0.6-0.9 0.6-2.4 0.6-0.2 0.6-1.8 0.6-0.1 0.6-0.4 0.6-0.8 0.6 1.4 0.6-1.7 0.6 0.6 0.6 1.1 0.6 0.8 0.6 1.9 0.7 0.5 0.6 2.2 0.6 0.6 0.6 2.1 0.6 1.5 0.6 1.2 0.6 1.8 0.6 1.3 0.6 2.2 0.6 1.5 0.6 0 0.6 1.6 0.6 1.3 0.6 0.7 0.6 1.4 0.6 0.9 0.6-1.5 0.6 1 0.6 1 0.7-0.3 0.6-0.6 0.6-0.1 0.6-0.2 0.6 0.1 0.6-1.9 0.6-0.3 0.6-0.5 0.6-1.4 0.6-1.8 0.6-1.5 0.6-2.3 0.6-1.7 0.6-1.4 0.6-1.2 0.6-2 0.6-1.9 0.6-2.3 0.7-2.2 0.6-2.5 0.6-2.6 0.6-1.2 0.6-2.9 0.6-2.6 0.6-0.9 0.6-1.9 0.6-0.4 0.6-2.6 0.6-0.8 0.6-1.5 0.6 0.3 0.6-0.4 0.6-0.4 0.6 0.9 0.6 0 0.6 1.8 0.6 0.7 0.7 1.8 0.6 1.1 0.6 1.9 0.6 2.2 0.6 2.5 0.6 1.8 0.6 1.1 0.6 3.5 0.6 1.9 0.6 2.5 0.6 2.4 0.6 1.9 0.6 1.4 0.6 2.1 0.6 2.2 0.6 2 0.6 0.8 0.6 1.6 0.6 1.3 0.7 1.9 0.6 0.7 0.6 2.5 0.6 0.3 0.6 1.1 0.6 0.5 0.6 0.2 0.6-0.3 0.6 2.5 0.6 0 0.6-0.5 0.6 2.5 0.6-0.6 0.6 0.7 0.6-0.5 0.6-0.5 0.6 0.7 0.6 0.9 0.7-1.2 0.6 0.9 0.6 0.9 0.6 0 0.6-0.3 0.6-1.1 0.6 1.1 0.6 0.8 0.6-0.1 0.6-0.6 0.6 0.5 0.6 0.1 0.6-0.4 0.6-0.1 0.6 0 0.6 0 0.6 0.4 0.6 0.1 0.6 0.3 0.7 0 0.6-0.3 0.6-0.9 0.6 1.3 0.6-0.6 0.6 1.2 0.6-0.9 0.6 1.2 0.6-0.7 0.6 0.4" stroke="#ff0000"/>
</g>
</g>
<text transform="matrix(0.38102 0 0 0.34110 0 394.47)" font-family="'Liberation Serif', serif" font-size="100" fill="#000" style="font-kerning:none">b</text>
<text transform="matrix(0.34263 0 0 0.37056 19.1 394.81)" font-family="'Liberation Serif', serif" font-size="100" fill="#000" style="font-kerning:none">)</text>
<path transform="translate(392 362)" d="M10 5.2 C10 4.9 10.5 4.9 11 4.9 L15 4.9 C16.5 4.9 17.2 5.6 17.8 7 L28.2 30.2 C28.4 30.8 28.1 31.5 27.2 31.5 L23.8 31.5 C23 31.5 22.5 31 22.2 30.4 L18.4 20.7 L9.4 30.6 C8.5 31.6 7.3 31.8 6.2 31.2 C5.1 30.4 4.9 29.2 5.8 28.3 L17.1 18 L12.2 7 C11.8 6.3 11.2 6.2 10.5 6 C10.1 5.9 10 5.6 10 5.2 Z" fill="#000"/>
<rect x="438.9" y="378.7" width="25.7" height="2.1" fill="#000"/>
<rect x="438.9" y="386.5" width="25.7" height="2.1" fill="#000"/>
<text transform="matrix(0.45080 0 0 0.36808 481.58 393.08)" font-family="'Liberation Serif', serif" font-size="100" font-weight="bold" fill="#000" style="font-kerning:none">0.1</text>
<g transform="translate(0 364.8)">
<rect x="117.0" y="44.5" width="264.5" height="225.3" fill="none" stroke="#c0c0c0" stroke-width="1"/>
<line x1="117" y1="269.8" x2="119.6" y2="269.8" stroke="#c0c0c0" stroke-width="1"/>
<line x1="381.5" y1="269.8" x2="378.9" y2="269.8" stroke="#c0c0c0" stroke-width="1"/>
<text x="95.34" y="280.6" font-size="27" style="font-kerning:none">0</text>
<line x1="117" y1="194.7" x2="119.6" y2="194.7" stroke="#c0c0c0" stroke-width="1"/>
<line x1="381.5" y1="194.7" x2="378.9" y2="194.7" stroke="#c0c0c0" stroke-width="1"/>
<text x="65.31" y="205.5" font-size="27" style="font-kerning:none">500</text>
<line x1="117" y1="119.6" x2="119.6" y2="119.6" stroke="#c0c0c0" stroke-width="1"/>
<line x1="381.5" y1="119.6" x2="378.9" y2="119.6" stroke="#c0c0c0" stroke-width="1"/>
<text x="50.29" y="130.4" font-size="27" style="font-kerning:none">1000</text>
<line x1="117" y1="44.5" x2="119.6" y2="44.5" stroke="#c0c0c0" stroke-width="1"/>
<line x1="381.5" y1="44.5" x2="378.9" y2="44.5" stroke="#c0c0c0" stroke-width="1"/>
<text x="50.29" y="55.3" font-size="27" style="font-kerning:none">1500</text>
<line x1="117" y1="269.8" x2="117" y2="267.2" stroke="#c0c0c0" stroke-width="1"/>
<line x1="117" y1="44.5" x2="117" y2="47.1" stroke="#c0c0c0" stroke-width="1"/>
<text x="109.49" y="304.3" font-size="27" style="font-kerning:none">0</text>
<line x1="249.25" y1="269.8" x2="249.25" y2="267.2" stroke="#c0c0c0" stroke-width="1"/>
<line x1="249.25" y1="44.5" x2="249.25" y2="47.1" stroke="#c0c0c0" stroke-width="1"/>
<text x="241.77" y="304.3" font-size="27" style="font-kerning:none">5</text>
<line x1="381.5" y1="269.8" x2="381.5" y2="267.2" stroke="#c0c0c0" stroke-width="1"/>
<line x1="381.5" y1="44.5" x2="381.5" y2="47.1" stroke="#c0c0c0" stroke-width="1"/>
<text x="365.98" y="304.3" font-size="27" style="font-kerning:none">10</text>
<text x="182.71" y="340.7" font-size="30" style="font-kerning:none">Time (ms)</text>
<text transform="translate(41.7 156.9) rotate(-90)" x="-98.31" y="0" font-size="30.0" style="font-kerning:none">Amplitude (eV)</text>
<clipPath id="lc1"><rect x="117.0" y="44.5" width="265.5" height="225.3"/></clipPath>
<g clip-path="url(#lc1)" fill="#ff0000" stroke="#ff0000" stroke-linejoin="round">
<path d="M117 260.8l0.2-0.8 0.2 0.2 0.2 0 0.2-0.6 0.2 2.1 0.2-0.4 0.2 0.5 0.2-0.9 0.2-0.9 0.2 0.8 0.2-0.4 0.2 1.8 0.2-1.5 0.3 0.8 0.2-4.2 0.2-90.2 0.2 8.1 0.2 8 0.2 6 0.2 5.8 0.2 6 0.2 4.8 0.2 3.9 0.2 4.3 0.2 3.4 0.2 2.9 0.2 3.2 0.2 1.5 0.2 4.1 0.2 0.3 0.2 3.1 0.2 1.7 0.2 2.3 0.2 0.6 0.2 1.5 0.2 0.9 0.2 1.7 0.2 0.7 0.2-0.3 0.2 2 0.2 1.6 0.3-0.3 0.2 1.6 0.2 0.1 0.2 0.7 0.2 1.4 0.2 1.7 0.2-0.6 0.2-0.2 0.2 1.2 0.2-0.1 0.2 0 0.2 1.6 0.2-1 0.2 0.1 0.2 0.8 0.2 0.3 0.2 0.3 0.2-0.5 0.2 1.8 0.2 0.4 0.2-26.7 0.2 3.6 0.2 2.8 0.2 1.6 0.2 0.9 0.2 1.6 0.2 3.1 0.2 1.6 0.3 0.1 0.2 1.1 0.2 0.9 0.2 0.5 0.2 0.5 0.2 1.5 0.2 0.5 0.2 2 0.2 0.7 0.2-0.5 0.2 0.2 0.2 0.5 0.2 0.6 0.2 0.3 0.2 0.4 0.2 2.3 0.2-0.4 0.2-0.5 0.2 0.2 0.2-0.1 0.2 0.2 0.2 1.5 0.2 0.1 0.2-0.1 0.2-0.2 0.2 1.9 0.2-1.6 0.3 0.9 0.2 0.8 0.2-0.2 0.2 1.6 0.2-1 0.2-0.5 0.2 0.8 0.2-0.1 0.2 0 0.2 0 0.2-0.6 0.2 0.9 0.2 0.2 0.2-0.5 0.2-1 0.2 1.9 0.2-0.6 0.2 1.7 0.2-2.1 0.2 0.6 0.2-1.5 0.2 2.2 0.2 0.8 0.2-1.4 0.2 0.2 0.2 1.3 0.2 0.5 0.2-1.4 0.3 0.5 0.2-2 0.2 2.4 0.2 0 0.2-0.2 0.2 1.2 0.2-0.6 0.2-1.8 0.2-1.4 0.2 3.1 0.2 0.6 0.2-1.4 0.2 0 0.2 0.3 0.2 0.5 0.2-0.5 0.2 0 0.2-0.9 0.2 0.8 0.2 2.1 0.2-0.6 0.2-0.7 0.2-0.2 0.2 0.8 0.2-1.1 0.2-0.5 0.2 0.5 0.2 0.2 0.3-0.5 0.2 0.4 0.2 1.2 0.2-0.7 0.2-1.1 0.2 1.8 0.2-0.9 0.2 0.4 0.2 0.4 0.2 0.1 0.2-0.9 0.2-0.1 0.2 0 0.2 1.3 0.2-0.8 0.2-0.5 0.2-0.4 0.2 0.2 0.2-0.1 0.2-0.2 0.2 0.2 0.2 1.2 0.2-0.6 0.2 0.6 0.2 1.2 0.2-125.8 0.2 8.2 0.3 12.2 0.2 9.7 0.2 3.4 0.2 8.7 0.2 7.6 0.2 5.4 0.2 5.7 0.2 4.6 0.2 3.2 0.2 4.2 0.2 4.2 0.2 2.4 0.2 2.8 0.2 3.6 0.2 2 0.2 2.3 0.2 2.7 0.2 0.5 0.2 2.7 0.2 2 0.2 2.2 0.2 1.1 0.2-0.8 0.2 3.1 0.2 0 0.2 1.6 0.2 0.3 0.2 0.8 0.3 1.9 0.2 0.4 0.2 0.5 0.2 0.6 0.2 0.8 0.2 0.8 0.2-0.1 0.2 0.1 0.2 1.1 0.2 1.4 0.2-0.3 0.2 0.7 0.2 0.1 0.2-0.7 0.2 2 0.2 0.2 0.2 1 0.2-0.1 0.2 0.5 0.2-1.3 0.2 1.3 0.2 0.9 0.2-1.6 0.2 2.7 0.2-1.4 0.2 0.1 0.2 0.5 0.3 0.9 0.2 0.1 0.2 0.3 0.2-0.6 0.2 2.5 0.2-1.2 0.2-0.3 0.2 0.7 0.2 1.1 0.2-1.1 0.2 0.6 0.2-1.1 0.2-0.3 0.2 1.1 0.2 1.6 0.2-1.2 0.2 0.7 0.2-2.1 0.2 0.3 0.2 1.2 0.2-1.2 0.2 0.4 0.2 0.7 0.2 1.3 0.2-0.7 0.2 1.2 0.2-1.8 0.2 0.8 0.3-0.9 0.2 0.9 0.2 1.7 0.2-1.9 0.2-0.2 0.2-0.5 0.2 2.1 0.2 0 0.2-0.7 0.2 0.9 0.2 0.3 0.2-0.2 0.2-2.7 0.2 2.4 0.2 0.4 0.2-0.4 0.2-0.3 0.2-1 0.2 0.3 0.2 0.2 0.2 0.6 0.2-2.7 0.2 0.5 0.2 3.4 0.2-2.6 0.2 1.9 0.2-1.1 0.2 1 0.3-0.1 0.2 0 0.2 1 0.2-1 0.2-0.3 0.2-0.3 0.2 0.3 0.2-0.4 0.2 0.5 0.2 0.3 0.2 1.5 0.2-1.1 0.2-1.6 0.2 1.1 0.2-0.5 0.2 0.8 0.2 0.4 0.2-2.1 0.2 1.3 0.2-0.8 0.2 0.7 0.2 0.6 0.2 1.5 0.2-1.7 0.2 0 0.2 1.7 0.2-2.6 0.3 0.4 0.2 0.1 0.2 0.4 0.2 0.1 0.2-0.3 0.2 0.2 0.2 0 0.2-0.5 0.2 2.5 0.2-2.6 0.2 1.2 0.2-1.1 0.2-0.3 0.2 1.6 0.2-1.3 0.2 0.1 0.2 1.1 0.2-0.1 0.2-0.5 0.2 1.8 0.2-1.4 0.2-0.4 0.2 0.4 0.2 0.9 0.2-0.9 0.2-1.4 0.2 0.1 0.2 1.1 0.3 0.5 0.2-0.6 0.2 0 0.2 0.5 0.2-0.2 0.2-0.7 0.2-0.3 0.2 2.6 0.2-2.6 0.2 0.6 0.2-0.7 0.2 0.9 0.2-0.4 0.2-0.9 0.2 3.5 0.2-4.8 0.2 2.4 0.2 1.5 0.2 0.7 0.2-2.3 0.2 1 0.2-1.5 0.2 0.6 0.2 0.3 0.2-0.9 0.2 0.6 0.2-0.4 0.2-122.7 0.3 11.1 0.2 9.2 0.2 8.6 0.2 9.4 0.2 6.1 0.2 6.1 0.2 5.8 0.2 6 0.2 3.8 0.2 3.5 0.2 1.6 0.2 4.7 0.2 4.7 0.2 2.7 0.2 2.7 0.2 2.1 0.2 2.4 0.2 3 0.2 0.2 0.2 1.2 0.2 1.4 0.2 3.1 0.2 0.7 0.2-0.3 0.2 2.6 0.2-74.8 0.2 8 0.3 6 0.2 6.2 0.2 4.5 0.2 6.4 0.2 4.6 0.2 5.4 0.2 3.2 0.2 3.7 0.2 2.8 0.2 3.6 0.2-51.4 0.2 8.6 0.2 5.3 0.2 6.8 0.2 4 0.2 3.6 0.2 6.1 0.2 3 0.2 3.9 0.2 3 0.2 2.8 0.2 3.5 0.2 2.2 0.2 2.6 0.2 2.3 0.2 2.3 0.2 0.2 0.2 2.9 0.3 0.6 0.2 1.5 0.2 2.6 0.2-0.3 0.2 2.6 0.2 0 0.2 0.5 0.2 2.6 0.2 1.1 0.2 0.9 0.2-1.6 0.2 2.8 0.2-1.9 0.2 2.4 0.2 1.4 0.2 0.6 0.2 1.3 0.2 1.5 0.2-0.6 0.2 0.8 0.2 0.9 0.2 0.1 0.2 0.3 0.2-3.6 0.2 3.2 0.2 0.5 0.2 1.2 0.2 0.9 0.3-0.8 0.2-42.7 0.2 5.2 0.2 3 0.2 4.5 0.2 2.5 0.2 3.5 0.2 2.2 0.2 1 0.2 3.4 0.2-70.5 0.2 7.2 0.2 7.4 0.2 6.1 0.2 6.8 0.2 4.4 0.2 4.8 0.2 3.5 0.2 4 0.2 3.8 0.2 1.7 0.2 3.9 0.2 3.3 0.2 2.7 0.2 1.8 0.2 2.4 0.2 0.2 0.3 2.6 0.2 2.2 0.2 1.8 0.2 1.7 0.2 0.7 0.2 0 0.2 1.4 0.2 1.8 0.2 0.8 0.2 2.4 0.2-1.1 0.2 1.5 0.2-0.4 0.2 1.9 0.2 0.9 0.2 0.1 0.2 1.3 0.2-1 0.2 1.4 0.2-0.4 0.2 1.3 0.2 1 0.2-0.2 0.2 0.7 0.2-0.8 0.2 1.7 0.2 0.1 0.2 1 0.3 0.2 0.2 0.3 0.2-0.9 0.2 1.2 0.2-0.4 0.2 1.2 0.2 0.3 0.2 1.4 0.2-1.8 0.2-0.7 0.2 1.9 0.2-1.1 0.2 0.7 0.2 1.3 0.2-0.9 0.2 1.4 0.2-0.3 0.2-0.9 0.2 0.9 0.2 1.1 0.2-1.8 0.2 2.1 0.2-0.6 0.2 0.2 0.2 0 0.2 0.7 0.2 0.7 0.3-2.6 0.2 2.2 0.2 0.1 0.2 1.2 0.2-1.8 0.2-0.8 0.2 0 0.2-0.9 0.2 1 0.2 0.9 0.2 0.3 0.2-1 0.2 1.2 0.2-0.1 0.2 0.9 0.2-0.7 0.2-1.4 0.2 1.6 0.2-0.3 0.2 2.2 0.2-2.8 0.2 0.8 0.2-0.8 0.2 1 0.2 0.8 0.2 0.4 0.2-1.3 0.2 0.4 0.3 0.8 0.2-0.7 0.2 0.5 0.2-1 0.2 0.9 0.2 0.6 0.2-0.8 0.2 0.4 0.2-1.5 0.2 1.5 0.2 0.6 0.2-0.9 0.2 0.2 0.2-0.4 0.2 0.1 0.2 0.9 0.2-0.7 0.2 0.1 0.2 0.8 0.2-0.4 0.2-0.6 0.2 1.4 0.2-0.4 0.2-0.4 0.2-0.3 0.2-0.4 0.2 1.4 0.2-1.2 0.3-0.3 0.2-0.7 0.2 1.5 0.2 0.4 0.2 0.5 0.2-1.6 0.2-0.5 0.2 1.5 0.2-0.9 0.2-0.3 0.2 0 0.2 1 0.2-0.8 0.2 0.5 0.2 0.7 0.2-0.9 0.2-0.1 0.2 1 0.2-1.1 0.2-1.1 0.2 2.6 0.2-1.7 0.2-0.1 0.2 0.6 0.2-0.2 0.2-1.7 0.2 1 0.3 1.7 0.2-0.6 0.2 1.4 0.2-1.7 0.2-0.1 0.2 1.6 0.2-3.5 0.2 1.9 0.2 0.7 0.2 0.6 0.2 0.9 0.2-2.1 0.2-1.2 0.2 1.8 0.2-0.6 0.2 0 0.2 0.3 0.2-0.1 0.2 0 0.2 0.7 0.2-2.5 0.2-0.2 0.2 1.9 0.2-1.1 0.2 1.9 0.2-0.4 0.2-1.1 0.2-0.6 0.3 2.5 0.2-1.3 0.2 1.8 0.2-2.8 0.2 0.7 0.2 0.4 0.2-0.3 0.2 1.2 0.2 0 0.2-1.3 0.2-0.1 0.2 0.6 0.2 0.1 0.2 0.4 0.2-1.5 0.2 2.2 0.2-0.5 0.2-0.2 0.2 0.7 0.2-0.1 0.2-0.2 0.2-1.6 0.2-0.6 0.2 1.1 0.2 1.5 0.2-0.8 0.2-0.3 0.2 0.1 0.3 0.1 0.2-0.7 0.2 1.8 0.2-1 0.2-0.6 0.2-1.7 0.2 1.7 0.2 0.2 0.2 0.1 0.2 0.4 0.2-0.6 0.2 0.2 0.2 0.4 0.2-1.4 0.2 0 0.2 1.1 0.2-66.1 0.2 5.3 0.2 5.8 0.2 4.6 0.2 3.9 0.2 5.3 0.2 3.1 0.2 1.5 0.2-0.1 0.2 4.6 0.2 1 0.3 3.5 0.2 1.8 0.2 1 0.2 3.6 0.2 1 0.2-2.1 0.2 4.1 0.2 2 0.2 0.6 0.2 1.5 0.2-1.9 0.2 2.6 0.2 0.6 0.2 1.2 0.2 0.1 0.2 0 0.2 1.4 0.2 0.3 0.2-1.2 0.2 1.4 0.2 0.9 0.2 0.9 0.2 0 0.2 0.9 0.2-0.4 0.2 1 0.2 0.4 0.2 0 0.3 0.8 0.2-0.7 0.2-1.5 0.2 2.5 0.2 1 0.2-4.3 0.2 3.6 0.2-1.4 0.2 1.4 0.2-0.3 0.2 1.5 0.2 0.8 0.2-1 0.2-0.5 0.2 1.3 0.2 0.7 0.2-0.6 0.2 0 0.2 0 0.2-0.1 0.2-1.7 0.2 1.9 0.2 0.5 0.2 0.5 0.2-1.3 0.2 1.8 0.2-2.1 0.2 1.1 0.3 1.2 0.2-1.2 0.2-34.3 0.2 2 0.2 4.8 0.2 1.2 0.2 2.4 0.2 1.3 0.2 3.4 0.2 1.3 0.2-0.5 0.2 0.1 0.2 5 0.2-0.2 0.2 1.8 0.2 0.8 0.2 1.3 0.2-0.9 0.2 1.8 0.2 0.1 0.2 0.7 0.2 1.8 0.2-0.1 0.2-0.7 0.2 2.2 0.2-2.4 0.2 2.1 0.3-0.2 0.2 0.3 0.2 0.2 0.2 0.9 0.2 0.1 0.2-1.5 0.2 2.6 0.2-0.9 0.2 1.4 0.2-1.1 0.2-2.2 0.2 4 0.2-0.9 0.2 1.2 0.2-0.7 0.2 1 0.2-0.7 0.2 0.3 0.2 1 0.2-3.9 0.2 2.6 0.2 2 0.2-1.3 0.2 0.7 0.2-1.8 0.2 1.7 0.2-0.3 0.2 0.5 0.3-0.5 0.2 0.9 0.2 0.4 0.2-0.2 0.2 0 0.2-0.8 0.2 0.5 0.2 0.5 0.2 0 0.2 0.4 0.2-0.7 0.2 1.7 0.2-1.3 0.2-1.1 0.2 1.3 0.2 0.2 0.2-0.5 0.2 0.8 0.2-0.1 0.2-1 0.2 1 0.2-1.9 0.2 1.1 0.2 0.5 0.2 0.4 0.2-0.3 0.2 1.6 0.3-4.4 0.2 2.1 0.2 0.2 0.2 0.8 0.2-0.8 0.2 0 0.2 0.6 0.2-0.3 0.2-0.5 0.2 0.4 0.2 0.7 0.2-0.3 0.2-0.1 0.2 1.4 0.2-1.3 0.2 0.2 0.2 1.5 0.2-0.3 0.2-2.6 0.2 1.3 0.2-1 0.2 1.3 0.2-1.4 0.2 0.7 0.2 1 0.2-0.7 0.2-1 0.2-0.6 0.3 1.4 0.2 0.8 0.2 0.3 0.2-1.2 0.2-0.3 0.2-1.3 0.2 2.2 0.2-0.7 0.2 0.3 0.2 0.1 0.2 1.4 0.2-0.9 0.2-1.6 0.2 1.4 0.2-1.8 0.2 1.5 0.2 0.5 0.2-0.4 0.2-0.3 0.2 1 0.2-0.7 0.2 0.5 0.2-1.4 0.2 1.5 0.2-0.5 0.2-1.1 0.2 2.2 0.2-0.9 0.3 0.6 0.2-0.5 0.2-0.3 0.2-0.3 0.2 1.5 0.2-0.9 0.2-0.7 0.2 1 0.2 0.5 0.2-0.4 0.2-1.8 0.2 1.2 0.2-1.1 0.2 1.4 0.2-1.1 0.2 1.9 0.2-0.9 0.2-0.2 0.2-1.3 0.2 1 0.2-0.5 0.2 1.2 0.2 0 0.2-2.7 0.2 1.3 0.2 0.1 0.2 0.1 0.3 1.3 0.2-2.1 0.2 1.5 0.2-0.8 0.2 0.4 0.2 1.9 0.2 0.1 0.2-0.2 0.2-1.2 0.2-1.9 0.2 2.1 0.2-0.9 0.2 1.6 0.2-0.5 0.2 0.2 0.2-0.7 0.2 0.9 0.2-0.7 0.2-0.6 0.2 0.8 0.2 0.3 0.2-0.3 0.2 0.6 0.2-0.1 0.2-1.4 0.2 0.3 0.2 1.4 0.2-0.9 0.3-0.6 0.2-0.2 0.2 0.1 0.2-0.3 0.2 0.8 0.2 0 0.2 0.2 0.2-1 0.2 0.1 0.2-0.7 0.2 0.5 0.2 1.5 0.2 0.5 0.2-0.1 0.2-0.3 0.2-1.2 0.2 1.5 0.2 0.5 0.2-1.4 0.2-0.7 0.2 0 0.2-0.7 0.2 1.3 0.2 0.4 0.2-0.2 0.2 0.8 0.2-0.5 0.2-1.5 0.3-0.6 0.2 0.6 0.2 0.8 0.2 0.4 0.2-0.4 0.2 1.6 0.2-4 0.2 2 0.2 0.7 0.2-0.1 0.2 1.3 0.2-1.9 0.2 0 0.2 2.7 0.2-1.7 0.2-0.7 0.2-0.9 0.2 1.9 0.2-0.7 0.2-1.1 0.2 0.8 0.2 0.5 0.2 0.1 0.2-0.3 0.2 0.6 0.2-1.4 0.2 1.5 0.3-1.1 0.2-0.3 0.2-0.2 0.2 0.8 0.2 0.1 0.2-0.3 0.2 0.2 0.2-0.8 0.2 0.9 0.2-1.5 0.2-0.7 0.2 2.6 0.2-0.8 0.2 1.2 0.2-1.4 0.2 0.2 0.2 0.5 0.2 0.6 0.2-0.8 0.2-1.5 0.2 0.3 0.2 1 0.2 0.7 0.2-0.4 0.2 0.5 0.2 0.5 0.2-0.3 0.2-1.2 0.3 0.2 0.2 0.1 0.2 1 0.2-1.3 0.2-0.3 0.2 1 0.2-1.1 0.2 1.4 0.2-2.6 0.2 1.9 0.2 0.5 0.2 0 0.2-1.8 0.2 0.8 0.2 0.9 0.2-0.4 0.2 1.3 0.2-2.4 0.2 0.2 0.2 1.4 0.2-0.7 0.2 2.4 0.2-2.8 0.2 0.4 0.2 0.2 0.2-0.5 0.2 0.4 0.2-1.4 0.3 2.2 0.2-0.4 0.2-0.8 0.2 0.7 0.2 0.5 0.2-0.8 0.2-41.8 0.2 1.3 0.2 4.6 0.2 4 0.2 1.8 0.2 1.7 0.2 2.6 0.2 0.9 0.2 4.3 0.2-0.6 0.2 2.6 0.2 0.7 0.2 0.5 0.2 3.3 0.2 1.2 0.2 0.1 0.2 1.8 0.2 1 0.2-0.9 0.2-2.9 0.2 4.6 0.3-0.2 0.2-1.9 0.2 3 0.2 0.9 0.2 0.3 0.2 0 0.2 0.9 0.2-0.4 0.2 0.6 0.2-0.2 0.2 0.9 0.2 0.4 0.2 0.9 0.2 0.5 0.2-0.6 0.2 0.3 0.2-0.3 0.2-2.6 0.2 3.5 0.2-1.9 0.2 1.7 0.2-3 0.2 4.3 0.2-1.4 0.2 0 0.2 0.6 0.2 1.2 0.2-1.5 0.3 1.6 0.2 0.7 0.2 0.1 0.2-1.1 0.2 0.5 0.2-72.4 0.2 6.5 0.2 5.1 0.2 5.9 0.2 4.7 0.2 4.2 0.2 4.3 0.2 3.4 0.2 2.9 0.2 2 0.2 3.3 0.2 1.7 0.2 1.2 0.2 4.5 0.2 0.5 0.2 1.7 0.2 0.6 0.2 2.5 0.2 0.5 0.2-1.1 0.2 3.8 0.2-2.8 0.3 3.4 0.2 1.2 0.2 1.5 0.2-1 0.2 2.9 0.2-0.1 0.2 0 0.2 0.8 0.2-0.8 0.2 1.6 0.2-1.3 0.2 1.9 0.2-0.8 0.2 1.3 0.2 0.8 0.2 0.4 0.2-0.7 0.2 1.5 0.2-0.1 0.2 0.9 0.2 1.2 0.2-1.8 0.2 0.2 0.2 1.6 0.2-1 0.2 0.7 0.2 1.5 0.2-0.6 0.3-1 0.2-0.1 0.2 0.6 0.2-1.6 0.2 1.9 0.2 1 0.2 0.7 0.2-3.8 0.2 3.3 0.2 0 0.2 0.5 0.2 0.1 0.2-0.3 0.2-0.5 0.2-3 0.2 3.3 0.2-0.4 0.2 1.2 0.2 0.5 0.2-0.7 0.2 1.6 0.2-2.1 0.2-2.8 0.2 3.1 0.2 1.3 0.2-0.4 0.2-0.3 0.2 0.8 0.3 0.1 0.2-0.6 0.2-0.2 0.2 0.7 0.2-1.3 0.2-0.8 0.2 1.3 0.2 0.6 0.2 0.1 0.2-1.4 0.2 1 0.2-0.2 0.2 0.3 0.2 0.7 0.2-1.6 0.2 1.4 0.2-0.3 0.2 1.8 0.2-3.3 0.2 1.1 0.2 0.7 0.2 0.5 0.2-0.1 0.2 0.9 0.2-1.6 0.2 1 0.2-1 0.3 0 0.2-1.1 0.2 1.3 0.2 0 0.2-0.1 0.2 0.8 0.2-0.3 0.2-0.4 0.2-0.6 0.2 0.3 0.2 0.8 0.2-1.1 0.2 1.2 0.2 0.9 0.2-2.4 0.2 1.2 0.2 0.4 0.2 0.6 0.2-0.6 0.2-1.6 0.2 1.3 0.2-1.7 0.2 1.6 0.2-0.8 0.2 0.8 0.2 0.4 0.2 0 0.2-0.1 0.3 0.7 0.2 0 0.2-1.2 0.2-0.6 0.2 0.8 0.2 0.1 0.2 0.7 0.2-1.5 0.2 0 0.2 1.7 0.2-0.9 0.2 0.3 0.2 0.9 0.2-2.4 0.2 0.3 0.2 0.7 0.2-0.8 0.2 1.4 0.2-0.6 0.2-0.8 0.2 1.3 0.2-0.5 0.2 1 0.2-1.2 0.2-1.8 0.2 3 0.2-0.1 0.2-0.6 0.3-1.1 0.2 1.5 0.2 0.2 0.2-0.5 0.2-1 0.2 2.1 0.2-1.1 0.2-1.1 0.2 1 0.2 0.2 0.2-0.8 0.2 1.5 0.2-2.4 0.2 1.2 0 9.4 -0.2 0 -0.2 0 -0.2 0 -0.2 0 -0.2 0 -0.2 0 -0.2 0 -0.2 0 -0.2 0 -0.2 0 -0.2 0 -0.2 0 -0.2 0 -0.3 0 -0.2 0 -0.2 0 -0.2 0 -0.2 0 -0.2 0 -0.2 0 -0.2 0 -0.2 0 -0.2 0 -0.2 0 -0.2 0 -0.2 0 -0.2 0 -0.2 0 -0.2 0 -0.2 0 -0.2 0 -0.2 0 -0.2 0 -0.2 0 -0.2 0 -0.2 0 -0.2 0 -0.2 0 -0.2 0 -0.2 0 -0.2 0 -0.3 0 -0.2 0 -0.2 0 -0.2 0 -0.2 0 -0.2 0 -0.2 0 -0.2 0 -0.2 0 -0.2 0 -0.2 0 -0.2 0 -0.2 0 -0.2 0 -0.2 0 -0.2 0 -0.2 0 -0.2 0 -0.2 0 -0.2 0 -0.2 0 -0.2 0 -0.2 0 -0.2 0 -0.2 0 -0.2 0 -0.2 0 -0.2 0 -0.3 0 -0.2 0 -0.2 0 -0.2 0 -0.2 0 -0.2 0 -0.2 0 -0.2 0 -0.2 0 -0.2 0 -0.2 0 -0.2 0 -0.2 0 -0.2 0 -0.2 0 -0.2 0 -0.2 0 -0.2 0 -0.2 0 -0.2 0 -0.2 0 -0.2 0 -0.2 0 -0.2 0 -0.2 0 -0.2 0 -0.2 0 -0.3 0 -0.2 0 -0.2 0 -0.2 0 -0.2 0 -0.2 0 -0.2 0 -0.2 0 -0.2 0 -0.2 0 -0.2 0 -0.2 0 -0.2 0 -0.2 0 -0.2 0 -0.2 0 -0.2 0 -0.2 0 -0.2 0 -0.2 0 -0.2 0 -0.2 0 -0.2 0 -0.2 0 -0.2 0 -0.2 0 -0.2 0 -0.2 0 -0.3 0 -0.2 0 -0.2 0 -0.2 0 -0.2 0 -0.2 0 -0.2 0 -0.2 0 -0.2 0 -0.2 0 -0.2 0 -0.2 0 -0.2 0 -0.2 0 -0.2 0 -0.2 0 -0.2 0 -0.2 0 -0.2 0 -0.2 0 -0.2-0.3 -0.2-0.2 -0.2-2.1 -0.2 0.3 -0.2-0.4 -0.2 0.5 -0.2-2.2 -0.2 0.8 -0.3-1.1 -0.2-1.1 -0.2 0.4 -0.2-0.9 -0.2-1.3 -0.2-0.8 -0.2-1.5 -0.2-0.5 -0.2-0.8 -0.2-1.2 -0.2-1.6 -0.2-1.2 -0.2-3.3 -0.2-2 -0.2-3 -0.2-3.3 -0.2-4.4 -0.2-4.1 -0.2-4.8 -0.2-5.9 -0.2-5.1 -0.2-6.5 -0.2 57.6 -0.2 0 -0.2 0 -0.2 0 -0.2 0 -0.3 0 -0.2 0 -0.2 0 -0.2 0 -0.2 0 -0.2 0 -0.2 0 -0.2 0 -0.2 0 -0.2 0 -0.2 0 -0.2 0 -0.2 0 -0.2-0.3 -0.2 0.3 -0.2 0 -0.2-1 -0.2 0.6 -0.2 0.1 -0.2-0.7 -0.2-0.8 -0.2 0.1 -0.2-0.3 -0.2-0.4 -0.2 0.4 -0.2 0.1 -0.2-0.5 -0.2-0.8 -0.3-1.4 -0.2 0.3 -0.2-1 -0.2-0.5 -0.2-1.2 -0.2-0.2 -0.2-0.4 -0.2-0.9 -0.2 1.5 -0.2-1.2 -0.2-0.9 -0.2-0.6 -0.2-1.5 -0.2-0.6 -0.2-1.7 -0.2 0.4 -0.2-1.1 -0.2-1.5 -0.2-3.9 -0.2-4.7 -0.2-1.2 -0.2 25.5 -0.2 0 -0.2 0 -0.2 0 -0.2 0 -0.2 0 -0.3 0 -0.2 0 -0.2 0 -0.2 0 -0.2 0 -0.2 0 -0.2 0 -0.2 0 -0.2 0 -0.2 0 -0.2 0 -0.2 0 -0.2 0 -0.2 0 -0.2 0 -0.2 0 -0.2 0 -0.2 0 -0.2 0 -0.2 0 -0.2 0 -0.2 0 -0.2 0 -0.2 0 -0.2 0 -0.2 0 -0.2 0 -0.2 0 -0.3 0 -0.2 0 -0.2 0 -0.2 0 -0.2 0 -0.2 0 -0.2 0 -0.2 0 -0.2 0 -0.2 0 -0.2 0 -0.2 0 -0.2 0 -0.2 0 -0.2 0 -0.2 0 -0.2 0 -0.2 0 -0.2 0 -0.2 0 -0.2 0 -0.2 0 -0.2 0 -0.2 0 -0.2 0 -0.2 0 -0.2 0 -0.2 0 -0.3 0 -0.2 0 -0.2 0 -0.2 0 -0.2 0 -0.2 0 -0.2 0 -0.2 0 -0.2 0 -0.2 0 -0.2 0 -0.2 0 -0.2 0 -0.2 0 -0.2 0 -0.2 0 -0.2 0 -0.2 0 -0.2 0 -0.2 0 -0.2 0 -0.2 0 -0.2 0 -0.2 0 -0.2 0 -0.2 0 -0.2 0 -0.3 0 -0.2 0 -0.2 0 -0.2 0 -0.2 0 -0.2 0 -0.2 0 -0.2 0 -0.2 0 -0.2 0 -0.2 0 -0.2 0 -0.2 0 -0.2 0 -0.2 0 -0.2 0 -0.2 0 -0.2 0 -0.2 0 -0.2 0 -0.2 0 -0.2 0 -0.2 0 -0.2 0 -0.2 0 -0.2 0 -0.2 0 -0.2 0 -0.3 0 -0.2 0 -0.2 0 -0.2 0 -0.2 0 -0.2 0 -0.2 0 -0.2 0 -0.2 0 -0.2 0 -0.2 0 -0.2 0 -0.2 0 -0.2 0 -0.2 0 -0.2 0 -0.2 0 -0.2 0 -0.2 0 -0.2 0 -0.2 0 -0.2 0 -0.2 0 -0.2 0 -0.2 0 -0.2 0 -0.2 0 -0.2 0 -0.3 0 -0.2 0 -0.2 0 -0.2 0 -0.2 0 -0.2 0 -0.2 0 -0.2 0 -0.2 0 -0.2 0 -0.2 0 -0.2 0 -0.2 0 -0.2 0 -0.2 0 -0.2 0 -0.2 0 -0.2 0 -0.2 0 -0.2 0 -0.2 0 -0.2 0 -0.2 0 -0.2 0 -0.2 0 -0.2 0 -0.2 0 -0.3 0 -0.2 0 -0.2 0 -0.2 0 -0.2 0 -0.2 0 -0.2 0 -0.2 0 -0.2 0 -0.2 0 -0.2 0 -0.2 0 -0.2 0 -0.2 0 -0.2 0 -0.2 0 -0.2 0 -0.2 0 -0.2 0 -0.2 0 -0.2 0 -0.2 0 -0.2 0 -0.2 0 -0.2 0 -0.2 0 -0.2 0 -0.2 0 -0.3 0 -0.2 0 -0.2 0 -0.2 0 -0.2 0 -0.2 0 -0.2 0 -0.2 0 -0.2 0 -0.2 0 -0.2 0 -0.2 0 -0.2 0 -0.2 0 -0.2 0 -0.2 0 -0.2 0 -0.2 0 -0.2 0 -0.2 0 -0.2 0 -0.2 0 -0.2 0 -0.2 0 -0.2 0 -0.2 0 -0.2 0 -0.2 0 -0.3 0 -0.2 0 -0.2 0 -0.2 0 -0.2 0 -0.2 0 -0.2 0 -0.2 0 -0.2 0 -0.2 0 -0.2 0 -0.2 0 -0.2 0 -0.2 0 -0.2 0 -0.2 0 -0.2 0 -0.2 0 -0.2 0 -0.2 0 -0.2 0 -0.2 0 -0.2 0 -0.2 0 -0.2 0 -0.2 0 -0.2 0 -0.3 0 -0.2 0 -0.2 0 -0.2 0 -0.2 0 -0.2 0 -0.2 0 -0.2 0 -0.2 0 -0.2 0 -0.2 0 -0.2 0 -0.2 0 -0.2 0 -0.2 0 -0.2 0 -0.2 0 -0.2 0 -0.2 0 -0.2 0 -0.2 0 -0.2 0 -0.2 0 -0.2 0 -0.2 0 -0.2 0 -0.2 0 -0.2 0 -0.3 0 -0.2 0 -0.2 0 -0.2 0 -0.2 0 -0.2 0 -0.2 0 -0.2 0 -0.2 0 -0.2 0 -0.2 0 -0.2 0 -0.2 0 -0.2 0 -0.2 0 -0.2-3.6 -0.2-0.1 -0.2 0.6 -0.2-1.4 -0.2-3.3 -0.2-1.3 -0.2-2.4 -0.2-1.2 -0.2-4.8 -0.2-2.1 -0.2 19.6 -0.2 0 -0.3 0 -0.2 0 -0.2 0 -0.2 0 -0.2 0 -0.2 0 -0.2 0 -0.2 0 -0.2 0 -0.2 0 -0.2 0 -0.2 0 -0.2 0 -0.2 0 -0.2 0 -0.2 0 -0.2 0 -0.2 0 -0.2 0 -0.2 0 -0.2 0 -0.2 0 -0.2 0 -0.2 0 -0.2 0 -0.2 0 -0.2 0 -0.2 0 -0.3 0 -0.2 0 -0.2 0 -0.2 0 -0.2 0 -0.2 0 -0.2 0 -0.2 0 -0.2 0 -0.2 0 -0.2 0 -0.2 0 -0.2 0 -0.2 0 -0.2 0 -0.2 0 -0.2 0 -0.2-1.4 -0.2 0.7 -0.2-0.2 -0.2-1.8 -0.2-0.3 -0.2-2.5 -0.2 1.4 -0.2-1.1 -0.2-2.9 -0.2-1 -0.2-1.8 -0.3-3.5 -0.2-0.9 -0.2-4.6 -0.2 0.1 -0.2-1.6 -0.2-3.1 -0.2-5.3 -0.2-3.8 -0.2-4.7 -0.2-5.8 -0.2-5.3 -0.2 49.4 -0.2 0 -0.2 0 -0.2 0 -0.2 0 -0.2 0 -0.2 0 -0.2 0 -0.2 0 -0.2 0 -0.2 0 -0.2 0 -0.2 0 -0.2 0 -0.2 0 -0.2 0 -0.3 0 -0.2 0 -0.2 0 -0.2 0 -0.2 0 -0.2 0 -0.2 0 -0.2 0 -0.2 0 -0.2 0 -0.2 0 -0.2 0 -0.2 0 -0.2 0 -0.2 0 -0.2 0 -0.2 0 -0.2 0 -0.2 0 -0.2 0 -0.2 0 -0.2 0 -0.2 0 -0.2 0 -0.2 0 -0.2 0 -0.2 0 -0.2 0 -0.3 0 -0.2 0 -0.2 0 -0.2 0 -0.2 0 -0.2 0 -0.2 0 -0.2 0 -0.2 0 -0.2 0 -0.2 0 -0.2 0 -0.2 0 -0.2 0 -0.2 0 -0.2 0 -0.2 0 -0.2 0 -0.2 0 -0.2 0 -0.2 0 -0.2 0 -0.2 0 -0.2 0 -0.2 0 -0.2 0 -0.2 0 -0.2 0 -0.3 0 -0.2 0 -0.2 0 -0.2 0 -0.2 0 -0.2 0 -0.2 0 -0.2 0 -0.2 0 -0.2 0 -0.2 0 -0.2 0 -0.2 0 -0.2 0 -0.2 0 -0.2 0 -0.2 0 -0.2 0 -0.2 0 -0.2 0 -0.2 0 -0.2 0 -0.2 0 -0.2 0 -0.2 0 -0.2 0 -0.2 0 -0.3 0 -0.2 0 -0.2 0 -0.2 0 -0.2 0 -0.2 0 -0.2 0 -0.2 0 -0.2 0 -0.2 0 -0.2 0 -0.2 0 -0.2 0 -0.2 0 -0.2 0 -0.2 0 -0.2 0 -0.2 0 -0.2 0 -0.2 0 -0.2 0 -0.2 0 -0.2 0 -0.2 0 -0.2 0 -0.2 0 -0.2 0 -0.2 0 -0.3 0 -0.2 0 -0.2 0 -0.2 0 -0.2 0 -0.2 0 -0.2 0 -0.2 0 -0.2 0 -0.2 0 -0.2 0 -0.2 0 -0.2 0 -0.2 0 -0.2 0 -0.2 0 -0.2 0 -0.2 0 -0.2 0 -0.2 0 -0.2 0 -0.2 0 -0.2 0 -0.2 0 -0.2 0 -0.2 0 -0.2 0 -0.2 0 -0.3 0 -0.2 0 -0.2 0 -0.2 0 -0.2 0 -0.2 0 -0.2 0 -0.2 0 -0.2 0 -0.2 0 -0.2 0 -0.2 0 -0.2 0 -0.2 0 -0.2 0 -0.2 0 -0.2 0 -0.2 0 -0.2 0 -0.2 0 -0.2 0 -0.2 0 -0.2 0 -0.2 0 -0.2 0 -0.2 0 -0.2 0 -0.3 0 -0.2 0 -0.2 0 -0.2 0 -0.2 0 -0.2 0 -0.2 0 -0.2 0 -0.2 0 -0.2 0 -0.2 0 -0.2 0 -0.2 0 -0.2 0 -0.2 0 -0.2-0.1 -0.2 0.1 -0.2-1.2 -0.2 1.1 -0.2-2.4 -0.2-0.8 -0.2-1.7 -0.2-1.5 -0.2 0 -0.2-0.7 -0.2-1.7 -0.2-1.7 -0.2-2.3 -0.3-2.5 -0.2-0.3 -0.2-2.4 -0.2-1.8 -0.2-2.7 -0.2-3.2 -0.2-3.9 -0.2-1.8 -0.2-3.8 -0.2-3.9 -0.2-3.6 -0.2-4.7 -0.2-4.4 -0.2-6.9 -0.2-6.1 -0.2-7.4 -0.2-7.1 -0.2 70.4 -0.2-3.3 -0.2-1.1 -0.2-2.2 -0.2-3.5 -0.2-2.5 -0.2-4.5 -0.2-3 -0.2-5.2 -0.2 34.3 -0.3 0 -0.2 0 -0.2 0 -0.2 0 -0.2 0 -0.2 0 -0.2 0 -0.2 0 -0.2 0 -0.2 0 -0.2 0 -0.2 0 -0.2 0 -0.2 0 -0.2 0 -0.2-1.7 -0.2 1.7 -0.2-2.6 -0.2 1.6 -0.2-0.9 -0.2-1.1 -0.2-2.6 -0.2-0.4 -0.2 0 -0.2-2.7 -0.2 0.3 -0.2-2.5 -0.2-1.6 -0.3-0.5 -0.2-3 -0.2-0.2 -0.2-2.2 -0.2-2.4 -0.2-2.6 -0.2-2.1 -0.2-3.5 -0.2-2.9 -0.2-3 -0.2-3.8 -0.2-3 -0.2-6.1 -0.2-3.7 -0.2-3.9 -0.2-6.9 -0.2-5.2 -0.2-8.7 -0.2 51.4 -0.2-3.6 -0.2-2.8 -0.2-3.7 -0.2-3.1 -0.2-5.4 -0.2-4.6 -0.2-6.4 -0.2-4.6 -0.2-6.2 -0.3-6 -0.2-8 -0.2 73.8 -0.2-1.6 -0.2-1.2 -0.2-0.3 -0.2-1.9 -0.2-1.5 -0.2-1.2 -0.2-0.8 -0.2-2.3 -0.2-2.4 -0.2-2.2 -0.2-2.7 -0.2-2.7 -0.2-4.7 -0.2-4.7 -0.2-1.6 -0.2-3.5 -0.2-3.8 -0.2-6 -0.2-5.8 -0.2-6.1 -0.2-6.1 -0.2-9.3 -0.2-8.6 -0.2-9.3 -0.3-11.1 -0.2 106.8 -0.2 0 -0.2 0 -0.2 0 -0.2 0 -0.2 0 -0.2 0 -0.2 0 -0.2 0 -0.2 0 -0.2 0 -0.2 0 -0.2 0 -0.2 0 -0.2 0 -0.2 0 -0.2 0 -0.2 0 -0.2 0 -0.2 0 -0.2 0 -0.2 0 -0.2 0 -0.2 0 -0.2 0 -0.2 0 -0.2 0 -0.3 0 -0.2 0 -0.2 0 -0.2 0 -0.2 0 -0.2 0 -0.2 0 -0.2 0 -0.2 0 -0.2 0 -0.2 0 -0.2 0 -0.2 0 -0.2 0 -0.2 0 -0.2 0 -0.2 0 -0.2 0 -0.2 0 -0.2 0 -0.2 0 -0.2 0 -0.2 0 -0.2 0 -0.2 0 -0.2 0 -0.2 0 -0.2 0 -0.3 0 -0.2 0 -0.2 0 -0.2 0 -0.2 0 -0.2 0 -0.2 0 -0.2 0 -0.2 0 -0.2 0 -0.2 0 -0.2 0 -0.2 0 -0.2 0 -0.2 0 -0.2 0 -0.2 0 -0.2 0 -0.2 0 -0.2 0 -0.2 0 -0.2 0 -0.2 0 -0.2 0 -0.2 0 -0.2 0 -0.2 0 -0.3 0 -0.2 0 -0.2 0 -0.2 0 -0.2 0 -0.2 0 -0.2 0 -0.2 0 -0.2 0 -0.2 0 -0.2 0 -0.2 0 -0.2 0 -0.2 0 -0.2 0 -0.2 0 -0.2 0 -0.2 0 -0.2 0 -0.2 0 -0.2 0 -0.2 0 -0.2 0 -0.2 0 -0.2 0 -0.2 0 -0.2 0 -0.2 0 -0.3 0 -0.2 0 -0.2 0 -0.2 0 -0.2 0 -0.2 0 -0.2 0 -0.2 0 -0.2 0 -0.2 0 -0.2 0 -0.2 0 -0.2 0 -0.2 0 -0.2 0 -0.2 0 -0.2 0 -0.2 0 -0.2 0 -0.2 0 -0.2 0 -0.2 0 -0.2 0 -0.2 0 -0.2 0 -0.2 0 -0.2 0 -0.2 0 -0.3 0 -0.2 0 -0.2 0 -0.2 0 -0.2 0 -0.2 0 -0.2 0 -0.2 0 -0.2 0 -0.2 0 -0.2 0 -0.2 0 -0.2 0 -0.2 0 -0.2 0 -0.2 0 -0.2 0 -0.2 0 -0.2 0 -0.2 0 -0.2 0 -0.2 0 -0.2 0 -0.2-0.2 -0.2 0.2 -0.2-0.7 -0.2-1.6 -0.3 0.3 -0.2-0.9 -0.2-0.7 -0.2-2.3 -0.2 0.5 -0.2-1.7 -0.2 0.1 -0.2-1.8 -0.2-0.8 -0.2-1.9 -0.2-2.8 -0.2-0.5 -0.2-2.7 -0.2-2.2 -0.2-2.1 -0.2-3.6 -0.2-2.8 -0.2-2.4 -0.2-4.2 -0.2-4.2 -0.2-3.2 -0.2-4.6 -0.2-5.7 -0.2-5.4 -0.2-7.5 -0.2-8.7 -0.2-3.5 -0.2-9.7 -0.3-12.2 -0.2-8.2 -0.2 107.7 -0.2 0 -0.2 0 -0.2 0 -0.2 0 -0.2 0 -0.2 0 -0.2 0 -0.2 0 -0.2 0 -0.2 0 -0.2 0 -0.2 0 -0.2 0 -0.2 0 -0.2 0 -0.2 0 -0.2 0 -0.2 0 -0.2 0 -0.2 0 -0.2 0 -0.2 0 -0.2 0 -0.2 0 -0.3 0 -0.2 0 -0.2 0 -0.2 0 -0.2 0 -0.2 0 -0.2 0 -0.2 0 -0.2 0 -0.2 0 -0.2 0 -0.2 0 -0.2 0 -0.2 0 -0.2 0 -0.2 0 -0.2 0 -0.2 0 -0.2 0 -0.2 0 -0.2 0 -0.2 0 -0.2 0 -0.2 0 -0.2 0 -0.2 0 -0.2 0 -0.2 0 -0.3 0 -0.2 0 -0.2 0 -0.2 0 -0.2 0 -0.2 0 -0.2 0 -0.2 0 -0.2 0 -0.2 0 -0.2 0 -0.2 0 -0.2 0 -0.2 0 -0.2 0 -0.2 0 -0.2 0 -0.2 0 -0.2 0 -0.2 0 -0.2 0 -0.2 0 -0.2 0 -0.2 0 -0.2 0 -0.2 0 -0.2 0 -0.2 0 -0.3 0 -0.2 0 -0.2 0 -0.2 0 -0.2 0 -0.2 0 -0.2 0 -0.2 0 -0.2 0 -0.2 0 -0.2 0 -0.2 0 -0.2 0 -0.2 0 -0.2 0 -0.2 0 -0.2 0 -0.2 0 -0.2 0 -0.2 0 -0.2-0.4 -0.2-1.4 -0.2-1.4 -0.2 1.5 -0.2-1.3 -0.2-1.3 -0.2 0.4 -0.3-0.5 -0.2-1.3 -0.2-1.7 -0.2-0.2 -0.2-0.9 -0.2-1.6 -0.2-2.7 -0.2-3.7 -0.2 16.5 -0.2 0 -0.2 0 -0.2 0 -0.2 0 -0.2 0 -0.2-0.3 -0.2-0.8 -0.2-0.7 -0.2 0.3 -0.2-1 -0.2-0.3 -0.2-0.2 -0.2-0.1 -0.2-0.2 -0.2-2 -0.2 1.4 -0.2-2.4 -0.2-1.2 -0.2 0 -0.3-0.8 -0.2-1.4 -0.2 0.3 -0.2-1.5 -0.2-1.1 -0.2-0.7 -0.2-0.3 -0.2-1.3 -0.2-0.9 -0.2-1.2 -0.2-2.6 -0.2 0.6 -0.2-1.8 -0.2-0.4 -0.2-2.2 -0.2-2.6 -0.2-1.5 -0.2-3.4 -0.2-4.2 -0.2-4 -0.2-4.8 -0.2-6 -0.2-5.8 -0.2-6 -0.2-8 -0.2-8 -0.2 76.6 -0.2 0.3 -0.3 0.2 -0.2 0 -0.2-0.1 -0.2 0.1 -0.2-0.2 -0.2 0.2 -0.2 0 -0.2 0 -0.2-0.9 -0.2 0.9 -0.2 0 -0.2 0 -0.2 0 -0.2-0.6z" stroke-width="0.9"/>
<path d="M117 269.2l0.2 0.6 0 0 -0.2 0z M117.8 269.8l0.2-0.9 0.2 0.9 0 0 -0.2 0 -0.2 0z M119.9 269.6l0.2-0.3 0.2-41.3 0.2 0.9 0.2 2.5 0.2 1.7 0.2 1.7 0.2 2.8 0.2 1.6 0.2 1.4 0.2 1.1 0.2 3.6 0.2-0.9 0.2 2.6 0.2 2.2 0.2 0.4 0.2 1.8 0.2-0.6 0.2 2.6 0.2 1.2 0.2 0.9 0.2 1.3 0.2 0.3 0.2 0.7 0.2 1.1 0.2 1.5 0.2-0.3 0.2 1.4 0.3 0.8 0.2 0 0.2 1.2 0.2 2.4 0.2-1.4 0.2 2 0.2 0.2 0.2 0.1 0.2 0.2 0.2 0.3 0.2 1 0.2-0.3 0.2 0.7 0.2 0.8 0 0.3 -0.2 0 -0.2 0 -0.2 0 -0.2 0 -0.2 0 -0.2 0 -0.2 0 -0.2 0 -0.2-0.8 -0.2 0.8 -0.2-1.8 -0.2-1.2 -0.2 0 -0.3-0.8 -0.2-1.3 -0.2 0.2 -0.2-1.5 -0.2-1.1 -0.2-0.7 -0.2-0.3 -0.2-1.3 -0.2-0.9 -0.2-1.2 -0.2-2.6 -0.2 0.6 -0.2-1.8 -0.2-0.4 -0.2-2.2 -0.2-2.6 -0.2 0.9 -0.2-3.6 -0.2-1.1 -0.2-1.4 -0.2-1.6 -0.2-2.8 -0.2-1.7 -0.2-1.7 -0.2-2.5 -0.2-0.9 -0.2 37.3 -0.2 0z M129.4 269.8l0.2-9.2 0.2-0.4 0.2 1.4 0.2 0.7 0.2 0 0.2 0.1 0.2 1.7 0.2 1.3 0.3 0.5 0.2-0.4 0.2 1.3 0.2 1.3 0.2-1.5 0.2 1.4 0.2 1.4 0 0.4 -0.2 0 -0.2 0 -0.2 0 -0.2 0 -0.2 0 -0.2 0 -0.3 0 -0.2-1.2 -0.2-1.7 -0.2-0.1 -0.2 0.1 -0.2-0.8 -0.2-1.4 -0.2 0.4 -0.2 4.7z M153 269.8l0.2-49.2 0.2 2.4 0.3 3.3 0.2 2.7 0.2 2 0.2 1.8 0.2 2.2 0.2 2.5 0.2 1.5 0.2 2.2 0.2 2.6 0.2 1.2 0.2 2.1 0.2 1.7 0.2 2.3 0.2 0.5 0.2 2.3 0.2 0.1 0.2 2.3 0.2 0.8 0.2 1.9 0.2 1.9 0.2 0.1 0.2 1.8 0.2 0.4 0.2 1.2 0.2-0.5 0.2 2.3 0.2 0.7 0.2 0.9 0.3-0.3 0.2 1.6 0.2 0.7 0 0 -0.2 0 -0.2 0 -0.3 0 -0.2 0 -0.2 0 -0.2-1.4 -0.2 0.5 -0.2-1.2 -0.2-0.4 -0.2-1.8 -0.2 0 -0.2-2 -0.2-1.9 -0.2-0.8 -0.2-2.3 -0.2-0.1 -0.2-2.3 -0.2-0.5 -0.2-2.3 -0.2-1.7 -0.2-2.1 -0.2-1.2 -0.2-2.6 -0.2-2.2 -0.2-1.5 -0.2-2.5 -0.2-2.2 -0.2-1.8 -0.2-2 -0.2-2.7 -0.3-3.3 -0.2-2.4 -0.2 44.7z M192.7 269.8l0.2-48.5 0.3 2.5 0.2 3.7 0.2 2 0.2 2.6 0.2 1.1 0.2 2.6 0.2 2.9 0.2 2.7 0.2 0.9 0.2 1.6 0.2 2.8 0.2 1.1 0.2 1.8 0.2 1.1 0.2 1.8 0.2 1.8 0.2 1.3 0.2 0.3 0.2 1.6 0.2 0.9 0.2 1.8 0.2 1.1 0.2 0.3 0.2 2.2 0.2 0.6 0.2-33.4 0.2 3.6 0.3 0.4 0.2 4.7 0.2 2.2 0.2 1.9 0.2 1.4 0.2 1.7 0.2 1.4 0.2 2.5 0.2 2.6 0.2 0.9 0.2-21 0.2 0.9 0.2 3.6 0.2 3.9 0.2 1.1 0.2 2 0.2 3.2 0.2 1.8 0.2 1.9 0.2 1.7 0.2 2.6 0.2 0.6 0.2 2.3 0.2 2.8 0.2 0.9 0.2 0 0.2 1.2 0.2 1.9 0.3 1.7 0.2 1.6 0.2 0.8 0 0 -0.2 0 -0.2 0 -0.3 0 -0.2-1.5 -0.2-1.2 -0.2 0 -0.2-0.9 -0.2-2.8 -0.2-2.3 -0.2-0.6 -0.2-2.6 -0.2-1.7 -0.2-1.9 -0.2-1.8 -0.2-3.2 -0.2-2 -0.2-1.1 -0.2-3.9 -0.2-3.6 -0.2-0.9 -0.2 21 -0.2-0.9 -0.2-2.6 -0.2-2.5 -0.2-1.4 -0.2-1.7 -0.2-1.4 -0.2-1.9 -0.2-2.2 -0.2-4.7 -0.3-0.4 -0.2-3.6 -0.2 33.4 -0.2-0.6 -0.2-2.2 -0.2-0.3 -0.2-1.1 -0.2-1.8 -0.2-0.9 -0.2-1.6 -0.2-0.3 -0.2-1.3 -0.2-1.8 -0.2-1.8 -0.2-1.1 -0.2-1.8 -0.2-1.1 -0.2-2.8 -0.2-1.6 -0.2-0.8 -0.2-2.8 -0.2-2.9 -0.2-2.6 -0.2-1.1 -0.2-2.6 -0.2-2 -0.2-3.7 -0.3-2.5 -0.2 44z M210.1 269.8l0.2-1.5 0.2 0.5 0.2 1 0 0 -0.2 0 -0.2 0 -0.2 0z M211.9 269.8l0.2-25.5 0.2 1.6 0.2 2.8 0.2 2.1 0.2 3.4 0.2 1.1 0.2 2.2 0.2 1.8 0.2 0.5 0.2 3.2 0.2 1.8 0.2 1.3 0.2 2.2 0.2 1.1 0 0.4 -0.2 0 -0.2 0 -0.2-0.5 -0.2-1.8 -0.2-3.1 -0.2-0.6 -0.2-1.8 -0.2-2.2 -0.2-1.1 -0.2-3.4 -0.2-2 -0.2-2.9 -0.2-1.6 -0.2 21z M258.1 269.8l0.2-20.9 0.2 1.3 0.2 2.8 0.2 0.9 0.2-0.4 0.2 2.4 0.2 1.9 0.2-0.3 0.2 1.5 0.2 1 0.2 2 0.3-0.1 0.2 1.2 0.2 0.5 0.2 1 0.2 1.1 0.2 0.9 0.2 0.2 0.2 0.3 0.2 1.8 0.2 0.2 0.2-0.7 0.2 1.4 0 0 -0.2 0 -0.2 0 -0.2 0 -0.2 0 -0.2 0 -0.2 0 -0.2 0 -0.2-0.7 -0.2-1 -0.2-0.4 -0.2-1.3 -0.3 0.1 -0.2-2 -0.2-1 -0.2-1.5 -0.2 0.3 -0.2-1.9 -0.2-2.4 -0.2 0.4 -0.2-0.9 -0.2-2.8 -0.2-1.3 -0.2 16.4z M272.2 269.8l0.2-6 0.2 0.4 0.2 1.5 0.2 0.2 0.2-0.2 0.2 1.6 0.2 0.4 0.2 1.2 0.2 0.6 0 0.3 -0.2 0 -0.2 0 -0.2 0 -0.2 0 -0.2 0 -0.2 0 -0.2-1.1 -0.2-0.4 -0.2 1.5z M274 269.5l0.2-0.7 0.2 1 0 0 -0.2 0 -0.2 0z M334.9 269.8l0.2-17.2 0.2 0.4 0.2 1.1 0.2 0.4 0.2 1.1 0.2 1.1 0.2-0.4 0.2 1.7 0.2 0.6 0.2 1.5 0.2 0.6 0.2 0.9 0.2 1.2 0.2-1.5 0.2 0.9 0.2 0.4 0.2 0.2 0.2 1.2 0.2 0.5 0.2 1 0.2-0.3 0.3 1.4 0.2 0.8 0.2 0.5 0.2-0.1 0.2-0.4 0.2 0.4 0.2 0.3 0.2-0.1 0.2 0.8 0.2 0.7 0 0.3 -0.2 0 -0.2 0 -0.2 0 -0.2 0 -0.2 0 -0.2 0 -0.2 0 -0.2 0 -0.2 0 -0.3-0.1 -0.2 0.1 -0.2-0.8 -0.2-0.5 -0.2-1.2 -0.2-0.2 -0.2-0.4 -0.2-0.9 -0.2 1.5 -0.2-1.2 -0.2-0.8 -0.2-0.7 -0.2-1.5 -0.2-0.6 -0.2-1.7 -0.2 0.5 -0.2-1.2 -0.2-1.1 -0.2-0.4 -0.2-1.1 -0.2-0.4 -0.2 12.7z M341.4 269.4l0.2-0.6 0.2 1 0 0 -0.2 0 -0.2 0z M345.9 269.8l0.2-28.7 0.2 1.4 0.2 1.3 0.2 3.6 0.2-0.9 0.2 1.7 0.2 2.3 0.2 0.8 0.2 1.1 0.2 2 0.2 0.7 0.2 0.7 0.2 1.6 0.2 1.2 0.2 0.8 0.2 0.5 0.2 1.5 0.2 0.8 0.2 1.3 0.2 0.9 0.2-0.4 0.2 1.1 0.3 1.1 0.2-0.8 0.2 2.2 0.2-0.5 0.2 0.4 0.2-0.3 0.2 2.1 0.2 0.2 0 0.3 -0.2 0 -0.2 0 -0.2 0 -0.2 0 -0.2 0 -0.2 0 -0.2 0 -0.3-0.2 -0.2-1.1 -0.2 0.4 -0.2-0.9 -0.2-1.3 -0.2-0.7 -0.2-1.6 -0.2-0.5 -0.2-0.8 -0.2-1.2 -0.2-1.6 -0.2-0.7 -0.2-0.7 -0.2-2 -0.2-1.1 -0.2-0.8 -0.2-2.3 -0.2-1.7 -0.2 0.9 -0.2-3.6 -0.2-1.3 -0.2-1.4 -0.2 24.2z" stroke-width="1.2"/>
<line x1="120.17" y1="269.8" x2="120.17" y2="163.91" stroke="#ff0000" stroke-width="1.7"/>
<line x1="129.43" y1="269.8" x2="129.43" y2="225.49" stroke="#ff0000" stroke-width="1.7"/>
<line x1="153.24" y1="269.8" x2="153.24" y2="134.62" stroke="#ff0000" stroke-width="1.7"/>
<line x1="192.91" y1="269.8" x2="192.91" y2="135.67" stroke="#ff0000" stroke-width="1.7"/>
<line x1="198.2" y1="269.8" x2="198.2" y2="163.61" stroke="#ff0000" stroke-width="1.7"/>
<line x1="200.58" y1="269.8" x2="200.58" y2="166.16" stroke="#ff0000" stroke-width="1.7"/>
<line x1="210.1" y1="269.8" x2="210.1" y2="208.82" stroke="#ff0000" stroke-width="1.7"/>
<line x1="211.96" y1="269.8" x2="211.96" y2="160" stroke="#ff0000" stroke-width="1.7"/>
<line x1="258.24" y1="269.8" x2="258.24" y2="193.05" stroke="#ff0000" stroke-width="1.7"/>
<line x1="272.26" y1="269.8" x2="272.26" y2="222.64" stroke="#ff0000" stroke-width="1.7"/>
<line x1="334.95" y1="269.8" x2="334.95" y2="214.98" stroke="#ff0000" stroke-width="1.7"/>
<line x1="346.06" y1="269.8" x2="346.06" y2="186.59" stroke="#ff0000" stroke-width="1.7"/>
</g>
<rect x="525.5" y="49.8" width="443.0" height="220.8" fill="none" stroke="#c0c0c0" stroke-width="1"/>
<line x1="525.5" y1="270.6" x2="530" y2="270.6" stroke="#c0c0c0" stroke-width="1"/>
<line x1="968.5" y1="270.6" x2="964" y2="270.6" stroke="#c0c0c0" stroke-width="1"/>
<text x="503.54" y="281.4" font-size="27" style="font-kerning:none">0</text>
<line x1="525.5" y1="162.15" x2="530" y2="162.15" stroke="#c0c0c0" stroke-width="1"/>
<line x1="968.5" y1="162.15" x2="964" y2="162.15" stroke="#c0c0c0" stroke-width="1"/>
<text x="458.49" y="172.95" font-size="27" style="font-kerning:none">2000</text>
<line x1="525.5" y1="53.7" x2="530" y2="53.7" stroke="#c0c0c0" stroke-width="1"/>
<line x1="968.5" y1="53.7" x2="964" y2="53.7" stroke="#c0c0c0" stroke-width="1"/>
<text x="458.49" y="64.5" font-size="27" style="font-kerning:none">4000</text>
<line x1="646.32" y1="270.6" x2="646.32" y2="266.1" stroke="#c0c0c0" stroke-width="1"/>
<line x1="646.32" y1="49.8" x2="646.32" y2="54.3" stroke="#c0c0c0" stroke-width="1"/>
<text x="623.78" y="304.5" font-size="27" style="font-kerning:none">500</text>
<line x1="780.56" y1="270.6" x2="780.56" y2="266.1" stroke="#c0c0c0" stroke-width="1"/>
<line x1="780.56" y1="49.8" x2="780.56" y2="54.3" stroke="#c0c0c0" stroke-width="1"/>
<text x="750.03" y="304.5" font-size="27" style="font-kerning:none">1000</text>
<line x1="914.8" y1="270.6" x2="914.8" y2="266.1" stroke="#c0c0c0" stroke-width="1"/>
<line x1="914.8" y1="49.8" x2="914.8" y2="54.3" stroke="#c0c0c0" stroke-width="1"/>
<text x="884.27" y="304.5" font-size="27" style="font-kerning:none">1500</text>
<text x="667.07" y="340.7" font-size="30" style="font-kerning:none">Energy (eV)</text>
<text transform="translate(450.6 159.9) rotate(-90)" x="-47.75" y="0" font-size="30.0" style="font-kerning:none">Counts</text>
<line x1="844.8" y1="71.1" x2="861" y2="71.1" stroke="#000" stroke-width="1.6"/>
<text x="861.51" y="81.6" font-size="27" style="font-kerning:none">Ideal</text>
<line x1="844.8" y1="104.5" x2="861" y2="104.5" stroke="#ff0000" stroke-width="1.6"/>
<text x="862.25" y="115.1" font-size="27" style="font-kerning:none">Analysis</text>
<clipPath id="rc1"><rect x="525.5" y="49.8" width="443.0" height="220.8"/></clipPath>
<g clip-path="url(#rc1)" fill="none" stroke-width="1.6" stroke-linejoin="round">
<path d="M525.5 232.4l0.1-0.1 0.2-0.1 0.1-0.1 0.1 0 0.2 0.1 0.1 0 0.1-0.2 0.2-0.3 0.1-0.3 0.1-0.6 0.2-1 0.1-1 0.1-0.5 0.2 1.5 0.1 1.4 0.1 1.5 0.2-1.2 0.1-1.3 0.2-1.2 0.1-0.4 0.1-0.1 0.2-0.2 0.1 0.4 0.1 0.8 0.2 0.8 0.1 0.6 0.1 0.1 0.2 0.2 0.1 0 0.1-0.6 0.2-0.5 0.1-0.6 0.1-0.4 0.2-0.3 0.1-0.4 0.1-0.4 0.2-0.5 0.1-0.4 0.1 0.2 0.2 0.6 0.1 0.6 0.1 0.2 0.2-0.3 0.1-0.3 0.1-0.1 0.2 1 0.1 1 0.1 1 0.2 0.2 0.1 0.2 0.1 0.2 0.2 0.4 0.1 0.4 0.2 0.4 0.1 0 0.1-0.3 0.2-0.3 0.1-0.3 0.1-0.4 0.2-0.4 0.1-0.3 0.1-0.3 0.2-0.2 0.1-0.3 0.1 0.7 0.2 0.8 0.1 0.7 0.1-0.7 0.2-1 0.1-1.1 0.1-0.1 0.2 0.5 0.1 0.4 0.1 0.4 0.2 0.2 0.1 0.3 0.1 0.2 0.2 0.1 0.1 0 0.1 0.1 0.2-1.4 0.1-1.3 0.1-1.4 0.2 0.5 0.1 0.9 0.1 0.9 0.2 0.7 0.1 0.5 0.2 0.5 0.1 0.3 0.1 0.1 0.2 0 0.1-0.3 0.1-1.4 0.2-1.3 0.1-1.3 0.1 1.2 0.2 1.2 0.1 1.1 0.1-0.5 0.2-0.8 0.1-0.9 0.1-0.4 0.2-0.1 0.1-0.1 0.1 0.7 0.2 1.8 0.1 1.9 0.1 0.9 0.2-1.7 0.1-1.8 0.1-1.7 0.2 0.7 0.1 0.8 0.1 0.8 0.2 0.4 0.1 0.5 0.1 0.4 0.2 0 0.1-0.3 0.1-0.2 0.2-0.4 0.1-0.6 0.2-0.5 0.1-0.4 0.1 0.1 0.2 0.1 0.1 0.1 0.1 0 0.2-0.1 0.1 0 0.1 0.5 0.2 0.5 0.1 0.6 0.1-0.4 0.2-1 0.1-1 0.1-0.5 0.2-0.1 0.1-0.2 0.1-0.1 0.2-0.1 0.1-0.2 0.1-0.1 0.2 0.4 0.1 0.4 0.1 0.4 0.2-0.3 0.1-0.4 0.1-0.5 0.2-0.2 0.1-0.1 0.1-0.1 0.2 0.3 0.1 0.6 0.1 0.7 0.2 0.5 0.1-0.1 0.2-0.1 0.1 0 0.1 0.1 0.2 0.2 0.1 0.1 0.1 0 0.2 0.1 0.1 0 0.1-0.1 0.2-0.2 0.1-0.1 0.1 0.5 0.2 1.2 0.1 1.3 0.1 0.7 0.2-0.7 0.1-0.6 0.1-0.7 0.2-0.4 0.1-0.4 0.1-0.4 0.2 1.1 0.1 1.2 0.1 1.3 0.2 0.2 0.1-0.3 0.1-0.3 0.2-0.9 0.1-1.4 0.1-1.5 0.2-0.8 0.1 1.3 0.1 1.3 0.2 1.2 0.1-0.3 0.2-0.3 0.1-0.3 0.1-0.4 0.2-0.4 0.1-0.4 0.1 0.2 0.2 0.4 0.1 0.4 0.1 0.3 0.2 0.2 0.1 0.2 0.1 0.1 0.2-0.2 0.1-0.2 0.1-0.1 0.2-0.1 0.1 0 0.1 0 0.2 0 0.1 0.1 0.1 0.1 0.2-0.2 0.1-0.4 0.1-0.4 0.2-0.5 0.1-0.7 0.1-0.7 0.2-0.3 0.1 0.6 0.1 0.6 0.2 0.5 0.1-0.6 0.1-0.6 0.2-0.6 0.1 0.3 0.2 0.4 0.1 0.4 0.1 0.1 0.2 0 0.1 0 0.1 0 0.2 0.1 0.1 0.1 0.1 0.2 0.2 0.5 0.1 0.4 0.1 0.4 0.2-0.4 0.1-0.4 0.1-0.5 0.2-0.1 0.1-0.3 0.1-0.4 0.2-0.2 0.1-0.2 0.1-0.4 0.2-1.3 0.1-2.1 0.1-1.9 0.2-1.3 0.1-0.1 0.1 0.3 0.2 0.9 0.1 1.1 0.1 1.3 0.2 1.4 0.1 1.4 0.1 1.3 0.2 1.1 0.1 1.3 0.2 1.3 0.1 1.2 0.1-0.4 0.2-1.9 0.1-2 0.1-1.2 0.2 0.8 0.1 0.7 0.1 0.8 0.2 1 0.1 1 0.1 1 0.2-1 0.1-1.4 0.1-1.4 0.2 0 0.1 0.7 0.1 0.7 0.2 0 0.1-0.7 0.1-0.7 0.2-0.3 0.1 0.3 0.1 0.4 0.2 0.3 0.1-0.6 0.1-0.6 0.2-0.6 0.1 0.4 0.1 0.4 0.2 0.4 0.1 0.2 0.1-0.1 0.2 0 0.1 0 0.2 0.1 0.1 0.1 0.1-0.1 0.2-0.5 0.1-0.6 0.1-0.3 0.2 1.2 0.1 1.2 0.1 1.2 0.2-0.9 0.1-1.2 0.1-1.2 0.2-0.2 0.1 0.3 0.1 0.2 0.2 0.4 0.1 0.6 0.1 0.6 0.2 0.4 0.1-0.3 0.1-0.2 0.2-0.3 0.1 0.3 0.1 0.2 0.2 0.2 0.1-0.2 0.1-0.2 0.2-0.3 0.1-0.4 0.1-0.4 0.2-0.4 0.1 0.2 0.1 0.8 0.2 0.8 0.1 0.3 0.2-0.7 0.1-0.7 0.1-0.6 0.2-0.1 0.1-0.1 0.1-0.1 0.2 0.2 0.1 0.1 0.1 0.2 0.2-0.3 0.1-0.4 0.1-0.5 0.2 0.2 0.1 0.8 0.1 0.8 0.2 0.4 0.1-0.3 0.1-0.4 0.2-0.4 0.1-0.9 0.1-0.8 0.2-0.9 0.1 1 0.1 1.2 0.2 1.2 0.1 0.4 0.1 0.1 0.2 0.1 0.1 0 0.1-0.1 0.2 0 0.1-0.1 0.1-0.3 0.2-0.3 0.1-0.2 0.2 0.6 0.1 0.6 0.1 0.6 0.2-0.1 0.1-0.2 0.1-0.1 0.2 0.4 0.1 0.8 0.1 0.7 0.2 0.2 0.1-0.3 0.1-0.4 0.2-0.2 0.1 0 0.1 0 0.2-0.1 0.1 0.1 0.1 0 0.2 0 0.1-0.3 0.1-0.5 0.2-0.4 0.1-0.6 0.1-0.8 0.2-0.7 0.1-0.3 0.1 0.2 0.2 0.2 0.1 0.1 0.1 0 0.2 0 0.1-0.1 0.1-1.2 0.2-1.2 0.1-1.2 0.2-0.3 0.1-0.3 0.1-0.1 0.2 0.4 0.1 0.7 0.1 0.9 0.2 0.1 0.1-0.5 0.1-0.4 0.2 0.1 0.1 1.1 0.1 1 0.2 1 0.1 0.3 0.1 0.3 0.2 0.2 0.1 0.5 0.1 0.4 0.2 0.4 0.1-0.2 0.1-0.5 0.2-0.5 0.1 0.2 0.1 0.9 0.2 0.9 0.1 0.6 0.1-0.2 0.2-0.1 0.1-0.2 0.1-0.2 0.2-0.2 0.1-0.1 0.1-0.4 0.2-0.4 0.1-0.3 0.2-0.1 0.1-0.1 0.1 0 0.2 0.6 0.1 1.1 0.1 1 0.2 0.4 0.1-1 0.1-0.9 0.2-0.8 0.1 0.4 0.1 0.5 0.2 0.5 0.1-0.4 0.1-0.3 0.2-0.4 0.1 0 0.1 0.1 0.2 0.1 0.1 0.5 0.1 0.8 0.2 0.8 0.1 0.5 0.1-0.2 0.2-0.2 0.1-0.2 0.1 0.2 0.2 0.3 0.1 0.2 0.1-0.3 0.2-0.2 0.1-0.3 0.1-0.4 0.2-0.6 0.1-0.5 0.2 0.2 0.1 0.7 0.1 0.8 0.2 0.5 0.1 0.3 0.1 0.2 0.2-0.1 0.1-1.7 0.1-1.8 0.2-1.8 0.1 0.9 0.1 1 0.2 0.8 0.1-0.8 0.1-1.5 0.2-1.6 0.1-1.4 0.1-1.3 0.2-1.3 0.1-1.2 0.1-0.7 0.2-0.6 0.1-0.7 0.1-1.7 0.2-1.5 0.1-1.3 0.1-0.1 0.2 0.1 0.1 0.4 0.1 1.2 0.2 1.5 0.1 1.8 0.1 1.5 0.2 1.4 0.1 1.5 0.2 1.4 0.1 1.6 0.1 1.4 0.2 1.5 0.1 1.8 0.1 1.7 0.2 1.6 0.1-0.1 0.1-0.2 0.2-0.4 0.1 0.7 0.1 1 0.2 1 0.1 0.4 0.1 0.1 0.2 0 0.1-0.2 0.1-0.4 0.2-0.5 0.1-0.5 0.1-0.1 0.2-0.2 0.1-0.1 0.1 0.8 0.2 0.8 0.1 0.9 0.1-0.5 0.2-0.8 0.1-0.8 0.1-0.4 0.2-0.2 0.1-0.3 0.1 0.2 0.2 0.7 0.1 0.8 0.2 0.6 0.1 0.2 0.1 0.1 0.2 0.2 0.1-0.1 0.1 0 0.2-0.1 0.1 0.2 0.1 0.3 0.2 0.3 0.1 0.3 0.1 0.2 0.2 0.3 0.1-0.1 0.1-0.6 0.2-0.6 0.1-0.5 0.1 0 0.2 0 0.1 0 0.1 0.6 0.2 0.5 0.1 0.6 0.1 0.1 0.2 0 0.1 0 0.1 0.1 0.2 0.1 0.1 0.1 0.1 0.1 0.2 0.1 0.1 0 0.1 0.1 0.2 0.2 0.1 0.1 0.1 0.1 0.2 0.3 0.1 0.2 0.2 0.3 0.1-0.7 0.1-1 0.2-1 0.1-0.1 0.1 0.5 0.2 0.5 0.1 0.2 0.1-0.3 0.2-0.4 0.1-0.6 0.1-1.2 0.2-1.3 0.1-1.6 0.1-0.3 0.2-0.6 0.1-0.9 0.1-2.4 0.2-3 0.1-3.4 0.1-3 0.2-2.6 0.1-2.7 0.1-2.9 0.2-3.3 0.1-2.8 0.1-2.1 0.2-1.6 0.1-0.6 0.1 0.2 0.2 1.9 0.1 2.7 0.1 3.3 0.2 3.8 0.1 4.1 0.2 4.1 0.1 3.7 0.1 3.4 0.2 3 0.1 2.4 0.1 1.5 0.2 1.1 0.1 0.9 0.1 1.7 0.2 1.4 0.1 1.1 0.1-0.2 0.2-0.3 0.1-0.3 0.1 0.1 0.2 0.3 0.1 0.2 0.1 0.3 0.2 0.2 0.1 0.3 0.1 0.1 0.2 0 0.1-0.1 0.1-0.1 0.2-0.3 0.1-0.3 0.1-0.3 0.2 0.2 0.1 0.3 0.1 0.3 0.2 0.4 0.1 0.4 0.1 0.4 0.2-0.1 0.1-0.5 0.2-0.5 0.1-0.2 0.1 0.3 0.2 0.3 0.1 0.2 0.1 0 0.2-0.1 0.1 0 0.1-0.3 0.2-0.3 0.1-0.3 0.1 0.1 0.2 0.1 0.1 0.1 0.1-0.1 0.2-0.3 0.1-0.2 0.1 0 0.2 0.5 0.1 0.5 0.1 0.4 0.2 0.1 0.1 0.1 0.1 0.1 0.2 0 0.1 0 0.1-0.1 0.2-0.2 0.1-0.2 0.1-0.3 0.2 0.2 0.1 0.4 0.1 0.5 0.2 0.2 0.1-0.1 0.2-0.2 0.1-0.1 0.1 0.2 0.2 0.2 0.1 0.2 0.1 0 0.2 0 0.1 0 0.1-0.2 0.2-0.2 0.1-0.2 0.1-0.7 0.2-1 0.1-0.9 0.1-0.2 0.2 1.1 0.1 1.1 0.1 0.8 0.2-0.3 0.1-0.2 0.1-0.2 0.2 0.1 0.1 0 0.1 0.1 0.2 0.1 0.1 0.1 0.1 0.2 0.2 0 0.1-0.1 0.1-0.1 0.2-0.3 0.1-0.7 0.1-0.7 0.2-0.4 0.1 0.9 0.2 0.8 0.1 0.8 0.1-0.7 0.2-0.7 0.1-0.6 0.1 0.1 0.2 0.4 0.1 0.4 0.1 0.5 0.2 0.6 0.1 0.6 0.1 0.3 0.2-0.1 0.1-0.1 0.1 0 0.2-0.1 0.1-0.1 0.1 0 0.2 0.2 0.1 0.3 0.1 0.2 0.2-0.6 0.1-0.8 0.1-0.8 0.2-0.2 0.1 0.3 0.1 0.3 0.2 0.2 0.1-0.1 0.1 0 0.2 0.1 0.1 0.6 0.1 0.6 0.2 0.5 0.1-0.5 0.2-0.5 0.1-0.6 0.1 0.2 0.2 0.4 0.1 0.4 0.1-0.5 0.2-1.1 0.1-1.1 0.1-0.2 0.2 0.9 0.1 1 0.1 0.7 0.2-0.1 0.1-0.2 0.1-0.1 0.2 0 0.1-0.1 0.1 0 0.2 0.3 0.1 0.3 0.1 0.4 0.2 0.1 0.1-0.1 0.1 0 0.2 0 0.1 0 0.1 0 0.2 0 0.1-0.5 0.1-0.4 0.2-0.4 0.1 0.6 0.1 0.5 0.2 0.6 0.1 0 0.2-0.2 0.1-0.2 0.1-0.2 0.2-0.2 0.1-0.1 0.1 0 0.2 0.3 0.1 0.3 0.1 0.3 0.2 0.3 0.1 0.4 0.1 0.3 0.2 0 0.1-0.1 0.1 0 0.2-0.3 0.1-0.2 0.1-0.3 0.2 0 0.1 0.2 0.1 0.3 0.2-0.2 0.1-0.7 0.1-0.7 0.2-0.5 0.1 0.4 0.1 0.4 0.2 0.3 0.1 0 0.1 0.1 0.2 0 0.1 0.3 0.1 0.4 0.2 0.3 0.1-0.2 0.2-0.5 0.1-0.6 0.1-0.1 0.2 0.3 0.1 0.3 0.1 0.3 0.2 0.3 0.1 0.2 0.1 0.2 0.2-0.1 0.1-0.1 0.1-0.1 0.2-0.9 0.1-1.1 0.1-1.1 0.2 0.3 0.1 1.1 0.1 1.1 0.2 0.7 0.1 0.1 0.1 0.1 0.2-0.1 0.1-0.7 0.1-0.8 0.2-0.6 0.1 0.1 0.1 0.2 0.2 0.2 0.1 0.3 0.1 0.4 0.2 0.4 0.1-0.3 0.1-0.6 0.2-0.6 0.1 0.2 0.2 1 0.1 1.1 0.1 0.6 0.2-0.3 0.1-0.4 0.1-0.3 0.2 0.5 0.1 0.4 0.1 0.4 0.2-0.8 0.1-1.1 0.1-1.1 0.2 0 0.1 0.5 0.1 0.5 0.2-0.2 0.1-0.9 0.1-0.9 0.2-0.4 0.1 0.7 0.1 0.8 0.2 0.7 0.1 0 0.1 0 0.2 0 0.1 0.5 0.1 0.6 0.2 0.6 0.1 0.2 0.1 0 0.2 0 0.1-0.1 0.1-0.3 0.2-0.3 0.1-0.5 0.2-0.7 0.1-0.7 0.1-0.8 0.2 0.2 0.1 0.1 0.1 0 0.2-0.2 0.1-0.2 0.1-0.2 0.2-1.1 0.1-1.4 0.1-1.2 0.2-0.4 0.1 0.4 0.1 0.5 0.2 0.9 0.1 1.4 0.1 1.3 0.2 1.3 0.1 0 0.1 0 0.2-0.1 0.1 0 0.1-0.1 0.2-0.1 0.1 0 0.1 0.1 0.2 0 0.1 0.5 0.1 1 0.2 0.9 0.1 0.6 0.1-0.6 0.2-0.5 0.1-0.5 0.2 0.3 0.1 0.3 0.1 0.3 0.2-0.5 0.1-0.6 0.1-0.6 0.2 0 0.1 0.3 0.1 0.3 0.2 0.4 0.1 0.5 0.1 0.5 0.2 0.2 0.1-0.5 0.1-0.4 0.2-0.4 0.1-0.2 0.1-0.2 0.2-0.1 0.1 0.6 0.1 0.8 0.2 0.8 0.1 0.1 0.1 0 0.2-0.1 0.1-0.2 0.1-0.3 0.2-0.4 0.1-0.4 0.1-0.5 0.2-0.6 0.1-0.6 0.1-0.5 0.2-0.4 0.1-0.3 0.2 0.1 0.1 0.4 0.1 0.6 0.2 0.5 0.1 0.4 0.1 0.5 0.2 0.3 0.1-0.1 0.1-0.1 0.2-0.2 0.1 0.1 0.1-0.1 0.2 0 0.1 0.5 0.1 0.5 0.2 0.5 0.1-0.3 0.1-0.3 0.2-0.4 0.1-0.5 0.1-0.6 0.2-0.6 0.1 0.1 0.1 0.7 0.2 0.7 0.1 0.6 0.1 0.1 0.2 0.1 0.1 0.1 0.1 0.1 0.2 0.1 0.1 0.1 0.1-0.4 0.2-0.4 0.1-0.5 0.2-0.1 0.1-0.1 0.1-0.3 0.2-0.6 0.1-1 0.1-1.5 0.2-2.1 0.1-2.3 0.1-2.7 0.2-2.7 0.1-2.6 0.1-1.7 0.2-0.5 0.1 1 0.1 2 0.2 2.7 0.1 3.1 0.1 3 0.2 2.5 0.1 1.6 0.1 0.7 0.2 0.4 0.1 0.4 0.1 1.2 0.2 1.1 0.1 0.8 0.1-0.8 0.2-0.7 0.1-0.8 0.1 0.2 0.2 0.3 0.1 0.3 0.1-0.2 0.2-0.3 0.1-0.3 0.2-0.4 0.1-0.3 0.1-0.4 0.2 0 0.1 0.6 0.1 0.7 0.2 0.6 0.1 0.1 0.1 0 0.2 0.1 0.1 0 0.1-0.1 0.2 0 0.1-0.4 0.1-0.5 0.2-0.4 0.1-0.3 0.1 0 0.2-0.1 0.1 0.1 0.1 0.5 0.2 0.5 0.1 0.4 0.1-0.1 0.2-0.2 0.1-0.2 0.1-0.3 0.2-0.4 0.1-0.4 0.1 0.2 0.2 0.4 0.1 0.4 0.1 0.4 0.2 0.6 0.1 0.4 0.2-0.1 0.1-0.9 0.1-1.1 0.2-1.3 0.1-1.3 0.1-1.2 0.2-1 0.1-0.8 0.1-0.3 0.2 0 0.1 1 0.1 1.4 0.2 1.4 0.1 0.9 0.1 0.3 0.2 0.1 0.1 0.3 0.1 1.1 0.2 0.8 0.1 0.6 0.1-0.6 0.2-0.6 0.1-0.7 0.1 0.7 0.2 0.7 0.1 0.8 0.1-0.3 0.2-0.7 0.1-0.7 0.1-0.1 0.2 0.4 0.1 0.5 0.1 0.1 0.2-0.4 0.1-0.5 0.2-0.3 0.1-0.2 0.1-0.2 0.2-0.2 0.1 0.1 0.1 0.1 0.2 0 0.1 0.2 0.1 0.3 0.2 0.2 0.1 0.5 0.1 0.6 0.2 0.7 0.1 0.4 0.1 0 0.2 0 0.1 0.2 0.1 0.8 0.2 0.8 0.1 0.8 0.1-1.4 0.2-1.6 0.1-1.6 0.1-0.4 0.2 0.1 0.1 0.1 0.1 0.1 0.2 0.1 0.1 0.1 0.1 0.3 0.2 0.7 0.1 0.8 0.1 0.4 0.2-1.3 0.1-1.4 0.2-1.3 0.1 1.1 0.1 1.2 0.2 1.1 0.1 0 0.1-0.6 0.2-0.5 0.1 0.2 0.1 0.9 0.2 0.9 0.1 0.4 0.1-0.3 0.2-0.4 0.1-0.4 0.1-0.6 0.2-0.6 0.1-0.6 0.1 0 0.2 0.1 0.1 0.1 0.1 0.5 0.2 0.8 0.1 0.7 0.1 0.1 0.2-0.3 0.1-0.3 0.1-0.4 0.2-0.4 0.1-0.4 0.1-0.2 0.2 1 0.1 1 0.1 1.1 0.2-0.8 0.1-0.9 0.2-0.9 0.1 0.4 0.1 0.7 0.2 0.8 0.1-0.2 0.1-0.9 0.2-0.9 0.1-0.6 0.1 0 0.2 0 0.1-0.1 0.1-0.7 0.2-0.6 0.1-0.4 0.1 0.6 0.2 0.7 0.1 0.9 0.1 0.4 0.2 0.2 0.1 0.3 0.1 0.2 0.2 0.1 0.1 0.1 0.1 0.2 0.2 0.2 0.1 0.3 0.1 0.1 0.2-0.2 0.1-0.2 0.1-0.2 0.2 0.2 0.1 0.3 0.1 0.2 0.2 0 0.1-0.2 0.2-0.1 0.1-0.3 0.1-0.4 0.2-0.4 0.1-0.2 0.1 0.4 0.2 0.3 0.1 0.2 0.1-0.4 0.2-0.5 0.1-0.5 0.1 0.1 0.2 0.2 0.1 0.1 0.1 0 0.2 0 0.1-0.1 0.1 0.4 0.2 0.7 0.1 0.7 0.1 0.2 0.2-0.5 0.1-0.6 0.1-0.4 0.2-0.4 0.1-0.3 0.1-0.4 0.2 0.2 0.1 0.2 0.1 0.2 0.2-0.1 0.1-0.1 0.1-0.1 0.2-0.1 0.1-0.1 0.2-0.1 0.1 0.4 0.1 1 0.2 1.1 0.1 0.7 0.1-0.7 0.2-0.7 0.1-0.7 0.1 0 0.2 0 0.1 0 0.1 0.2 0.2 0.3 0.1 0.2 0.1 0.4 0.2 0.4 0.1 0.3 0.1 0.1 0.2-0.5 0.1-0.5 0.1-0.4 0.2 0.1 0.1 0.1 0.1 0.2 0.2-0.7 0.1-0.8 0.1-0.7 0.2 0.1 0.1 0.2 0.1 0.2 0.2 0.4 0.1 0.6 0.1 0.6 0.2 0.5 0.1 0.2 0.2 0.2 0.1 0.2 0.1-0.1 0.2 0 0.1-0.1 0.1-0.3 0.2-0.2 0.1-0.3 0.1 0.1 0.2 0.3 0.1 0.2 0.1-0.4 0.2-1 0.1-0.9 0.1-0.2 0.2 1 0.1 1 0.1 0.7 0.2-0.6 0.1-0.6 0.1-0.7 0.2-0.5 0.1-0.5 0.1-0.5 0.2-0.6 0.1-0.4 0.1-0.4 0.2 0.1 0.1 0.4 0.1 0.6 0.2 0.5 0.1 0.1 0.1 0.2 0.2 0.2 0.1 0.4 0.2 0.2 0.1 0.2 0.1 0.3 0.2 0.1 0.1 0.1 0.1 0.4 0.2 0.4 0.1 0.3 0.1 0.1 0.2 0 0.1-0.1 0.1-0.1 0.2-0.2 0.1-0.2 0.1-0.2 0.2-0.6 0.1-0.6 0.1-0.5 0.2 1 0.1 1.1 0.1 1 0.2-0.3 0.1-0.6 0.1-0.6 0.2-0.5 0.1-0.2 0.1-0.3 0.2 0.2 0.1 1 0.1 1 0.2 0.6 0.1-0.9 0.1-1 0.2-0.9 0.1 0 0.2 0 0.1 0 0.1 0.4 0.2 0.4 0.1 0.5 0.1 0 0.2-0.3 0.1-0.3 0.1-0.2 0.2-0.2 0.1-0.2 0.1 0 0.2 0.5 0.1 0.6 0.1 0.5 0.2-0.1 0.1-0.1 0.1-0.1 0.2 0.3 0.1 0.4 0.1 0.5 0.2 0.1 0.1-0.1 0.1-0.2 0.2-0.1 0.1-0.3 0.1-0.2 0.2-0.2 0.1 0 0.1 0.1 0.2 0 0.1-0.5 0.1-0.6 0.2-0.6 0.1 0.4 0.2 0.7 0.1 0.6 0.1 0.4 0.2 0.4 0.1 0.3 0.1-0.1 0.2-0.7 0.1-0.7 0.1-0.5 0.2-0.1 0.1 0 0.1 0 0.2 0.2 0.1 0.2 0.1 0.2 0.2 0.2 0.1 0.1 0.1 0.2 0.2 0.2 0.1 0.3 0.1 0.2 0.2 0.1 0.1-0.1 0.1 0 0.2-0.2 0.1-0.7 0.1-0.7 0.2-0.7 0.1 0.2 0.1 0.3 0.2 0.2 0.1 0.3 0.1 0.2 0.2 0.2 0.1 0.1 0.2-0.1 0.1-0.1 0.1 0 0.2 0.3 0.1 0.2 0.1 0.3 0.2 0.2 0.1 0.2 0.1 0.1 0.2-0.1 0.1-0.1 0.1-0.2 0.2-0.1 0.1-0.2 0.1-0.1 0.2 0.3 0.1 0.5 0.1 0.6 0.2 0.2 0.1 0 0.1-0.1 0.2 0 0.1 0.1 0.1 0.1 0.2 0.1 0.1-0.4 0.1-0.5 0.2-0.4 0.1-0.3 0.1-0.4 0.2-0.3 0.1 0.3 0.1 0.6 0.2 0.7 0.1 0.3 0.2 0 0.1-0.1 0.1 0 0.2 0.2 0.1 0.1 0.1 0.2 0.2-0.4 0.1-0.4 0.1-0.3 0.2 0.1 0.1 0.2 0.1 0.3 0.2 0 0.1 0 0.1-0.1 0.2 0 0.1 0.1 0.1 0 0.2-0.2 0.1-1.1 0.1-1.1 0.2-1.1 0.1 0.8 0.1 0.8 0.2 0.8 0.1 0.3 0.1 0.1 0.2 0.2 0.1 0.1 0.1-0.1 0.2-0.1 0.1-0.2 0.1-0.4 0.2-0.4 0.1-0.4 0.2 0 0.1 0 0.1-0.1 0.2 0.3 0.1 0.2 0.1 0.3 0.2 0.6 0.1 0.8 0.1 0.7 0.2-0.4 0.1-0.9 0.1-1 0.2-0.5 0.1-0.1 0.1 0 0.2 0 0.1 0.1 0.1 0.1 0.2 0.1 0.1 0.1 0.1 0.1 0.2 0.1 0.1 0.2 0.1 0.1 0.2 0.1 0.1-0.2 0.1-0.3 0.2-0.4 0.1 0 0.1 0.5 0.2 0.5 0.1 0.3 0.1-0.5 0.2-0.4 0.1-0.4 0.2 0.5 0.1 0.5 0.1 0.5 0.2 0.1 0.1 0 0.1-0.1 0.2 0 0.1 0.1 0.1 0 0.2 0 0.1 0.1 0.1 0 0.2 0 0.1 0 0.1 0 0.2-0.1 0.1-0.4 0.1-0.4 0.2-0.4 0.1-0.2 0.1-0.3 0.2-0.3 0.1 0.5 0.1 0.7 0.2 0.7 0.1 0.5 0.1 0.1 0.2 0.1 0.1-0.1 0.1-0.7 0.2-0.8 0.1-0.6 0.1 0.5 0.2 0.5 0.1 0.5 0.2-0.1 0.1-0.2 0.1-0.2 0.2 0 0.1 0 0.1 0.1 0.2-0.1 0.1-0.3 0.1-0.2 0.2 0 0.1 0.6 0.1 0.6 0.2 0.5 0.1-0.7 0.1-0.7 0.2-0.6 0.1 0 0.1 0.1 0.2 0.1 0.1 0.8 0.1 0.9 0.2 1 0.1 0.2 0.1-0.7 0.2-0.6 0.1-0.5 0.1 0.1 0.2 0.1 0.1 0 0.1-0.2 0.2-0.3 0.1-0.2 0.1 0.1 0.2 0.2 0.1 0.1 0.2 0.2 0.1 0.2 0.1 0.3 0.2 0 0.1-0.1 0.1-0.1 0.2-0.2 0.1-0.2 0.1-0.2 0.2-0.2 0.1 0.1 0.1 0.1 0.2 0.1 0.1 0.1 0.1 0 0.2 0.1 0.1-0.5 0.1-0.8 0.2-0.8 0.1-0.1 0.1 0.6 0.2 0.5 0.1 0.6 0.1 0.5 0.2 0.6 0.1 0.4 0.1-0.4 0.2-0.4 0.1-0.4 0.1-0.1 0.2 0 0.1-0.1 0.1 0.3 0.2 0.4 0.1 0.4 0.2 0.1 0.1-0.4 0.1-0.3 0.2-0.2 0.1 0.3 0.1 0.3 0.2 0.4 0.1 0.4 0.1 0.5 0.2 0.4 0.1-0.7 0.1-0.8 0.2-0.8 0.1-0.4 0.1 0 0.2-0.1 0.1-0.1 0.1 0 0.2 0 0.1 0.1 0.1 0.2 0.2 0.1 0.1-0.2 0.1-1 0.2-2.6 0.1-4.8 0.1-7.8 0.2-9.8 0.1-9.5 0.1-5.8 0.2 0 0.1 5.6 0.1 9.1 0.2 9.4 0.1 7.5 0.1 4.8 0.2 2.5 0.1 1 0.2 0.4 0.1 0.3 0.1 0.2 0.2 0.2 0.1 0.4 0.1 0.5 0.2 0.4 0.1 0.1 0.1-0.2 0.2-0.2 0.1 0.2 0.1 0.4 0.2 0.4 0.1 0.1 0.1-0.7 0.2-0.6 0.1-0.6 0.1 0 0.2 0.1 0.1 0 0.1-0.2 0.2-0.2 0.1-0.1 0.1 0.1 0.2 0.2 0.1 0.2 0.1 0 0.2-0.4 0.1-0.3 0.1 0 0.2 0.7 0.1 0.7 0.1 0.6 0.2-0.3 0.1-0.3 0.2-0.4 0.1 0.2 0.1 0.2 0.2 0.2 0.1 0 0.1 0 0.2 0 0.1 0.3 0.1 0.4 0.2 0.5 0.1-0.1 0.1-1.2 0.2-2.7 0.1-5.5 0.1-9.4 0.2-14.6 0.1-18.2 0.1-18.3 0.2-11.4 0.1-0.3 0.1 11.3 0.2 18.1 0.1 18.7 0.1 14.7 0.2 9.2 0.1 4.9 0.1 2.3 0.2 1.5 0.1 0.9 0.1 0.6 0.2-0.4 0.1-0.4 0.1-0.4 0.2-0.2 0.1 0 0.2-0.1 0.1 0.4 0.1 0.7 0.2 0.7 0.1-0.4 0.1-1.2 0.2-1.3 0.1-0.7 0.1 0.4 0.2 0.3 0.1 0.4 0.1 0.4 0.2 0.4 0.1 0.4 0.1-0.7 0.2-0.9 0.1-0.8 0.1-0.1 0.2 0.1 0.1 0.2 0.1 0.8 0.2 1.2 0.1 1.2 0.1 0.6 0.2-0.7 0.1-0.7 0.1-0.6 0.2 0.1 0.1 0.1 0.1 0.1 0.2-0.1 0.1-0.3 0.1-0.2 0.2 0.2 0.1 0.3 0.2 0.4 0.1 0 0.1-0.2 0.2-0.2 0.1-0.2 0.1-0.1 0.2-0.1 0.1 0 0.1 0.8 0.2 0.8 0.1 0.9 0.1-0.8 0.2-0.8 0.1-0.8 0.1-0.6 0.2-0.4 0.1-0.4 0.1 0.1 0.2 0.4 0.1 0.4 0.1 0.1 0.2-0.3 0.1-0.3 0.1-0.3 0.2-0.1 0.1-0.2 0.1-0.1 0.2 0.4 0.1 0.4 0.1 0.4 0.2 0.1 0.1-0.1 0.1 0 0.2 0 0.1 0 0.2 0 0.1 0.1 0.1 0.2 0.2 0.3 0.1 0.1 0.1-0.8 0.2-0.9 0.1-0.9 0.1 0.5 0.2 0.6 0.1 0.6 0.1 0.1 0.2 0 0.1 0 0.1-0.1 0.2-0.2 0.1-0.1 0.1-0.1 0.2-0.2 0.1-0.2 0.1 0 0.2 1 0.1 0.9 0.1 0.9 0.2-0.1 0.1-0.1 0.1-0.1 0.2-0.3 0.1-0.4 0.1-0.4 0.2-0.2 0.1-0.1 0.1-0.1 0.2 0.1 0.1 0.5 0.2 0.6 0.1 0.5 0.1 0 0.2 0.1 0.1 0 0.1-0.6 0.2-0.7 0.1-0.7 0.1-0.1 0.2 0 0.1 0 0.1 0.2 0.2 0.3 0.1 0.3 0.1 0.2 0.2 0 0.1 0 0.1 0 0.2 0.2 0.1 0.1 0.1 0.1 0.2 0.1 0.1 0.2 0.1 0.2 0.2 0 0.1-0.1 0.1-0.1 0.2-0.3 0.1-0.3 0.1-0.3 0.2-0.2 0.1 0.1 0.1 0.1 0.2 0.1 0.1-0.4 0.2-0.4 0.1-0.4 0.1 0.7 0.2 0.8 0.1 0.7 0.1 0.3 0.2 0.1 0.1 0.1 0.1-0.4 0.2-0.7 0.1-0.7 0.1-0.3 0.2 0.5 0.1 0.5 0.1 0.3 0.2-0.2 0.1-0.2 0.1-0.2 0.2-0.1 0.1-0.1 0.1-0.1 0.2 0.3 0.1 0.4 0.1 0.4 0.2 0.2 0.1 0.1 0.1 0.1 0.2-0.2 0.1-0.6 0.1-0.6 0.2-0.3 0.1 1 0.1 0.9 0.2 1 0.1-1 0.2-1.1 0.1-1.1 0.1 0.4 0.2 0.7 0.1 0.8 0.1-0.2 0.2-0.8 0.1-0.8 0.1-0.5 0.2 0.2 0.1 0.1 0.1 0.1 0.2 0.1 0.1 0 0.1 0 0.2-0.1 0.1-0.1 0.1-0.1 0.2 0.1 0.1 0.1 0.1 0.1 0.2 0.3 0.1 0.5 0.1 0.5 0.2 0 0.1-0.7 0.1-0.7 0.2-0.6 0.1 0.3 0.1 0.2 0.2 0.2 0.1-0.1 0.1-0.1 0.2-0.2 0.1 0.2 0.2 0.1 0.1 0.2 0.1 0.1 0.2 0.1 0.1 0 0.1-0.1 0.2-0.4 0.1-0.4 0.1-0.3 0.2 0 0.1-0.1 0.1 0 0.2 0.3 0.1 0.2 0.1 0.2 0.2 0.4 0.1 0.5 0.1 0.4 0.2 0.2 0.1-0.1 0.1-0.1 0.2-0.1 0.1 0 0.1 0.1 0.2-0.2 0.1-0.7 0.1-0.7 0.2-0.6 0.1 0.1 0.1 0.2 0.2 0.2 0.1 0.2 0.1 0.1 0.2 0.1 0.1 0.1 0.2 0.1 0.1 0.1 0.1 0.1 0.2 0.2 0.1 0.2 0.1 0 0.2-0.5 0.1-0.5 0.1-0.5 0.2 0.6 0.1 0.6 0.1 0.6 0.2 0.1 0.1-0.1 0.1-0.1 0.2-0.3 0.1-0.6 0.1-0.5 0.2-0.3 0.1 0 0.1 0.1 0.2 0.1 0.1 0.2 0.1 0.3 0.2 0.2 0.1 0.4 0.1 0.4 0.2 0.4 0.1 0 0.1 0 0.2 0 0.1-0.4 0.1-0.7 0.2-0.6 0.1-0.4 0.2 0.2 0.1 0.1 0.1 0.1 0.2-0.4 0.1-0.3 0.1-0.4 0.2 0.7 0.1 0.6 0.1 0.6 0.2 0.1 0.1-0.2 0.1-0.1 0.2 0.1 0.1 0.3 0.1 0.3 0.2-0.2 0.1-0.8 0.1-0.8 0.2-0.4 0.1 1 0.1 1.1 0.2 1.1 0.1-0.8 0.1-0.7 0.2-0.7 0.1-0.4 0.1-0.3 0.2-0.3 0.1 0.4 0.1 0.8 0.2 0.8 0.1 0.6 0.1 0.2 0.2 0.1 0.1 0.1 0.2-0.1 0.1-0.1 0.1-0.2 0.2 0.2 0.1 0.1 0.1 0.2 0.2-0.5 0.1-0.5 0.1-0.6 0.2-0.1 0.1 0.2 0.1 0.1 0.2 0.3 0.1 0.2 0.1 0.3 0.2 0.2 0.1-0.1 0.1-0.2 0.2-0.1 0.1-0.5 0.1-0.5 0.2-0.4 0.1 0.5 0.1 0.7 0.2 0.8 0.1 0.4 0.1 0.3 0.2 0.3 0.1 0.1 0.1-0.4 0.2-0.3 0.1 0.1 0.1 1.3 0.2 1.3 0.1 1.2 0.2 0.3 0.1 0.4 0.1 0.3 0.2 0 0.1-0.1 0.1-0.2 0.2 0.4 0.1 0.6 0.1 0.5 0.2 0.4 0.1 0.5 0.1 0.4 0.2 0.2 0.1-0.5 0.1-0.5 0.2-0.6 0.1 0 0.1 0 0.2 0 0.1-0.8 0.1-0.8 0.2-0.9 0.1-0.8 0.1-0.7 0.2-1 0.1-0.9 0.1-1.6 0.2-3.7 0.1-8 0.1-14.9 0.2-21.7 0.1-27.3 0.1-28.3 0.2-23.8 0.1-12.7 0.2 2 0.1 15.8 0.1 23.9 0.2 23.8 0.1 15.4 0.1 0.4 0.2-18.2 0.1-36.2 0.1-48 0.2-43.5 0.1 0 0.1 0 0.2 0 0.1 0 0.1 50.9 0.2 51 0.1 42.1 0.1 29.8 0.2 18.6 0.1 11.1 0.1 6.5 0.2 4 0.1 2.2 0.1 1.2 0.2 1 0.1 0.9 0.1 0.9 0.2 0.7 0.1 0.6 0.1 0.3 0.2 0.3 0.1 0.2 0.1 0.1 0.2 0.1 0.1 0 0.2-0.1 0.1-0.1 0.1-0.2 0.2 0 0.1 0.3 0.1 0.2 0.2 0.2 0.1-0.1 0.1-0.1 0.2-0.1 0.1 0.1 0.1 0.1 0.2 0.1 0.1 0 0.1 0 0.2 0 0.1-0.1 0.1-0.2 0.2-0.1 0.1 0 0.1 0.3 0.2 0.2 0.1 0.2 0.1-0.2 0.2-0.1 0.1-0.2 0.1-0.1 0.2-0.2 0.1-0.1 0.1-0.2 0.2-0.1 0.1-0.1 0.1 0.2 0.2 0.4 0.1 0.4 0.2 0.2 0.1 0 0.1 0.1 0.2 0 0.1 0 0.1 0.1 0.2 0 0.1-0.1 0.1-0.1 0.2-0.1 0.1 0 0.1 0 0.2-0.1 0.1 0 0.1 0 0.2 0 0.1 0 0.1-0.2 0.2-0.1 0.1 0 0.1 0.1 0.2 0.2 0.1 0.1 0.1-0.1 0.2 0 0.1-0.1 0.1 0.2 0.2 0.2 0.1 0.2 0.1 0 0.2-0.1 0.1-0.1 0.1-0.1 0.2-0.1 0.1 0 0.2 0 0.1 0.2 0.1 0.3 0.2 0.1 0.1-0.2 0.1-0.3 0.2-0.2 0.1-0.1 0.1-0.1 0.2 0 0.1 0 0.1 0.1 0.2 0 0.1 0.1 0.1 0 0.2 0 0.1-0.1 0.1 0.1 0.2 0 0.1 0 0.1 0.1 0.2 0.2 0.1 0.1 0.1-0.1 0.2-0.1 0.1-0.2 0.1 0 0.2 0.1 0.1 0.1 0.1 0 0.2-0.1 0.1-0.1 0.1 0 0.2 0 0.1 0 0.2 0 0.1 0 0.1 0 0.2 0 0.1 0.1 0.1 0.1 0.2 0.2 0.1-0.1 0.1-0.1 0.2-0.1 0.1-0.2 0.1-0.1 0.2-0.2 0.1-0.1 0.1 0.1 0.2 0 0.1 0.1 0.1 0.1 0.2 0.2 0.1 0.1 0.1 0 0.2 0.1 0.1 0 0.1-0.1 0.2-0.1 0.1-0.2 0.1-0.1 0.2 0.1 0.1 0.1 0.1 0.2 0.2 0.1 0.1 0.2 0.1 0.2 0.2-0.2 0.1-0.1 0.2-0.1 0.1-0.2 0.1-0.2 0.2-0.2 0.1 0.1 0.1 0.3 0.2 0.4 0.1 0.1 0.1-0.2 0.2-0.2 0.1-0.1 0.1 0.1 0.2 0.1 0.1 0 0.1 0 0.2-0.1 0.1-0.1 0.1 0.1 0.2 0 0.1 0 0.1 0.1 0.2 0 0.1 0.1 0.1 0.1 0.2 0.1 0.1 0.2 0.1 0.1 0.2-0.3 0.1-0.2 0.1-0.2 0.2 0 0.1-0.1 0.1 0 0.2 0 0.1 0 0.2 0.1 0.1 0 0.1 0.1 0.2 0.1 0.1 0 0.1 0 0.2-0.1 0.1-0.1 0.1-0.2 0.2-0.3 0.1-0.2 0.1 0.3 0.2 0.3 0.1 0.3 0.1 0 0.2-0.1 0.1 0 0.1 0 0.2 0.1 0.1 0.1 0.1 0 0.2-0.1 0.1-0.1 0.1-0.1 0.2-0.1 0.1 0 0.1-0.1 0.2-0.1 0.1-0.1 0.1 0 0.2 0 0.1 0.1 0.1 0.1 0.2 0.1 0.1 0 0.2 0 0.1 0 0.1 0 0.2-0.1 0.1 0 0.1 0 0.2 0 0.1 0 0.1 0 0.2 0.1 0.1 0 0.1 0 0.2 0 0.1 0 0.1-0.1 0.2-0.1 0.1-0.1 0.1 0 0.2 0.2 0.1 0.2 0.1 0.1 0.2 0 0.1-0.1 0.1 0 0.2 0 0.1 0.1 0.1 0.1 0.2 0 0.1-0.1 0.1 0 0.2-0.2 0.1-0.2 0.1-0.2 0.2 0.1 0.1 0.2 0.2 0.2 0.1 0.1 0.1-0.1 0.2-0.1 0.1-0.2 0.1-0.1 0.2-0.2 0.1-0.1 0.1 0.1 0.2 0.2 0.1 0.1 0.1 0.1 0.2 0.1 0.1 0 0.1 0.1 0.2 0.1 0.1 0 0.1 0.1 0.2 0.2 0.1 0.2 0.1 0.1 0.2-0.2 0.1-0.1 0.1-0.2 0.2 0 0.1 0 0.1 0 0.2-0.1 0.1-0.2 0.1-0.2 0.2-0.1 0.1 0.1 0.1 0 0.2 0.1 0.1 0.2 0.2 0.2 0.1 0.1 0.1-0.2 0.2-0.2 0.1-0.2 0.1 0.1 0.2 0.2 0.1 0.1 0.1-0.2 0.2-0.2 0.1-0.2 0.1-0.1 0.2 0 0.1 0 0.1 0.1 0.2 0.1 0.1 0 0.1 0.1 0.2 0.1 0.1 0.1 0.1 0.1 0.2-0.2 0.1-0.2 0.1-0.2 0.2 0 0.1 0.1 0.1 0.1 0.2 0 0.1 0 0.1 0 0.2 0 0.1 0 0.1 0.1 0.2 0.1 0.1 0 0.2 0.1 0.1 0.1 0.1-0.1 0.2-0.1 0.1-0.1 0.1 0.1 0.2 0.1 0.1 0.2 0.1 0 0.2-0.2 0.1-0.1 0.1-0.1 0.2 0 0.1 0.1 0.1 0.1 0.2 0.2 0.1 0.1 0.1 0.2 0.2-0.2 0.1-0.2 0.1-0.2 0.2 0 0.1 0 0.1 0.1 0.2 0 0.1 0.1 0.1 0 0.2 0 0.1 0 0.1 0 0.2-0.1 0.1-0.1 0.1-0.1 0.2 0 0.1 0.1 0.2 0.2 0.1 0.2 0.1 0.1 0.2-0.1 0.1 0 0.1-0.1 0.2-0.1 0.1-0.2 0.1-0.1 0.2 0 0.1 0.1 0.1 0.1 0.2 0.2 0.1 0.2 0.1 0.1 0.2-0.1 0.1-0.2 0.1-0.2 0.2 0.1 0.1 0.2 0.1 0.2 0.2-0.1 0.1-0.2 0.1-0.3 0.2-0.1 0.1 0 0.1 0.1 0.2 0 0.1 0 0.1 0 0.2 0 0.1 0.2 0.1 0.2 0.2 0.1 0.1 0 0.2 0 0.1-0.1 0.1-0.1 0.2-0.2 0.1-0.2 0.1 0 0.2 0.3 0.1 0.2 0.1 0.1 0.2-0.2 0.1-0.1 0.1-0.2 0.2 0 0.1 0.1 0.1 0.1 0.2 0 0.1-0.1 0.1 0 0.2 0 0.1 0.1 0.1 0.1 0.2 0 0.1-0.1 0.1-0.1 0.2-0.2 0.1 0.1 0.1 0 0.2 0 0.1 0 0.1-0.1 0.2 0 0.1-0.2 0.1-0.1 0.2-0.2 0.1 0.1 0.2 0.3 0.1 0.2 0.1 0.2 0.2-0.1 0.1 0 0.1 0 0.2 0.1 0.1 0.1 0.1 0.1 0.2-0.2 0.1-0.3 0.1-0.3 0.2 0.1 0.1 0.2 0.1 0.2 0.2 0.1 0.1-0.1 0.1-0.2 0.2 0 0.1 0.2 0.1 0.2 0.2 0.2 0.1-0.1 0.1-0.1 0.2-0.1 0.1-0.1 0.1-0.1 0.2-0.1 0.1 0 0.1 0 0.2 0.1 0.1 0 0.1 0.1 0.2 0 0.1 0 0.2-0.1 0.1-0.1 0.1-0.1 0.2 0.1 0.1 0.1 0.1 0.1 0.2-0.1 0.1-0.1 0.1-0.1 0.2 0.1 0.1 0.1 0.1 0.1 0.2 0 0.1-0.1 0.1-0.1 0.2 0 0.1 0.1 0.1 0.2 0.2 0 0.1-0.2 0.1-0.1 0.2-0.2 0.1 0.1 0.1 0.1 0.2 0.2 0.1 0 0.1 0 0.2 0 0.1 0 0.1 0.1 0.2 0 0.1 0 0.1-0.1 0.2-0.2 0.1-0.1 0.2 0.1 0.1 0.1 0.1 0 0.2 0.1 0.1 0 0.1 0.1 0.2-0.2 0.1-0.1 0.1-0.2 0.2 0.1 0.1 0.2 0.1 0.2 0.2 0.1 0.1-0.2 0.1-0.2 0.2-0.1 0.1-0.1 0.1 0 0.2-0.1 0.1 0.3 0.1 0.4 0.2 0.3 0.1-0.2 0.1-0.2 0.2-0.3 0.1-0.1 0.1 0.1 0.2 0 0.1 0 0.1 0.1 0.2 0 0.1 0 0.1 0 0.2 0 0.1 0 0.2 0.1 0.1 0.2 0.1 0.2 0.2-0.2 0.1-0.1 0.1-0.2 0.2 0 0.1 0 0.1 0 0.2 0.1 0.1 0.2 0.1 0.1 0.2 0.1 0.1-0.1 0.1-0.1 0.2-0.1 0.1 0.1 0.1 0.1 0.2 0.1 0.1-0.1 0.1-0.2 0.2-0.1 0.1 0 0.1 0.1 0.2 0.1 0.1 0 0.1-0.1 0.2-0.1 0.1 0 0.1 0.2 0.2 0.1 0.1 0.1 0.1 0 0.2-0.1 0.1-0.1 0.2 0 0.1 0 0.1-0.1 0.2 0 0.1 0 0.1 0 0.2-0.1 0.1-0.1 0.1-0.1 0.2-0.2 0.1-0.1 0.1-0.1 0.2-0.1 0.1 0.4 0.1 0.4 0.2 0.3 0.1-0.1 0.1-0.2 0.2-0.3 0.1 0 0.1 0 0.2-0.2 0.1-0.5 0.1-1.2 0.2-1.9 0.1-2.7 0.1-3.4 0.2-3.6 0.1-2.8 0.1-1.3 0.2 0.7 0.1 2.3 0.1 3.4 0.2 3.5 0.1 3.1 0.1 2.1 0.2 1.3 0.1 0.6 0.2 0.3 0.1 0.1 0.1 0 0.2 0 0.1 0.1 0.1 0.1 0.2 0.1 0.1 0 0.1 0.1 0.2 0 0.1-0.1 0.1 0 0.2-0.1 0.1 0 0.1 0 0.2 0.1 0.1-0.1 0.1-0.1 0.2-0.2 0.1 0 0.1 0.3 0.2 0.2 0.1 0.3 0.1 0 0.2 0.1 0.1 0 0.1-0.1 0.2-0.1 0.1-0.1 0.1 0 0.2-0.1 0.1-0.1 0.1 0 0.2 0.1 0.1 0 0.2 0.1 0.1-0.1 0.1 0 0.2 0 0.1 0.2 0.1 0.3 0.2 0.3 0.1-0.1 0.1-0.2 0.2-0.2 0.1-0.1 0.1 0 0.2 0 0.1 0.1 0.1 0 0.2 0.1 0.1 0 0.1-0.1 0.2 0 0.1-0.1 0.1 0 0.2-0.1 0.1 0 0.1-0.1 0.2 0 0.1-0.1 0.1 0.1 0.2 0.1 0.1 0.1 0.1 0.1 0.2 0.1 0.1 0.1 0.1 0 0.2-0.2 0.1-0.2 0.2-0.2 0.1-0.1 0.1-0.2 0.2-0.1 0.1 0.1 0.1 0.2 0.2 0.1 0.1 0.1 0.1 0 0.2 0 0.1 0 0.1 0.2 0.2 0.1 0.1 0 0.1-0.1 0.2-0.1 0.1-0.1 0.1-0.2 0.2-0.1 0.1-0.1 0.1 0.2 0.2 0.4 0.1 0.3 0.1-0.1 0.2-0.2 0.1-0.3 0.1 0 0.2 0.2 0.1 0.3 0.1 0.1 0.2-0.3 0.1-0.3 0.1-0.3 0.2 0 0.1 0.1 0.2 0.1 0.1 0.1 0.1 0.1 0.2 0.1 0.1 0 0.1-0.1 0.2 0 0.1-0.1 0.1-0.2 0.2-0.1 0.1 0 0.1 0.2 0.2 0.3 0.1 0.2 0.1-0.2 0.2-0.2 0.1-0.2 0.1 0 0.2 0.1 0.1 0 0.1 0.1 0.2 0 0.1 0.1 0.1 0 0.2-0.2 0.1-0.1 0.1 0 0.2 0.3 0.1 0.2 0.1 0.3 0.2-0.1 0.1-0.2 0.1-0.1 0.2 0 0.1 0.1 0.2 0.2 0.1-0.1 0.1-0.1 0.2-0.1 0.1-0.1 0.1-0.1 0.2 0 0.1 0 0.1 0.2 0.2 0.2 0.1 0.2 0.1-0.2 0.2-0.2 0.1-0.1 0.1-0.1 0.2 0 0.1 0 0.1 0.1 0.2 0.1 0.1 0.1 0.1 0 0.2-0.1 0.1 0 0.1-0.1 0.2-0.1 0.1-0.1 0.1-0.1 0.2 0.1 0.1 0 0.1 0.1 0.2-0.1 0.1-0.1 0.1-0.1 0.2 0.1 0.1 0.2 0.2 0.3 0.1 0.1 0.1 0.1 0.2 0 0.1-0.1 0.1-0.2 0.2-0.2 0.1-0.2 0.1 0.2 0.2 0.3 0.1 0.2 0.1-0.2 0.2-0.2 0.1-0.3 0.1 0 0.2 0.1 0.1 0.2 0.1 0 0.2-0.1 0.1 0 0.1-0.1 0.2 0.1 0.1 0.1 0.1 0.1 0.2-0.1 0.1-0.2 0.1-0.1 0.2 0 0.1-0.1 0.1 0 0.2 0 0.1 0 0.1 0 0.2 0.1 0.1 0 0.2 0.1 0.1 0.1 0.1 0.2 0.2 0.2 0.1 0.1 0.1-0.2 0.2-0.2 0.1-0.3 0.1 0.1 0.2 0.1 0.1 0.1 0.1-0.1 0.2-0.1 0.1-0.1 0.1 0 0.2 0.3 0.1 0.3 0.1 0.1 0.2-0.2 0.1-0.2 0.1-0.1 0.2 0.1 0.1 0 0.1 0.1 0.2 0 0.1 0 0.1-0.1 0.2 0 0.1-0.1 0.1-0.1 0.2-0.1 0.1 0 0.1 0 0.2 0 0.1 0 0.2-0.1 0.1 0 0.1 0.1 0.2 0.1 0.1 0.1 0.1 0 0.2-0.1 0.1 0 0.1 0 0.2 0.1 0.1 0 0.1 0.1 0.2 0.1 0.1 0.2 0.1 0 0.2-0.2 0.1-0.2 0.1-0.2 0.2 0.2 0.1 0.2 0.1 0.1 0.2 0 0.1 0 0.1 0 0.2-0.1 0.1-0.1 0.1-0.1 0.2 0 0.1 0.1 0.1 0.1 0.2 0.1 0.1 0 0.1 0 0.2 0 0.1 0.2 0.2 0.2 0.1 0.1 0.1-0.1 0.2-0.1 0.1-0.2 0.1 0 0.2 0 0.1 0 0.1 0 0.2 0 0.1-0.1 0.1 0 0.2-0.1 0.1-0.2 0.1 0 0.2 0 0.1 0.1 0.1 0.1 0.2 0 0.1 0 0.1 0 0.2-0.1 0.1 0 0.1 0 0.2-0.1 0.1-0.1 0.1 0 0.2-0.1 0.1 0 0.1 0 0.2 0 0.1 0 0.1 0.1 0.2 0.1 0.1 0 0.2 0.1 0.1 0.1 0.1-0.1 0.2-0.1 0.1-0.1 0.1 0 0.2 0.1 0.1 0.1 0.1 0.1 0.2 0 0.1 0 0.1-0.1 0.2 0 0.1 0 0.1-0.1 0.2 0.1 0.1 0.1 0.1 0 0.2 0.1 0.1 0 0.1 0.1 0.2 0 0.1 0.1 0.1 0 0.2-0.1 0.1 0 0.1-0.1 0.2-0.1 0.1-0.1 0.1 0 0.2-0.1 0.1 0 0.1 0 0.2-0.1 0.1 0.1 0.2 0.1 0.1 0.2 0.1 0 0.2-0.1 0.1-0.1 0.1-0.1 0.2 0.1 0.1 0 0.1 0 0.2 0 0.1 0.1 0.1 0 0.2-0.2 0.1-0.3 0.1-0.3 0.2 0.2 0.1 0.3 0.1 0.3 0.2 0.1 0.1 0 0.1 0 0.2 0 0.1-0.1 0.1-0.1 0.2-0.1 0.1-0.1 0.1-0.1 0.2-0.2 0.1 0.2 0.1 0.2 0.2 0.1 0.1 0 0.1-0.2 0.2-0.2 0.1 0.1 0.2 0.2 0.1 0.2 0.1 0.2 0.2-0.1 0.1-0.1 0.1 0 0.2 0 0.1 0 0.1-0.1 0.2 0 0.1 0 0.1 0.1 0.2-0.1 0.1 0 0.1 0 0.2 0 0.1 0 0.1 0 0.2 0 0.1 0 0.1 0 0.2 0 0.1 0.1 0.1 0.1 0.2 0.1 0.1-0.2 0.1-0.1 0.2-0.1 0.1-0.1 0.1 0.1 0.2 0 0.1 0 0.1 0 0.2 0 0.1 0 0.2-0.1 0.1-0.1 0.1-0.1 0.2 0.1 0.1 0 0.1 0.1 0.2 0 0.1 0.1 0.1 0 0.2-0.1 0.1-0.1 0.1-0.1 0.2 0 0.1 0.2 0.1 0.2 0.2 0.1 0.1 0.1 0.1 0.1 0.2 0.1 0.1-0.1 0.1-0.1 0.2-0.1 0.1 0.1 0.1 0 0.2 0.1 0.1-0.1 0.1 0 0.2-0.1 0.1-0.1 0.1 0 0.2 0 0.1 0 0.1 0 0.2 0 0.1 0 0.2-0.1 0.1 0 0.1 0 0.2-0.1 0.1 0 0.1 0 0.2 0 0.1 0 0.1 0 0.2 0 0.1 0.1 0.1 0 0.2 0 0.1 0.1 0.1 0 0.2 0 0.1 0.1 0.1 0 0.2 0 0.1 0 0.1-0.1 0.2 0 0.1 0 0.1 0 0.2 0 0.1 0.1 0.1 0.1 0.2 0 0.1 0.1 0.1-0.1 0.2-0.1 0.1 0 0.1-0.1 0.2-0.1 0.1-0.1 0.2 0 0.1 0.1 0.1 0 0.2 0.1 0.1 0.1 0.1 0.1 0.2 0 0.1-0.1 0.1-0.1 0.2-0.1 0.1-0.1 0.1 0 0.2 0 0.1 0.2 0.1 0.1 0.2 0.2 0.1-0.3 0.1-0.2 0.2-0.3 0.1 0 0.1 0.1 0.2 0 0.1 0.1 0.1 0.1 0.2 0.1 0.1 0.1 0.1-0.2 0.2-0.1 0.1-0.1 0.1 0.1 0.2 0.1 0.1 0.1 0.1-0.1 0.2 0 0.1 0 0.2 0.1 0.1 0.1 0.1 0.2 0.2 0 0.1 0 0.1-0.1 0.2 0 0.1 0 0.1-0.1 0.2 0 0.1 0 0.1 0 0.2 0 0.1 0 0.1 0.1 0.2 0 0.1 0.1" stroke="#000"/>
<path d="M525.5 255.5l0.1-0.9 0.2-0.8 0.1-0.7 0.1-1.3 0.2-1.4 0.1-1.4 0.1-0.9 0.2-0.6 0.1-0.5 0.1-0.2 0.2 0 0.1 0.1 0.1 0 0.2-0.6 0.1-0.5 0.1-0.5 0.2 0.4 0.1 0.5 0.2 0.5 0.1-0.9 0.1-1.2 0.2-1.1 0.1-0.7 0.1-0.3 0.2-0.4 0.1 0.1 0.1 0.5 0.2 0.6 0.1 0.4 0.1-0.1 0.2-0.2 0.1-0.1 0.1-0.2 0.2-0.1 0.1-0.2 0.1-0.5 0.2-0.6 0.1-0.6 0.1-0.3 0.2-0.2 0.1-0.2 0.1 0.1 0.2 0.8 0.1 0.7 0.1 0.5 0.2-0.3 0.1-0.3 0.1-0.3 0.2-0.4 0.1-0.4 0.1-0.4 0.2 0 0.1 0 0.2 0.1 0.1 0.1 0.1 0.2 0.2 0.1 0.1 0 0.1-0.4 0.2-0.3 0.1-0.2 0.1 0.5 0.2 0.5 0.1 0.5 0.1 0.2 0.2 0.2 0.1 0.2 0.1-0.7 0.2-0.8 0.1-0.9 0.1-0.4 0.2 0 0.1-0.1 0.1-0.2 0.2-0.2 0.1-0.3 0.1-0.1 0.2 0.6 0.1 0.6 0.1 0.6 0.2 0.2 0.1 0.2 0.1 0.2 0.2-0.3 0.1-0.4 0.1-0.4 0.2-0.1 0.1 0 0.2 0 0.1 0 0.1-0.1 0.2-0.1 0.1 0 0.1 0 0.2 0 0.1 0 0.1-0.6 0.2-0.6 0.1-0.6 0.1 0.3 0.2 0.3 0.1 0.4 0.1-0.1 0.2-0.5 0.1-0.4 0.1 0.1 0.2 0.8 0.1 0.8 0.1 0.6 0.2 0.1 0.1 0.1 0.1 0.1 0.2-0.8 0.1-0.8 0.1-0.8 0.2 0.5 0.1 0.9 0.1 0.8 0.2 0.3 0.1-0.1 0.1 0 0.2-0.1 0.1 0 0.2 0 0.1 0 0.1 0.3 0.2 0.2 0.1 0.2 0.1-0.9 0.2-1 0.1-0.9 0.1-0.6 0.2-0.5 0.1-0.5 0.1 0 0.2 0.5 0.1 0.4 0.1 0.2 0.2-0.2 0.1-0.1 0.1 0 0.2 0.5 0.1 0.4 0.1 0.5 0.2 0.2 0.1 0.2 0.1 0.3 0.2-0.5 0.1-0.7 0.1-0.6 0.2 0.2 0.1 0.7 0.1 0.7 0.2 0.4 0.1 0.1 0.1 0.1 0.2 0.1 0.1-0.3 0.2-0.3 0.1-0.3 0.1-0.8 0.2-0.8 0.1-0.8 0.1 0.1 0.2 0.2 0.1 0.3 0.1 0.2 0.2 0.3 0.1 0.2 0.1 0.3 0.2 0.3 0.1 0.3 0.1 0.2 0.2 0 0.1-0.1 0.1-0.1 0.2-0.5 0.1-0.6 0.1-0.5 0.2 0 0.1 0.2 0.1 0.1 0.2 0.2 0.1 0.3 0.1 0.3 0.2-0.2 0.1-0.9 0.1-0.8 0.2-0.4 0.1 0.7 0.1 0.8 0.2 0.7 0.1 0.4 0.2 0.3 0.1 0.4 0.1-0.4 0.2-0.6 0.1-0.6 0.1-0.5 0.2-0.6 0.1-0.6 0.1-0.2 0.2 0.1 0.1 0.1 0.1 0.1 0.2-0.1 0.1-0.1 0.1-0.1 0.2 0.8 0.1 0.7 0.1 0.7 0.2-0.4 0.1-0.5 0.1-0.6 0.2-0.1 0.1 0.1 0.1 0.1 0.2 0.2 0.1 0.1 0.1 0.2 0.2 0.2 0.1 0.3 0.1 0.4 0.2 0.3 0.1-1.1 0.1-1 0.2-1 0.1 0.3 0.2 0.4 0.1 0.5 0.1 0.3 0.2 0.3 0.1 0.2 0.1-0.1 0.2-0.5 0.1-0.6 0.1-0.6 0.2-0.8 0.1-0.7 0.1-0.6 0.2 1.6 0.1 1.7 0.1 1.6 0.2-0.6 0.1-1 0.1-1.1 0.2-1.2 0.1-1.3 0.1-1.5 0.2-1.3 0.1-0.9 0.1-0.8 0.2-0.2 0.1 1 0.1 1.5 0.2 1.6 0.1 0.6 0.1 0.7 0.2 0.6 0.1 1.4 0.1 1.3 0.2 1.1 0.1-0.1 0.2-0.6 0.1-0.8 0.1-0.1 0.2 0.7 0.1 0.7 0.1 0.4 0.2-0.2 0.1-0.2 0.1-0.3 0.2-1.1 0.1-1 0.1-1.1 0.2 0.8 0.1 1.1 0.1 1.1 0.2 0.6 0.1 0.2 0.1 0.2 0.2-0.2 0.1-0.8 0.1-0.8 0.2-0.6 0.1-0.1 0.1-0.1 0.2-0.1 0.1 0 0.1 0 0.2-0.1 0.1-0.3 0.1-0.4 0.2-0.5 0.1 0.4 0.1 0.8 0.2 0.8 0.1 0.3 0.2-0.3 0.1-0.2 0.1-0.3 0.2-0.3 0.1-0.4 0.1-0.3 0.2 0.5 0.1 0.4 0.1 0.5 0.2-0.7 0.1-0.8 0.1-0.8 0.2-0.1 0.1 0.2 0.1 0.1 0.2 0.3 0.1 0.4 0.1 0.4 0.2 0.3 0.1 0.1 0.1 0.1 0.2 0 0.1-0.1 0.1-0.1 0.2-0.1 0.1-0.1 0.1-0.2 0.2-0.1 0.1 0.7 0.1 0.9 0.2 1 0.1 0.4 0.1-0.3 0.2-0.3 0.1-0.3 0.2-0.2 0.1-0.3 0.1-0.1 0.2 0 0.1 0 0.1 0 0.2-0.1 0.1-0.1 0.1-0.1 0.2 0 0.1 0 0.1 0 0.2-0.2 0.1-0.3 0.1-0.3 0.2-0.1 0.1 0.1 0.1 0.2 0.2 0.1 0.1-0.3 0.1-0.3 0.2-0.2 0.1-0.1 0.1 0 0.2 0 0.1 0.2 0.1 0.1 0.2 0.2 0.1 0.1 0.1 0.2 0.2 0.2 0.1 0.1 0.1 0.1 0.2 0.2 0.1 0 0.2-0.6 0.1-0.7 0.1-0.6 0.2 0.4 0.1 0.5 0.1 0.6 0.2-0.1 0.1-0.3 0.1-0.3 0.2-0.2 0.1-0.3 0.1-0.3 0.2 0 0.1 0.2 0.1 0.2 0.2 0.4 0.1 0.7 0.1 0.8 0.2 0.7 0.1-0.3 0.1-0.5 0.2-0.4 0.1-1.1 0.1-1.3 0.2-1.4 0.1 0 0.1 1.4 0.2 1.2 0.1 0.4 0.1-1.6 0.2-1.6 0.1-1.4 0.1 0.7 0.2 0.7 0.1 0.7 0.2-0.7 0.1-0.8 0.1-0.6 0.2-0.6 0.1-0.4 0.1-0.4 0.2 0.4 0.1 1.1 0.1 1.2 0.2 0.6 0.1-0.5 0.1-0.5 0.2-0.2 0.1 1.8 0.1 1.8 0.2 1.7 0.1-0.4 0.1-0.6 0.2-0.6 0.1 0.2 0.1 0.4 0.2 0.3 0.1 0 0.1-0.3 0.2-0.4 0.1-0.2 0.1-0.1 0.2-0.1 0.1-0.1 0.1-0.2 0.2-0.1 0.1-0.2 0.1 0.1 0.2 0 0.1 0.1 0.2 0.5 0.1 0.7 0.1 0.7 0.2 0.4 0.1 0.3 0.1 0.2 0.2 0 0.1-0.6 0.1-0.5 0.2-0.4 0.1 0.4 0.1 0.5 0.2 0.4 0.1 0.7 0.1 0.7 0.2 0.7 0.1 0.3 0.1 0 0.2 0.1 0.1-0.4 0.1-0.7 0.2-0.7 0.1-0.4 0.1 0 0.2 0 0.1 0 0.1-0.1 0.2-0.2 0.1-0.2 0.1 0 0.2 0 0.1 0 0.1 0.6 0.2 0.8 0.1 0.8 0.2-0.1 0.1-0.8 0.1-0.8 0.2-0.3 0.1 0.6 0.1 0.5 0.2 0.4 0.1-0.8 0.1-0.9 0.2-0.9 0.1-0.2 0.1-0.1 0.2-0.3 0.1-1 0.1-1.3 0.2-1.3 0.1-0.8 0.1-0.2 0.2-0.3 0.1-0.4 0.1-0.3 0.2-0.4 0.1-0.3 0.1-0.6 0.2-0.4 0.1-0.3 0.1-0.2 0.2 0.1 0.1 0.2 0.1 0.3 0.2 0.4 0.1 0.5 0.1 0.7 0.2 0.8 0.1 0.8 0.2 1.1 0.1 1.5 0.1 1.5 0.2 1.3 0.1 0.8 0.1 0.7 0.2 0.5 0.1-0.2 0.1-0.4 0.2-0.4 0.1 0.4 0.1 0.5 0.2 0.4 0.1 0.1 0.1-0.3 0.2-0.4 0.1-0.1 0.1 0.3 0.2 0.3 0.1 0.2 0.1-0.5 0.2-0.4 0.1-0.5 0.1 0.5 0.2 0.5 0.1 0.4 0.1 0.7 0.2 0.8 0.1 0.8 0.1 0.2 0.2-0.3 0.1-0.3 0.1-0.3 0.2-0.3 0.1-0.4 0.2-0.2 0.1 0.7 0.1 0.7 0.2 0.7 0.1-0.4 0.1-0.4 0.2-0.4 0.1-0.3 0.1-0.2 0.2-0.2 0.1-0.2 0.1-0.2 0.2-0.1 0.1-0.1 0.1 0.2 0.2 0.1 0.1 0.2 0.1 1 0.2 1 0.1 1 0.1-1 0.2-1.1 0.1-1 0.1 0.4 0.2 0.8 0.1 0.9 0.1 0.1 0.2-0.3 0.1-0.4 0.1-0.1 0.2 0.4 0.1 0.4 0.1 0.2 0.2-0.7 0.1-0.7 0.1-0.7 0.2 0.4 0.1 0.4 0.2 0.4 0.1 0 0.1-0.1 0.2-0.1 0.1-0.1 0.1-0.1 0.2-0.1 0.1-0.1 0.1 0.1 0.2 0 0.1 0 0.1-0.2 0.2-0.3 0.1-0.5 0.1-1.7 0.2-2 0.1-2.3 0.1-1.7 0.2-1.8 0.1-2.1 0.1-2.5 0.2-2.8 0.1-2.8 0.1-2.3 0.2-1.4 0.1-1 0.1-0.6 0.2-0.7 0.1 0 0.1 0.7 0.2-0.1 0.1 0.4 0.1 1 0.2 2.7 0.1 3.2 0.2 3.3 0.1 3.6 0.1 3.6 0.2 3.4 0.1 2.3 0.1 1 0.2 0.6 0.1 0.6 0.1 1 0.2 0.9 0.1 0.6 0.1 0.8 0.2 0.7 0.1 0.6 0.1 0 0.2-0.1 0.1-0.1 0.1-0.6 0.2-0.8 0.1-0.8 0.1-0.1 0.2 1 0.1 0.9 0.1 0.7 0.2-0.4 0.1-0.4 0.1-0.5 0.2 0.5 0.1 0.5 0.1 0.5 0.2 0.3 0.1 0.3 0.1 0.3 0.2-0.7 0.1-1.5 0.2-1.4 0.1-0.7 0.1 0.7 0.2 0.7 0.1 0.6 0.1 0.4 0.2 0.5 0.1 0.4 0.1 0 0.2 0 0.1-0.1 0.1 0 0.2 0 0.1 0 0.1 0.2 0.2 0.3 0.1 0.3 0.1-0.1 0.2-0.5 0.1-0.5 0.1-0.5 0.2 0 0.1-0.1 0.1 0 0.2 0.4 0.1 0.4 0.1 0.4 0.2 0 0.1-0.2 0.1-0.1 0.2 0.3 0.1 0.4 0.1 0.5 0.2 0.1 0.1-0.6 0.2-0.6 0.1-0.2 0.1 0.8 0.2 0.8 0.1 0.9 0.1-0.7 0.2-0.7 0.1-0.7 0.1-0.5 0.2-0.6 0.1-0.5 0.1 0.1 0.2 0.7 0.1 0.6 0.1 0 0.2-1.1 0.1-1.1 0.1-0.5 0.2 1.4 0.1 1.4 0.1 1.4 0.2-0.3 0.1-0.3 0.1-0.3 0.2-0.2 0.1 0 0.1-0.1 0.2-0.2 0.1-0.4 0.1-0.3 0.2-0.2 0.1-0.1 0.1-0.1 0.2 0 0.1 0.4 0.2 0.4 0.1 0.4 0.1 0.6 0.2 0.6 0.1 0.7 0.1-0.8 0.2-1 0.1-1.1 0.1-0.2 0.2 0.3 0.1 0.3 0.1 0.1 0.2 0 0.1-0.1 0.1 0.2 0.2 0.9 0.1 0.9 0.1 0.8 0.2-0.7 0.1-0.8 0.1-0.7 0.2 0.1 0.1 0.2 0.1 0.3 0.2-0.2 0.1-0.4 0.1-0.4 0.2-0.3 0.1-0.3 0.1-0.2 0.2 0 0.1 0.9 0.1 1 0.2 0.9 0.1-0.3 0.2-0.2 0.1-0.3 0.1-0.1 0.2 0 0.1 0 0.1 0.1 0.2 0.3 0.1 0.3 0.1 0 0.2-0.4 0.1-0.5 0.1-0.3 0.2 0 0.1 0 0.1 0 0.2 0.6 0.1 0.5 0.1 0.5 0.2 0.1 0.1 0 0.1 0 0.2-0.3 0.1-0.4 0.1-0.3 0.2 0.1 0.1 0.7 0.1 0.7 0.2 0.4 0.1-0.7 0.1-0.7 0.2-0.8 0.1-0.1 0.1-0.2 0.2-0.2 0.1 0 0.2 0 0.1 0 0.1 0.4 0.2 0.7 0.1 0.6 0.1 0 0.2-1 0.1-0.9 0.1-0.8 0.2-0.1 0.1-0.1 0.1 0 0.2 1.1 0.1 1.2 0.1 1.1 0.2-0.7 0.1-1 0.1-1 0.2-0.2 0.1 0.1 0.1 0.2 0.2 0.2 0.1 0.1 0.1 0.2 0.2 0.2 0.1 0.6 0.1 0.6 0.2 0.5 0.1-0.6 0.1-0.6 0.2-0.6 0.1 0.5 0.1 0.8 0.2 0.7 0.1 0.1 0.2-0.4 0.1-0.4 0.1-0.4 0.2-0.2 0.1-0.3 0.1-0.2 0.2 0.1 0.1 0.2 0.1 0.1 0.2 0.3 0.1 0.2 0.1 0.3 0.2-0.1 0.1-0.2 0.1-0.3 0.2 0.1 0.1 0.2 0.1 0.2 0.2 0 0.1-0.1 0.1-0.2 0.2 0 0.1 0.4 0.1 0.4 0.2 0.3 0.1 0.2 0.1 0.1 0.2 0.2 0.1-0.2 0.1-0.2 0.2-0.2 0.1 0.1 0.1 0.3 0.2 0.2 0.1-0.2 0.2-0.8 0.1-0.9 0.1-0.7 0.2-0.5 0.1-0.5 0.1-0.4 0.2 0.7 0.1 0.6 0.1 0.7 0.2 0 0.1-0.2 0.1-0.1 0.2 0.4 0.1 0.8 0.1 0.8 0.2 0.2 0.1-0.3 0.1-0.3 0.2-0.1 0.1 0.4 0.1 0.3 0.2 0.3 0.1-0.6 0.1-0.6 0.2-0.6 0.1 0.1 0.1 0.2 0.2 0.2 0.1 0.3 0.1 0.4 0.2 0.3 0.1-0.2 0.1-0.8 0.2-0.9 0.1-0.6 0.2 0.3 0.1 0.2 0.1 0.1 0.2-0.7 0.1-0.8 0.1-0.9 0.2-0.7 0.1-0.7 0.1-0.6 0.2-0.5 0.1-0.4 0.1-0.3 0.2 0.1 0.1 0.5 0.1 0.5 0.2 0.8 0.1 1.1 0.1 1 0.2 1 0.1 0.6 0.1 0.5 0.2 0.5 0.1 0.3 0.1 0.3 0.2 0.3 0.1 0.2 0.1 0.2 0.2 0.2 0.1-0.4 0.1-0.9 0.2-0.9 0.1-0.5 0.1 0.8 0.2 0.8 0.1 0.7 0.2-0.6 0.1-0.7 0.1-0.7 0.2 0.7 0.1 0.7 0.1 0.8 0.2 0.3 0.1-0.1 0.1 0 0.2-0.3 0.1-0.6 0.1-0.5 0.2-0.3 0.1 0.4 0.1 0.4 0.2 0.4 0.1 0.2 0.1 0.2 0.2 0.3 0.1-0.7 0.1-0.8 0.2-0.8 0.1 0.4 0.1 1 0.2 0.9 0.1 0.4 0.1-0.2 0.2-0.3 0.1-0.5 0.1-0.7 0.2-0.9 0.1-1 0.1-0.8 0.2-0.7 0.1-0.7 0.2 0.2 0.1 0.5 0.1 0.7 0.2 0.7 0.1 0.7 0.1 0.8 0.2 0.2 0.1-0.6 0.1-0.7 0.2-0.2 0.1 0.9 0.1 0.9 0.2 0.7 0.1 0.3 0.1 0.2 0.2 0.3 0.1-0.2 0.1-0.3 0.2-0.2 0.1-0.3 0.1-0.4 0.2-0.3 0.1 0.5 0.1 1.3 0.2 1.4 0.1 0.7 0.1-0.5 0.2-0.6 0.1-0.6 0.1-0.6 0.2-0.6 0.1-0.5 0.1 0 0.2 0 0.1 0.1 0.2 0 0.1 0.1 0.1-0.1 0.2-0.3 0.1-0.7 0.1-1 0.2-1.5 0.1-2 0.1-2.3 0.2-2.2 0.1-1.8 0.1-1.2 0.2-0.3 0.1 1.2 0.1 2 0.2 2.4 0.1 2.2 0.1 1.9 0.2 1.6 0.1 1 0.1 0.4 0.2 0.2 0.1 0.2 0.1 0.5 0.2 0.5 0.1 0.4 0.1 0.3 0.2 0.4 0.1 0.3 0.1-0.3 0.2-0.4 0.1-0.3 0.1 0.1 0.2 0.3 0.1 0.3 0.2-0.1 0.1-0.6 0.1-0.6 0.2-0.4 0.1 0 0.1-0.1 0.2 0 0.1 0.5 0.1 0.5 0.2 0.5 0.1-0.1 0.1-0.2 0.2-0.2 0.1-0.1 0.1-0.2 0.2-0.1 0.1-0.3 0.1-0.2 0.2-0.3 0.1-0.2 0.1 0.1 0.2 0.1 0.1 0.1 0.1 0.2 0.2 0.3 0.1 0.2 0.1 0 0.2 0 0.1-0.1 0.1-0.2 0.2-0.4 0.1-0.3 0.1-0.2 0.2 0.1 0.1-0.1 0.2-0.2 0.1-0.6 0.1-0.7 0.2-0.9 0.1-0.5 0.1-0.5 0.2-0.2 0.1-0.8 0.1-0.5 0.2-0.1 0.1 0.5 0.1 0.9 0.2 1 0.1 1 0.1 1 0.2 0.8 0.1 0.7 0.1 0.7 0.2 0.5 0.1 0.5 0.1 0.3 0.2 0.3 0.1 0.3 0.1-0.7 0.2-0.8 0.1-0.8 0.1-0.2 0.2 0 0.1 0 0.1 0.1 0.2 0.2 0.1 0.2 0.1 0.2 0.2 0.3 0.1 0.4 0.2 0.2 0.1-0.1 0.1-0.1 0.2-0.2 0.1-0.1 0.1-0.1 0.2-0.1 0.1-0.2 0.1-0.3 0.2-0.3 0.1 0 0.1 0.3 0.2 0.2 0.1 0.2 0.1 0.3 0.2 0.3 0.1 0.3 0.1-0.1 0.2-0.1 0.1-0.1 0.1 0.2 0.2 0.2 0.1 0.2 0.1-0.6 0.2-1 0.1-0.9 0.1 0 0.2 0.8 0.1 0.8 0.1 0.3 0.2-0.7 0.1-0.7 0.1-0.5 0.2 0.4 0.1 0.4 0.2 0.4 0.1-0.5 0.1-0.5 0.2-0.5 0.1 0.6 0.1 0.9 0.2 1 0.1 0.1 0.1-0.6 0.2-0.6 0.1-0.2 0.1 0.6 0.2 0.5 0.1 0.5 0.1 0 0.2 0 0.1 0 0.1-0.1 0.2 0 0.1-0.1 0.1 0.2 0.2 0.2 0.1 0.2 0.1 0 0.2-0.1 0.1-0.2 0.1-0.1 0.2-0.2 0.1-0.2 0.1-0.3 0.2-0.6 0.1-0.6 0.1-0.6 0.2 0.6 0.1 0.7 0.2 0.7 0.1 0.4 0.1 0.3 0.2 0.3 0.1-0.3 0.1-0.8 0.2-0.9 0.1-0.8 0.1-0.5 0.2-0.6 0.1-0.3 0.1 1.1 0.2 1.1 0.1 1.2 0.1-0.7 0.2-0.8 0.1-0.6 0.1 0.5 0.2 0.9 0.1 0.9 0.1 0.6 0.2 0.3 0.1 0.3 0.1-0.2 0.2-0.7 0.1-0.8 0.1-0.7 0.2-0.2 0.1-0.3 0.1-0.3 0.2-0.1 0.1-0.1 0.1-0.1 0.2 0.4 0.1 0.6 0.2 0.6 0.1 0.3 0.1 0.1 0.2 0.2 0.1 0 0.1-0.2 0.2-0.1 0.1-0.2 0.1-0.1 0.2-0.2 0.1-0.1 0.1-0.1 0.2-0.1 0.1-0.1 0.1-0.1 0.2-0.2 0.1-0.1 0.1 0.1 0.2 0.3 0.1 0.3 0.1 0.2 0.2-0.1 0.1 0 0.1 0 0.2 0.1 0.1 0.1 0.1 0.1 0.2 0.3 0.1 0.4 0.1 0.3 0.2-0.3 0.1-0.3 0.1-0.4 0.2-0.4 0.1-0.3 0.2-0.3 0.1-0.1 0.1 0.2 0.2 0.3 0.1 0.3 0.1 0.9 0.2 1 0.1 0.9 0.1-1.1 0.2-1.2 0.1-1.2 0.1 0.4 0.2 0.8 0.1 0.7 0.1-0.2 0.2-1 0.1-1 0.1-0.6 0.2 0 0.1 0.1 0.1 0.1 0.2 0.5 0.1 0.5 0.1 0.4 0.2-0.3 0.1-0.4 0.1-0.4 0.2 0.6 0.1 0.9 0.1 0.9 0.2 0.2 0.1-0.2 0.1-0.2 0.2 0 0.1 0.1 0.2 0.2 0.1 0.1 0.1-0.3 0.2-0.4 0.1-0.3 0.1 0.1 0.2 0.1 0.1 0.1 0.1 0 0.2-0.1 0.1 0 0.1 0 0.2 0 0.1 0 0.1-0.1 0.2-0.5 0.1-0.5 0.1-0.4 0.2 0.3 0.1 0.2 0.1 0.2 0.2-0.2 0.1-0.2 0.1-0.3 0.2-0.5 0.1-0.5 0.1-0.4 0.2-0.3 0.1-0.1 0.1 0 0.2 0.2 0.1 0.3 0.1 0.4 0.2 0.5 0.1 0.9 0.2 0.9 0.1 0.7 0.1 0.1 0.2 0.1 0.1-0.1 0.1 0.1 0.2 0 0.1 0 0.1 0.1 0.2 0.2 0.1 0.2 0.1 0.3 0.2 0.2 0.1 0.2 0.1 0.1 0.2-0.3 0.1-0.3 0.1-0.3 0.2 0.7 0.1 0.6 0.1 0.7 0.2-0.5 0.1-0.7 0.1-0.8 0.2 0 0.1 0.3 0.1 0.3 0.2 0.1 0.1-0.3 0.1-0.3 0.2-0.3 0.1 0 0.1-0.1 0.2 0 0.1-0.7 0.2-0.6 0.1-0.7 0.1-0.1 0.2 0 0.1-0.1 0.1 0 0.2-0.1 0.1-0.1 0.1 0.3 0.2 0.6 0.1 0.7 0.1 0.6 0.2 0.2 0.1 0.2 0.1 0.2 0.2-0.4 0.1-0.5 0.1-0.4 0.2 0.4 0.1 0.6 0.1 0.6 0.2 0.1 0.1-0.3 0.1-0.3 0.2-0.1 0.1 0.2 0.1 0.3 0.2 0.1 0.1-0.2 0.1-0.3 0.2-0.2 0.1-0.2 0.1-0.3 0.2-0.2 0.1 0.4 0.2 0.6 0.1 0.6 0.1 0 0.2-0.5 0.1-0.4 0.1-0.2 0.2 0 0.1 0 0.1 0.1 0.2 0 0.1-0.1 0.1 0 0.2 0 0.1-0.1 0.1-0.1 0.2 0.2 0.1 0.3 0.1 0.3 0.2 0 0.1 0 0.1-0.1 0.2-0.1 0.1 0.1 0.1 0.1 0.2 0.2 0.1 0.4 0.1 0.4 0.2 0.3 0.1-1 0.1-0.9 0.2-1 0.1 0.1 0.1 0.2 0.2 0.3 0.1 0.1 0.2 0 0.1 0 0.1 0.2 0.2 0.4 0.1 0.5 0.1 0.4 0.2 0.3 0.1 0.4 0.1 0.3 0.2-0.6 0.1-0.7 0.1-0.6 0.2 0.2 0.1 0.4 0.1 0.4 0.2-0.5 0.1-0.8 0.1-0.9 0.2-0.4 0.1 0 0.1 0 0.2 0.2 0.1 0.7 0.1 0.7 0.2 0.7 0.1-0.6 0.1-0.6 0.2-0.5 0.1 0 0.1 0.2 0.2 0.2 0.1 0.3 0.1 0.2 0.2 0.3 0.1 0.3 0.2 0.5 0.1 0.5 0.1 0.2 0.2-0.7 0.1-0.7 0.1-0.6 0.2-0.1 0.1-0.1 0.1-0.1 0.2 0 0.1 0 0.1 0 0.2 0.3 0.1 0.4 0.1 0.5 0.2 0.1 0.1-0.1 0.1-0.2 0.2-0.2 0.1 0 0.1 0 0.2 0 0.1 0 0.1 0.1 0.2 0 0.1 0.1 0.1 0.2 0.2 0.3 0.1-0.3 0.1-0.6 0.2-0.5 0.1-0.2 0.1 0.2 0.2 0.1 0.1 0.2 0.2 0.3 0.1 0.3 0.1 0.3 0.2-0.2 0.1-0.3 0.1-0.3 0.2-0.1 0.1-0.2 0.1-0.2 0.2 0.1 0.1 0.2 0.1 0.2 0.2 0.1 0.1 0 0.1 0.1 0.2-0.1 0.1-0.1 0.1-0.2 0.2-0.1 0.1 0.5 0.1 0.5 0.2 0.5 0.1-0.3 0.1-0.5 0.2-0.4 0.1 0.1 0.1 0.4 0.2 0.5 0.1 0.1 0.1-0.3 0.2-0.3 0.1-0.2 0.1-0.4 0.2-0.3 0.1-0.3 0.2 0.6 0.1 0.5 0.1 0.5 0.2-0.3 0.1-0.5 0.1-0.5 0.2-0.1 0.1 0.2 0.1 0.1 0.2 0 0.1-0.2 0.1-0.2 0.2 0.1 0.1 0.9 0.1 0.9 0.2 0.8 0.1 0.8 0.1 0.8 0.2 0.7 0.1-0.7 0.1-0.9 0.2-0.9 0.1-1 0.1-0.9 0.2-1 0.1-0.2 0.1 0.6 0.2 0.5 0.1 0.5 0.1 0.1 0.2 0.2 0.1 0.2 0.1-0.1 0.2-0.1 0.1-0.1 0.2-0.1 0.1-0.1 0.1-0.2 0.2 0.1 0.1 0.2 0.1 0.2 0.2-0.3 0.1-0.7 0.1-0.8 0.2-0.4 0.1 0.7 0.1 0.7 0.2 0.7 0.1 0.4 0.1 0.5 0.2 0.5 0.1 0 0.1 0 0.2 0 0.1-0.3 0.1-0.3 0.2-0.4 0.1-0.2 0.1 0 0.2 0 0.1-0.1 0.1-0.3 0.2-0.2 0.1-0.3 0.1 0 0.2-0.1 0.1 0 0.1 0 0.2 0 0.1-0.1 0.2 0.5 0.1 0.6 0.1 0.7 0.2 0.1 0.1-0.5 0.1-0.4 0.2-0.2 0.1 0.3 0.1 0.3 0.2 0.3 0.1-0.2 0.1-0.3 0.2-0.2 0.1 0.3 0.1 0.4 0.2 0.4 0.1-0.4 0.1-0.8 0.2-0.7 0.1-0.4 0.1 0 0.2 0 0.1 0.1 0.1 0.3 0.2 0.3 0.1 0.4 0.1 0.4 0.2 0.4 0.1 0.4 0.1-0.5 0.2-0.6 0.1-0.7 0.1 0 0.2 0.3 0.1 0.2 0.2 0.4 0.1 0.5 0.1 0.5 0.2 0.2 0.1-0.6 0.1-0.6 0.2-0.6 0.1-0.1 0.1 0 0.2-0.1 0.1 0.1 0.1 0.1 0.2 0.1 0.1 0.6 0.1 0.7 0.2 0.7 0.1 0 0.1-0.8 0.2-0.8 0.1-0.5 0.1-0.1 0.2-0.2 0.1-0.3 0.1-0.1 0.2-1 0.1-2.2 0.1-4.7 0.2-5.7 0.1-5.6 0.1-3.2 0.2 0.2 0.1 3.4 0.1 5 0.2 5.2 0.1 4 0.1 2.9 0.2 2.3 0.1 1.5 0.2 0.9 0.1-0.3 0.1-0.4 0.2-0.5 0.1-0.2 0.1-0.3 0.2-0.2 0.1 0.4 0.1 0.6 0.2 0.6 0.1 0.1 0.1-0.5 0.2-0.5 0.1-0.5 0.1-0.5 0.2-0.5 0.1-0.4 0.1 1.1 0.2 1 0.1 1 0.1-0.7 0.2-1 0.1-0.9 0.1-0.1 0.2 0.1 0.1 0.2 0.1 0.4 0.2 0.5 0.1 0.6 0.1 0.4 0.2-0.1 0.1 0 0.1 0 0.2 0 0.1 0.1 0.2 0 0.1-0.3 0.1-0.4 0.2-0.4 0.1 0.5 0.1 0.8 0.2 0.9 0.1-0.1 0.1-1 0.2-0.9 0.1-0.6 0.1 0.2 0.2-0.6 0.1-2.3 0.1-5.6 0.2-8.4 0.1-10.5 0.1-9.6 0.2-5.9 0.1 0.2 0.1 5.9 0.2 9.3 0.1 9.7 0.1 8.1 0.2 5.6 0.1 3.3 0.1 1.6 0.2 0.4 0.1 0.2 0.1-0.1 0.2-0.6 0.1-0.7 0.1-0.6 0.2-0.2 0.1-0.1 0.2-0.1 0.1 0.3 0.1 0.6 0.2 0.5 0.1 0.3 0.1 0.1 0.2 0.1 0.1 0 0.1-0.2 0.2-0.2 0.1-0.1 0.1 0 0.2 0.1 0.1 0.1 0.1 0 0.2 0 0.1 0 0.1 0.3 0.2 0.3 0.1 0.3 0.1 0.3 0.2 0.4 0.1 0.4 0.1 0 0.2-0.7 0.1-0.8 0.1-0.6 0.2 0.1 0.1 0.1 0.1 0 0.2-0.3 0.1-0.4 0.1-0.3 0.2-0.1 0.1 0 0.2 0 0.1-0.1 0.1-0.1 0.2-0.2 0.1 0.1 0.1 0.7 0.2 0.7 0.1 0.5 0.1-0.4 0.2-0.4 0.1-0.3 0.1 0.5 0.2 0.6 0.1 0.6 0.1-0.1 0.2-0.5 0.1-0.5 0.1-0.2 0.2-0.1 0.1-0.1 0.1 0.1 0.2 0.4 0.1 0.4 0.1 0.3 0.2-0.2 0.1-0.2 0.1-0.2 0.2-0.7 0.1-0.8 0.1-0.8 0.2 0.5 0.1 1.1 0.1 1 0.2 0.1 0.1-0.5 0.2-0.6 0.1-0.3 0.1 0.5 0.2 0.4 0.1 0.3 0.1-0.4 0.2-0.3 0.1-0.4 0.1 1 0.2 1.1 0.1 1 0.1 0 0.2-0.4 0.1-0.4 0.1-0.3 0.2-0.4 0.1-0.3 0.1-0.4 0.2-0.6 0.1-0.6 0.1-0.4 0.2 0.6 0.1 0.5 0.1 0.6 0.2 0.4 0.1 0.3 0.1 0.3 0.2-0.1 0.1-0.2 0.1-0.3 0.2-0.3 0.1-0.4 0.1-0.3 0.2 0 0.1 0.7 0.2 0.7 0.1 0.5 0.1-0.5 0.2-0.5 0.1-0.5 0.1 0.1 0.2 0.1 0.1 0.1 0.1 0 0.2 0.1 0.1 0.1 0.1-0.2 0.2-0.2 0.1-0.3 0.1 0 0.2 0.4 0.1 0.3 0.1 0.3 0.2-0.5 0.1-0.4 0.1-0.4 0.2 0 0.1 0 0.1-0.1 0.2-0.2 0.1-0.4 0.1-0.3 0.2 0.1 0.1 0.4 0.1 0.4 0.2 0.3 0.1 0.2 0.1 0.1 0.2 0.1 0.1 0.4 0.2 0.3 0.1 0.3 0.1-0.2 0.2-0.2 0.1-0.1 0.1 0.1 0.2 0.2 0.1 0.3 0.1-0.4 0.2-0.8 0.1-0.9 0.1-0.1 0.2 1.2 0.1 1.1 0.1 0.8 0.2-0.9 0.1-0.8 0.1-0.9 0.2 0 0.1 0 0.1 0 0.2-0.1 0.1-0.1 0.1 0 0.2 0.1 0.1 0.4 0.1 0.3 0.2-0.1 0.1-0.8 0.1-0.9 0.2-0.5 0.1 0.8 0.1 0.8 0.2 0.7 0.1 0.4 0.2 0.4 0.1 0.4 0.1-0.1 0.2-0.3 0.1-0.3 0.1-0.1 0.2 0 0.1 0 0.1-0.2 0.2-0.7 0.1-0.6 0.1-0.5 0.2 0.4 0.1 0.5 0.1 0.4 0.2 0.2 0.1 0.3 0.1 0.3 0.2 0 0.1 0 0.1 0 0.2-0.1 0.1-0.3 0.1-0.2 0.2-0.1 0.1 0 0.1 0.1 0.2 0.1 0.1-0.1 0.1-0.2 0.2-0.1 0.1-0.3 0.1-0.4 0.2-0.3 0.1 0.5 0.2 0.7 0.1 0.8 0.1 0.1 0.2-0.2 0.1-0.2 0.1-0.3 0.2-0.3 0.1-0.3 0.1-0.1 0.2 0.5 0.1 0.5 0.1 0.6 0.2-0.7 0.1-0.7 0.1-0.6 0.2-0.4 0.1-0.2 0.1-0.3 0.2 0.2 0.1 0.3 0.1 0.4 0.2 0.2 0.1-0.3 0.1-0.2 0.2-0.1 0.1 0.4 0.1 0.3 0.2 0.4 0.1-0.2 0.1-0.1 0.2-0.1 0.1-0.1 0.1-0.1 0.2-0.1 0.1 0.1 0.2 0 0.1 0.1 0.1-0.1 0.2-0.4 0.1-0.4 0.1-0.2 0.2 0.5 0.1 0.6 0.1 0.5 0.2-0.4 0.1-0.5 0.1-0.4 0.2 0.2 0.1 0.5 0.1 0.4 0.2-0.2 0.1-0.7 0.1-0.6 0.2-0.4 0.1 0.1 0.1 0.1 0.2 0.1 0.1 0.3 0.1 0.3 0.2 0.4 0.1 0.5 0.1 0.6 0.2 0.5 0.1 0 0.1-0.1 0.2-0.2 0.1 0.3 0.1 0.6 0.2 0.5 0.1-0.1 0.2-1.1 0.1-1.1 0.1-0.7 0.2 0.4 0.1 0.4 0.1 0.4 0.2 0.1 0.1 0.1 0.1 0.1 0.2-0.2 0.1-0.2 0.1-0.2 0.2 0.2 0.1 0.5 0.1 0.4 0.2 0.2 0.1-0.3 0.1-0.3 0.2-0.3 0.1-0.2 0.1-0.2 0.2-0.2 0.1-0.2 0.1-0.3 0.2-0.2 0.1-0.4 0.1-0.4 0.2-0.4 0.1 0.5 0.1 1 0.2 0.9 0.1 0.4 0.1-0.6 0.2-0.5 0.1-0.3 0.2 0.5 0.1 0.5 0.1 0.5 0.2 0.1 0.1 0.1 0.1 0.2 0.2-0.3 0.1-0.5 0.1-0.4 0.2-0.1 0.1 0.2 0.1 0.1 0.2 0.3 0.1 0.5 0.1 0.5 0.2 0.3 0.1-0.4 0.1-0.4 0.2-0.4 0.1-0.6 0.1-0.5 0.2-0.5 0.1 0.7 0.1 1 0.2 1.1 0.1 0.5 0.1 0.2 0.2 0.3 0.1 0.1 0.1-0.3 0.2-0.2 0.1 0.1 0.1 0.7 0.2 0.7 0.1 0.8 0.2 0.7 0.1 0.8 0.1 0.6 0.2 0.2 0.1 0.1 0.1 0.1 0.2 0.3 0.1 0.5 0.1 0.3 0.2 0.3 0.1 0 0.1 0 0.2-0.1 0.1-0.5 0.1-0.6 0.2-0.6 0.1-0.1 0.1 0 0.2-0.1 0.1-0.8 0.1-0.9 0.2-0.9 0.1-0.8 0.1-0.7 0.2-0.8 0.1-0.8 0.1-1 0.2-2.7 0.1-5.7 0.1-10.5 0.2-15.5 0.1-19.9 0.1-21.2 0.2-17.9 0.1-9.7 0.2 1.4 0.1 11.8 0.1 18.3 0.2 19.4 0.1 15.1 0.1 7 0.2-2.6 0.1-11.4 0.1-17.2 0.2-18.3 0.1-13.7 0.1-4.9 0.2 5.9 0.1 15.5 0.1 20.1 0.2 20.2 0.1 16 0.1 11.2 0.2 7 0.1 4.1 0.1 2.3 0.2 1.5 0.1 1.2 0.1 1.2 0.2 1 0.1 0.9 0.1 1.1 0.2 0.8 0.1 0.7 0.1 0 0.2-0.2 0.1-0.2 0.1 0.4 0.2 0.5 0.1 0.5 0.2-0.1 0.1-0.2 0.1-0.3 0.2 0 0.1 0.5 0.1 0.4 0.2 0.2 0.1-0.3 0.1-0.4 0.2-0.3 0.1 0.2 0.1 0.1 0.2 0.2 0.1 0 0.1 0 0.2 0.1 0.1 0 0.1 0 0.2 0 0.1 0.1 0.1 0.1 0.2 0.1 0.1 0 0.1-0.2 0.2-0.3 0.1-0.2 0.1 0.1 0.2 0 0.1 0.1 0.1-0.1 0.2-0.1 0.1-0.1 0.1 0.2 0.2 0.2 0.1 0.3 0.2 0.1 0.1-0.3 0.1-0.2 0.2-0.2 0.1-0.1 0.1 0 0.2 0 0.1 0.3 0.1 0.3 0.2 0.3 0.1-0.2 0.1-0.4 0.2-0.3 0.1-0.1 0.1-0.1 0.2 0 0.1 0.2 0.1 0.4 0.2 0.5 0.1 0.3 0.1-0.1 0.2 0 0.1-0.1 0.1-0.5 0.2-0.5 0.1-0.6 0.1 0.3 0.2 0.3 0.1 0.3 0.1 0.2 0.2 0.1 0.1 0.1 0.1 0.1 0.2 0.1 0.1 0.1 0.2 0.1 0.1-0.3 0.1-0.2 0.2-0.2 0.1 0.1 0.1 0.2 0.2 0.2 0.1-0.1 0.1-0.1 0.2-0.1 0.1 0 0.1 0 0.2 0 0.1 0 0.1 0 0.2 0 0.1-0.1 0.1 0 0.2 0 0.1 0 0.1 0.1 0.2 0.2 0.1 0.1 0.1 0 0.2-0.2 0.1-0.1 0.1 0 0.2 0 0.1 0 0.1 0 0.2 0.2 0.1 0.1 0.1 0.1 0.2 0.1 0.1 0.1 0.2 0 0.1-0.1 0.1-0.1 0.2-0.2 0.1-0.2 0.1-0.2 0.2-0.2 0.1 0.2 0.1 0.2 0.2 0.3 0.1 0.2 0.1 0 0.2 0.1 0.1 0 0.1-0.1 0.2-0.1 0.1-0.1 0.1 0.1 0.2 0.1 0.1 0.1 0.1 0 0.2-0.1 0.1-0.1 0.1 0 0.2 0 0.1 0.1 0.1 0 0.2 0.1 0.1 0.1 0.1 0 0.2-0.1 0.1-0.1 0.1-0.1 0.2 0.1 0.1 0.2 0.2 0.2 0.1 0 0.1 0 0.2 0 0.1 0.1 0.1 0.2 0.2 0.1 0.1 0 0.1-0.1 0.2-0.1 0.1-0.2 0.1-0.1 0.2-0.2 0.1-0.1 0.1-0.1 0.2-0.2 0.1-0.1 0.1-0.2 0.2-0.3 0.1-0.3 0.1 0.3 0.2 0.4 0.1 0.5 0.1 0.3 0.2 0 0.1 0.1 0.1-0.1 0.2-0.3 0.1-0.4 0.1-0.2 0.2 0.5 0.1 0.5 0.1 0.5 0.2-0.3 0.1-0.3 0.2-0.3 0.1-0.1 0.1 0.1 0.2 0.1 0.1 0 0.1-0.2 0.2-0.2 0.1-0.1 0.1 0.3 0.2 0.3 0.1 0.2 0.1 0 0.2-0.1 0.1 0 0.1 0.2 0.2 0.3 0.1 0.3 0.1 0 0.2-0.2 0.1-0.1 0.1-0.2 0.2 0 0.1-0.1 0.1 0 0.2 0 0.1 0.1 0.1 0.1 0.2 0 0.1 0.1 0.1 0 0.2-0.2 0.1-0.3 0.1-0.2 0.2 0.2 0.1 0.3 0.2 0.4 0.1 0.2 0.1 0 0.2 0.1 0.1 0 0.1 0 0.2-0.1 0.1 0 0.1-0.1 0.2-0.1 0.1-0.1 0.1 0 0.2 0.1 0.1 0 0.1 0 0.2-0.1 0.1-0.1 0.1 0 0.2 0.1 0.1 0 0.1 0 0.2-0.4 0.1-0.3 0.1-0.3 0.2 0.4 0.1 0.3 0.1 0.4 0.2-0.1 0.1 0 0.1-0.1 0.2-0.1 0.1-0.1 0.1-0.1 0.2-0.2 0.1-0.2 0.2-0.2 0.1-0.1 0.1 0.4 0.2 0.3 0.1 0.3 0.1 0.1 0.2 0 0.1 0.1 0.1-0.2 0.2-0.2 0.1-0.2 0.1 0.1 0.2 0.2 0.1 0.2 0.1 0.1 0.2 0.2 0.1 0.2 0.1 0.1 0.2 0 0.1 0 0.1 0 0.2-0.2 0.1-0.1 0.1-0.2 0.2 0.1 0.1 0.2 0.1 0.1 0.2-0.2 0.1-0.3 0.1-0.4 0.2-0.1 0.1 0.1 0.1 0.1 0.2 0 0.1-0.1 0.2-0.2 0.1-0.1 0.1 0.2 0.2 0.2 0.1 0.2 0.1 0.1 0.2 0 0.1 0.1 0.1-0.1 0.2-0.1 0.1-0.1 0.1-0.1 0.2 0 0.1 0 0.1 0.1 0.2 0.2 0.1 0.2 0.1 0.2 0.2-0.4 0.1-0.3 0.1-0.4 0.2 0.2 0.1 0.2 0.1 0.2 0.2 0 0.1-0.1 0.1 0 0.2 0 0.1 0.2 0.1 0.2 0.2 0 0.1-0.2 0.1-0.2 0.2-0.2 0.1-0.1 0.2-0.2 0.1-0.1 0.1 0.3 0.2 0.3 0.1 0.3 0.1 0.2 0.2 0.1 0.1 0.1 0.1 0 0.2-0.2 0.1-0.1 0.1-0.1 0.2 0 0.1 0 0.1 0 0.2-0.1 0.1 0 0.1-0.1 0.2 0.3 0.1 0.3 0.1 0.3 0.2-0.2 0.1-0.4 0.1-0.3 0.2-0.1 0.1 0.1 0.1 0.1 0.2 0.1 0.1 0.1 0.1 0.1 0.2 0.1 0.1 0.1 0.1 0.1 0.2 0.1 0.1-0.1 0.2-0.2 0.1-0.2 0.1-0.1 0.2-0.1 0.1-0.1 0.1 0 0.2 0 0.1 0.1 0.1 0.1 0.2 0 0.1 0 0.1 0 0.2 0.1 0.1 0 0.1 0.1 0.2 0 0.1-0.1 0.1 0 0.2 0.2 0.1 0.2 0.1 0.2 0.2-0.1 0.1-0.4 0.1-0.3 0.2-0.2 0.1 0 0.1 0.1 0.2 0.1 0.1 0.1 0.1 0.2 0.2 0.2 0.1-0.1 0.1 0 0.2 0 0.1 0.1 0.2 0.2 0.1 0.2 0.1 0 0.2-0.1 0.1 0 0.1-0.1 0.2-0.2 0.1-0.1 0.1-0.1 0.2 0.1 0.1 0.2 0.1 0.1 0.2 0.1 0.1 0 0.1 0.1 0.2-0.1 0.1-0.1 0.1-0.1 0.2-0.1 0.1-0.1 0.1-0.1 0.2 0 0.1 0.2 0.1 0.2 0.2 0.2 0.1-0.2 0.1-0.2 0.2-0.2 0.1 0 0.1 0 0.2 0 0.1 0 0.1 0 0.2 0 0.1 0 0.2 0 0.1 0 0.1 0.1 0.2 0 0.1 0.1 0.1 0 0.2 0.1 0.1 0 0.1 0.1 0.2-0.2 0.1-0.1 0.1-0.2 0.2 0.2 0.1 0.2 0.1 0.2 0.2 0 0.1-0.3 0.1-0.2 0.2-0.1 0.1 0.3 0.1 0.3 0.2 0.3 0.1-0.2 0.1-0.1 0.2-0.1 0.1 0 0.1-0.1 0.2-0.1 0.1 0.2 0.1 0.3 0.2 0.2 0.1 0 0.1-0.3 0.2-0.3 0.1-0.2 0.2 0 0.1-0.1 0.1 0 0.2 0.3 0.1 0.2 0.1 0.3 0.2-0.1 0.1-0.1 0.1-0.1 0.2-0.1 0.1-0.1 0.1-0.2 0.2 0 0.1 0 0.1 0 0.2 0 0.1 0 0.1 0 0.2 0 0.1 0.3 0.1 0.3 0.2 0.3 0.1-0.1 0.1-0.2 0.2-0.2 0.1-0.1 0.1-0.2 0.2-0.1 0.1 0.1 0.1 0.3 0.2 0.3 0.1 0.2 0.1 0 0.2-0.1 0.1 0 0.2-0.1 0.1-0.2 0.1-0.1 0.2 0 0.1 0 0.1 0 0.2 0.2 0.1 0.1 0.1 0.2 0.2 0 0.1 0 0.1-0.1 0.2-0.1 0.1-0.1 0.1 0 0.2-0.1 0.1-0.1 0.1 0 0.2 0 0.1-0.2 0.1-0.2 0.2-0.2 0.1 0.1 0.1 0.1 0.2 0.1 0.1 0.1 0.1 0 0.2 0.1 0.1 0.1 0.1 0 0.2 0 0.1 0.1 0.1-0.1 0.2-0.1 0.1-0.1 0.2-0.2 0.1-0.2 0.1-0.2 0.2 0.2 0.1 0.3 0.1 0.4 0.2 0.1 0.1 0.1 0.1 0.1 0.2 0 0.1 0.1 0.1 0 0.2 0 0.1-0.1 0.1-0.2 0.2-0.1 0.1 0.1 0.1 0.2 0.2 0.1 0.1 0.1 0.1 0.1 0.2 0.1 0.1-0.1 0.1-0.1 0.2-0.1 0.1-0.1 0.1 0 0.2 0 0.1 0 0.1-0.2 0.2-0.2 0.1-0.2 0.1 0 0.2-0.1 0.1-0.1 0.2 0.2 0.1 0.2 0.1 0.3 0.2 0 0.1 0.1 0.1 0 0.2-0.1 0.1-0.2 0.1-0.1 0.2-0.1 0.1 0.1 0.1 0.1 0.2 0.1 0.1 0 0.1 0.1 0.2 0 0.1-0.1 0.1-0.1 0.2-0.1 0.1 0 0.1 0.2 0.2 0.1 0.1-0.2 0.1-0.6 0.2-0.8 0.1-1.1 0.1-1.4 0.2-1.4 0.1-1.1 0.1 0 0.2 0.6 0.1 1.2 0.1 1.1 0.2 1 0.1 0.9 0.1 0.7 0.2 0.6 0.1 0.3 0.2 0.1 0.1-0.1 0.1-0.2 0.2-0.1 0.1 0.1 0.1 0 0.2 0.1 0.1 0.2 0.1 0.2 0.2 0.2 0.1-0.1 0.1 0 0.2-0.1 0.1 0 0.1 0.1 0.2 0.1 0.1-0.1 0.1-0.2 0.2-0.2 0.1-0.1 0.1 0.2 0.2 0.2 0.1 0.2 0.1 0 0.2-0.1 0.1-0.1 0.1-0.1 0.2-0.1 0.1-0.1 0.1 0.1 0.2 0.1 0.1 0.2 0.1 0.1 0.2 0 0.1 0.1 0.2 0.1 0.1 0 0.1 0 0.2 0 0.1 0 0.1 0 0.2 0 0.1-0.1 0.1-0.1 0.2-0.1 0.1 0 0.1 0 0.2 0 0.1 0 0.1-0.1 0.2 0 0.1-0.1 0.1 0.1 0.2 0 0.1 0.1 0.1-0.2 0.2-0.1 0.1-0.1 0.1 0 0.2 0 0.1 0.1 0.1 0 0.2-0.1 0.1-0.1 0.1 0.1 0.2 0.2 0.1 0.2 0.1 0.2 0.2 0 0.1 0.1 0.2 0.1 0.1-0.3 0.1-0.3 0.2-0.2 0.1 0 0.1 0.1 0.2 0.1 0.1 0.2 0.1 0.3 0.2 0.2 0.1 0.1 0.1-0.1 0.2-0.2 0.1-0.1 0.1-0.1 0.2-0.1 0.1-0.1 0.1-0.1 0.2-0.1 0.1-0.1 0.1-0.1 0.2-0.1 0.1-0.1 0.1 0 0.2 0.2 0.1 0.1 0.1 0.1 0.2 0.1 0.1 0.1 0.1 0.1 0.2 0 0.1 0.1 0.1 0.1 0.2 0 0.1 0.1 0.2 0 0.1 0 0.1 0 0.2 0 0.1 0 0.1 0.1 0.2 0 0.1 0 0.1-0.1 0.2-0.1 0.1-0.1 0.1-0.1 0.2-0.2 0.1 0 0.1 0 0.2 0.1 0.1 0 0.1 0.2 0.2 0.1 0.1 0.2 0.1-0.1 0.2-0.2 0.1-0.1 0.1-0.1 0.2-0.1 0.1 0 0.1 0 0.2 0.1 0.1 0.1 0.1 0.2 0.2 0 0.1 0 0.1 0 0.2 0 0.1 0 0.2-0.1 0.1 0 0.1 0 0.2-0.1 0.1 0.1 0.1 0.2 0.2 0.3 0.1 0.1 0.1-0.1 0.2-0.1 0.1-0.1 0.1 0.1 0.2 0 0.1 0.1 0.1-0.1 0.2-0.2 0.1-0.1 0.1-0.1 0.2 0 0.1 0 0.1 0 0.2 0.1 0.1 0.1 0.1 0 0.2-0.1 0.1-0.2 0.1-0.1 0.2 0.1 0.1 0 0.1 0.1 0.2 0 0.1 0 0.1 0 0.2 0 0.1 0.1 0.2 0 0.1 0 0.1 0.2 0.2 0.1 0.1 0 0.1-0.3 0.2-0.3 0.1-0.2 0.1 0.2 0.2 0.1 0.1 0.1 0.1 0.2 0.2 0.2 0.1 0.2 0.1-0.1 0.2-0.2 0.1-0.2 0.1-0.2 0.2 0 0.1 0 0.1 0 0.2 0.2 0.1 0.3 0.1 0.1 0.2-0.1 0.1-0.1 0.1-0.2 0.2-0.1 0.1-0.1 0.1-0.2 0.2 0.1 0.1 0.1 0.1 0 0.2 0.1 0.1 0.1 0.2 0 0.1 0 0.1 0 0.2 0.1 0.1 0 0.1-0.1 0.2 0 0.1-0.1 0.1 0.2 0.2 0.1 0.1 0.1 0.1 0 0.2 0 0.1-0.1 0.1 0 0.2-0.1 0.1 0 0.1-0.1 0.2 0 0.1 0.1 0.1 0 0.2-0.1 0.1-0.2 0.1-0.1 0.2 0.3 0.1 0.3 0.1 0.3 0.2-0.2 0.1-0.4 0.1-0.3 0.2-0.1 0.1 0.3 0.1 0.2 0.2 0.2 0.1 0 0.2 0 0.1 0 0.1 0 0.2-0.1 0.1 0 0.1-0.1 0.2-0.1 0.1-0.1 0.1 0 0.2 0.1 0.1 0.2 0.1-0.1 0.2-0.1 0.1-0.2 0.1 0 0.2 0 0.1 0 0.1 0 0.2 0.1 0.1 0.1 0.1 0.1 0.2 0.1 0.1 0 0.1 0 0.2 0 0.1 0 0.1 0 0.2 0 0.1-0.1 0.1 0 0.2 0 0.1 0.2 0.1 0.1 0.2 0.2 0.1-0.3 0.2-0.3 0.1-0.2 0.1 0.1 0.2 0.1 0.1 0.1 0.1 0 0.2 0 0.1 0 0.1 0 0.2 0.1 0.1 0.1 0.1 0.1 0.2 0 0.1 0 0.1-0.1 0.2-0.2 0.1-0.2 0.1-0.2 0.2 0.3 0.1 0.3 0.1 0.4 0.2-0.1 0.1-0.2 0.1-0.2 0.2 0 0.1 0.1 0.1 0.1 0.2 0.1 0.1 0 0.1 0.1 0.2 0.1 0.1-0.2 0.1-0.3 0.2-0.2 0.1 0.1 0.2 0.2 0.1 0.1 0.1 0 0.2-0.2 0.1-0.1 0.1 0 0.2 0.1 0.1 0.1 0.1 0.1 0.2 0.2 0.1 0.1 0.1 0.2 0.2-0.2 0.1-0.2 0.1-0.2 0.2 0.1 0.1 0.1 0.1 0.1 0.2 0 0.1-0.1 0.1-0.1 0.2 0 0.1 0 0.1 0 0.2 0 0.1-0.1 0.1-0.1 0.2 0 0.1 0 0.1 0 0.2 0.1 0.1 0 0.1 0.1 0.2 0 0.1 0 0.2 0.1 0.1 0 0.1 0.1 0.2 0 0.1 0.1 0.1 0.1 0.2 0 0.1 0.1 0.1 0 0.2-0.2 0.1-0.2 0.1-0.2 0.2 0.1 0.1 0.1 0.1 0.2 0.2 0 0.1-0.1 0.1-0.1 0.2-0.1 0.1-0.1 0.1-0.1 0.2 0 0.1-0.1 0.1 0 0.2 0 0.1 0 0.1 0 0.2 0 0.1 0.1 0.1 0 0.2 0.1 0.1 0 0.1 0 0.2 0 0.1-0.1 0.2 0.1 0.1 0 0.1 0 0.2 0 0.1 0 0.1 0 0.2 0.2 0.1 0.1 0.1 0.1 0.2-0.1 0.1-0.1 0.1-0.2 0.2 0 0.1-0.1 0.1-0.1 0.2 0.1 0.1 0.1 0.1 0.1 0.2 0 0.1 0 0.1 0 0.2 0 0.1 0.3 0.1 0.2 0.2 0.2 0.1-0.1 0.1-0.1 0.2-0.1 0.1-0.3 0.1-0.3 0.2-0.4 0.1 0.1 0.1 0.3 0.2 0.3 0.1 0.2 0.2-0.2 0.1-0.1 0.1-0.1 0.2-0.1 0.1-0.1 0.1 0 0.2 0 0.1 0 0.1 0 0.2 0.1 0.1 0.1 0.1 0.1 0.2 0 0.1 0 0.1 0 0.2 0.1 0.1 0.1 0.1 0.1 0.2 0.1 0.1-0.3 0.1-0.3 0.2-0.2 0.1 0.1 0.1 0.1 0.2 0.2 0.1 0 0.1-0.1 0.2-0.1 0.1 0.1 0.1 0.2 0.2 0.3 0.1 0.1 0.1 0.1 0.2 0 0.1 0.1 0.2 0 0.1 0 0.1 0 0.2-0.3 0.1-0.2 0.1-0.3 0.2 0 0.1 0.1 0.1 0.1 0.2 0.1 0.1 0 0.1 0 0.2 0 0.1-0.1 0.1 0 0.2-0.1 0.1 0 0.1 0.1 0.2 0 0.1 0 0.1 0 0.2 0 0.1 0 0.1 0.1 0.2 0.1 0.1 0 0.1 0.1 0.2 0 0.1 0 0.1-0.1 0.2-0.1 0.1-0.1 0.1-0.1 0.2-0.1 0.1-0.1 0.2 0.2 0.1 0.1 0.1 0.2 0.2 0 0.1-0.1 0.1-0.1 0.2 0 0.1 0.1 0.1 0 0.2 0 0.1-0.1 0.1 0 0.2-0.1 0.1 0.2 0.1 0.1 0.2 0.2 0.1-0.3 0.1-0.3 0.2-0.3 0.1 0 0.1 0 0.2 0 0.1 0.1 0.1 0.2 0.2 0.1 0.1 0.1 0.1 0.1 0.2 0 0.1 0 0.1 0.2 0.2 0.1 0.1 0.2 0.1-0.3 0.2-0.2 0.1-0.3 0.2 0 0.1 0.1 0.1 0.1 0.2 0 0.1 0 0.1 0 0.2 0.1 0.1 0.1 0.1 0.2 0.2 0.1 0.1-0.2 0.1-0.2 0.2-0.2 0.1-0.1 0.1-0.1 0.2-0.2 0.1 0.2" stroke="#ff0000"/>
</g>
<rect x="542.5" y="64.5" width="181.0" height="95.0" fill="#fff" stroke="#b8b8b8" stroke-width="1"/>
<line x1="572.67" y1="159.5" x2="572.67" y2="157.5" stroke="#b8b8b8" stroke-width="1"/>
<line x1="572.67" y1="64.5" x2="572.67" y2="66.5" stroke="#b8b8b8" stroke-width="1"/>
<text transform="translate(557.07 193.0) rotate(-27.5)" x="-27.14" y="8.26" font-size="24.0" style="font-kerning:none">1100</text>
<line x1="633" y1="159.5" x2="633" y2="157.5" stroke="#b8b8b8" stroke-width="1"/>
<line x1="633" y1="64.5" x2="633" y2="66.5" stroke="#b8b8b8" stroke-width="1"/>
<text transform="translate(617.4 193.0) rotate(-27.5)" x="-27.14" y="8.26" font-size="24.0" style="font-kerning:none">1110</text>
<line x1="693.33" y1="159.5" x2="693.33" y2="157.5" stroke="#b8b8b8" stroke-width="1"/>
<line x1="693.33" y1="64.5" x2="693.33" y2="66.5" stroke="#b8b8b8" stroke-width="1"/>
<text transform="translate(677.73 193.0) rotate(-27.5)" x="-27.14" y="8.26" font-size="24.0" style="font-kerning:none">1120</text>
<g fill="none" stroke-width="1.6" stroke-linejoin="round">
<path d="M542.5 157.6l0.6 0 0.6-0.2 0.6 0.2 0.6-0.4 0.6-0.4 0.6 1.1 0.6-0.4 0.6-0.8 0.6 0.3 0.7 0.2 0.6 0.3 0.6 0.3 0.6-0.4 0.6-0.2 0.6 0.3 0.6-0.2 0.6 0.1 0.6-0.3 0.6-0.1 0.6 0.7 0.6-0.5 0.6 0.2 0.6-0.2 0.6 0 0.6 0 0.6 0.3 0.6 0.2 0.6-0.2 0.7-0.3 0.6 1 0.6-0.6 0.6 0 0.6-0.4 0.6 0 0.6 0.3 0.6-0.7 0.6 0.3 0.6 0.3 0.6 0.6 0.6-0.6 0.6-0.4 0.6-0.1 0.6 0.7 0.6-0.6 0.6 0.2 0.6 0.7 0.7-0.6 0.6-0.1 0.6-0.2 0.6 0.7 0.6 0 0.6-0.6 0.6-0.3 0.6 0.4 0.6 0.5 0.6-0.3 0.6-0.5 0.6 0.4 0.6 0.2 0.6-0.3 0.6 0.1 0.6-0.1 0.6-0.1 0.6-0.1 0.6-0.2 0.7 0.1 0.6-0.2 0.6 0.6 0.6 0 0.6-0.1 0.6 0.1 0.6-0.1 0.6-0.3 0.6 0.3 0.6-0.1 0.6 0 0.6-0.6 0.6 0.5 0.6 0.3 0.6-0.3 0.6-0.1 0.6-0.3 0.6 0.3 0.6 0.6 0.7-0.6 0.6 0.5 0.6-0.5 0.6 0.5 0.6-0.5 0.6 0.3 0.6 0 0.6 0 0.6-0.4 0.6 0.1 0.6-0.1 0.6 0.2 0.6-0.1 0.6 0 0.6 0.3 0.6-0.5 0.6 0 0.6 0.1 0.7 0.1 0.6-0.2 0.6 0.4 0.6-0.5 0.6 0.8 0.6-0.5 0.6 0.3 0.6-0.7 0.6 0.2 0.6 0.1 0.6 0.5 0.6-0.5 0.6 0.4 0.6-0.7 0.6 0.6 0.6-0.6 0.6-0.4 0.6-0.1 0.6 0.7 0.7-0.2 0.6 0.1 0.6-0.1 0.6 0.1 0.6 0.3 0.6-0.6 0.6 0.1 0.6-0.2 0.6-0.4 0.6 0.3 0.6 0.5 0.6-0.7 0.6 0.9 0.6-0.6 0.6-0.1 0.6 0.1 0.6-0.4 0.6-0.1 0.6 0.3 0.7-0.7 0.6 0 0.6-0.5 0.6 0.2 0.6 0.7 0.6-0.8 0.6-1 0.6-0.6 0.6 0.2 0.6-0.5 0.6-1.1 0.6-0.2 0.6-1.2 0.6-1 0.6-1.3 0.6-1.4 0.6-2.2 0.6-2 0.7-1.5 0.6-2.9 0.6-2.9 0.6-2.4 0.6-3.3 0.6-2.9 0.6-2.4 0.6-3.8 0.6-4 0.6-3.5 0.6-2.7 0.6-3.1 0.6-2 0.6-1.9 0.6-1.2 0.6-0.9 0.6-0.4 0.6 1.1 0.6 1.4 0.7 2 0.6 2.7 0.6 2.1 0.6 3.3 0.6 3.1 0.6 3.2 0.6 3.7 0.6 2.8 0.6 3.8 0.6 1.6 0.6 3.9 0.6 1.9 0.6 2 0.6 2.4 0.6 1.8 0.6 1.7 0.6 1.4 0.6 0.5 0.6 1.1 0.7 0.8 0.6 0.5 0.6 0.1 0.6 0.7 0.6-0.3 0.6-0.6 0.6 0.1 0.6-0.6 0.6-0.7 0.6-0.4 0.6-1.1 0.6-1.4 0.6-1.4 0.6-1.6 0.6-2.4 0.6-2.1 0.6-2.1 0.6-3.4 0.7-3.1 0.6-3.5 0.6-3.2 0.6-4.4 0.6-3.7 0.6-4.7 0.6-4.3 0.6-4.5 0.6-4.8 0.6-4.5 0.6-3.6 0.6-4.3 0.6-3.2 0.6-2.8 0.6-2.9 0.6-0.7 0.6-0.9 0.6 0.1 0.6 1.1 0.7 1.9 0.6 2.9 0.6 3.8 0.6 3.1 0.6 3.8 0.6 4.6 0.6 5.2 0.6 4 0.6 5.1 0.6 3.6 0.6 4.3 0.6 4 0.6 3.9 0.6 3.9 0.6 3.3 0.6 2.5 0.6 3 0.6 2.5 0.6 2.3 0.7 2.5 0.6 1.7 0.6 1.1 0.6 1.4 0.6 0.6 0.6 1.3 0.6 0.1 0.6 1.2 0.6 0.7 0.6 0.7 0.6 0.2 0.6 0.4 0.6 0 0.6 0 0.6 0.7 0.6-0.2 0.6 0.7 0.6 0.2 0.7-0.1 0.6 0 0.6 0.6 0.6 0.1 0.6 0.4 0.6 0.3 0.6 0.3 0.6-0.1 0.6-0.4 0.6 0.3 0.6 0.8 0.6-0.8 0.6 0.3 0.6 0.6 0.6-0.2 0.6-0.2 0.6 0.4 0.6-0.2 0.6 0.5 0.7-0.2 0.6 0.1 0.6 0.1 0.6-0.5 0.6 0.6 0.6 0.2 0.6 0 0.6-0.1 0.6 0.2 0.6 0.6" stroke="#000"/>
<path d="M542.5 157.2l0.6-0.6 0.6 0.8 0.6-0.4 0.6-0.4 0.6-0.5 0.6 1 0.6-0.7 0.6 0.6 0.6 0.4 0.7-0.2 0.6-0.9 0.6 0.2 0.6 0.7 0.6 0.2 0.6-0.5 0.6-0.1 0.6 0.9 0.6-0.1 0.6-0.6 0.6-0.3 0.6 0.5 0.6-0.9 0.6 0.7 0.6 0 0.6 0.4 0.6-0.3 0.6-1 0.6 1.6 0.7-0.6 0.6-1.1 0.6 0.2 0.6 1 0.6-0.9 0.6 0.9 0.6-0.8 0.6-0.3 0.6 1.5 0.6 0 0.6-0.9 0.6 0.9 0.6-0.6 0.6 0.1 0.6-0.3 0.6 0.4 0.6 0.3 0.6 0 0.7 0.3 0.6-0.1 0.6-0.5 0.6-0.5 0.6 0.6 0.6-0.1 0.6-0.5 0.6-0.3 0.6 0.1 0.6-0.3 0.6 0.3 0.6 0.5 0.6 0.4 0.6-0.5 0.6-0.3 0.6 0.1 0.6 0.1 0.6 0.6 0.6-0.5 0.7-0.9 0.6 0.8 0.6-0.7 0.6 0.4 0.6 0.4 0.6-0.5 0.6 0.3 0.6 0.6 0.6-0.9 0.6 0.9 0.6-0.1 0.6-0.1 0.6-0.7 0.6 0.9 0.6-0.4 0.6 0.2 0.6-0.3 0.6 0.5 0.6-1.2 0.7 0.8 0.6 0.2 0.6 0.9 0.6-2 0.6 0.2 0.6 0.4 0.6 0.2 0.6-0.5 0.6 0.7 0.6-0.4 0.6 0.1 0.6-0.7 0.6 0.8 0.6-0.1 0.6 0.6 0.6-0.3 0.6 0.3 0.6-0.6 0.7-0.5 0.6 0.7 0.6-1 0.6 0 0.6 0.3 0.6 0.7 0.6 0.1 0.6-1.3 0.6 0.6 0.6 0.7 0.6-0.8 0.6-0.5 0.6 0.7 0.6 0.6 0.6-0.9 0.6 0 0.6 1.1 0.6-0.6 0.6-0.8 0.7 0.8 0.6 0.2 0.6-0.8 0.6 0.2 0.6 0.3 0.6-0.3 0.6 0.5 0.6-0.1 0.6-0.3 0.6 0.2 0.6-0.9 0.6-0.3 0.6-0.4 0.6 0.3 0.6-0.4 0.6 0.2 0.6 0.3 0.6 0 0.6-0.6 0.7-0.4 0.6-0.4 0.6-0.3 0.6-1 0.6-0.5 0.6-0.9 0.6-0.2 0.6-0.4 0.6-1 0.6-0.8 0.6-0.1 0.6-1.7 0.6-1 0.6-1.3 0.6-1 0.6-1.9 0.6-0.6 0.6-1.3 0.7-1.2 0.6-2.5 0.6-0.7 0.6-0.7 0.6-1.5 0.6-2.2 0.6-0.9 0.6-1.1 0.6-0.3 0.6-0.5 0.6-1.1 0.6-1.1 0.6 0.6 0.6-1 0.6 1.5 0.6-0.5 0.6 0.5 0.6 0.7 0.6 1.3 0.7 1 0.6 1.2 0.6 0.9 0.6 1.1 0.6 1.7 0.6 1.4 0.6 0.7 0.6 1.3 0.6 1.2 0.6 0.6 0.6 0.8 0.6 0.5 0.6 1.2 0.6 1.6 0.6-0.5 0.6 0.1 0.6 0.8 0.6 0.4 0.6 0.1 0.7-0.7 0.6 0.3 0.6-0.8 0.6-0.5 0.6-0.6 0.6-1.1 0.6-0.8 0.6-0.5 0.6-1.9 0.6-1 0.6-1 0.6-1.6 0.6-1.6 0.6-2.3 0.6-1.8 0.6-1.3 0.6-1.9 0.6-2.4 0.7-1 0.6-1.6 0.6-1.3 0.6-2.4 0.6-1.7 0.6-1.7 0.6-1 0.6-1.4 0.6 0 0.6-2.1 0.6 0.3 0.6-1.1 0.6-0.6 0.6 0.8 0.6 0.3 0.6 1 0.6 0.3 0.6 0.5 0.6 0.8 0.7 1.1 0.6 1.6 0.6 1.7 0.6 1.1 0.6 1.6 0.6 2.2 0.6 1.2 0.6 2.1 0.6 1.7 0.6 1.5 0.6 2.6 0.6 1.5 0.6 1.2 0.6 1 0.6 2.1 0.6 1.2 0.6 1.4 0.6 1.3 0.6 0.9 0.7 2.3 0.6 0.2 0.6 0.5 0.6 1 0.6 0.4 0.6 0.5 0.6 0.6 0.6 1.2 0.6 0.9 0.6 0.7 0.6 0 0.6 0.5 0.6-0.5 0.6 0.3 0.6 1 0.6 0.8 0.6 0.5 0.6-0.5 0.7-0.2 0.6 0.6 0.6 0.3 0.6-0.3 0.6 0.5 0.6 0.6 0.6-0.5 0.6 0.3 0.6 0.9 0.6-0.5 0.6 0.1 0.6-0.3 0.6 0.7 0.6-1 0.6 1.3 0.6-0.5 0.6-0.3 0.6 0.1 0.6 0.3 0.7-0.9 0.6 0.9 0.6 0.2 0.6-0.6 0.6 0.8 0.6 0.4 0.6-1.2 0.6 0.4 0.6 0.7 0.6 0.7" stroke="#ff0000"/>
</g>
</g>
<text transform="matrix(0.37333 0 0 0.32851 -1.42 761.58)" font-family="'Liberation Serif', serif" font-size="100" fill="#000" style="font-kerning:none">c</text>
<text transform="matrix(0.35431 0 0 0.37166 14.96 761.89)" font-family="'Liberation Serif', serif" font-size="100" fill="#000" style="font-kerning:none">)</text>
<path transform="translate(392 729)" d="M10 5.2 C10 4.9 10.5 4.9 11 4.9 L15 4.9 C16.5 4.9 17.2 5.6 17.8 7 L28.2 30.2 C28.4 30.8 28.1 31.5 27.2 31.5 L23.8 31.5 C23 31.5 22.5 31 22.2 30.4 L18.4 20.7 L9.4 30.6 C8.5 31.6 7.3 31.8 6.2 31.2 C5.1 30.4 4.9 29.2 5.8 28.3 L17.1 18 L12.2 7 C11.8 6.3 11.2 6.2 10.5 6 C10.1 5.9 10 5.6 10 5.2 Z" fill="#000"/>
<rect x="438.9" y="745.6" width="25.7" height="2.1" fill="#000"/>
<rect x="438.9" y="753.4" width="25.7" height="2.1" fill="#000"/>
<text transform="matrix(0.45180 0 0 0.36072 481.58 759.59)" font-family="'Liberation Serif', serif" font-size="100" font-weight="bold" fill="#000" style="font-kerning:none">0.5</text>
<g transform="translate(0 729)">
<rect x="117.0" y="44.5" width="264.5" height="225.3" fill="none" stroke="#c0c0c0" stroke-width="1"/>
<line x1="117" y1="269.8" x2="119.6" y2="269.8" stroke="#c0c0c0" stroke-width="1"/>
<line x1="381.5" y1="269.8" x2="378.9" y2="269.8" stroke="#c0c0c0" stroke-width="1"/>
<text x="95.34" y="280.6" font-size="27" style="font-kerning:none">0</text>
<line x1="117" y1="194.7" x2="119.6" y2="194.7" stroke="#c0c0c0" stroke-width="1"/>
<line x1="381.5" y1="194.7" x2="378.9" y2="194.7" stroke="#c0c0c0" stroke-width="1"/>
<text x="65.31" y="205.5" font-size="27" style="font-kerning:none">500</text>
<line x1="117" y1="119.6" x2="119.6" y2="119.6" stroke="#c0c0c0" stroke-width="1"/>
<line x1="381.5" y1="119.6" x2="378.9" y2="119.6" stroke="#c0c0c0" stroke-width="1"/>
<text x="50.29" y="130.4" font-size="27" style="font-kerning:none">1000</text>
<line x1="117" y1="44.5" x2="119.6" y2="44.5" stroke="#c0c0c0" stroke-width="1"/>
<line x1="381.5" y1="44.5" x2="378.9" y2="44.5" stroke="#c0c0c0" stroke-width="1"/>
<text x="50.29" y="55.3" font-size="27" style="font-kerning:none">1500</text>
<line x1="117" y1="269.8" x2="117" y2="267.2" stroke="#c0c0c0" stroke-width="1"/>
<line x1="117" y1="44.5" x2="117" y2="47.1" stroke="#c0c0c0" stroke-width="1"/>
<text x="109.49" y="304.3" font-size="27" style="font-kerning:none">0</text>
<line x1="249.25" y1="269.8" x2="249.25" y2="267.2" stroke="#c0c0c0" stroke-width="1"/>
<line x1="249.25" y1="44.5" x2="249.25" y2="47.1" stroke="#c0c0c0" stroke-width="1"/>
<text x="241.77" y="304.3" font-size="27" style="font-kerning:none">5</text>
<line x1="381.5" y1="269.8" x2="381.5" y2="267.2" stroke="#c0c0c0" stroke-width="1"/>
<line x1="381.5" y1="44.5" x2="381.5" y2="47.1" stroke="#c0c0c0" stroke-width="1"/>
<text x="365.98" y="304.3" font-size="27" style="font-kerning:none">10</text>
<text x="182.71" y="340.7" font-size="30" style="font-kerning:none">Time (ms)</text>
<text transform="translate(41.7 156.9) rotate(-90)" x="-98.31" y="0" font-size="30.0" style="font-kerning:none">Amplitude (eV)</text>
<clipPath id="lc2"><rect x="117.0" y="44.5" width="265.5" height="225.3"/></clipPath>
<g clip-path="url(#lc2)" fill="#ff0000" stroke="#ff0000" stroke-linejoin="round">
<path d="M117 259.4l0.2 3.7 0.2-3 0.2-10.7 0.2 0.1 0.2 1.6 0.2-0.3 0.2 2 0.2 1.1 0.2-0.3 0.2 0.7 0.2 1 0.2 0.4 0.2-0.4 0.3 0.4 0.2 1.2 0.2 0.2 0.2 1.3 0.2-2.4 0.2 1.7 0.2-18.1 0.2 2.3 0.2 0.4 0.2 1.7 0.2 2.1 0.2 0.2 0.2 2.8 0.2-0.7 0.2 2.8 0.2-0.6 0.2 0.1 0.2 1.3 0.2 1 0.2 0.8 0.2-1 0.2 0.5 0.2 0.5 0.2 1.3 0.2 1 0.2-1.1 0.2 1.9 0.2-0.4 0.3 0.4 0.2-143 0.2 13 0.2 11.2 0.2 10.3 0.2 9.8 0.2 7.3 0.2 6.7 0.2 7.8 0.2 5.5 0.2 6 0.2 4.1 0.2 3.1 0.2 5.5 0.2 4.1 0.2 2.4 0.2 4.6 0.2 2.8 0.2-70.7 0.2 7.9 0.2 8.9 0.2 7.2 0.2 5.5 0.2 4.2 0.2 7.1 0.2 7.3 0.2 3.2 0.2 4.1 0.3 3.8 0.2 2.8 0.2 1.4 0.2 4.5 0.2 3 0.2 1.3 0.2 2.7 0.2 2.1 0.2 2.5 0.2 1.3 0.2 0.3 0.2-111.6 0.2 11.3 0.2 8.4 0.2 9.6 0.2 9.5 0.2 8 0.2 6.3 0.2 7.1 0.2 5.1 0.2 3.7 0.2 5.9 0.2 3.6 0.2 4.1 0.2 4.1 0.2-28.7 0.2 7.9 0.3 4.6 0.2 4.7 0.2 4.1 0.2 3.1 0.2 4.3 0.2 5.1 0.2 1.1 0.2 4.4 0.2 2.7 0.2 0.3 0.2 4.6 0.2 1.1 0.2 2.7 0.2 0.7 0.2 2.1 0.2 1.7 0.2 1.7 0.2 0.5 0.2 2.9 0.2 1 0.2 1.5 0.2-0.7 0.2 2.2 0.2 1.6 0.2-1.4 0.2 0.5 0.2 2.8 0.2 0.1 0.3 1 0.2 1.1 0.2 1.2 0.2 0.4 0.2 0.6 0.2 2 0.2-3 0.2 1.8 0.2 1.1 0.2 0.7 0.2 0.9 0.2-0.9 0.2 1.3 0.2-0.1 0.2 1.8 0.2-0.9 0.2-0.9 0.2 2.1 0.2-0.5 0.2 0.9 0.2-0.5 0.2 0.3 0.2 1 0.2-2.2 0.2 2.6 0.2 0.4 0.2 0.7 0.2-0.6 0.3 0.3 0.2 1.2 0.2-0.4 0.2-2.1 0.2 1.7 0.2-0.2 0.2-0.7 0.2 2.4 0.2 1.7 0.2-131.3 0.2 11.1 0.2 7.9 0.2 9.7 0.2 10.6 0.2 5 0.2-129 0.2 11 0.2 16.5 0.2 15.1 0.2 13.8 0.2 12.1 0.2 12 0.2 8.9 0.2 8.5 0.2 8.3 0.2 6.2 0.2 8 0.3 3.3 0.2 8.2 0.2 6.2 0.2 6 0.2 5.1 0.2 1.4 0.2-150.6 0.2 7.7 0.2 17 0.2 14 0.2 12 0.2 13 0.2 11.9 0.2 9.3 0.2 7.5 0.2 10 0.2 8.6 0.2 6.5 0.2 5.6 0.2 4.1 0.2 5.8 0.2 5.5 0.2 4.9 0.2 3.2 0.2 3.9 0.2 3.9 0.2 3.1 0.2 3.5 0.3 1 0.2 5.8 0.2 0.7 0.2 3.2 0.2-0.5 0.2 4.2 0.2 0.1 0.2 3.2 0.2 2 0.2 1.1 0.2 3.4 0.2-0.3 0.2 2.3 0.2-20.9 0.2 2.3 0.2 3.3 0.2 2 0.2 5.6 0.2 1.3 0.2 0.7 0.2 3.5 0.2-20.1 0.2 2.1 0.2 3.9 0.2 4.3 0.2 1.6 0.2 2.3 0.3 2.7 0.2 2.2 0.2 1.8 0.2 3 0.2 0.4 0.2 2.4 0.2 0.4 0.2 1.3 0.2 2.2 0.2 0 0.2 1.3 0.2 1.3 0.2 0.4 0.2 1.7 0.2 0.8 0.2-5.5 0.2 1.4 0.2 0.3 0.2 3.7 0.2-0.6 0.2-0.8 0.2 2.8 0.2 0.2 0.2 1 0.2 0 0.2 1.1 0.2 2.9 0.2-0.6 0.3-1.4 0.2 0.5 0.2 1.6 0.2 1.7 0.2-2.4 0.2 3.6 0.2-1.4 0.2 0.7 0.2 0.1 0.2 1.4 0.2-0.3 0.2-3.8 0.2 4.5 0.2 1 0.2-0.8 0.2 0.2 0.2-0.5 0.2 1.6 0.2-137.6 0.2 12.6 0.2 11.7 0.2 8.6 0.2 9 0.2 7.7 0.2 8.5 0.2 5.7 0.2 4.9 0.2 4.9 0.3 5.2 0.2 4.5 0.2 3.5 0.2 2.5 0.2 3.6 0.2 3.9 0.2 3.6 0.2 1.7 0.2 4.2 0.2 0.6 0.2 2.3 0.2 1.6 0.2 1.3 0.2 1.9 0.2 2.6 0.2 0.5 0.2 1.6 0.2 0.6 0.2 0.9 0.2-100.9 0.2 8.6 0.2 8.4 0.2 9.2 0.2 6.5 0.2 8.2 0.2 5.2 0.2 4.3 0.3 6.9 0.2 3.5 0.2 4.4 0.2 2.1 0.2 3.4 0.2 4.5 0.2 0.9 0.2 6.1 0.2-0.2 0.2 2.7 0.2 1.3 0.2 4.7 0.2-0.2 0.2 2.2 0.2 3.2 0.2 0 0.2 0.9 0.2 0.6 0.2 1.7 0.2 1.7 0.2 0.3 0.2 1.4 0.2 1.3 0.2 1.2 0.2 0 0.2 0.8 0.2-3.5 0.2 5.4 0.3-0.9 0.2 1.6 0.2 0 0.2 2.1 0.2-67.4 0.2 6 0.2 4.9 0.2 5.7 0.2 4.3 0.2 4.6 0.2 3.3 0.2 4.1 0.2 3.8 0.2 0.8 0.2 4.2 0.2 1.2 0.2 3.6 0.2 1.9 0.2 2.2 0.2 0.6 0.2-45.3 0.2 5.7 0.2 6.4 0.2 4.7 0.2 2.8 0.2 3.3 0.2 2.8 0.2 5.6 0.3 1.6 0.2 3.7 0.2 1.8 0.2 1.6 0.2 1.1 0.2 3 0.2 1.8 0.2 1.3 0.2 0.3 0.2 0.5 0.2-62.8 0.2 6 0.2 6.4 0.2 4.5 0.2 5.7 0.2 3.8 0.2 6.1 0.2 3.1 0.2 3.9 0.2 3.6 0.2 2.2 0.2 3.5 0.2-0.1 0.2 3.6 0.2 3.2 0.2 1.6 0.2 0 0.3 3.3 0.2 0.7 0.2 1.5 0.2 0.9 0.2 1.6 0.2 1.8 0.2 1.4 0.2 1.9 0.2-0.4 0.2 0.8 0.2 1.2 0.2 0.6 0.2 1.6 0.2-1.9 0.2 2.7 0.2 1 0.2 0.3 0.2 0.3 0.2-0.2 0.2 2.9 0.2-1.7 0.2 1.3 0.2 0.1 0.2-0.4 0.2 0.5 0.2 1.5 0.2-0.1 0.2-1.1 0.3 0.7 0.2 0.7 0.2 1 0.2-0.5 0.2 0.8 0.2 0.9 0.2 0.6 0.2-0.9 0.2 0.4 0.2-30.2 0.2 4.1 0.2 1.1 0.2 3.6 0.2 0.8 0.2-191.4 0.2 7.8 0.2 16 0.2 17.3 0.2 14.4 0.2 11.9 0.2 12.9 0.2 11 0.2 8.3 0.2 7.1 0.2 8 0.2 8.7 0.2 6.2 0.2 5.4 0.3 6 0.2 4.6 0.2 4.5 0.2 4.6 0.2 3.5 0.2 3.3 0.2 2.7 0.2 4 0.2 1.8 0.2-166.8 0.2 16.8 0.2 15.6 0.2 10 0.2 14.6 0.2 11.2 0.2 10.7 0.2 10.1 0.2 8.2 0.2 7.6 0.2 6.9 0.2 6.4 0.2 5.2 0.2 8.8 0.2 3.2 0.2 3.6 0.2 5.1 0.2 3.7 0.3-0.2 0.2 5.2 0.2 3.7 0.2 4.3 0.2 2.6 0.2 3.5 0.2 3.1 0.2 1 0.2 1.8 0.2 2.3 0.2 2.6 0.2 0.2 0.2 2.1 0.2 1.6 0.2 2.1 0.2-0.4 0.2 1.5 0.2 2.1 0.2 1.5 0.2 0.9 0.2 0 0.2 0.2 0.2 3 0.2 1.3 0.2-138.3 0.2 9.6 0.2 14.8 0.2 9.1 0.3 9.9 0.2 8 0.2 9.4 0.2 7.7 0.2 5.1 0.2 5.6 0.2 2.3 0.2 9.5 0.2 3.5 0.2 3.9 0.2 4.5 0.2 2.5 0.2 2.5 0.2 3.5 0.2 3.7 0.2 1.2 0.2 1.9 0.2 1.2 0.2 3 0.2 3.7 0.2 0.1 0.2 1.5 0.2 2.3 0.2 1.1 0.2 1.9 0.2-0.2 0.2-0.5 0.3 4.4 0.2 0.2 0.2 1.1 0.2 0.5 0.2 2 0.2 0.7 0.2-67.2 0.2 5.2 0.2 7.2 0.2 6.8 0.2 3.7 0.2 4.1 0.2 5.8 0.2 2.8 0.2 3.2 0.2 2.3 0.2 2 0.2-43.5 0.2 6.6 0.2 6.7 0.2 4.8 0.2 4.9 0.2 3.2 0.2 5.4 0.2 3.5 0.2 1.7 0.2 3.7 0.2 3.5 0.3 2.1 0.2 2.3 0.2 2.1 0.2 1.5 0.2 2.1 0.2 2.1 0.2 1.9 0.2 2.3 0.2 0.4 0.2 0.1 0.2 1.9 0.2 1.7 0.2 0.8 0.2 1.4 0.2 0.1 0.2-0.5 0.2 1 0.2 1.2 0.2 1.1 0.2 1.4 0.2 1.4 0.2-0.3 0.2 1 0.2-68.1 0.2 6.9 0.2 4.8 0.2 6 0.2 2.9 0.3 7.1 0.2 2.3 0.2 3.9 0.2 3.7 0.2 3.4 0.2 2.1 0.2 2.2 0.2 1.8 0.2 2.1 0.2 2.1 0.2 2.5 0.2 0.8 0.2 2 0.2 1.8 0.2-0.2 0.2 2.3 0.2 1.5 0.2 0 0.2 2.5 0.2-3.3 0.2 3.2 0.2 1.4 0.2 0.2 0.2-0.7 0.2 1.2 0.2 0.9 0.2 0.8 0.3 1.4 0.2 0.2 0.2 0.6 0.2 0.3 0.2 0.3 0.2 1.1 0.2-1.4 0.2 2.4 0.2-0.7 0.2-0.2 0.2 1.1 0.2 0.8 0.2-0.2 0.2-1.2 0.2 1.3 0.2 0.9 0.2-0.4 0.2 0.8 0.2 1.5 0.2-1.4 0.2-0.4 0.2 0.1 0.2 1.1 0.2 1.2 0.2-1.8 0.2 1.2 0.2-0.5 0.2-0.1 0.3-1 0.2 2.1 0.2 0.6 0.2 0 0.2-0.2 0.2 0.4 0.2-0.5 0.2 1.9 0.2-0.6 0.2-0.7 0.2 0.6 0.2 0 0.2 0.6 0.2-1.3 0.2-0.7 0.2 2.1 0.2-1.5 0.2 2 0.2-1.1 0.2 1.6 0.2-1.8 0.2 0.4 0.2 0 0.2-0.7 0.2 0.5 0.2 0.5 0.2-15.1 0.2 0.7 0.3 1.9 0.2-1.6 0.2 2.1 0.2 1.4 0.2 1.3 0.2 0.5 0.2-0.8 0.2 2.5 0.2 1.9 0.2-0.3 0.2-0.3 0.2 0.4 0.2 0.2 0.2 0.8 0.2 0.4 0.2 0.3 0.2-0.8 0.2 0.4 0.2 2.3 0.2-1 0.2-0.6 0.2 1.3 0.2-0.2 0.2 0.8 0.2 0.6 0.2-0.8 0.2 0.5 0.3 0 0.2 1.1 0.2-0.1 0.2-0.7 0.2 0.4 0.2-0.7 0.2 1.3 0.2-1.2 0.2 0.2 0.2 0.4 0.2-0.3 0.2 0.6 0.2 0.1 0.2 0 0.2-101.4 0.2 8 0.2 7.4 0.2 8.9 0.2 4.8 0.2 6.8 0.2 5 0.2 4.3 0.2 4.2 0.2 3 0.2 4.6 0.2 1.8 0.2 4.1 0.2 2.3 0.3 2.3 0.2 3.2 0.2 2.3 0.2 1 0.2-147.1 0.2 14.3 0.2 13.9 0.2 10.1 0.2 11.9 0.2 9.9 0.2 7.2 0.2 7.8 0.2 8.6 0.2 5.1 0.2 7.4 0.2 4.3 0.2 3.1 0.2-76.5 0.2 11.6 0.2 10.1 0.2 10.2 0.2 7.4 0.2 7.5 0.2 7.9 0.2 5.3 0.2 5.4 0.2 5.5 0.2 4.6 0.3 4.9 0.2 4.7 0.2 2.8 0.2 4.9 0.2 2.3 0.2 1.6 0.2 2.2 0.2 3.5 0.2 4.5 0.2-0.6 0.2 2.7 0.2 2.4 0.2 1.2 0.2 1.8 0.2 2.9 0.2 1.6 0.2-0.3 0.2 3.8 0.2-0.9 0.2 1.4 0.2 0.6 0.2 0.5 0.2 1.4 0.2 0.8 0.2 1.4 0.2 1.1 0.2 0.4 0.3 1.6 0.2 1.5 0.2 0.1 0.2 1.8 0.2-0.1 0.2-1.4 0.2 1.8 0.2 1.1 0.2 0.9 0.2 1.4 0.2-0.5 0.2 0.7 0.2-0.1 0.2 0.4 0.2 0.5 0.2 1.8 0.2-2.2 0.2 1.2 0.2 0.6 0.2 0.6 0.2-0.2 0.2-0.3 0.2 0.8 0.2 1.6 0.2 0.3 0.2 1.1 0.2-1.6 0.2-0.2 0.3-0.1 0.2 1 0.2-29.1 0.2 4 0.2 1.4 0.2 2.6 0.2 2.4 0.2 2.6 0.2-0.6 0.2-162.8 0.2 13.7 0.2 15.4 0.2 11.8 0.2 12.4 0.2 9.3 0.2 10.1 0.2 9.1 0.2 7.2 0.2 7.7 0.2 4.9 0.2 5.1 0.2 5.7 0.2 4.9 0.2 3.5 0.2 5.8 0.2 2.3 0.2 3.7 0.3 3.4 0.2 2.1 0.2 3.9 0.2 1.6 0.2 1.9 0.2 3.2 0.2 1.3 0.2 1.2 0.2 1.4 0.2 3 0.2 0.1 0.2 2.2 0.2-2.2 0.2 5 0.2 0.1 0.2 2.2 0.2 0.3 0.2 0.9 0.2 0.6 0.2 2.2 0.2-0.5 0.2 1.3 0.2-0.3 0.2 2.1 0.2 0.8 0.2 0.3 0.2 0.8 0.2 0.4 0.3 1.4 0.2 1.2 0.2 0 0.2-0.2 0.2-3.1 0.2 3.8 0.2 0.9 0.2-0.2 0.2 0.2 0.2-1.6 0.2 1.5 0.2 1.1 0.2 1.6 0.2-0.7 0.2 0.4 0.2-0.4 0.2-0.9 0.2 1.9 0.2 1.7 0.2-1.1 0.2 1.4 0.2-1.7 0.2 0 0.2 0.8 0.2 1.6 0.2-0.8 0.2-0.9 0.2 1.8 0.3-0.1 0.2-0.5 0.2 0 0.2 0.4 0.2 0 0.2 0.2 0.2 0.7 0.2-0.2 0.2-0.2 0.2 1.2 0.2-0.9 0.2 0.2 0.2-0.2 0.2 0.2 0.2 1.1 0.2 0.3 0.2-1.1 0.2 0.4 0.2-0.1 0.2 0.6 0.2 0.6 0.2-1.1 0.2 0.4 0.2-0.5 0.2-0.3 0.2-2.5 0.2 2.7 0.3 1.5 0.2-0.2 0.2 0 0.2 0.5 0.2 0.2 0.2-1.5 0.2 1.8 0.2-1.9 0.2-0.1 0.2-1.1 0.2 1.2 0.2-0.7 0.2-142.1 0.2 12.7 0.2 10.1 0.2 11.8 0.2 7.3 0.2 9.2 0.2 8.7 0.2 3.7 0.2 8.2 0.2 2.7 0.2 7.9 0.2 4 0.2 3.2 0.2 3.9 0.2 4.5 0.2 1.8 0.3 2.7 0.2 2.4 0.2 3.9 0.2 1.4 0.2 1.7 0.2 1.1 0.2 2.2 0.2 2 0.2 1.5 0.2-100.8 0.2 11.8 0.2 8.1 0.2 10 0.2 4.5 0.2 7.6 0.2 7.7 0.2 3.7 0.2 4.3 0.2 5 0.2 4.7 0.2 3.2 0.2 4.6 0.2 2.8 0.2 3 0.2 2.4 0.2 3.3 0.2 0.4 0.2 3.3 0.3 2.7 0.2 1.1 0.2 1.3 0.2 1.8 0.2 0.7 0.2 2.5 0.2 1.6 0.2 0.2 0.2 0.6 0.2 2.8 0.2-113.3 0.2 10.1 0.2 9.4 0.2 9.5 0.2 7 0.2 8 0.2 5.2 0.2 7.5 0.2 5.1 0.2 4.2 0.2 4 0.2 3.9 0.2 4.9 0.2 2.9 0.2 2.7 0.2-1 0.2 7.7 0.3 2.7 0.2 1 0.2 2.6 0.2 0.8 0.2 2.8 0.2-142.5 0.2 14.9 0.2 11.8 0.2 10.7 0.2 11.4 0.2 10 0.2 6.8 0.2 5.8 0.2 9.4 0.2 6.9 0.2 4.6 0.2 6.5 0.2 4.6 0.2 4.1 0.2 4.2 0.2 5.3 0.2 1.4 0.2 4.4 0.2 1.9 0.2 3.2 0.2 2.4 0.2 0.2 0.2 5.1 0.3-1 0.2 4 0.2 1.2 0.2 2.1 0.2 2.5 0.2 0.1 0.2 0.6 0.2 2.5 0.2 1.9 0.2 1.8 0.2 0.3 0.2 2.2 0.2-0.6 0.2 1.8 0.2 1.1 0.2 0.2 0.2-0.3 0.2 3.4 0.2-0.2 0.2-0.5 0.2 2.2 0.2-0.6 0.2 2.6 0.2-0.7 0.2 0.1 0.2-0.4 0.2 3.2 0.2-0.8 0.3 1.1 0.2-0.4 0.2 1 0.2 0 0.2-0.5 0.2 1.7 0.2-0.3 0.2-0.5 0.2 1.3 0.2 0.4 0.2 0.7 0.2-1.2 0.2 2.9 0.2 0.3 0.2-121.5 0.2 9.8 0.2 6.3 0.2 11.8 0.2 7.6 0.2 6.1 0.2 8.1 0.2 6.1 0.2 4 0.2 5.7 0.2 3.3 0.2 3.6 0.2 4.5 0.3 3.1 0.2 3 0.2 1.8 0.2 2.9 0.2 2.9 0.2 1.4 0.2 1 0.2 2.7 0.2 1.8 0.2 1.9 0.2 1.8 0.2 0.7 0.2 1.2 0.2 1.4 0.2 0 0.2 2.1 0.2 0.9 0.2 0.6 0.2 0.6 0.2 2.6 0.2-0.8 0.2-1.1 0.2 3.5 0.2-1.8 0.2 2.6 0.2 0.9 0.2-0.4 0.2 0.8 0.3 2 0.2-0.6 0.2-0.6 0.2 1.4 0.2-35 0.2 3.2 0.2 3.2 0.2 1.9 0.2 3.8 0.2 2.6 0.2 0.9 0.2 1.5 0.2 2 0.2 1.5 0.2 2.5 0.2 2 0.2 0.6 0.2 0.7 0.2 2.2 0.2 0 0.2 0.2 0.2 1.8 0.2-1.3 0.2 1.7 0.2 2.1 0.2 0.5 0.2 0.3 0.3-0.5 0.2 0.7 0.2 1.2 0.2-0.1 0.2 0 0.2 0.6 0.2 1.9 0.2 0 0.2 0.2 0.2 0.9 0.2-1.6 0.2 1.4 0.2 0.3 0.2 0.4 0.2-0.6 0.2-151.5 0.2 13.2 0.2 11.5 0.2 12.4 0.2 4.7 0.2 8.8 0.2 10.5 0.2 8.8 0.2 5.7 0.2 4.3 0.2 7.4 0.2 5.1 0.2 2.2 0.3 5.9 0.2 5.3 0.2 0.9 0.2 2.7 0.2 2.3 0.2 2.5 0.2 1.4 0.2 4.9 0.2 2.3 0.2 2.3 0.2-0.6 0.2 3.2 0.2 2.5 0.2 1.7 0.2-1.2 0.2 2.5 0.2 0.6 0.2-0.7 0.2 3.6 0.2 0.1 0.2 1.4 0.2 0.3 0.2 1.3 0.2 0.9 0.2 0.3 0.2 1.2 0.2 0.3 0.2 0.4 0.3 1.3 0.2-1.3 0.2 2 0.2 0.1 0.2 0.8 0.2 0.4 0.2 0.3 0.2 1 0.2-0.1 0.2 1.2 0.2 1.2 0.2-1.3 0.2 2.1 0.2-1 0.2-1 0.2 1 0.2 1.5 0.2-1 0.2 0.6 0.2 1.1 0.2-2.3 0.2 2.5 0.2 0.1 0.2-0.3 0.2 1.6 0.2-1.6 0.2-0.7 0.3 1.8 0.2 0.8 0.2-0.2 0.2-1.1 0.2 1.4 0.2-0.5 0.2-1.3 0.2 2.4 0.2-159 0.2 14.5 0.2 12.4 0.2 9.6 0.2 12.1 0.2 8.1 0.2 8.4 0.2 6.6 0.2 7.1 0.2 6.2 0.2 4.6 0.2 6.2 0.2 3.9 0.2 5.1 0.2 2.1 0.2 5.1 0.2 1.8 0.2-16.9 0.2 3.8 0.2 5 0.3 3.5 0.2 3.5 0.2 2.1 0.2 2.8 0.2 2.4 0.2 2.7 0.2 2.6 0.2-1.8 0.2 4.5 0.2 3.2 0.2 1.9 0.2 0.5 0.2 0.3 0.2 2.9 0.2 1.4 0.2 1.7 0.2 0.9 0.2 1.1 0.2 1 0.2-0.6 0.2 0.7 0.2 1.7 0.2 0.7 0.2 0.2 0.2 1.3 0.2 0.6 0.2 0.2 0.2 1.1 0.3-2.7 0.2 1.3 0.2 2.9 0.2 0.3 0.2 1.3 0.2 0.1 0.2 0 0.2 0.2 0.2 0.8 0.2 1.1 0.2-0.8 0.2 1 0.2-0.4 0.2 0.8 0 16 -0.2 0 -0.2 0 -0.2 0 -0.2 0 -0.2 0 -0.2 0 -0.2 0 -0.2 0 -0.2 0 -0.2 0 -0.2 0 -0.2 0 -0.2 0 -0.3 0 -0.2 0 -0.2 0 -0.2 0 -0.2 0 -0.2 0 -0.2-0.5 -0.2-1.7 -0.2-0.6 -0.2 0.6 -0.2-1 -0.2-1.2 -0.2-0.9 -0.2-1.6 -0.2-1.5 -0.2-2.9 -0.2-0.3 -0.2-0.5 -0.2-1.9 -0.2-3.2 -0.2-4.5 -0.2 1.9 -0.2-2.7 -0.2-2.7 -0.2-2.4 -0.2-2.8 -0.2-2.1 -0.2-3.5 -0.3-3.5 -0.2-5 -0.2-3.8 -0.2 17 -0.2-1.9 -0.2-5 -0.2-2.2 -0.2-5.1 -0.2-3.8 -0.2-6.2 -0.2-4.7 -0.2-6.2 -0.2-7 -0.2-6.7 -0.2-8.3 -0.2-8.2 -0.2-12.1 -0.2-9.5 -0.2-12.4 -0.2-14.5 -0.2 145.1 -0.2 0 -0.2 0 -0.2 0 -0.2 0 -0.2 0 -0.2 0 -0.2 0 -0.3 0 -0.2 0 -0.2 0 -0.2 0 -0.2 0 -0.2 0 -0.2 0 -0.2 0 -0.2 0 -0.2 0 -0.2 0 -0.2 0 -0.2 0 -0.2 0 -0.2 0 -0.2 0 -0.2 0 -0.2 0 -0.2 0 -0.2 0 -0.2 0 -0.2 0 -0.2 0 -0.2 0 -0.2 0 -0.2 0 -0.2 0 -0.3 0 -0.2 0 -0.2 0 -0.2 0 -0.2 0 -0.2-0.7 -0.2-1.4 -0.2-0.2 -0.2-1.5 -0.2 0 -0.2-3.7 -0.2 0.8 -0.2-0.7 -0.2-2.5 -0.2 1.2 -0.2-1.7 -0.2-2.5 -0.2-3.2 -0.2 0.6 -0.2-2.2 -0.2-2.4 -0.2-4.9 -0.2-1.4 -0.2-2.5 -0.2-2.3 -0.2-2.7 -0.2-0.8 -0.2-5.3 -0.3-5.9 -0.2-2.2 -0.2-5.2 -0.2-7.3 -0.2-4.4 -0.2-5.7 -0.2-8.8 -0.2-10.5 -0.2-8.8 -0.2-4.7 -0.2-12.3 -0.2-11.6 -0.2-13.2 -0.2 140.6 -0.2 0 -0.2 0 -0.2 0 -0.2 0 -0.2 0 -0.2 0 -0.2 0 -0.2 0 -0.2 0 -0.2 0 -0.2 0 -0.2 0 -0.2 0 -0.2 0 -0.3 0 -0.2 0 -0.2 0 -0.2 0 -0.2 0 -0.2 0 -0.2 0 -0.2 0 -0.2 0 -0.2-1.4 -0.2-0.6 -0.2-0.7 -0.2-1.9 -0.2-2.6 -0.2-1.5 -0.2-2 -0.2-1.5 -0.2-0.9 -0.2-2.6 -0.2-3.7 -0.2-2 -0.2-3.2 -0.2-3.2 -0.2 27.8 -0.2 0 -0.2 0 -0.2 0 -0.3 0 -0.2 0 -0.2 0 -0.2 0 -0.2 0 -0.2 0 -0.2-0.6 -0.2 0.6 -0.2 0 -0.2-1.2 -0.2-0.6 -0.2-0.7 -0.2-0.9 -0.2-2.1 -0.2 0.1 -0.2-1.5 -0.2-1.2 -0.2-0.6 -0.2-1.9 -0.2-1.9 -0.2-1.8 -0.2-2.7 -0.2-1 -0.2-1.4 -0.2-2.9 -0.2-2.9 -0.2-1.7 -0.2-3.1 -0.3-3 -0.2-4.6 -0.2-3.6 -0.2-3.2 -0.2-5.7 -0.2-4.1 -0.2-6.1 -0.2-8.1 -0.2-6.1 -0.2-7.6 -0.2-11.8 -0.2-6.3 -0.2-9.8 -0.2 110 -0.2 0 -0.2 0 -0.2 0 -0.2 0 -0.2 0 -0.2 0 -0.2 0 -0.2 0 -0.2 0 -0.2 0 -0.2 0 -0.2 0 -0.2 0 -0.3 0 -0.2 0 -0.2 0 -0.2 0 -0.2 0 -0.2 0 -0.2 0 -0.2 0 -0.2-0.6 -0.2 0.5 -0.2 0.1 -0.2-3.3 -0.2 0.4 -0.2-0.3 -0.2-1 -0.2-1.9 -0.2 0.7 -0.2-2.2 -0.2-0.4 -0.2-1.7 -0.2-2 -0.2-2.4 -0.2-0.7 -0.2-0.1 -0.2-2.5 -0.2-2 -0.2-1.3 -0.2-4 -0.3 1 -0.2-5 -0.2-0.3 -0.2-2.3 -0.2-3.2 -0.2-1.9 -0.2-4.5 -0.2-1.4 -0.2-5.3 -0.2-4.2 -0.2-4 -0.2-4.7 -0.2-6.5 -0.2-4.5 -0.2-6.9 -0.2-9.5 -0.2-5.7 -0.2-6.9 -0.2-10 -0.2-11.4 -0.2-10.7 -0.2-11.8 -0.2-14.9 -0.2 142.5 -0.2-2.8 -0.2-0.7 -0.2-2.7 -0.2-1 -0.3-2.7 -0.2-7.7 -0.2 1.1 -0.2-2.8 -0.2-2.9 -0.2-4.9 -0.2-3.9 -0.2-4 -0.2-4.1 -0.2-5.2 -0.2-7.5 -0.2-5.2 -0.2-7.9 -0.2-7.1 -0.2-9.5 -0.2-9.3 -0.2-10.2 -0.2 113.3 -0.2-2.8 -0.2-0.5 -0.2-0.3 -0.2-1.6 -0.2-2.5 -0.2-0.7 -0.2-1.8 -0.2-1.2 -0.2-1.2 -0.3-2.7 -0.2-3.2 -0.2-0.5 -0.2-3.3 -0.2-2.4 -0.2-3 -0.2-2.7 -0.2-4.7 -0.2-3.2 -0.2-4.7 -0.2-4.9 -0.2-4.4 -0.2-3.7 -0.2-7.7 -0.2-7.6 -0.2-4.4 -0.2-10 -0.2-8.2 -0.2-11.8 -0.2 100.8 -0.2-1.5 -0.2-2 -0.2-2.1 -0.2-1.2 -0.2-1.6 -0.2-1.4 -0.2-4 -0.2-2.3 -0.3-2.8 -0.2-1.8 -0.2-4.5 -0.2-3.8 -0.2-3.3 -0.2-3.9 -0.2-7.9 -0.2-2.7 -0.2-8.2 -0.2-3.8 -0.2-8.6 -0.2-9.3 -0.2-7.2 -0.2-11.9 -0.2-10.1 -0.2-12.6 -0.2 127.9 -0.2 0 -0.2 0 -0.2 0 -0.2 0 -0.2 0 -0.2 0 -0.2 0 -0.2 0 -0.2 0 -0.2 0 -0.2 0 -0.3 0 -0.2 0 -0.2 0 -0.2 0 -0.2 0 -0.2 0 -0.2 0 -0.2 0 -0.2 0 -0.2 0 -0.2 0 -0.2 0 -0.2 0 -0.2 0 -0.2 0 -0.2 0 -0.2 0 -0.2 0 -0.2 0 -0.2 0 -0.2 0 -0.2 0 -0.2 0 -0.2 0 -0.2 0 -0.2 0 -0.2 0 -0.3 0 -0.2 0 -0.2 0 -0.2 0 -0.2 0 -0.2 0 -0.2 0 -0.2 0 -0.2 0 -0.2 0 -0.2 0 -0.2 0 -0.2 0 -0.2 0 -0.2 0 -0.2 0 -0.2 0 -0.2 0 -0.2 0 -0.2 0 -0.2 0 -0.2 0 -0.2 0 -0.2 0 -0.2 0 -0.2 0 -0.2 0 -0.2 0 -0.3 0 -0.2 0 -0.2 0 -0.2 0 -0.2 0 -0.2-0.9 -0.2 0.3 -0.2-1.4 -0.2 0.6 -0.2-2.2 -0.2-0.7 -0.2-0.9 -0.2-0.3 -0.2-2.2 -0.2-0.1 -0.2-5 -0.2 2.3 -0.2-2.3 -0.2-0.1 -0.2-3 -0.2-1.4 -0.2-1.2 -0.2-1.2 -0.2-3.2 -0.2-1.9 -0.2-1.7 -0.2-3.9 -0.2-2 -0.3-3.4 -0.2-3.8 -0.2-2.3 -0.2-5.8 -0.2-3.4 -0.2-5 -0.2-5.7 -0.2-5.1 -0.2-4.8 -0.2-7.8 -0.2-7.2 -0.2-9 -0.2-10.1 -0.2-9.4 -0.2-12.4 -0.2-11.8 -0.2-15.3 -0.2-13.8 -0.2 162.9 -0.2 0.5 -0.2-2.6 -0.2-2.3 -0.2-2.7 -0.2-1.4 -0.2-3.9 -0.2 18 -0.2 0 -0.3 0 -0.2 0 -0.2 0 -0.2 0 -0.2 0 -0.2 0 -0.2 0 -0.2 0 -0.2 0 -0.2 0 -0.2 0 -0.2 0 -0.2 0 -0.2 0 -0.2 0 -0.2 0 -0.2 0 -0.2 0 -0.2 0 -0.2 0 -0.2 0 -0.2 0 -0.2 0 -0.2 0 -0.2 0 -0.2 0 -0.2 0 -0.2-1.4 -0.3-1.6 -0.2-0.4 -0.2-1.1 -0.2-1.5 -0.2-0.8 -0.2-1.3 -0.2-0.5 -0.2-0.7 -0.2-1.4 -0.2 0.9 -0.2-3.8 -0.2 0.3 -0.2-1.6 -0.2-2.9 -0.2-1.8 -0.2-1.1 -0.2-2.5 -0.2-2.7 -0.2 0.7 -0.2-4.5 -0.2-3.6 -0.2-2.2 -0.2-1.6 -0.2-2.2 -0.2-4.9 -0.2-2.9 -0.2-4.7 -0.3-4.9 -0.2-4.6 -0.2-5.4 -0.2-5.4 -0.2-5.3 -0.2-8 -0.2-7.4 -0.2-7.4 -0.2-10.2 -0.2-10.2 -0.2-11.5 -0.2 76.5 -0.2-3.2 -0.2-4.3 -0.2-7.4 -0.2-5 -0.2-8.7 -0.2-7.7 -0.2-7.2 -0.2-9.9 -0.2-12 -0.2-10 -0.2-13.9 -0.2-14.4 -0.2 147.1 -0.2-0.9 -0.2-2.4 -0.2-3.2 -0.3-2.2 -0.2-2.3 -0.2-4.2 -0.2-1.7 -0.2-4.7 -0.2-3 -0.2-4.1 -0.2-4.4 -0.2-5 -0.2-6.8 -0.2-4.7 -0.2-9 -0.2-7.4 -0.2-8 -0.2 86.2 -0.2 0 -0.2 0 -0.2 0 -0.2 0 -0.2 0 -0.2 0 -0.2 0 -0.2 0 -0.2 0 -0.2 0 -0.2 0 -0.2 0 -0.2 0 -0.3 0 -0.2 0 -0.2 0 -0.2 0 -0.2 0 -0.2 0 -0.2 0 -0.2 0 -0.2 0 -0.2 0 -0.2 0 -0.2 0 -0.2 0 -0.2 0 -0.2 0 -0.2 0 -0.2 0 -0.2 0 -0.2 0 -0.2 0 -0.2 0 -0.2 0 -0.2 0 -0.2 0 -0.2 0 -0.2 0 -0.2 0 -0.3 0 -0.2 0 -0.2 0 -0.2 0 -0.2 0 -0.2 0 -0.2 0 -0.2 0 -0.2 0 -0.2 0 -0.2 0 -0.2 0 -0.2 0 -0.2 0 -0.2 0 -0.2 0 -0.2 0 -0.2 0 -0.2 0 -0.2 0 -0.2 0 -0.2 0 -0.2 0 -0.2 0 -0.2 0 -0.2 0 -0.2 0 -0.2 0 -0.3 0 -0.2 0 -0.2 0 -0.2 0 -0.2 0 -0.2 0 -0.2 0 -0.2 0 -0.2 0 -0.2 0 -0.2 0 -0.2 0 -0.2 0 -0.2 0 -0.2 0 -0.2 0 -0.2 0 -0.2 0 -0.2 0 -0.2 0 -0.2 0 -0.2 0 -0.2 0 -0.2 0 -0.2 0 -0.2 0 -0.2 0 -0.2 0 -0.3 0 -0.2 0 -0.2 0 -0.2 0 -0.2 0 -0.2 0 -0.2 0 -0.2-2.9 -0.2 2.9 -0.2-2 -0.2-0.1 -0.2-1.5 -0.2-2.3 -0.2 0.2 -0.2-1.7 -0.2-2.1 -0.2-0.8 -0.2-2.5 -0.2-2.1 -0.2-2.1 -0.2-1.8 -0.2-2.2 -0.2-2.1 -0.2-3.3 -0.2-3.7 -0.2-3.9 -0.2-2.4 -0.3-7.1 -0.2-2.8 -0.2-6 -0.2-4.8 -0.2-7 -0.2 64.1 -0.2 0 -0.2 0 -0.2 0 -0.2 0 -0.2-0.5 -0.2-1.3 -0.2-0.9 -0.2 0.4 -0.2-0.1 -0.2-1.4 -0.2-0.7 -0.2-1.8 -0.2-1.9 -0.2 0 -0.2-0.4 -0.2-2.4 -0.2-1.8 -0.2-2.1 -0.2-2.2 -0.2-1.5 -0.2-2.1 -0.2-2.3 -0.3-2 -0.2-3.6 -0.2-3.6 -0.2-1.7 -0.2-3.5 -0.2-5.5 -0.2-3.2 -0.2-4.9 -0.2-4.8 -0.2-6.7 -0.2-6.6 -0.2 43.6 -0.2-2.1 -0.2-2.3 -0.2-3.2 -0.2-2.8 -0.2-5.8 -0.2-4.1 -0.2-3.7 -0.2-6.7 -0.2-7.3 -0.2-5.2 -0.2 67.3 -0.2-0.7 -0.2-2.1 -0.2-0.5 -0.2-1.1 -0.2-0.2 -0.3-4.4 -0.2 0.5 -0.2 0.3 -0.2-1.9 -0.2-1.2 -0.2-2.3 -0.2-1.5 -0.2-0.1 -0.2-3.7 -0.2-2.9 -0.2-1.3 -0.2-1.9 -0.2-1.1 -0.2-3.8 -0.2-3.5 -0.2-2.4 -0.2-2.5 -0.2-4.6 -0.2-3.9 -0.2-3.5 -0.2-9.5 -0.2-2.2 -0.2-5.7 -0.2-5.1 -0.2-7.6 -0.2-9.5 -0.2-8 -0.3-9.9 -0.2-9.1 -0.2-14.7 -0.2-9.7 -0.2 138.3 -0.2-1.2 -0.2-3.1 -0.2-0.2 -0.2 0 -0.2-0.9 -0.2-1.5 -0.2-2.1 -0.2-1.5 -0.2 0.5 -0.2-2.1 -0.2-1.6 -0.2-2.1 -0.2-0.3 -0.2-2.6 -0.2-2.3 -0.2-1.7 -0.2-1.1 -0.2-3.1 -0.2-3.5 -0.2-2.5 -0.2-4.3 -0.2-3.7 -0.2-5.2 -0.3 0.2 -0.2-3.8 -0.2-5 -0.2-3.7 -0.2-3.2 -0.2-8.8 -0.2-5.2 -0.2-6.3 -0.2-7 -0.2-7.5 -0.2-8.3 -0.2-10.1 -0.2-10.6 -0.2-11.3 -0.2-14.6 -0.2-9.9 -0.2-15.6 -0.2-16.9 -0.2 166.8 -0.2-1.7 -0.2-4.1 -0.2-2.6 -0.2-3.4 -0.2-3.4 -0.2-4.7 -0.2-4.5 -0.2-4.6 -0.3-6 -0.2-5.4 -0.2-6.1 -0.2-8.8 -0.2-7.9 -0.2-7.1 -0.2-8.4 -0.2-11 -0.2-12.8 -0.2-12 -0.2-14.4 -0.2-17.3 -0.2-16 -0.2-7.8 -0.2 191.5 -0.2-0.9 -0.2-3.6 -0.2-1.1 -0.2-4.1 -0.2 19.5 -0.2 0 -0.2 0 -0.2 0 -0.2 0 -0.2 0 -0.2 0 -0.2 0 -0.2 0 -0.3 0 -0.2 0 -0.2 0 -0.2 0 -0.2 0 -0.2 0 -0.2 0 -0.2 0 -0.2 0 -0.2 0 -0.2 0 -0.2 0 -0.2 0 -0.2 0 -0.2 0 -0.2 0 -0.2 0 -0.2-0.4 -0.2-1.2 -0.2-0.7 -0.2 0.3 -0.2-1.9 -0.2-1.4 -0.2-1.8 -0.2-1.5 -0.2-1 -0.2-1.5 -0.2-0.6 -0.3-3.4 -0.2 0 -0.2-1.6 -0.2-3.1 -0.2-3.6 -0.2 0 -0.2-3.4 -0.2-2.2 -0.2-3.7 -0.2-3.9 -0.2-3 -0.2-6.2 -0.2-3.8 -0.2-5.7 -0.2-4.5 -0.2-6.4 -0.2-6 -0.2 62.8 -0.2-0.5 -0.2-0.2 -0.2-1.3 -0.2-1.9 -0.2-2.9 -0.2-1.1 -0.2-1.6 -0.2-1.9 -0.2-3.7 -0.3-1.6 -0.2-5.5 -0.2-2.8 -0.2-3.4 -0.2-2.8 -0.2-4.7 -0.2-6.4 -0.2-5.7 -0.2 45.3 -0.2-0.6 -0.2-2.2 -0.2-1.8 -0.2-3.7 -0.2-1.1 -0.2-4.2 -0.2-0.9 -0.2-3.7 -0.2-4.2 -0.2-3.3 -0.2-4.6 -0.2-4.2 -0.2-5.8 -0.2-4.9 -0.2-6 -0.2 63.3 -0.2 0 -0.2 0 -0.2 0 -0.3 0 -0.2-4.1 -0.2 3.5 -0.2-0.8 -0.2 0 -0.2-1.1 -0.2-1.4 -0.2-1.4 -0.2-0.3 -0.2-1.7 -0.2-1.6 -0.2-0.6 -0.2-0.9 -0.2-0.1 -0.2-3.2 -0.2-2.2 -0.2 0.3 -0.2-4.8 -0.2-1.3 -0.2-2.6 -0.2 0.1 -0.2-6.1 -0.2-0.9 -0.2-4.4 -0.2-3.4 -0.2-2.2 -0.2-4.3 -0.2-3.6 -0.3-6.9 -0.2-4.2 -0.2-5.3 -0.2-8.2 -0.2-6.4 -0.2-9.2 -0.2-8.5 -0.2-8.6 -0.2 100.9 -0.2-0.8 -0.2-0.6 -0.2-1.6 -0.2-0.6 -0.2-2.6 -0.2-1.9 -0.2-1.3 -0.2-1.5 -0.2-2.4 -0.2-0.6 -0.2-4.2 -0.2-1.7 -0.2-3.5 -0.2-4 -0.2-3.6 -0.2-2.5 -0.2-3.5 -0.2-4.5 -0.3-5.2 -0.2-4.9 -0.2-4.8 -0.2-5.7 -0.2-8.5 -0.2-7.8 -0.2-8.9 -0.2-8.7 -0.2-11.7 -0.2-12.6 -0.2 125.7 -0.2 0 -0.2 0 -0.2 0 -0.2 0 -0.2 0 -0.2 0 -0.2 0 -0.2 0 -0.2 0 -0.2 0 -0.2 0 -0.2 0 -0.2 0 -0.2 0 -0.2 0 -0.2 0 -0.2 0 -0.3 0 -0.2 0 -0.2 0 -0.2 0 -0.2 0 -0.2 0 -0.2 0 -0.2-1.7 -0.2 0.8 -0.2 0.5 -0.2-3.7 -0.2-0.3 -0.2-1.3 -0.2 5.4 -0.2-0.8 -0.2-1.7 -0.2-0.4 -0.2-1.3 -0.2-1.2 -0.2-0.1 -0.2-2.2 -0.2-1.3 -0.2-0.4 -0.2-2.3 -0.2-0.5 -0.2-3 -0.2-1.7 -0.2-2.2 -0.3-2.7 -0.2-2.4 -0.2-1.6 -0.2-4.3 -0.2-3.9 -0.2-2.1 -0.2 20.2 -0.2-3.6 -0.2-0.6 -0.2-1.3 -0.2-5.7 -0.2-2 -0.2-3.2 -0.2-2.3 -0.2 20.8 -0.2-2.3 -0.2 0.3 -0.2-3.4 -0.2-1 -0.2-2.1 -0.2-3.2 -0.2 0 -0.2-4.3 -0.2 0.5 -0.2-3.2 -0.2-0.7 -0.2-5.8 -0.3-1 -0.2-3.5 -0.2-3.1 -0.2-3.8 -0.2-3.9 -0.2-3.3 -0.2-4.9 -0.2-5.5 -0.2-5.8 -0.2-4.1 -0.2-5.5 -0.2-6.6 -0.2-8.5 -0.2-10 -0.2-7.6 -0.2-9.3 -0.2-11.8 -0.2-13.1 -0.2-12 -0.2-14 -0.2-16.9 -0.2-7.8 -0.2 150.6 -0.2-1.4 -0.2-5.1 -0.2-5.9 -0.2-6.3 -0.2-8.2 -0.3-3.3 -0.2-8 -0.2-6.2 -0.2-8.2 -0.2-8.5 -0.2-9 -0.2-12 -0.2-12.1 -0.2-13.8 -0.2-15 -0.2-16.6 -0.2-11 -0.2 129 -0.2-5 -0.2-10.6 -0.2-9.6 -0.2-8 -0.2-11.1 -0.2 116.6 -0.2 0 -0.2 0 -0.2 0 -0.2 0 -0.2 0 -0.2 0 -0.2 0 -0.2 0 -0.3 0 -0.2 0 -0.2 0 -0.2 0 -0.2 0 -0.2 0 -0.2 0 -0.2 0 -0.2 0 -0.2 0 -0.2 0 -0.2 0 -0.2 0 -0.2 0 -0.2 0 -0.2 0 -0.2 0 -0.2 0 -0.2 0 -0.2 0 -0.2 0 -0.2 0 -0.2 0 -0.2 0 -0.2 0 -0.2 0 -0.2 0 -0.2-0.4 -0.3-1.1 -0.2 0 -0.2-2.8 -0.2-0.6 -0.2 1.4 -0.2-1.5 -0.2-2.3 -0.2 0.7 -0.2-1.4 -0.2-1.1 -0.2-2.9 -0.2-0.5 -0.2-1.6 -0.2-1.8 -0.2-2.1 -0.2-0.7 -0.2-2.6 -0.2-1.2 -0.2-4.6 -0.2-0.2 -0.2-2.7 -0.2-4.5 -0.2-1.1 -0.2-5 -0.2-4.4 -0.2-3.1 -0.2-4.1 -0.2-4.7 -0.3-4.5 -0.2-7.9 -0.2 28.7 -0.2-4.2 -0.2-4.1 -0.2-3.6 -0.2-5.9 -0.2-3.7 -0.2-5.1 -0.2-7 -0.2-6.4 -0.2-8 -0.2-9.5 -0.2-9.6 -0.2-8.3 -0.2-11.3 -0.2 111.6 -0.2-0.3 -0.2-1.3 -0.2-2.6 -0.2-2 -0.2-2.8 -0.2-1.3 -0.2-3 -0.2-4.4 -0.2-1.5 -0.2-2.8 -0.3-3.8 -0.2-4.1 -0.2-3.1 -0.2-7.4 -0.2-7.1 -0.2-4.2 -0.2-5.5 -0.2-7.2 -0.2-8.8 -0.2-7.9 -0.2 70.7 -0.2-2.8 -0.2-4.6 -0.2-2.4 -0.2-4.1 -0.2-5.5 -0.2-3.2 -0.2-4.1 -0.2-6 -0.2-5.5 -0.2-7.7 -0.2-6.8 -0.2-7.3 -0.2-9.8 -0.2-10.3 -0.2-11.2 -0.2-13 -0.2 128.5 -0.3-0.7 -0.2 0.2 -0.2-0.4 -0.2-0.3 -0.2 0.4 -0.2-0.7 -0.2-0.7 -0.2 1 -0.2-2 -0.2-0.1 -0.2-0.1 -0.2-0.2 -0.2-0.3 -0.2-0.1 -0.2-1.5 -0.2 0.3 -0.2 0.1 -0.2-0.9 -0.2-1.2 -0.2 0.4 -0.2 0 -0.2 0.2 -0.2 6.4 -0.2-1.1 -0.2-0.4 -0.2 0.1 -0.2 1.8 -0.2-2.3 -0.3 0.9 -0.2-0.8 -0.2 0.7 -0.2-0.9 -0.2-1.2 -0.2 1 -0.2-0.7 -0.2 0.4 -0.2 0.1 -0.2-1.5 -0.2 0.1 -0.2 5.9 -0.2-1.2 -0.2 1.2z" stroke-width="1.2"/>
<path d="M117 269.8l0.2-1.2 0.2 1.2 0 0 -0.2 0 -0.2 0z M117.4 269.8l0.2-5.9 0.2-0.1 0.2 1.5 0.2-0.1 0.2-0.4 0.2 0.7 0.2-1 0.2 1.2 0.2 0.9 0.2-0.7 0.2 0.8 0.3-0.9 0.2 2.3 0.2-1.8 0.2-0.1 0.2 0.4 0.2 1.1 0.2-6.4 0.2-0.2 0.2 0 0.2-0.4 0.2 1.2 0.2 0.9 0.2-0.1 0.2-0.3 0.2 1.5 0.2 0.1 0.2 0.3 0.2 0.2 0.2 0.1 0.2 0.1 0.2 2 0.2-1 0.2 0.7 0.2 0.7 0.2-0.4 0.2 0.3 0.2 0.4 0.2-0.2 0.3 0.7 0.2-64.4 0.2 3.6 0.2 3.3 0.2 3.3 0.2 3.2 0.2 2 0.2 3.2 0.2 2.8 0.2 2.3 0.2 3.4 0.2 1.1 0.2 4.1 0.2 1.4 0.2 2.9 0.2 1.3 0.2 1.4 0.2 2 0.2-32.9 0.2 4.5 0.2 3.1 0.2 3.4 0.2 3.5 0.2 1.8 0.2 2.3 0.2 4.2 0.2 3 0.2 2.2 0.3 1.5 0.2 1.8 0.2 1.8 0.2 3.8 0.2 1.5 0.2 0.8 0.2 1.6 0.2 2.2 0.2 1.7 0.2 0.9 0.2 2.1 0.2-51.1 0.2 2.2 0.2 4.1 0.2 4.5 0.2 3.4 0.2 3.9 0.2 1.8 0.2 3.8 0.2 2.6 0.2 3.6 0.2 3.3 0.2 0.6 0.2 3.6 0.2 2 0.2-12.1 0.2 2.6 0.3 3.6 0.2 3.9 0.2 1.3 0.2 3.1 0.2 2.1 0.2 1.4 0.2 2.6 0.2 2.4 0.2 1.8 0.2 1.5 0.2 1.2 0.2 1.8 0.2 3.2 0.2 0.4 0.2 1.1 0 0 -0.2 0 -0.2 0 -0.2-0.2 -0.2-1.8 -0.2-1.2 -0.2-1.5 -0.2-1.8 -0.2-2.4 -0.2-2.6 -0.2-1.4 -0.2-2.1 -0.2-3.1 -0.2-1.3 -0.2-3.9 -0.3-3.6 -0.2-2.6 -0.2 12.1 -0.2-2 -0.2-3.6 -0.2-0.6 -0.2-3.3 -0.2-3.6 -0.2-2.6 -0.2-3.8 -0.2-1.8 -0.2-3.9 -0.2-3.4 -0.2-4.5 -0.2-4.1 -0.2-2.2 -0.2 51.1 -0.2-2.1 -0.2-0.9 -0.2-1.7 -0.2-2.2 -0.2-1.6 -0.2-0.8 -0.2-1.5 -0.2-3.8 -0.2-1.8 -0.2-1.8 -0.3-1.5 -0.2-2.2 -0.2-3 -0.2-4.2 -0.2-2.3 -0.2-1.8 -0.2-3.5 -0.2-3.4 -0.2-3.1 -0.2-4.5 -0.2 32.9 -0.2-2 -0.2-1.4 -0.2-1.3 -0.2-2.9 -0.2-1.4 -0.2-4.1 -0.2-1.1 -0.2-3.4 -0.2-2.3 -0.2-2.8 -0.2-3.2 -0.2-2 -0.2-3.2 -0.2-3.3 -0.2-3.3 -0.2-3.6 -0.2 61.8 -0.3 0 -0.2 0 -0.2 0 -0.2 0 -0.2 0 -0.2 0 -0.2 0 -0.2 0 -0.2-0.6 -0.2-0.1 -0.2-0.1 -0.2-0.2 -0.2-0.3 -0.2 0 -0.2-1.6 -0.2 0.3 -0.2 0.1 -0.2-0.9 -0.2-1.2 -0.2 0.4 -0.2 0 -0.2 0.2 -0.2 4 -0.2 0 -0.2 0 -0.2 0 -0.2 0 -0.2 0 -0.3 0 -0.2 0 -0.2 0 -0.2 0 -0.2-0.8 -0.2 0.8 -0.2-0.5 -0.2 0.4 -0.2 0.1 -0.2-1.5 -0.2 0.1 -0.2 1.4z M149.8 269.8l0.2-36.6 0.2 3.6 0.2 3.1 0.2 3.3 0.2 2.9 0.2 1.7 0.2-63.2 0.2 6.6 0.2 4.9 0.2 5.4 0.2 4.9 0.2 3.9 0.2 6 0.2 3.2 0.2 4.5 0.2 4.6 0.2 3.4 0.2 4 0.3 3.9 0.2 4.4 0.2 2.9 0.2 2.9 0.2 2.6 0.2 2.7 0.2-73.1 0.2 7.2 0.2 5.1 0.2 6.2 0.2 5.7 0.2 6 0.2 5 0.2 4.6 0.2 5.3 0.2 4.2 0.2 5.4 0.2 2.7 0.2 4 0.2 4.3 0.2 2.4 0.2 3.3 0.2 4 0.2 3.8 0.2 2.2 0.2 3 0.2 2.3 0.2 0.8 0 0 -0.2 0 -0.2 0 -0.2-1.5 -0.2-2.3 -0.2-3.8 -0.2-4 -0.2-3.3 -0.2-2.4 -0.2-4.3 -0.2-4 -0.2-2.7 -0.2-5.4 -0.2-4.2 -0.2-5.3 -0.2-4.6 -0.2-5 -0.2-6 -0.2-5.7 -0.2-6.2 -0.2-5.1 -0.2-7.2 -0.2 73.1 -0.2-2.7 -0.2-2.6 -0.2-2.9 -0.2-2.9 -0.2-4.4 -0.3-3.9 -0.2-4 -0.2-3.4 -0.2-4.6 -0.2-4.5 -0.2-3.2 -0.2-6 -0.2-3.9 -0.2-4.9 -0.2-5.4 -0.2-4.9 -0.2-6.6 -0.2 63.2 -0.2-1.7 -0.2-2.9 -0.2-3.3 -0.2-3.1 -0.2-3.6 -0.2 32.1z M174 269.8l0.2-18.7 0.2 4 0.2 3.1 0.2 3.1 0.2 1.3 0.2 4.2 0.2 2.2 0.2 0.8 0 0 -0.2 0 -0.2 0 -0.2-2.7 -0.2-1.3 -0.2-3.1 -0.2-3.1 -0.2-4 -0.2 14.2z M179.9 269.8l0.2-16.1 0.2 3.7 0.2 2.5 0.2 2.8 0.2 2.6 0.2 2.9 0.2 1.6 0 0 -0.2 0 -0.2 0 -0.2-2.6 -0.2-2.8 -0.2-2.5 -0.2-3.7 -0.2 11.6z M207 269.8l0.2-60.1 0.2 4.1 0.2 4.8 0.2 4.9 0.2 4.6 0.2 5.2 0.2 3.5 0.2 3.9 0.2 3.4 0.2 3.9 0.2 3 0.2 3.9 0.2 3 0.2 2.8 0.3 3.3 0.2 2 0.2 3.8 0 0 -0.2 0 -0.2-1.2 -0.3-3.4 -0.2-2.8 -0.2-3 -0.2-3.9 -0.2-3 -0.2-3.9 -0.2-3.4 -0.2-3.9 -0.2-3.5 -0.2-5.2 -0.2-4.6 -0.2-4.9 -0.2-4.8 -0.2-4.1 -0.2 55.6z M211.7 269.8l0.2-64.1 0.2 5.8 0.2 3.9 0.2 6.8 0.2 4.9 0.2 4.5 0.2 5 0.2 4.9 0.2 4.7 0.2 3.8 0.2 3.3 0.2 3.8 0.2 3.2 0.2 3.4 0.2 2.4 0.2 3.6 0 0.1 -0.2 0 -0.2-1.6 -0.2-3.3 -0.2-3.3 -0.2-3.8 -0.2-3.3 -0.2-3.8 -0.2-4.7 -0.2-4.9 -0.2-5 -0.2-4.5 -0.2-4.9 -0.2-6.8 -0.2-3.9 -0.2-5.8 -0.2 59.6z M220.2 269.8l0.2-17.9 0.2 2.9 0.2 4.8 0.2 2.8 0.3 4.4 0.2 0.9 0.2 2.1 0 0 -0.2 0 -0.2 0 -0.3-2.9 -0.2-2.8 -0.2-4.8 -0.2-2.9 -0.2 13.4z M263.2 269.8l0.2-16.1 0.2 3.5 0.2 3.5 0.2 0.1 0.2 2.9 0.2 1.3 0.2 2.4 0.2 1.5 0.2 0.9 0 0 -0.2 0 -0.2 0 -0.2-0.3 -0.2-1.3 -0.2-2.9 -0.2-0.1 -0.2-3.5 -0.2-3.5 -0.2 11.6z M266.9 269.8l0.2-54 0.2 2.1 0.2 7.4 0.2 2.2 0.2 5.1 0.2 3.4 0.2 4.5 0.2 2.9 0.2 2.6 0.2 2.7 0.2 2.5 0.2 2.7 0.2 3.6 0.2-34.4 0.2 3.2 0.2 4.7 0.2 4.9 0.2 1.9 0.2 4.2 0.2 3.3 0.2 4.1 0.2 3.7 0.2 2.1 0.2 3.6 0.3 1.6 0.2 3.9 0.2 2.5 0.2 1.4 0.2 1.6 0 0 -0.2 0 -0.2 0 -0.2-1 -0.2-3.9 -0.3-1.6 -0.2-3.6 -0.2-2.1 -0.2-3.7 -0.2-4.1 -0.2-3.3 -0.2-4.2 -0.2-1.9 -0.2-4.9 -0.2-4.7 -0.2-3.2 -0.2 34.4 -0.2-3.6 -0.2-2.6 -0.2-2.6 -0.2-2.7 -0.2-2.6 -0.2-2.9 -0.2-4.5 -0.2-3.4 -0.2-5.1 -0.2-2.2 -0.2-7.4 -0.2-2.1 -0.2 49.5z M284.8 269.8l0.2-45.1 0.2 4.9 0.2 3.4 0.2 3.3 0.2 4 0.2 4 0.2 2.3 0.2 4.9 0.2 1.5 0.2 4.2 0.2 1.9 0.2 3.4 0.2 2.9 0.2 1.2 0.2 3.2 0 0 -0.2 0 -0.2 0 -0.2-2.8 -0.2-3.4 -0.2-1.9 -0.2-4.2 -0.2-1.5 -0.2-4.9 -0.2-2.3 -0.2-4 -0.2-4 -0.2-3.3 -0.2-3.4 -0.2-4.9 -0.2 40.6z M307.8 269.8l0.2-31.5 0.2 3.4 0.2 3 0.2 4.2 0.2 1.7 0.2 1.7 0.2 2.5 0.2 1.7 0.2 2.6 0.2 3 0.2 2.7 0.2 1.4 0.2 1.2 0.2 1.5 0.2 0.7 0 0.2 -0.2 0 -0.2 0 -0.2 0 -0.2-0.5 -0.2-2.7 -0.2-3 -0.2-2.6 -0.2-1.7 -0.2-2.5 -0.2-1.6 -0.2-1.8 -0.2-4.2 -0.2-3 -0.2-3.3 -0.2 26.9z M312.9 269.8l0.2-30.1 0.2 3.8 0.2 2.2 0.2 3.2 0.2 3 0.2 1.9 0.2 2.8 0.2 3.2 0.2 3.1 0.2 2.5 0.2 1.1 0.2 2.4 0.2 0.9 0 0 -0.2 0 -0.2 0 -0.2 0 -0.2-2.4 -0.2-3.1 -0.2-3.2 -0.2-2.8 -0.2-1.9 -0.2-3 -0.2-3.2 -0.2-2.2 -0.2-3.8 -0.2 25.6z M318.8 269.8l0.2-29.3 0.2 3.4 0.2 2.9 0.2 3.1 0.2 3.2 0.2 3.1 0.2 3 0.2 2.1 0.2 3 0.2 2.5 0.2 1.3 0.2 1.7 0 0 -0.2 0 -0.2 0 -0.2-1 -0.2-3 -0.2-2.1 -0.2-3 -0.2-3.1 -0.2-3.2 -0.2-3.1 -0.2-2.9 -0.2-3.4 -0.2 24.8z M323.3 269.8l0.2-46.4 0.2 4.2 0.2 4.1 0.2 4.4 0.2 4.9 0.2 3.8 0.2 3.4 0.2 3.1 0.2 4.3 0.2 3.6 0.2 2 0.2 2.4 0.2 2.5 0.2 3 0.2 0.7 0 0 -0.2 0 -0.2 0 -0.2-1.7 -0.2-2.4 -0.2-2 -0.2-3.6 -0.2-4.3 -0.2-3.1 -0.2-3.4 -0.2-3.8 -0.2-4.9 -0.2-4.4 -0.2-4.1 -0.2-4.2 -0.2 41.9z M336.5 269.8l0.2-11.5 0.2 3.3 0.2 2.7 0.2 1.1 0.2 3.8 0.2 0.6 0 0 -0.2 0 -0.2 0 -0.2-1 -0.2-2.7 -0.2-3.3 -0.2 7z M353.4 269.8l0.2-30.8 0.2 3 0.2 3.8 0.2 2.4 0.2 3.2 0.2 3.3 0.2 2.7 0.2 2.4 0.2 3.2 0.2 1.8 0.2 2.9 0.2 1.9 0 0.2 -0.2 0 -0.2-0.5 -0.2-1.8 -0.2-3.2 -0.2-2.4 -0.2-2.7 -0.2-3.3 -0.2-3.2 -0.2-2.4 -0.2-3.8 -0.2-3 -0.2 26.3z M368.9 269.8l0.2-33.3 0.2 3.9 0.2 2.2 0.2 2.8 0.2 4.5 0.2 3 0.2 1.9 0.2 3.1 0.2 1.7 0.2 3.2 0.2 1.7 0.2 2.4 0.2 1.9 0.2 1 0 0 -0.2 0 -0.2 0 -0.2-0.8 -0.2-1.7 -0.2-3.2 -0.2-1.7 -0.2-3.1 -0.2-1.9 -0.2-3 -0.2-4.5 -0.2-2.8 -0.2-2.2 -0.2-3.9 -0.2 28.8z M372.3 269.8l0.2-0.8 0.2 0.8 0 0 -0.2 0 -0.2 0z" stroke-width="1.4"/>
<line x1="117.53" y1="269.8" x2="117.53" y2="248.77" stroke="#ff0000" stroke-width="1.9"/>
<line x1="120.97" y1="269.8" x2="120.97" y2="239.46" stroke="#ff0000" stroke-width="1.9"/>
<line x1="125.73" y1="269.8" x2="125.73" y2="112.39" stroke="#ff0000" stroke-width="1.9"/>
<line x1="129.17" y1="269.8" x2="129.17" y2="144.98" stroke="#ff0000" stroke-width="1.9"/>
<line x1="133.4" y1="269.8" x2="133.4" y2="110.14" stroke="#ff0000" stroke-width="1.9"/>
<line x1="136.31" y1="269.8" x2="136.31" y2="175.17" stroke="#ff0000" stroke-width="1.9"/>
<line x1="149.8" y1="269.8" x2="149.8" y2="114.34" stroke="#ff0000" stroke-width="1.9"/>
<line x1="151.12" y1="269.8" x2="151.12" y2="43" stroke="#ff0000" stroke-width="1.9"/>
<line x1="154.82" y1="269.8" x2="154.82" y2="43" stroke="#ff0000" stroke-width="1.9"/>
<line x1="161.97" y1="269.8" x2="161.97" y2="208.97" stroke="#ff0000" stroke-width="1.9"/>
<line x1="163.55" y1="269.8" x2="163.55" y2="206.72" stroke="#ff0000" stroke-width="1.9"/>
<line x1="167.78" y1="269.8" x2="167.78" y2="237.96" stroke="#ff0000" stroke-width="1.9"/>
<line x1="174.13" y1="269.8" x2="174.13" y2="113.29" stroke="#ff0000" stroke-width="1.9"/>
<line x1="179.95" y1="269.8" x2="179.95" y2="128.61" stroke="#ff0000" stroke-width="1.9"/>
<line x1="188.15" y1="269.8" x2="188.15" y2="176.38" stroke="#ff0000" stroke-width="1.9"/>
<line x1="191.32" y1="269.8" x2="191.32" y2="182.83" stroke="#ff0000" stroke-width="1.9"/>
<line x1="195.03" y1="269.8" x2="195.03" y2="165.56" stroke="#ff0000" stroke-width="1.9"/>
<line x1="206.14" y1="269.8" x2="206.14" y2="224.74" stroke="#ff0000" stroke-width="1.9"/>
<line x1="207.19" y1="269.8" x2="207.19" y2="43" stroke="#ff0000" stroke-width="1.9"/>
<line x1="211.69" y1="269.8" x2="211.69" y2="43" stroke="#ff0000" stroke-width="1.9"/>
<line x1="220.42" y1="269.8" x2="220.42" y2="98.72" stroke="#ff0000" stroke-width="1.9"/>
<line x1="227.83" y1="269.8" x2="227.83" y2="170.97" stroke="#ff0000" stroke-width="1.9"/>
<line x1="230.21" y1="269.8" x2="230.21" y2="175.62" stroke="#ff0000" stroke-width="1.9"/>
<line x1="237.08" y1="269.8" x2="237.08" y2="178.93" stroke="#ff0000" stroke-width="1.9"/>
<line x1="254.54" y1="269.8" x2="254.54" y2="242.76" stroke="#ff0000" stroke-width="1.9"/>
<line x1="263.27" y1="269.8" x2="263.27" y2="150.39" stroke="#ff0000" stroke-width="1.9"/>
<line x1="266.97" y1="269.8" x2="266.97" y2="78.6" stroke="#ff0000" stroke-width="1.9"/>
<line x1="269.62" y1="269.8" x2="269.62" y2="109.09" stroke="#ff0000" stroke-width="1.9"/>
<line x1="283.37" y1="269.8" x2="283.37" y2="223.99" stroke="#ff0000" stroke-width="1.9"/>
<line x1="284.96" y1="269.8" x2="284.96" y2="71.69" stroke="#ff0000" stroke-width="1.9"/>
<line x1="307.97" y1="269.8" x2="307.97" y2="113.89" stroke="#ff0000" stroke-width="1.9"/>
<line x1="312.99" y1="269.8" x2="312.99" y2="130.71" stroke="#ff0000" stroke-width="1.9"/>
<line x1="318.81" y1="269.8" x2="318.81" y2="115.54" stroke="#ff0000" stroke-width="1.9"/>
<line x1="323.31" y1="269.8" x2="323.31" y2="74.24" stroke="#ff0000" stroke-width="1.9"/>
<line x1="336.54" y1="269.8" x2="336.54" y2="123.81" stroke="#ff0000" stroke-width="1.9"/>
<line x1="345.79" y1="269.8" x2="345.79" y2="214.38" stroke="#ff0000" stroke-width="1.9"/>
<line x1="353.46" y1="269.8" x2="353.46" y2="93.77" stroke="#ff0000" stroke-width="1.9"/>
<line x1="369.07" y1="269.8" x2="369.07" y2="98.12" stroke="#ff0000" stroke-width="1.9"/>
<line x1="372.51" y1="269.8" x2="372.51" y2="194.85" stroke="#ff0000" stroke-width="1.9"/>
</g>
<rect x="525.5" y="49.5" width="443.0" height="221.10000000000002" fill="none" stroke="#c0c0c0" stroke-width="1"/>
<line x1="525.5" y1="270.6" x2="530" y2="270.6" stroke="#c0c0c0" stroke-width="1"/>
<line x1="968.5" y1="270.6" x2="964" y2="270.6" stroke="#c0c0c0" stroke-width="1"/>
<text x="503.54" y="281.4" font-size="27" style="font-kerning:none">0</text>
<line x1="525.5" y1="161.55" x2="530" y2="161.55" stroke="#c0c0c0" stroke-width="1"/>
<line x1="968.5" y1="161.55" x2="964" y2="161.55" stroke="#c0c0c0" stroke-width="1"/>
<text x="458.49" y="172.35" font-size="27" style="font-kerning:none">2000</text>
<line x1="525.5" y1="52.5" x2="530" y2="52.5" stroke="#c0c0c0" stroke-width="1"/>
<line x1="968.5" y1="52.5" x2="964" y2="52.5" stroke="#c0c0c0" stroke-width="1"/>
<text x="458.49" y="63.3" font-size="27" style="font-kerning:none">4000</text>
<line x1="646.32" y1="270.6" x2="646.32" y2="266.1" stroke="#c0c0c0" stroke-width="1"/>
<line x1="646.32" y1="49.5" x2="646.32" y2="54" stroke="#c0c0c0" stroke-width="1"/>
<text x="623.78" y="304.5" font-size="27" style="font-kerning:none">500</text>
<line x1="780.56" y1="270.6" x2="780.56" y2="266.1" stroke="#c0c0c0" stroke-width="1"/>
<line x1="780.56" y1="49.5" x2="780.56" y2="54" stroke="#c0c0c0" stroke-width="1"/>
<text x="750.03" y="304.5" font-size="27" style="font-kerning:none">1000</text>
<line x1="914.8" y1="270.6" x2="914.8" y2="266.1" stroke="#c0c0c0" stroke-width="1"/>
<line x1="914.8" y1="49.5" x2="914.8" y2="54" stroke="#c0c0c0" stroke-width="1"/>
<text x="884.27" y="304.5" font-size="27" style="font-kerning:none">1500</text>
<text x="667.07" y="340.7" font-size="30" style="font-kerning:none">Energy (eV)</text>
<text transform="translate(450.6 159.9) rotate(-90)" x="-47.75" y="0" font-size="30.0" style="font-kerning:none">Counts</text>
<line x1="844.8" y1="71.1" x2="861" y2="71.1" stroke="#000" stroke-width="1.6"/>
<text x="861.51" y="81.6" font-size="27" style="font-kerning:none">Ideal</text>
<line x1="844.8" y1="104.5" x2="861" y2="104.5" stroke="#ff0000" stroke-width="1.6"/>
<text x="862.25" y="115.1" font-size="27" style="font-kerning:none">Analysis</text>
<clipPath id="rc2"><rect x="525.5" y="49.5" width="443.0" height="221.10000000000002"/></clipPath>
<g clip-path="url(#rc2)" fill="none" stroke-width="1.6" stroke-linejoin="round">
<path d="M525.5 229.1l0.1 0.2 0.2 0.1 0.1 0.2 0.1 0.2 0.2 0.1 0.1 0.1 0.1 0.7 0.2 1.1 0.1 1.2 0.1 0.1 0.2-1.4 0.1-1.3 0.1-0.8 0.2 1.2 0.1 1.3 0.1 1.2 0.2-1.5 0.1-1.4 0.2-1.5 0.1-0.2 0.1 0.2 0.2 0.1 0.1 0 0.1-0.1 0.2-0.1 0.1-0.1 0.1 0 0.2 0 0.1 0.1 0.1 0.2 0.2 0.3 0.1 0.3 0.1 0.4 0.2 0.4 0.1 0.4 0.1 0 0.2-0.1 0.1-0.1 0.1-0.6 0.2-0.9 0.1-0.9 0.1-0.1 0.2 1 0.1 1 0.1 0.8 0.2-0.2 0.1-0.1 0.1-0.2 0.2 0.2 0.1 0.3 0.1 0.2 0.2 0 0.1-0.1 0.2-0.1 0.1-0.1 0.1-0.1 0.2-0.1 0.1-0.2 0.1-0.3 0.2-0.2 0.1-0.2 0.1 0.3 0.2 0.3 0.1 0.2 0.1 0.1 0.2 0 0.1 0 0.1 0.1 0.2 0.2 0.1 0.1 0.1-0.2 0.2-0.3 0.1-0.4 0.1 0.1 0.2 0.7 0.1 0.7 0.1 0.4 0.2-0.7 0.1-0.6 0.1-0.7 0.2-0.6 0.1-0.6 0.1-0.6 0.2 0.7 0.1 1 0.1 1 0.2 0.2 0.1-0.4 0.2-0.3 0.1-0.8 0.1-1.4 0.2-1.4 0.1-0.7 0.1 1.9 0.2 1.9 0.1 1.8 0.1 0.3 0.2 0.3 0.1 0.3 0.1-0.4 0.2-0.6 0.1-0.6 0.1-0.9 0.2-1.1 0.1-1.1 0.1-0.6 0.2-0.2 0.1-0.1 0.1 0.3 0.2 1.6 0.1 1.6 0.1 1.5 0.2-0.9 0.1-0.8 0.1-0.9 0.2 0.1 0.1 0.3 0.1 0.2 0.2 0.3 0.1 0.3 0.1 0.3 0.2 0.5 0.1 0.6 0.2 0.7 0.1 0.1 0.1-1.4 0.2-1.5 0.1-1.3 0.1 0.9 0.2 0.9 0.1 1 0.1-0.4 0.2-0.5 0.1-0.6 0.1-0.1 0.2 0.1 0.1 0.1 0.1-0.3 0.2-0.9 0.1-0.9 0.1-0.6 0.2 0.4 0.1 0.3 0.1 0.4 0.2 1.1 0.1 1.2 0.1 1.1 0.2-0.2 0.1-0.4 0.1-0.5 0.2-0.5 0.1-0.6 0.1-0.7 0.2 0.2 0.1 1.1 0.1 1.2 0.2 0.8 0.1-0.5 0.2-0.5 0.1-0.4 0.1-0.3 0.2-0.3 0.1-0.3 0.1 0.7 0.2 0.9 0.1 0.9 0.1 0.2 0.2-0.2 0.1-0.2 0.1 0 0.2 0.3 0.1 0.2 0.1-0.1 0.2-0.9 0.1-1 0.1-0.9 0.2 0.4 0.1 0.4 0.1 0.4 0.2-0.5 0.1-0.7 0.1-0.8 0.2 0 0.1 0.4 0.1 0.4 0.2 0.2 0.1-0.3 0.1-0.2 0.2-0.1 0.1 0.4 0.1 0.3 0.2 0.2 0.1-0.4 0.2-0.4 0.1-0.4 0.1 0.3 0.2 0.5 0.1 0.4 0.1 0.4 0.2 0.4 0.1 0.5 0.1-0.3 0.2-1.1 0.1-1 0.1-0.8 0.2 0.1 0.1 0.1 0.1 0.1 0.2-0.6 0.1-0.6 0.1-0.7 0.2 1 0.1 1.1 0.1 1.2 0.2 0.5 0.1 0.3 0.1 0.2 0.2 0.3 0.1 0.4 0.1 0.4 0.2 0.7 0.1 1.1 0.1 1.2 0.2 1 0.1-1.2 0.1-1.3 0.2-1.2 0.1-0.9 0.2-0.9 0.1-0.9 0.1 0.2 0.2 0.7 0.1 0.6 0.1 0.8 0.2 0.8 0.1 0.8 0.1 0.2 0.2-1.5 0.1-1.6 0.1-1.4 0.2 0.6 0.1 0.5 0.1 0.5 0.2-0.2 0.1-0.4 0.1-0.6 0.2-0.7 0.1-0.9 0.1-1.1 0.2-1.2 0.1-1.4 0.1-1.1 0.2-0.9 0.1-0.5 0.1 0 0.2 0.5 0.1 2.2 0.1 2.3 0.2 2.3 0.1 0.5 0.1 0.2 0.2-0.1 0.1 0.3 0.2 0.4 0.1 0.3 0.1-0.2 0.2-0.8 0.1-0.7 0.1-0.3 0.2 1 0.1 1.1 0.1 0.9 0.2-1.3 0.1-1.3 0.1-1.3 0.2 0.3 0.1 0.5 0.1 0.5 0.2-0.2 0.1-0.5 0.1-0.5 0.2 0.3 0.1 1.1 0.1 1.2 0.2 0.6 0.1-0.8 0.1-0.7 0.2-0.6 0.1 0.2 0.1 0.2 0.2 0.2 0.1 0.8 0.1 1 0.2 0.9 0.1-0.2 0.1-0.6 0.2-0.6 0.1-0.2 0.2 0.1 0.1 0.1 0.1 0.1 0.2 0.3 0.1 0.2 0.1 0.2 0.2-0.1 0.1-0.1 0.1 0 0.2 0.2 0.1 0.4 0.1 0.3 0.2-0.2 0.1-0.5 0.1-0.5 0.2-0.4 0.1-0.4 0.1-0.4 0.2-0.1 0.1 0.6 0.1 0.5 0.2 0.5 0.1 0.4 0.1 0.4 0.2 0.4 0.1-1.1 0.1-1.3 0.2-1.2 0.1 0.1 0.1 0.7 0.2 0.7 0.1 0.2 0.1-0.2 0.2-0.2 0.1-0.1 0.2 0.2 0.1 0.1 0.1 0.1 0.2 0.2 0.1 0.1 0.1 0.2 0.2-0.5 0.1-0.5 0.1-0.6 0.2 0.2 0.1 0.6 0.1 0.5 0.2 0.2 0.1-0.3 0.1-0.2 0.2 0 0.1 0.7 0.1 0.7 0.2 0.7 0.1 0.1 0.1 0.1 0.2 0.1 0.1-0.5 0.1-0.6 0.2-0.6 0.1-1 0.1-1.1 0.2-1.1 0.1-0.1 0.1 0.8 0.2 0.9 0.1 0.3 0.1-0.9 0.2-0.8 0.1-0.7 0.2 0.8 0.1 0.7 0.1 0.7 0.2 0.1 0.1 0 0.1 0 0.2 0.4 0.1 0.5 0.1 0.5 0.2 0.1 0.1-0.3 0.1-0.2 0.2-0.5 0.1-0.9 0.1-0.8 0.2-0.8 0.1 0.3 0.1 0.3 0.2 0.2 0.1 0.8 0.1 0.7 0.2 0.8 0.1 0.1 0.1-0.3 0.2-0.3 0.1-0.8 0.1-1.1 0.2-1.3 0.1-0.6 0.1 0.4 0.2 0.5 0.1 0.2 0.1-1.1 0.2-1.2 0.1-1 0.2 0.4 0.1 0.6 0.1 0.6 0.2-0.4 0.1-0.7 0.1-0.7 0.2-0.4 0.1-0.1 0.1-0.1 0.2 0.2 0.1 0.8 0.1 0.8 0.2 0.8 0.1 0.8 0.1 0.8 0.2 0.7 0.1 0.5 0.1 0.4 0.2 0.4 0.1 0.4 0.1 0.4 0.2 0.3 0.1 0.2 0.1 0.2 0.2 0.1 0.1-0.1 0.1-0.5 0.2-0.5 0.1-0.5 0.1 0.1 0.2 0.1 0.1 0 0.1 0.4 0.2 0.4 0.1 0.4 0.2 0.7 0.1 0.9 0.1 0.8 0.2 0.2 0.1-0.3 0.1-0.3 0.2-0.3 0.1-0.3 0.1-0.4 0.2-0.3 0.1 0.2 0.1 0.2 0.2 0.1 0.1 0.7 0.1 0.7 0.2 0.7 0.1-0.4 0.1-0.9 0.2-0.9 0.1-0.9 0.1-0.8 0.2-0.9 0.1 0.1 0.1 1.8 0.2 1.9 0.1 1.5 0.1-0.5 0.2-0.6 0.1-0.5 0.1-0.7 0.2-0.6 0.1-0.7 0.1 0.6 0.2 1 0.1 1 0.2 0.4 0.1 0 0.1 0 0.2-0.1 0.1-0.3 0.1-0.4 0.2-0.4 0.1-0.4 0.1-0.5 0.2-0.6 0.1-0.1 0.1-0.2 0.2-0.4 0.1-1.2 0.1-1.7 0.2-1.8 0.1-0.8 0.1 0 0.2 0 0.1-0.9 0.1-2.4 0.2-2.4 0.1-2 0.1-0.7 0.2-0.4 0.1-0.2 0.1 0.2 0.2 0.5 0.1 0.8 0.1 0.7 0.2 0.8 0.1 1 0.1 1.3 0.2 1.6 0.1 1.7 0.2 1.4 0.1 0.8 0.1 0.8 0.2 0.9 0.1 2 0.1 1.8 0.2 1.7 0.1 0.6 0.1 0.4 0.2 0.4 0.1 0.8 0.1 0.9 0.2 0.9 0.1 0.4 0.1 0.1 0.2 0.1 0.1-0.1 0.1-0.3 0.2-0.3 0.1-0.1 0.1 0.6 0.2 0.7 0.1 0.6 0.1-0.2 0.2-0.2 0.1-0.3 0.1 0.2 0.2 0.2 0.1 0.3 0.1-0.1 0.2-0.3 0.1-0.3 0.1-0.2 0.2-0.2 0.1-0.2 0.2-0.3 0.1-0.3 0.1-0.3 0.2-0.3 0.1 1.3 0.1 1.3 0.2 1.2 0.1-0.2 0.1-0.7 0.2-0.7 0.1-0.5 0.1-0.4 0.2-0.4 0.1-0.4 0.1-0.1 0.2-0.2 0.1-0.2 0.1 0.1 0.2 0 0.1 0 0.1 1.2 0.2 1.3 0.1 1.2 0.1 0 0.2-0.3 0.1-0.4 0.1-0.4 0.2-0.4 0.1-0.4 0.1-0.3 0.2-0.1 0.1-0.2 0.1 0 0.2 0.3 0.1 0.3 0.1 0.3 0.2 0 0.1 0.1 0.2 0 0.1 0 0.1 0.1 0.2 0 0.1 0.2 0.1 0.5 0.2 0.3 0.1 0.1 0.1-0.5 0.2-0.6 0.1-0.7 0.1-0.8 0.2-0.9 0.1-1.1 0.1-0.7 0.2-1.1 0.1-1.4 0.1-2.6 0.2-3.3 0.1-3.6 0.1-2.6 0.2-1.7 0.1-1.9 0.1-2.7 0.2-4 0.1-3.5 0.1-2.8 0.2-1.9 0.1-0.9 0.1-0.1 0.2 1.9 0.1 2.7 0.1 3.2 0.2 3.3 0.1 3.4 0.2 3.4 0.1 3.8 0.1 3.9 0.2 3.5 0.1 3.2 0.1 2.7 0.2 2.4 0.1 1.9 0.1 0.8 0.2 0.6 0.1 0.4 0.1-0.3 0.2-0.5 0.1-0.5 0.1 1 0.2 1.4 0.1 1.4 0.1 0.4 0.2-0.3 0.1-0.3 0.1-0.1 0.2 0.4 0.1 0.3 0.1 0.2 0.2-0.5 0.1-0.4 0.1-0.5 0.2 0 0.1-0.1 0.1 0 0.2-0.3 0.1-0.4 0.1-0.3 0.2 0.1 0.1 0.6 0.2 0.6 0.1-0.1 0.1-1 0.2-0.9 0.1-0.7 0.1 0.4 0.2 0.4 0.1 0.5 0.1 0.4 0.2 0.5 0.1 0.4 0.1 0.3 0.2 0.2 0.1 0.2 0.1 0.2 0.2 0.3 0.1 0.2 0.1-0.2 0.2-0.6 0.1-0.6 0.1-0.6 0.2-0.7 0.1-0.8 0.1-0.7 0.2 0.9 0.1 0.8 0.1 0.9 0.2 0.4 0.1 0.4 0.1 0.3 0.2 0 0.1-0.4 0.1-0.4 0.2-0.1 0.1 0.2 0.2 0.2 0.1 0.2 0.1 0.1 0.2 0.2 0.1 0.2 0.1 0.4 0.2 0.4 0.1 0.4 0.1-0.5 0.2-0.7 0.1-0.7 0.1-0.7 0.2-0.5 0.1-0.6 0.1-0.3 0.2 0.1 0.1 0.1 0.1 0.1 0.2 0.1 0.1 0.1 0.1 0.1 0.2 0.4 0.1 0.3 0.1 0.3 0.2 0 0.1-0.1 0.1-0.1 0.2-0.2 0.1-0.2 0.1-0.2 0.2 0.1 0.1 0.4 0.1 0.5 0.2 0.3 0.1-0.1 0.2-0.2 0.1-0.1 0.1 0.3 0.2 0.3 0.1 0.3 0.1-0.5 0.2-0.5 0.1-0.6 0.1 0.3 0.2 0.8 0.1 0.8 0.1 0.2 0.2-0.6 0.1-0.6 0.1-0.5 0.2-0.1 0.1 0 0.1-0.1 0.2 0.1 0.1 0 0.1 0 0.2 0 0.1 0.1 0.1 0.1 0.2 0.3 0.1 0.4 0.1 0.5 0.2 0.3 0.1 0 0.1 0.1 0.2 0 0.1 0 0.1-0.1 0.2 0 0.1 0 0.2 0 0.1 0 0.1 0.2 0.2 0.3 0.1 0.3 0.1 0 0.2-0.3 0.1-0.2 0.1-0.1 0.2 0.1 0.1 0.1 0.1 0.1 0.2 0.1 0.1 0.1 0.1 0.1 0.2-0.5 0.1-0.4 0.1-0.5 0.2 0.3 0.1 0.4 0.1 0.4 0.2-0.1 0.1-0.3 0.1-0.4 0.2-0.4 0.1-0.4 0.1-0.5 0.2-0.4 0.1 0 0.1-0.1 0.2 0 0.1 0.6 0.1 0.7 0.2 0.6 0.1-0.2 0.2-0.4 0.1-0.3 0.1 0 0.2 0.3 0.1 0.3 0.1-0.2 0.2-0.8 0.1-0.8 0.1-0.5 0.2 0.3 0.1 0.3 0.1 0.3 0.2 0.2 0.1 0.2 0.1 0.2 0.2 0.5 0.1 0.5 0.1 0.5 0.2 0.2 0.1 0 0.1 0.1 0.2-0.1 0.1-0.3 0.1-0.3 0.2-0.2 0.1 0.3 0.1 0.2 0.2 0.2 0.1 0.1 0.1 0.1 0.2 0.1 0.1-0.3 0.1-0.3 0.2-0.4 0.1 0.4 0.2 0.7 0.1 0.8 0.1 0.5 0.2 0.3 0.1 0.3 0.1 0.1 0.2-0.3 0.1-0.4 0.1-0.3 0.2 0 0.1 0.1 0.1 0.1 0.2-0.4 0.1-0.4 0.1-0.3 0.2 0 0.1 0.3 0.1 0.3 0.2 0.1 0.1-0.2 0.1-0.3 0.2 0 0.1 0.7 0.1 0.7 0.2 0.6 0.1-1.3 0.1-1.3 0.2-1.3 0.1 0.2 0.1 0.4 0.2 0.4 0.1 0.5 0.1 0.4 0.2 0.5 0.1 0.1 0.2-0.5 0.1-0.4 0.1-0.4 0.2-0.3 0.1-0.3 0.1-0.3 0.2 0.1 0.1 0.2 0.1 0.1 0.2 0.4 0.1 0.3 0.1 0.4 0.2-0.1 0.1-0.2 0.1-0.3 0.2-0.2 0.1 0 0.1-0.1 0.2 0.1 0.1 0.8 0.1 0.8 0.2 0.7 0.1 0.1 0.1 0.1 0.2 0.1 0.1-0.2 0.1-0.3 0.2-0.3 0.1-0.5 0.1-0.6 0.2-0.6 0.1-0.4 0.1-0.3 0.2-0.2 0.1-0.2 0.2 0.3 0.1 0.2 0.1 0.1 0.2-1.1 0.1-1.1 0.1-1.1 0.2-0.7 0.1-0.5 0.1-0.4 0.2-0.1 0.1 0.1 0.1 0.3 0.2 0.6 0.1 0.6 0.1 0.8 0.2 0.9 0.1 0.7 0.1 0.7 0.2 0.6 0.1 0.3 0.1 0.2 0.2 0.1 0.1-0.2 0.1-0.3 0.2-0.4 0.1 0.1 0.1 0.2 0.2 0.3 0.1 0.5 0.1 0.8 0.2 0.8 0.1 0.6 0.1 0 0.2-0.1 0.1 0 0.2-0.8 0.1-0.7 0.1-0.8 0.2 0.2 0.1 0.2 0.1 0.2 0.2 0.4 0.1 0.4 0.1 0.5 0.2-0.1 0.1-0.6 0.1-0.6 0.2-0.5 0.1-0.2 0.1-0.2 0.2-0.2 0.1 0.2 0.1 0.2 0.2 0.2 0.1 0.3 0.1 0.2 0.2 0.3 0.1-0.2 0.1-0.5 0.2-0.5 0.1 0.1 0.1 0.5 0.2 0.5 0.1 0.2 0.1-0.2 0.2-0.4 0.1-0.4 0.1-0.5 0.2-0.4 0.1-0.3 0.2-1.2 0.1-1 0.1-0.9 0.2 0 0.1 0.5 0.1 0.5 0.2 0.9 0.1 1.3 0.1 1.2 0.2 0.7 0.1 0 0.1-0.1 0.2-0.1 0.1 0.1 0.1 0.1 0.2 0 0.1-0.1 0.1-0.2 0.2-0.1 0.1-0.2 0.1 0 0.2-0.1 0.1 0 0.1 0.2 0.2 0.2 0.1 0.3 0.1 0.2 0.2 0.3 0.1 0.3 0.1 0.2 0.2 0.1 0.1 0.2 0.1 0.2 0.2 0.1 0.1 0.2 0.2 0.4 0.1 0.4 0.1 0.2 0.2-0.8 0.1-1.9 0.1-2.5 0.2-2.6 0.1-2.4 0.1-2.6 0.2-2.7 0.1-2.6 0.1-1.8 0.2-0.5 0.1 1 0.1 2.1 0.2 2.8 0.1 3.2 0.1 3.1 0.2 2.7 0.1 1.8 0.1 1 0.2 0.6 0.1 0.3 0.1-0.1 0.2-0.2 0.1-0.2 0.1 0.1 0.2 0.1 0.1 0.1 0.1 0.4 0.2 0.3 0.1 0.4 0.1 0.1 0.2 0 0.1-0.1 0.2-0.2 0.1-0.5 0.1-0.5 0.2-0.2 0.1 0.1 0.1 0.1 0.2 0.1 0.1 0 0.1 0 0.2 0 0.1 0.1 0.1 0.2 0.2 0.2 0.1-0.2 0.1-0.3 0.2-0.3 0.1 0 0.1 0.2 0.2 0.2 0.1-0.1 0.1-0.8 0.2-0.9 0.1-0.6 0.1 1.1 0.2 1 0.1 1.1 0.1 0.2 0.2 0.1 0.1 0.1 0.1-0.6 0.2-0.9 0.1-0.9 0.1-0.2 0.2 0.5 0.1 0.3 0.2 0 0.1-0.4 0.1-0.7 0.2-0.8 0.1-1.6 0.1-1.5 0.2-1.4 0.1 0.4 0.1 0.9 0.2 1.4 0.1 0.3 0.1 0.1 0.2 0.2 0.1 0.7 0.1 1.1 0.2 0.9 0.1 0.7 0.1 0.2 0.2 0.2 0.1 0.1 0.1 0.5 0.2 0.4 0.1 0.4 0.1-0.7 0.2-0.7 0.1-0.7 0.1 0 0.2 0.4 0.1 0.4 0.1 0.2 0.2 0.1 0.1 0.1 0.1 0.1 0.2-0.1 0.1-0.2 0.2 0 0.1 0.4 0.1 0.4 0.2 0.5 0.1-0.2 0.1-0.3 0.2-0.2 0.1 0.3 0.1 0.5 0.2 0.5 0.1 0.1 0.1-0.1 0.2-0.1 0.1-0.3 0.1-0.5 0.2-0.5 0.1-0.4 0.1 0.1 0.2 0.1 0.1 0 0.1-0.1 0.2-0.3 0.1-0.2 0.1 0.3 0.2 0.5 0.1 0.6 0.1 0.1 0.2-0.2 0.1-0.2 0.1 0 0.2 0.2 0.1 0.2 0.1 0.1 0.2-0.3 0.1-0.3 0.2-0.4 0.1-0.1 0.1-0.2 0.2-0.2 0.1-0.1 0.1-0.1 0.2-0.1 0.1 0.1 0.1 0.1 0.2 0.2 0.1 0.3 0.1 0.5 0.2 0.5 0.1 0.3 0.1-0.3 0.2-0.3 0.1-0.4 0.1 0.4 0.2 0.5 0.1 0.4 0.1 0.4 0.2 0.3 0.1 0.3 0.1-0.3 0.2-0.7 0.1-0.7 0.1-0.5 0.2 0.1 0.1 0 0.1 0 0.2-0.2 0.1-0.2 0.1-0.3 0.2 0 0.1 0 0.2-0.1 0.1 0.6 0.1 0.7 0.2 0.6 0.1 0.2 0.1-0.2 0.2-0.3 0.1-0.5 0.1-0.6 0.2-0.6 0.1-0.6 0.1-0.3 0.2-0.1 0.1-0.1 0.1 0 0.2 0.1 0.1 0.2 0.1 0.8 0.2 0.9 0.1 0.9 0.1 0.3 0.2-0.2 0.1-0.3 0.1-0.3 0.2-0.2 0.1-0.3 0.1-0.3 0.2-0.5 0.1-0.4 0.1-0.4 0.2 1 0.1 1.1 0.1 1.1 0.2-0.5 0.1-1 0.2-0.9 0.1-0.1 0.1 0.7 0.2 0.6 0.1 0.6 0.1 0.4 0.2 0.4 0.1 0.2 0.1-0.9 0.2-1 0.1-1 0.1 0.8 0.2 0.9 0.1 0.8 0.1 0.2 0.2 0.1 0.1 0 0.1-0.3 0.2-0.7 0.1-0.6 0.1-0.5 0.2-0.1 0.1-0.1 0.1 0 0.2 0.3 0.1 0.4 0.1 0.3 0.2 0.3 0.1 0.3 0.1 0.3 0.2 0.2 0.1 0.3 0.1 0.3 0.2-0.2 0.1-0.6 0.2-0.5 0.1 0 0.1 0.8 0.2 0.9 0.1 0.6 0.1-0.3 0.2-0.3 0.1-0.3 0.1-0.8 0.2-0.9 0.1-0.8 0.1-0.1 0.2 0.1 0.1 0.2 0.1 0 0.2-0.2 0.1-0.2 0.1-0.1 0.2 0.3 0.1 0.3 0.1 0.3 0.2 0.6 0.1 0.5 0.1 0.6 0.2-0.6 0.1-0.5 0.1-0.6 0.2 0.5 0.1 0.8 0.1 0.8 0.2-0.2 0.1-0.8 0.1-0.9 0.2-0.6 0.1-0.2 0.2-0.2 0.1 0 0.1 0.8 0.2 0.8 0.1 0.8 0.1-0.7 0.2-0.7 0.1-0.6 0.1 0.1 0.2 0.3 0.1 0.4 0.1 0.1 0.2 0.1 0.1 0.1 0.1 0.2 0.2 0.6 0.1 0.5 0.1 0.2 0.2-0.8 0.1-0.9 0.1-0.9 0.2-0.7 0.1-0.8 0.1-0.8 0.2 0.2 0.1 0.5 0.1 0.6 0.2-0.1 0.1-0.4 0.1-0.3 0.2 0 0.1 0.5 0.1 0.5 0.2 0.6 0.1 0.8 0.2 0.7 0.1 0.7 0.1-0.7 0.2-0.7 0.1-0.7 0.1 0.2 0.2 0.4 0.1 0.4 0.1 0.2 0.2 0 0.1 0 0.1-0.1 0.2-0.3 0.1-0.3 0.1-0.2 0.2 0.6 0.1 0.6 0.1 0.6 0.2-1.3 0.1-1.4 0.1-1.4 0.2 0.8 0.1 1.3 0.1 1.2 0.2 0.7 0.1 0.2 0.1 0.3 0.2-0.1 0.1-0.6 0.1-0.6 0.2-0.5 0.1 0.1 0.1 0.1 0.2 0.1 0.1 0.4 0.2 0.5 0.1 0.5 0.1 0 0.2 0 0.1 0 0.1-0.4 0.2-0.5 0.1-0.6 0.1-0.3 0.2 0.2 0.1 0.2 0.1 0.1 0.2 0 0.1-0.1 0.1 0 0.2-0.1 0.1-0.2 0.1-0.1 0.2 0.3 0.1 0.5 0.1 0.5 0.2-0.1 0.1-0.7 0.1-0.6 0.2-0.2 0.1 0.4 0.1 0.5 0.2 0.2 0.1-0.2 0.1-0.2 0.2-0.2 0.1 0.5 0.1 0.6 0.2 0.5 0.1-0.3 0.2-0.6 0.1-0.5 0.1-0.2 0.2 0.2 0.1 0.2 0.1-0.2 0.2-0.8 0.1-0.7 0.1-0.4 0.2 0.9 0.1 0.9 0.1 0.8 0.2-0.5 0.1-0.6 0.1-0.5 0.2 0.1 0.1 0.3 0.1 0.3 0.2-0.1 0.1-0.3 0.1-0.3 0.2 0 0.1 0.5 0.1 0.4 0.2 0.4 0.1-0.1 0.1-0.1 0.2 0 0.1 0.9 0.1 0.9 0.2 0.9 0.1-0.1 0.1-0.3 0.2-0.3 0.1-0.6 0.2-0.8 0.1-0.8 0.1-0.3 0.2 0.2 0.1 0.2 0.1 0.1 0.2-0.1 0.1-0.1 0.1-0.1 0.2 0.4 0.1 0.3 0.1 0.4 0.2-0.2 0.1-0.4 0.1-0.3 0.2 0.1 0.1 0.4 0.1 0.4 0.2 0.1 0.1-0.1 0.1-0.1 0.2-0.1 0.1-0.5 0.1-0.4 0.2-0.4 0.1 0.1 0.1 0 0.2 0.1 0.1 0.4 0.1 0.5 0.2 0.5 0.1 0.1 0.1-0.1 0.2-0.2 0.1-0.1 0.2-0.1 0.1 0 0.1 0 0.2 0.1 0.1 0.1 0.1 0.1 0.2 0 0.1 0 0.1 0 0.2 0.3 0.1 0.2 0.1 0.3 0.2-0.2 0.1-0.5 0.1-0.5 0.2 0 0.1 0.5 0.1 0.6 0.2 0.4 0.1-0.1 0.1 0 0.2 0 0.1-0.8 0.1-0.7 0.2-0.8 0.1-0.2 0.1-0.2 0.2-0.2 0.1-0.1 0.1 0 0.2 0 0.1 0.3 0.1 0.5 0.2 0.5 0.1 0.4 0.2 0.3 0.1 0.3 0.1 0.3 0.2-0.4 0.1-0.5 0.1-0.4 0.2-0.3 0.1-0.2 0.1-0.3 0.2 0.2 0.1 0.5 0.1 0.5 0.2 0.3 0.1 0.2 0.1 0.2 0.2 0.2 0.1 0.5 0.1 0.4 0.2 0.4 0.1 0 0.1 0 0.2 0 0.1-0.9 0.1-1.2 0.2-1.1 0.1 0.3 0.1 1.1 0.2 1 0.1 0.5 0.1-0.3 0.2-0.2 0.1-0.3 0.1-0.1 0.2-0.1 0.1-0.1 0.2-0.2 0.1-0.2 0.1-0.1 0.2 0.4 0.1 0.5 0.1 0.5 0.2-0.2 0.1-0.6 0.1-0.6 0.2-0.4 0.1 0 0.1 0 0.2 0.1 0.1 0.2 0.1 0.1 0.2 0.2 0.1 0.2 0.1 0.3 0.2 0.2 0.1 0 0.1-0.1 0.2-0.1 0.1 0.3 0.1 0.5 0.2 0.6 0.1-0.2 0.1-0.8 0.2-0.8 0.1-0.5 0.1 0.3 0.2 0.4 0.1 0.4 0.1 0.3 0.2 0.3 0.1 0.3 0.2-0.4 0.1-0.4 0.1-0.5 0.2-0.2 0.1-0.2 0.1-0.2 0.2 0 0.1 0 0.1 0.1 0.2 0 0.1-0.1 0.1-0.1 0.2-0.1 0.1-0.1 0.1-0.2 0.2-0.2 0.1 0.5 0.1 0.5 0.2 0.6 0.1 0 0.1-0.2 0.2-0.2 0.1-0.2 0.1 0 0.2 0 0.1 0.2 0.1 0.5 0.2 0.6 0.1 0.4 0.1-0.8 0.2-0.8 0.1-0.9 0.1 0.4 0.2 0.4 0.1 0.5 0.2 0 0.1-0.2 0.1-0.1 0.2-0.1 0.1-0.1 0.1 0 0.2 0.1 0.1 0.4 0.1 0.4 0.2 0.3 0.1-0.6 0.1-0.5 0.2-0.5 0.1-0.1 0.1-0.1 0.2 0 0.1 0.1 0.1 0.3 0.2 0.3 0.1 0.6 0.1 1 0.2 1 0.1 0.3 0.1-1.4 0.2-1.4 0.1-1.2 0.1 0.5 0.2 0.5 0.1 0.5 0.1 0.2 0.2 0.2 0.1 0.2 0.1 0 0.2 0 0.1 0 0.2 0 0.1 0.2 0.1 0.2 0.2 0 0.1-0.2 0.1-0.2 0.2-0.3 0.1-0.3 0.1-0.3 0.2-0.3 0.1 0.4 0.1 0.6 0.2 0.6 0.1-0.1 0.1-0.5 0.2-0.4 0.1-0.1 0.1 0.3 0.2 0.3 0.1 0.1 0.1-0.2 0.2-0.2 0.1-0.6 0.1-1.1 0.2-2.7 0.1-4.9 0.1-7.9 0.2-9.8 0.1-9.4 0.1-6 0.2-0.2 0.1 5.5 0.1 9.3 0.2 10 0.1 8 0.1 5.1 0.2 2.3 0.1 1 0.2 0.1 0.1 0 0.1-0.2 0.2-0.1 0.1 0.8 0.1 1 0.2 0.9 0.1-0.2 0.1-0.7 0.2-0.7 0.1-0.2 0.1 0.3 0.2 0.4 0.1 0.2 0.1 0 0.2 0 0.1-0.1 0.1-0.4 0.2-0.4 0.1-0.3 0.1 0.3 0.2 0.4 0.1 0.4 0.1 0.2 0.2 0.1 0.1 0.2 0.1-0.3 0.2-0.6 0.1-0.6 0.1-0.4 0.2 0.1 0.1 0 0.1 0.1 0.2 0.2 0.1 0.2 0.2 0.2 0.1-0.7 0.1-0.7 0.2-0.8 0.1 0.6 0.1 1.3 0.2 1.2 0.1 0.7 0.1 0.2 0.2 0.2 0.1-0.3 0.1-1.4 0.2-2.9 0.1-5.6 0.1-9.5 0.2-14.8 0.1-18.4 0.1-18.3 0.2-11.5 0.1-0.2 0.1 11.5 0.2 18.3 0.1 19 0.1 15 0.2 9.6 0.1 5.1 0.1 2.3 0.2 0.6 0.1 0.1 0.1 0 0.2 0.3 0.1 0.3 0.1 0.2 0.2 0.4 0.1 0.3 0.2 0.4 0.1-0.2 0.1-0.4 0.2-0.4 0.1-0.4 0.1-0.5 0.2-0.4 0.1-0.3 0.1 0.2 0.2 0.1 0.1 0.1 0.1-0.2 0.2-0.2 0.1-0.2 0.1-0.3 0.2-0.2 0.1-0.2 0.1 0.1 0.2 0.3 0.1 0.2 0.1 0.3 0.2 0.3 0.1 0.3 0.1 0.3 0.2 0.2 0.1 0.2 0.1 0.2 0.2-0.4 0.1-0.4 0.1-0.4 0.2-0.3 0.1-0.4 0.1-0.4 0.2 0 0.1 0 0.2 0.1 0.1 0.1 0.1 0.2 0.2 0.1 0.1 0.3 0.1 0.6 0.2 0.6 0.1 0.4 0.1-0.5 0.2-0.4 0.1-0.5 0.1 0 0.2-0.1 0.1 0 0.1-0.1 0.2-0.2 0.1-0.2 0.1 0.4 0.2 0.8 0.1 0.8 0.1 0.5 0.2-0.2 0.1-0.2 0.1-0.2 0.2-0.2 0.1-0.3 0.1-0.3 0.2 0 0.1 0 0.1 0 0.2 0.2 0.1 0.3 0.1 0.2 0.2-0.1 0.1-0.3 0.2-0.4 0.1-0.1 0.1 0.2 0.2 0.3 0.1 0.1 0.1-0.4 0.2-0.5 0.1-0.4 0.1 0.4 0.2 0.6 0.1 0.5 0.1-0.1 0.2-0.2 0.1-0.2 0.1 0.3 0.2 0.7 0.1 0.8 0.1 0.2 0.2-0.7 0.1-0.8 0.1-0.6 0.2 0.3 0.1 0.3 0.1 0.3 0.2-0.4 0.1-0.5 0.1-0.4 0.2 0.1 0.1 0.3 0.1 0.3 0.2-0.2 0.1-0.4 0.1-0.5 0.2 0 0.1 0.5 0.2 0.6 0.1 0.5 0.1 0.3 0.2 0.3 0.1 0.3 0.1-0.5 0.2-0.6 0.1-0.5 0.1-0.2 0.2-0.1 0.1-0.1 0.1 0.2 0.2 0.4 0.1 0.4 0.1 0.4 0.2 0.1 0.1 0.2 0.1 0 0.2-0.6 0.1-0.7 0.1-0.6 0.2-0.2 0.1-0.1 0.1-0.1 0.2 0.1 0.1 0.1 0.1 0.1 0.2 0.2 0.1 0.2 0.1 0.2 0.2 0.1 0.1 0 0.1 0.1 0.2-0.1 0.1-0.5 0.2-0.6 0.1-0.5 0.1 0.3 0.2 0.2 0.1 0.3 0.1 0.5 0.2 0.5 0.1 0.6 0.1 0.2 0.2 0.1 0.1 0 0.1-0.1 0.2-0.6 0.1-0.5 0.1-0.5 0.2-0.1 0.1 0 0.1 0 0.2 0.4 0.1 0.4 0.1 0.4 0.2 0.2 0.1 0 0.1 0.1 0.2-0.3 0.1-0.6 0.1-0.6 0.2-0.2 0.1 0.4 0.1 0.5 0.2 0.2 0.1-0.4 0.1-0.3 0.2-0.4 0.1 0.6 0.2 0.6 0.1 0.6 0.1 0.1 0.2 0 0.1-0.1 0.1 0.2 0.2 0.2 0.1 0.2 0.1-0.1 0.2-0.5 0.1-0.6 0.1-0.4 0.2 0.1 0.1 0.1 0.1 0.2 0.2 0.4 0.1 0.4 0.1 0.4 0.2-0.4 0.1-0.6 0.1-0.6 0.2-0.1 0.1 0.2 0.1 0.2 0.2 0.1 0.1-0.1 0.1-0.1 0.2-0.2 0.1-0.6 0.1-0.5 0.2-0.5 0.1 0.1 0.1 0.1 0.2 0.2 0.1 0.1 0.2 0.2 0.1 0.1 0.1 0.2 0.2 0.3 0.1 0.2 0.1 0.3 0.2 0.3 0.1 0.3 0.1 0.1 0.2-0.1 0.1-0.2 0.1-0.2 0.2-0.1 0.1-0.1 0.1-0.1 0.2-0.4 0.1-0.6 0.1-0.5 0.2 0.2 0.1 0.7 0.1 0.7 0.2 0.4 0.1-0.1 0.1-0.2 0.2-0.1 0.1-0.2 0.1-0.2 0.2-0.2 0.1-0.1 0.1-0.1 0.2-0.2 0.1-0.2 0.1-0.2 0.2-0.2 0.1-0.2 0.2-0.1 0.1 0 0.1 0.1 0.2 0.5 0.1 0.5 0.1 0.2 0.2-0.7 0.1-0.6 0.1-0.7 0.2 0.4 0.1 0.4 0.1 0.4 0.2 0.5 0.1 0.4 0.1 0.5 0.2 0.3 0.1 0 0.1 0.1 0.2-0.1 0.1-0.1 0.1-0.2 0.2-0.2 0.1 0 0.1-0.1 0.2 0 0.1-0.4 0.1-0.3 0.2-0.4 0.1 0.4 0.1 0.5 0.2 0.6 0.1 0.1 0.1-0.1 0.2 0 0.1 0 0.2 0.1 0.1 0.1 0.1 0 0.2-0.4 0.1-0.4 0.1-0.3 0.2 0.6 0.1 0.5 0.1 0.6 0.2-0.4 0.1-0.7 0.1-0.6 0.2 0 0.1 0.4 0.1 0.5 0.2 0.2 0.1-0.2 0.1-0.2 0.2-0.2 0.1-0.2 0.1-0.2 0.2-0.2 0.1 0.1 0.1 0 0.2 0.1 0.1-0.7 0.1-0.8 0.2-0.8 0.1 0.5 0.1 1.2 0.2 1.2 0.1 0.9 0.1 0.4 0.2 0.4 0.1 0.2 0.2-0.2 0.1-0.3 0.1-0.2 0.2-0.7 0.1-0.7 0.1-0.7 0.2 0.4 0.1 0.7 0.1 0.6 0.2-0.2 0.1-0.7 0.1-0.6 0.2-0.2 0.1 0.4 0.1 0.4 0.2 0.3 0.1-0.2 0.1-0.3 0.2-0.2 0.1 0.8 0.1 0.8 0.2 0.9 0.1-0.5 0.1-0.6 0.2-0.6 0.1-0.1 0.1 0.2 0.2 0.3 0.1 0.6 0.1 1 0.2 1 0.1 0.7 0.1-0.2 0.2-0.2 0.1-0.1 0.2 0.1 0.1 0.1 0.1 0.2 0.2 1 0.1 1 0.1 1 0.2 0.7 0.1 0.5 0.1 0.3 0.2 0.2 0.1-0.1 0.1-0.1 0.2-0.3 0.1-0.2 0.1-0.4 0.2-0.4 0.1-0.7 0.1-0.8 0.2-0.8 0.1-0.7 0.1-0.7 0.2-0.7 0.1-0.1 0.1 0.1 0.2 0 0.1-0.7 0.1-2.2 0.2-4.5 0.1-8.2 0.1-13.6 0.2-20.4 0.1-26.3 0.1-28.7 0.2-24.3 0.1-13.2 0.2 1.6 0.1 15.5 0.1 23.5 0.2 24 0.1 15.8 0.1 0.7 0.2-18.4 0.1-37 0.1-49 0.2-42.5 0.1 0 0.1 0 0.2 0 0.1 0 0.1 50 0.2 51.3 0.1 42.9 0.1 30.5 0.2 19.2 0.1 10.9 0.1 5.9 0.2 3.4 0.1 2 0.1 1.2 0.2 1.1 0.1 0.9 0.1 1 0.2 0.8 0.1 0.6 0.1 0.6 0.2 0.4 0.1 0.3 0.1 0.1 0.2 0 0.1 0 0.2 0.1 0.1 0.1 0.1 0.1 0.2-0.1 0.1-0.3 0.1-0.3 0.2-0.2 0.1 0.1 0.1 0.1 0.2 0.2 0.1-0.1 0.1 0 0.2 0 0.1 0.2 0.1 0.2 0.2 0.2 0.1-0.1 0.1-0.3 0.2-0.2 0.1-0.1 0.1 0.2 0.2 0.2 0.1 0.1 0.1-0.1 0.2-0.2 0.1-0.1 0.1 0.2 0.2 0.2 0.1 0.2 0.1-0.1 0.2-0.2 0.1-0.1 0.1 0.1 0.2 0.2 0.1 0.2 0.2 0.1 0.1-0.2 0.1-0.1 0.2-0.1 0.1 0 0.1 0 0.2 0 0.1 0.1 0.1 0.1 0.2 0.1 0.1-0.1 0.1-0.1 0.2-0.2 0.1 0 0.1 0.1 0.2 0 0.1 0.1 0.1 0 0.2-0.1 0.1 0 0.1-0.1 0.2-0.1 0.1-0.1 0.1-0.1 0.2 0 0.1-0.1 0.1 0.1 0.2 0.2 0.1 0.1 0.1 0 0.2-0.2 0.1-0.1 0.1-0.1 0.2 0 0.1 0.1 0.2 0 0.1 0 0.1 0 0.2 0.1 0.1-0.1 0.1-0.1 0.2-0.1 0.1 0.3 0.1 0.3 0.2 0.3 0.1-0.1 0.1-0.3 0.2-0.3 0.1-0.1 0.1 0.1 0.2 0.1 0.1 0.1 0.1 0.1 0.2 0.1 0.1 0 0.1 0 0.2 0 0.1 0 0.1-0.2 0.2-0.1 0.1-0.1 0.1 0 0.2 0 0.1-0.1 0.1 0 0.2 0.1 0.1 0 0.1 0.1 0.2 0.2 0.1 0.2 0.2 0.2 0.1 0 0.1 0 0.2 0.1 0.1-0.2 0.1-0.1 0.2-0.2 0.1-0.1 0.1 0 0.2-0.1 0.1 0.1 0.1 0.1 0.2 0.1 0.1 0.1 0.1-0.2 0.2-0.1 0.1-0.2 0.1 0.1 0.2 0 0.1 0 0.1 0 0.2 0 0.1 0 0.1 0.1 0.2 0.2 0.1 0.1 0.1-0.1 0.2-0.2 0.1-0.2 0.1-0.1 0.2 0 0.1 0.1 0.1 0 0.2 0 0.1-0.1 0.2 0 0.1 0.1 0.1 0.1 0.2 0 0.1 0.2 0.1 0.1 0.2 0.2 0.1 0 0.1-0.2 0.2-0.1 0.1-0.1 0.1-0.1 0.2 0 0.1-0.1 0.1 0.1 0.2 0.1 0.1 0.1 0.1 0.1 0.2 0.1 0.1 0.1 0.1-0.1 0.2-0.1 0.1-0.2 0.1-0.1 0.2 0 0.1 0 0.1 0.1 0.2 0.1 0.1 0.2 0.1 0.2 0.2-0.1 0.1 0 0.1-0.1 0.2 0.1 0.1 0.1 0.2 0 0.1-0.1 0.1-0.1 0.2-0.2 0.1-0.1 0.1 0 0.2 0 0.1 0 0.1-0.2 0.2-0.1 0.1-0.1 0.1 0.2 0.2 0.3 0.1 0.3 0.1-0.2 0.2-0.2 0.1-0.3 0.1 0.1 0.2 0.1 0.1 0.2 0.1 0 0.2 0 0.1-0.1 0.1 0.1 0.2 0.1 0.1 0.2 0.1 0.1 0.2-0.2 0.1-0.1 0.1-0.1 0.2 0 0.1 0.1 0.1 0 0.2 0 0.1 0 0.2 0 0.1-0.1 0.1 0 0.2 0 0.1-0.1 0.1 0 0.2 0 0.1-0.1 0.1 0 0.2 0 0.1-0.1 0.1 0.1 0.2 0.1 0.1 0.1 0.1 0.1 0.2 0.1 0.1 0 0.1 0 0.2-0.2 0.1-0.2 0.1-0.1 0.2 0.1 0.1 0.1 0.1 0.1 0.2 0 0.1 0.1 0.1 0.1 0.2-0.2 0.1-0.2 0.1-0.2 0.2 0 0.1 0.2 0.1 0.1 0.2 0 0.1-0.1 0.2 0 0.1 0 0.1 0.3 0.2 0.2 0.1 0.2 0.1-0.1 0.2-0.1 0.1-0.1 0.1-0.2 0.2-0.3 0.1-0.3 0.1 0.1 0.2 0.1 0.1 0.2 0.1 0 0.2 0 0.1 0 0.1 0.1 0.2 0.1 0.1 0.1 0.1 0.1 0.2 0 0.1-0.1 0.1-0.1 0.2 0 0.1-0.1 0.1 0 0.2 0 0.1 0.1 0.1 0 0.2 0 0.1 0 0.1 0 0.2 0.1 0.1 0.1 0.2 0.2 0.1 0.1 0.1-0.1 0.2-0.1 0.1 0 0.1-0.1 0.2 0 0.1-0.1 0.1 0 0.2-0.1 0.1-0.1 0.1-0.1 0.2 0 0.1 0 0.1 0.1 0.2 0 0.1 0.1 0.1 0 0.2 0.1 0.1 0.1 0.1 0 0.2 0 0.1 0 0.1 0 0.2 0 0.1-0.1 0.1-0.1 0.2 0 0.1 0.2 0.1 0.1 0.2 0.1 0.1-0.1 0.1-0.1 0.2-0.1 0.1 0 0.2 0 0.1 0 0.1 0 0.2 0 0.1 0 0.1-0.2 0.2-0.1 0.1-0.2 0.1 0 0.2 0.2 0.1 0.1 0.1 0.1 0.2-0.1 0.1-0.1 0.1-0.1 0.2 0 0.1-0.1 0.1-0.1 0.2 0.1 0.1 0.1 0.1 0.1 0.2 0.1 0.1 0 0.1 0.1 0.2 0.1 0.1 0.1 0.1 0.1 0.2 0 0.1-0.3 0.1-0.3 0.2-0.2 0.1 0.3 0.1 0.3 0.2 0.2 0.1 0.1 0.2 0.1 0.1 0.1 0.1-0.2 0.2-0.3 0.1-0.3 0.1 0 0.2 0.3 0.1 0.2 0.1 0.2 0.2-0.1 0.1 0 0.1 0 0.2-0.1 0.1 0 0.1-0.1 0.2 0.1 0.1 0 0.1 0.1 0.2 0.1 0.1 0.1 0.1 0 0.2 0 0.1-0.3 0.1-0.2 0.2-0.2 0.1 0 0.1 0 0.2 0 0.1-0.1 0.1 0 0.2 0 0.1 0.1 0.1 0 0.2 0.1 0.1 0.1 0.2 0 0.1 0 0.1 0 0.2 0.1 0.1 0 0.1-0.1 0.2-0.2 0.1-0.1 0.1-0.2 0.2 0.1 0.1 0 0.1 0.1 0.2 0.1 0.1 0.1 0.1 0.1 0.2 0 0.1-0.1 0.1 0 0.2 0 0.1 0.1 0.1 0.2 0.2 0 0.1-0.1 0.1-0.2 0.2-0.1 0.1 0.1 0.1 0.2 0.2 0.1 0.1 0 0.1-0.1 0.2-0.1 0.1 0 0.1 0 0.2 0 0.1 0.1 0.2 0.3 0.1 0.2 0.1 0 0.2-0.3 0.1-0.3 0.1-0.3 0.2 0.1 0.1 0.1 0.1 0 0.2 0.1 0.1 0.1 0.1 0 0.2 0.1 0.1 0 0.1-0.1 0.2 0 0.1 0 0.1-0.1 0.2 0 0.1 0 0.1 0 0.2 0 0.1-0.1 0.1-0.1 0.2 0 0.1 0 0.1 0 0.2 0.1 0.1-0.1 0.1 0 0.2 0 0.1 0 0.1 0 0.2 0 0.1 0.1 0.2 0.2 0.1 0.1 0.1 0.2 0.2 0 0.1 0 0.1 0 0.2-0.2 0.1-0.2 0.1-0.2 0.2 0 0.1 0 0.1 0 0.2 0 0.1 0.1 0.1 0 0.2 0.1 0.1 0.1 0.1 0.1 0.2 0.1 0.1 0 0.1-0.1 0.2-0.1 0.1 0.1 0.1 0 0.2 0 0.1-0.1 0.1-0.2 0.2-0.1 0.1 0 0.1 0.1 0.2 0.2 0.1 0.1 0.1 0 0.2 0.1 0.1 0 0.2 0 0.1-0.1 0.1 0 0.2-0.1 0.1-0.1 0.1-0.2 0.2-0.1 0.1-0.1 0.1-0.1 0.2 0 0.1 0.3 0.1 0.2 0.2 0 0.1-0.1 0.1-0.2 0.2-0.1 0.1 0.2 0.1 0.1 0.2 0.2 0.1 0 0.1 0 0.2 0 0.1 0 0.1 0 0.2 0.1 0.1-0.1 0.1-0.2 0.2-0.1 0.1-0.1 0.1 0.1 0.2 0.2 0.1 0 0.1-0.1 0.2-0.1 0.1-0.2 0.2 0.2 0.1 0.1 0.1 0.1 0.2-0.1 0.1-0.2 0.1-0.2 0.2 0 0.1 0.1 0.1 0.2 0.2 0.1 0.1 0 0.1 0 0.2 0 0.1 0.1 0.1 0.2 0.2 0.1 0.1-0.3 0.1-0.2 0.2-0.2 0.1 0 0.1 0.1 0.2 0.1 0.1 0 0.1 0 0.2 0.1 0.1 0 0.1 0 0.2 0 0.1 0 0.1 0.1 0.2 0 0.1 0.1 0.1 0 0.2 0 0.1 0 0.2-0.1 0.1-0.1 0.1-0.1 0.2 0.1 0.1 0.1 0.1 0.1 0.2 0 0.1 0 0.1-0.1 0.2-0.1 0.1-0.2 0.1-0.3 0.2-0.2 0.1 0.2 0.1 0.3 0.2 0.2 0.1 0.1 0.1 0 0.2 0 0.1-0.1 0.1-0.3 0.2-0.4 0.1-0.5 0.1-1 0.2-1.7 0.1-2.7 0.1-3.7 0.2-3.8 0.1-3 0.1-1.2 0.2 0.8 0.1 2.5 0.1 3.6 0.2 3.7 0.1 3.1 0.1 2.2 0.2 1.3 0.1 0.6 0.2 0.3 0.1 0.2 0.1 0.1 0.2 0.1 0.1-0.2 0.1-0.1 0.2-0.1 0.1 0.1 0.1 0.1 0.2 0.1 0.1-0.1 0.1-0.1 0.2-0.1 0.1 0.1 0.1 0.3 0.2 0.3 0.1 0 0.1-0.1 0.2-0.2 0.1-0.1 0.1-0.1 0.2-0.1 0.1-0.1 0.1 0 0.2 0 0.1 0 0.1 0.1 0.2 0 0.1 0.1 0.1-0.1 0.2 0 0.1-0.1 0.1 0 0.2 0 0.1 0 0.2 0 0.1 0.1 0.1 0 0.2 0.1 0.1 0 0.1 0 0.2-0.1 0.1 0 0.1-0.1 0.2-0.1 0.1 0.1 0.1 0 0.2 0.1 0.1 0.2 0.1 0.2 0.2 0.3 0.1 0.2 0.1-0.1 0.2-0.1 0.1-0.1 0.1-0.1 0.2-0.1 0.1-0.1 0.1-0.1 0.2-0.1 0.1-0.2 0.1 0 0.2 0.1 0.1 0 0.1 0.1 0.2-0.1 0.1-0.1 0.1 0 0.2 0 0.1-0.1 0.2 0 0.1 0 0.1 0.1 0.2 0 0.1 0.2 0.1 0.1 0.2 0.1 0.1 0 0.1-0.2 0.2-0.2 0.1 0 0.1 0.3 0.2 0.2 0.1 0.1 0.1 0 0.2 0 0.1 0 0.1-0.1 0.2-0.1 0.1 0 0.1 0.1 0.2 0.2 0.1 0.2 0.1-0.2 0.2-0.4 0.1-0.4 0.1-0.2 0.2-0.1 0.1-0.1 0.1 0 0.2 0.3 0.1 0.2 0.1 0.3 0.2 0 0.1 0 0.2 0 0.1 0.2 0.1 0.1 0.2 0.2 0.1-0.1 0.1-0.3 0.2-0.2 0.1-0.1 0.1 0.1 0.2 0.1 0.1 0.1 0.1 0.1 0.2 0 0.1 0.1 0.1 0 0.2 0 0.1 0.1 0.1-0.2 0.2-0.1 0.1-0.1 0.1 0 0.2 0 0.1 0 0.1 0 0.2 0 0.1 0 0.1 0 0.2 0 0.1 0.1 0.1 0 0.2 0.1 0.1 0.1 0.1 0.2 0.2-0.3 0.1-0.3 0.2-0.3 0.1-0.1 0.1 0.1 0.2 0 0.1 0.1 0.1 0.2 0.2 0.1 0.1 0.1 0.1 0.1 0.2 0.1 0.1 0 0.1 0 0.2 0 0.1-0.1 0.1-0.1 0.2-0.2 0.1-0.1 0.1-0.1 0.2 0 0.1 0.1 0.1 0 0.2 0 0.1 0 0.1 0 0.2-0.1 0.1-0.1 0.1 0 0.2 0.1 0.1 0.2 0.1 0.2 0.2-0.2 0.1-0.2 0.1-0.2 0.2 0.1 0.1 0.1 0.2 0.1 0.1 0.1 0.1 0.1 0.2 0.1 0.1 0 0.1-0.1 0.2-0.1 0.1-0.1 0.1 0 0.2 0 0.1 0 0.1 0.1 0.2 0.1 0.1 0.1 0.1-0.1 0.2-0.3 0.1-0.2 0.1 0 0.2 0.4 0.1 0.3 0.1 0.2 0.2-0.2 0.1-0.2 0.1-0.2 0.2 0 0.1 0 0.1 0 0.2 0.1 0.1 0.1 0.1 0.1 0.2 0 0.1-0.1 0.1-0.1 0.2-0.1 0.1-0.1 0.2-0.1 0.1 0 0.1 0.2 0.2 0.3 0.1 0.2 0.1 0 0.2 0 0.1 0 0.1-0.1 0.2-0.1 0.1-0.1 0.1 0 0.2-0.1 0.1-0.1 0.1-0.1 0.2 0 0.1-0.1 0.1 0 0.2 0 0.1 0.1 0.1 0.1 0.2 0.1 0.1 0.2 0.1 0.2 0.2-0.2 0.1-0.2 0.1-0.3 0.2 0 0.1 0 0.1 0.1 0.2 0 0.1 0 0.1-0.1 0.2 0.1 0.1 0.2 0.2 0.3 0.1 0.2 0.1 0 0.2 0 0.1 0.1 0.1-0.1 0.2-0.1 0.1-0.1 0.1-0.1 0.2 0 0.1 0 0.1-0.1 0.2 0 0.1 0 0.1 0 0.2 0.1 0.1 0.1 0.1 0.1 0.2 0 0.1 0 0.1 0 0.2-0.2 0.1-0.1 0.1-0.2 0.2 0.2 0.1 0.2 0.1 0.3 0.2 0 0.1 0 0.1-0.1 0.2-0.1 0.1-0.2 0.1-0.1 0.2-0.1 0.1-0.1 0.2 0 0.1-0.1 0.1 0 0.2 0.1 0.1 0 0.1 0 0.2-0.2 0.1-0.1 0.1 0 0.2 0.1 0.1 0.2 0.1 0 0.2 0 0.1-0.1 0.1 0 0.2 0 0.1 0 0.1 0 0.2 0.1 0.1 0 0.1 0.1 0.2 0.1 0.1 0.2 0.1 0.1 0.2 0 0.1-0.1 0.1-0.1 0.2-0.1 0.1 0 0.1 0 0.2 0 0.1 0.1 0.1 0 0.2 0.1 0.1-0.1 0.2-0.2 0.1-0.1 0.1 0 0.2 0.1 0.1 0.2 0.1 0.1 0.2 0.1 0.1 0 0.1 0.1 0.2-0.2 0.1-0.1 0.1-0.1 0.2 0.1 0.1 0.1 0.1 0.1 0.2-0.2 0.1-0.1 0.1-0.2 0.2 0.2 0.1 0.3 0.1 0.3 0.2 0.1 0.1-0.1 0.1-0.1 0.2-0.1 0.1-0.1 0.1-0.2 0.2-0.2 0.1 0 0.1 0 0.2 0 0.1 0 0.1 0 0.2 0 0.1-0.1 0.2-0.1 0.1-0.2 0.1 0.1 0.2 0.1 0.1 0.2 0.1 0.1 0.2 0.1 0.1 0 0.1 0 0.2-0.1 0.1-0.2 0.1-0.1 0.2 0.1 0.1 0.1 0.1 0.1 0.2 0 0.1-0.1 0.1 0 0.2-0.1 0.1-0.1 0.1-0.1 0.2 0 0.1 0.1 0.1 0.2 0.2 0.1 0.1 0 0.1 0 0.2 0 0.1 0 0.1 0.1 0.2 0 0.1 0 0.1-0.1 0.2-0.1 0.1-0.1 0.2 0 0.1 0 0.1-0.1 0.2 0 0.1 0 0.1-0.1 0.2 0.1 0.1 0 0.1 0 0.2-0.1 0.1-0.1 0.1-0.2 0.2 0.2 0.1 0.1 0.1 0.2 0.2 0.1 0.1 0 0.1 0 0.2 0 0.1 0 0.1 0.1 0.2 0 0.1-0.2 0.1-0.1 0.2-0.2 0.1 0.1 0.1 0.2 0.2 0.1 0.1 0 0.1 0.1 0.2 0 0.1 0.1 0.1 0.1 0.2 0.1 0.1 0 0.2-0.1 0.1-0.1 0.1-0.1 0.2-0.1 0.1-0.1 0.1-0.1 0.2 0.3 0.1 0.3 0.1 0.3 0.2 0 0.1-0.1 0.1-0.2 0.2 0 0.1-0.1 0.1 0 0.2 0 0.1 0 0.1 0 0.2 0 0.1-0.1 0.1-0.1 0.2-0.1 0.1 0.1 0.1 0 0.2 0 0.1 0 0.1 0 0.2-0.1 0.1 0 0.1 0 0.2-0.1 0.1 0 0.1-0.1 0.2-0.1 0.1-0.1 0.2 0.2 0.1 0.1 0.1 0.2 0.2-0.1 0.1 0 0.1-0.1 0.2 0.1 0.1 0 0.1 0.1 0.2 0 0.1-0.1 0.1 0 0.2 0 0.1 0 0.1 0.1 0.2 0 0.1 0.1 0.1 0.1 0.2 0.1 0.1-0.2 0.1-0.1 0.2-0.2 0.1-0.1 0.1 0 0.2-0.1 0.1 0.1 0.1 0.2 0.2 0.2 0.1 0.1 0.1-0.1 0.2-0.1 0.1-0.1 0.1 0 0.2 0 0.1 0 0.2 0.2 0.1 0.2 0.1 0.2 0.2-0.2 0.1-0.4 0.1-0.4 0.2-0.2 0.1 0.1 0.1 0 0.2 0.1 0.1 0 0.1 0 0.2 0.1 0.1 0 0.1 0 0.2 0 0.1 0.2 0.1 0.2 0.2 0.1 0.1 0.2 0.1 0.2 0.2 0.1 0.1-0.1 0.1-0.2 0.2-0.2 0.1-0.2 0.1 0 0.2 0 0.1 0 0.1 0 0.2 0.1 0.1 0 0.1 0 0.2 0 0.1 0 0.2-0.1 0.1-0.1 0.1-0.1 0.2-0.1 0.1 0 0.1 0.1 0.2 0 0.1 0.1 0.1 0.1 0.2 0 0.1 0.1 0.1 0 0.2 0.1 0.1-0.3 0.1-0.3 0.2-0.2 0.1 0" stroke="#000"/>
<path d="M525.5 252.8l0.1 0.2 0.2 0.3 0.1 0.3 0.1 0.5 0.2 0.5 0.1 0.6 0.1-0.2 0.2-0.7 0.1-0.6 0.1-0.4 0.2-0.1 0.1 0 0.1 0 0.2 0.3 0.1 0.2 0.1 0.3 0.2 0.1 0.1 0 0.2 0.1 0.1 0 0.1 0 0.2 0 0.1 0 0.1-0.1 0.2-0.1 0.1 0.3 0.1 0.9 0.2 0.8 0.1 0.7 0.1-0.1 0.2-0.1 0.1-0.1 0.1-0.6 0.2-0.6 0.1-0.5 0.1 0.1 0.2 0.2 0.1 0.2 0.1 0.1 0.2 0 0.1 0 0.1 0.2 0.2 0.4 0.1 0.5 0.1 0.2 0.2-0.7 0.1-0.6 0.1-0.7 0.2 0.4 0.1 0.5 0.1 0.4 0.2 0.2 0.1 0.1 0.2 0.1 0.1 0.2 0.1 0.2 0.2 0.2 0.1 0 0.1-0.3 0.2-0.2 0.1-0.3 0.1 0.1 0.2 0 0.1 0 0.1 0.1 0.2 0.1 0.1 0.1 0.1-0.4 0.2-0.5 0.1-0.4 0.1-0.1 0.2 0.1 0.1 0.1 0.1 0.2 0.2 0.4 0.1 0.3 0.1 0.4 0.2 0.1 0.1 0.2 0.1 0.2 0.2-0.1 0.1 0 0.1-0.1 0.2-0.1 0.1-0.3 0.1-0.2 0.2 0.5 0.1 0.9 0.2 0.9 0.1 0.1 0.1-0.9 0.2-0.9 0.1-0.6 0.1 0.2 0.2 0.1 0.1 0.1 0.1-0.6 0.2-0.7 0.1-0.7 0.1 0.3 0.2 0.5 0.1 0.4 0.1 0.3 0.2 0.2 0.1 0.2 0.1 0 0.2 0 0.1-0.1 0.1 0 0.2 0.2 0.1 0.2 0.1 0.1 0.2 0 0.1 0.1 0.1 0 0.2-0.2 0.1-0.2 0.1-0.2 0.2 0.3 0.1 0.6 0.1 0.5 0.2 0.1 0.1-0.6 0.2-0.6 0.1-0.3 0.1 0.4 0.2 0.5 0.1 0.4 0.1-0.2 0.2-0.3 0.1-0.3 0.1-0.1 0.2 0 0.1 0 0.1-0.3 0.2-0.4 0.1-0.4 0.1-0.4 0.2-0.2 0.1-0.3 0.1-0.2 0.2 0 0.1 0.1 0.1 0 0.2 0.5 0.1 0.6 0.1 0.5 0.2 0 0.1-0.1 0.1 0 0.2-0.1 0.1-0.1 0.1-0.1 0.2-0.1 0.1 0 0.1-0.1 0.2-0.1 0.1-0.3 0.2-0.3 0.1-0.3 0.1 0.1 0.2 0.1 0.1 0.1 0.1 0.2 0.2 0.2 0.1 0.2 0.1-0.3 0.2-0.6 0.1-0.6 0.1-0.2 0.2 0.3 0.1 0.3 0.1 0.1 0.2-0.3 0.1-0.3 0.1-0.3 0.2 0.6 0.1 0.5 0.1 0.6 0.2-0.1 0.1-0.2 0.1-0.3 0.2 0 0.1 0.1 0.1 0 0.2 0 0.1 0.1 0.1 0 0.2 0.1 0.1 0.3 0.1 0.4 0.2 0.3 0.1-0.4 0.2-0.4 0.1-0.5 0.1 0.4 0.2 0.5 0.1 0.5 0.1-0.2 0.2-0.6 0.1-0.6 0.1-0.5 0.2-0.4 0.1-0.4 0.1-0.3 0.2 0.1 0.1 0.2 0.1 0.1 0.2 0.3 0.1 0.2 0.1 0.2 0.2 0.2 0.1 0.1 0.1 0.2 0.2-0.2 0.1-0.3 0.1-0.4 0.2 0.1 0.1 0.5 0.1 0.5 0.2 0.4 0.1 0 0.1 0.1 0.2 0 0.1 0 0.1 0 0.2 0 0.1-0.5 0.2-0.5 0.1-0.6 0.1 0.2 0.2 0.5 0.1 0.5 0.1 0 0.2-0.7 0.1-0.6 0.1-0.5 0.2-0.1 0.1-0.2 0.1-0.2 0.2 0.1 0.1 0 0.1 0.1 0.2 0.1 0.1 0.1 0.1 0.1 0.2-0.2 0.1-0.4 0.1-0.4 0.2-0.1 0.1 0.3 0.1 0.3 0.2 0.1 0.1-0.5 0.1-0.4 0.2-0.3 0.1-0.4 0.1-0.3 0.2-0.3 0.1 0.2 0.1 0.2 0.2 0.2 0.1 0.8 0.2 1 0.1 1 0.1 0.3 0.2-0.5 0.1-0.5 0.1-0.3 0.2 0 0.1 0.1 0.1 0 0.2-0.4 0.1-0.5 0.1-0.4 0.2 0.1 0.1 0.2 0.1 0.1 0.2 0.1 0.1 0.1 0.1 0.1 0.2 0.1 0.1 0.2 0.1 0.1 0.2 0 0.1-0.3 0.1-0.2 0.2-0.3 0.1 0.1 0.1 0 0.2 0.1 0.1-0.1 0.1-0.1 0.2-0.1 0.1 0 0.1 0 0.2 0.1 0.1 0.1 0.2 0.4 0.1 0.3 0.1 0 0.2-0.5 0.1-0.6 0.1-0.5 0.2-0.1 0.1 0 0.1-0.1 0.2 0.1 0.1 0 0.1 0.1 0.2-0.1 0.1 0 0.1-0.1 0.2-0.2 0.1-0.3 0.1-0.4 0.2-0.2 0.1 0 0.1 0 0.2 0 0.1-0.2 0.1-0.3 0.2-0.2 0.1 0.2 0.1 0.3 0.2 0.3 0.1 0 0.1 0 0.2-0.1 0.1 0.1 0.1 0.2 0.2 0.2 0.1 0.3 0.2 0.3 0.1 0.4 0.1 0.3 0.2 0 0.1 0 0.1 0 0.2-0.6 0.1-0.6 0.1-0.6 0.2-0.1 0.1 0.1 0.1 0.1 0.2 0 0.1-0.2 0.1-0.2 0.2 0.2 0.1 0.9 0.1 1 0.2 0.8 0.1-0.8 0.1-0.7 0.2-0.8 0.1-0.2 0.1-0.1 0.2-0.1 0.1 0 0.1 0.1 0.2 0.2 0.1 0 0.1 0 0.2-0.1 0.1 0.1 0.1 0.5 0.2 0.5 0.1 0.4 0.2-0.6 0.1-0.6 0.1-0.6 0.2-0.6 0.1-0.5 0.1-0.5 0.2 0.5 0.1 0.8 0.1 0.8 0.2 0 0.1-0.6 0.1-0.6 0.2-0.3 0.1 0.4 0.1 0.4 0.2 0.3 0.1-0.3 0.1-0.4 0.2-0.4 0.1-0.5 0.1-0.5 0.2-0.5 0.1 0.1 0.1 0.4 0.2 0.3 0.1 0.1 0.1-0.3 0.2-0.2 0.1-0.2 0.1-0.3 0.2-0.2 0.1-0.2 0.1 0.1 0.2 0.1 0.1 0.1 0.2-0.5 0.1-0.5 0.1-0.6 0.2 0.7 0.1 1.1 0.1 1.2 0.2 0.2 0.1-0.5 0.1-0.6 0.2-0.2 0.1 0.7 0.1 0.6 0.2 0.6 0.1 0 0.1-0.1 0.2 0 0.1-0.4 0.1-0.5 0.2-0.4 0.1 0.2 0.1 0.5 0.2 0.5 0.1 0.1 0.1-0.2 0.2-0.3 0.1-0.4 0.1-0.6 0.2-0.6 0.1-0.5 0.1 0.3 0.2 0.3 0.1 0.3 0.1-1.1 0.2-1.2 0.1-1.1 0.2 0.7 0.1 1.3 0.1 1.4 0.2 0.6 0.1 0 0.1-0.1 0.2 0.2 0.1 0.9 0.1 0.9 0.2 0.7 0.1-0.9 0.1-0.9 0.2-0.9 0.1 0.1 0.1 0.2 0.2 0.1 0.1-0.2 0.1-0.4 0.2-0.3 0.1-0.1 0.1 0.2 0.2 0.1 0.1 0.2 0.1 0.2 0.2 0.3 0.1 0.3 0.1 0.4 0.2 0.5 0.1 0.5 0.1-0.9 0.2-1 0.1-1 0.1 0.1 0.2 0.5 0.1 0.5 0.2 0.4 0.1 0.4 0.1 0.3 0.2-0.1 0.1-0.8 0.1-0.9 0.2-0.6 0.1 0.7 0.1 0.8 0.2 0.7 0.1-0.6 0.1-0.7 0.2-0.7 0.1 0 0.1 0.3 0.2 0.2 0.1-0.3 0.1-1 0.2-0.9 0.1-0.5 0.1 0.3 0.2 0.3 0.1 0 0.1-1.8 0.2-1.8 0.1-1.7 0.1 0.5 0.2 0.7 0.1 0.8 0.1 0.4 0.2 0.4 0.1 0.5 0.1 0.3 0.2 0.3 0.1 0.3 0.2 0.3 0.1 0.2 0.1 0.2 0.2 0.1 0.1 0.2 0.1 0.2 0.2 0.1 0.1 0.4 0.1 0.4 0.2 0.4 0.1 0.6 0.1 0.6 0.2 0.6 0.1 0.1 0.1-0.4 0.2-0.4 0.1 0 0.1 0.7 0.2 0.6 0.1 0.5 0.1-0.4 0.2-0.4 0.1-0.4 0.1-0.3 0.2-0.2 0.1-0.3 0.1 0.4 0.2 0.6 0.1 0.5 0.1 0 0.2-0.6 0.1-0.5 0.1-0.2 0.2 0.3 0.1 0.4 0.2 0.1 0.1-1 0.1-1 0.2-1 0.1 0.9 0.1 1 0.2 1 0.1 0.1 0.1-0.3 0.2-0.3 0.1-0.2 0.1 0 0.2 0 0.1 0 0.1 0.2 0.2 0.2 0.1 0.2 0.1-0.1 0.2 0 0.1 0 0.1 0.2 0.2 0.2 0.1 0.3 0.1-0.1 0.2-0.1 0.1-0.1 0.1-0.1 0.2 0 0.1 0.1 0.1-0.1 0.2-0.2 0.1-0.2 0.1-0.2 0.2-0.1 0.1-0.2 0.1-0.1 0.2 0.5 0.1 0.4 0.2 0.5 0.1-0.3 0.1-0.5 0.2-0.5 0.1 0.1 0.1 0.5 0.2 0.4 0.1 0.3 0.1 0.3 0.2 0.1 0.1 0.1 0.1-0.5 0.2-0.5 0.1-0.6 0.1-0.5 0.2-0.5 0.1-0.6 0.1-0.8 0.2-1 0.1-1 0.1-1 0.2-0.9 0.1-1 0.1-0.8 0.2-0.7 0.1-0.5 0.1-0.4 0.2-0.5 0.1-0.2 0.1-0.1 0.2 0.6 0.1 0.8 0.1 0.9 0.2 1.2 0.1 1.4 0.2 1.4 0.1 1 0.1 0.7 0.2 0.6 0.1 0.8 0.1 1 0.2 1 0.1 0.7 0.1 0.3 0.2 0.2 0.1 0.1 0.1 0.1 0.2 0.1 0.1 0.1 0.1 0.4 0.2 0.6 0.1 0.5 0.1 0.1 0.2-0.2 0.1-0.3 0.1-0.2 0.2-0.2 0.1-0.2 0.1-0.1 0.2 0.4 0.1 0.3 0.1 0.3 0.2 0.5 0.1 0.5 0.1 0.5 0.2-0.2 0.1-0.3 0.1-0.3 0.2 0 0.1 0.3 0.2 0.3 0.1-0.1 0.1-0.6 0.2-0.6 0.1-0.5 0.1 0.3 0.2 0.3 0.1 0.2 0.1 0 0.2-0.1 0.1 0 0.1-0.4 0.2-0.4 0.1-0.5 0.1 0 0.2 0.4 0.1 0.3 0.1 0.3 0.2 0.2 0.1 0.2 0.1 0.3 0.2 0.6 0.1 0.6 0.1 0.7 0.2-0.4 0.1-0.4 0.1-0.5 0.2 0 0.1 0.1 0.1 0 0.2 0 0.1-0.2 0.1-0.1 0.2 0 0.1 0.3 0.2 0.4 0.1 0.1 0.1-0.6 0.2-0.6 0.1-0.5 0.1-0.2 0.2-0.2 0.1-0.2 0.1 0.4 0.2 0.5 0.1 0.5 0.1 0.4 0.2 0.4 0.1 0.3 0.1 0 0.2-0.5 0.1-0.5 0.1-0.3 0.2 0.1 0.1 0.1 0.1 0.1 0.2-0.4 0.1-0.4 0.1-0.3 0.2 0.2 0.1 0.3 0.1 0.3 0.2 0.3 0.1 0.2 0.1 0.3 0.2 0.2 0.1 0.2 0.1 0.2 0.2 0.1 0.1-0.5 0.2-0.4 0.1-0.4 0.1 0.7 0.2 0.8 0.1 0.7 0.1-0.2 0.2-0.3 0.1-0.4 0.1-0.5 0.2-0.6 0.1-0.6 0.1-0.2 0.2 0.3 0.1 0.3 0.1 0.2 0.2-0.1 0.1 0 0.1 0 0.2 0.1 0.1 0 0.1 0.1 0.2 0.3 0.1 0.4 0.1 0.3 0.2 0 0.1-0.3 0.1-0.3 0.2-0.3 0.1-0.3 0.1-0.3 0.2-0.2 0.1 0 0.1 0 0.2 0 0.1 0.5 0.2 0.5 0.1 0.5 0.1-0.2 0.2-0.4 0.1-0.3 0.1-0.3 0.2-0.3 0.1-0.2 0.1-0.1 0.2 0.2 0.1 0.2 0.1 0.1 0.2-0.4 0.1-0.4 0.1-0.3 0.2 0.4 0.1 0.5 0.1 0.5 0.2 0.5 0.1 0.6 0.1 0.5 0.2-0.2 0.1-0.5 0.1-0.5 0.2-0.3 0.1 0 0.1-0.1 0.2-0.1 0.1-0.1 0.1-0.2 0.2-0.1 0.1 0 0.1 0.1 0.2 0 0.1-0.2 0.2-0.3 0.1-0.3 0.1 0 0.2 0.3 0.1 0.3 0.1 0.2 0.2 0.2 0.1 0.1 0.1 0.2 0.2 0.2 0.1 0.2 0.1 0.2 0.2 0 0.1-0.1 0.1-0.1 0.2-0.4 0.1-0.5 0.1-0.5 0.2-0.3 0.1-0.2 0.1-0.2 0.2 0.1 0.1 0.5 0.1 0.5 0.2 0.4 0.1 0.1 0.1 0 0.2 0.1 0.1 0.1 0.1 0.1 0.2 0.2 0.1-0.1 0.1-0.2 0.2-0.1 0.1 0 0.2 0.1 0.1 0 0.1 0.1 0.2 0.2 0.1 0.2 0.1 0 0.2-0.4 0.1-0.5 0.1-0.3 0.2 0.6 0.1 0.6 0.1 0.7 0.2-0.3 0.1-0.4 0.1-0.4 0.2-0.1 0.1 0 0.1 0 0.2-0.1 0.1-0.1 0.1-0.2 0.2 0 0.1 0.2 0.1 0.3 0.2 0.3 0.1 0.2 0.1 0.3 0.2 0.2 0.1-0.2 0.1-0.2 0.2-0.3 0.1 0.1 0.1 0.3 0.2 0.3 0.1 0.1 0.2-0.2 0.1-0.2 0.1-0.2 0.2 0.2 0.1 0.1 0.1 0.1 0.2-1 0.1-1 0.1-1 0.2 1.1 0.1 1.4 0.1 1.5 0.2 0.3 0.1-0.3 0.1-0.3 0.2-0.6 0.1-0.7 0.1-0.8 0.2-0.4 0.1 0.4 0.1 0.5 0.2 0.4 0.1 0.4 0.1 0.4 0.2 0.3 0.1-0.4 0.1-0.7 0.2-0.6 0.1-0.5 0.1-0.5 0.2-0.5 0.1 0 0.1 0.6 0.2 0.5 0.1 0.3 0.2-0.4 0.1-0.5 0.1-0.4 0.2 0.4 0.1 0.4 0.1 0.4 0.2-0.4 0.1-0.5 0.1-0.5 0.2-0.4 0.1-0.3 0.1-0.3 0.2 0 0.1 0.1 0.1 0.2 0.2 0.4 0.1 0.5 0.1 0.6 0.2 0.6 0.1 0.2 0.1 0.2 0.2 0.2 0.1 0.2 0.1 0.2 0.2 0.1 0.1 0.1 0.1 0.1 0.2 0.1 0.1 0.1 0.1-0.1 0.2-0.1 0.1 0 0.1 0 0.2 0 0.1 0 0.2-0.3 0.1-0.3 0.1-0.3 0.2 0.5 0.1 0.5 0.1 0.6 0.2-0.2 0.1-0.6 0.1-0.6 0.2-0.5 0.1-0.4 0.1-0.4 0.2-0.1 0.1 0.5 0.1 0.5 0.2 0.5 0.1 0.2 0.1 0.2 0.2 0.2 0.1 0.1 0.1 0.2 0.2 0.1 0.1-0.1 0.1-0.1 0.2-0.2 0.1 0 0.1 0.1 0.2 0.1 0.1-0.1 0.1-0.6 0.2-0.7 0.1-0.6 0.1-0.2 0.2-0.1 0.1 0 0.2-0.3 0.1-0.3 0.1-0.2 0.2 0.1 0.1 0.4 0.1 0.4 0.2 0.2 0.1 0.1 0.1 0 0.2 0 0.1-0.1 0.1-0.1 0.2-0.1 0.1 0.2 0.1 0.2 0.2 0.2 0.1-0.5 0.1-0.5 0.2-0.6 0.1 0.2 0.1 0.5 0.2 0.5 0.1 0.5 0.1 0.5 0.2 0.5 0.1 0.3 0.1-0.4 0.2-0.3 0.1-0.3 0.1-0.1 0.2 0 0.1-0.1 0.1 0.2 0.2 0.2 0.1 0.1 0.2-0.2 0.1-0.4 0.1-0.5 0.2-0.5 0.1-0.5 0.1-0.7 0.2-0.9 0.1-1.2 0.1-1.2 0.2-1.1 0.1-0.2 0.1 0 0.2 0.4 0.1 0.6 0.1 0.8 0.2 1.1 0.1 0.9 0.1 0.8 0.2 0.8 0.1 1 0.1 1.1 0.2 0.9 0.1 0.8 0.1 0.4 0.2 0.4 0.1 0.2 0.1-0.4 0.2-0.5 0.1-0.4 0.1-0.2 0.2-0.2 0.1-0.1 0.1 0 0.2 0 0.1 0.1 0.2-0.3 0.1-0.6 0.1-0.5 0.2-0.2 0.1 0.7 0.1 0.7 0.2 0.6 0.1 0.1 0.1 0 0.2 0.1 0.1-0.9 0.1-1 0.2-1 0.1 0.5 0.1 1.1 0.2 1.1 0.1 0.1 0.1-0.7 0.2-0.7 0.1-0.4 0.1 0.3 0.2 0.3 0.1 0.3 0.1 0.7 0.2 0.8 0.1 0.8 0.1-1 0.2-1.1 0.1-1.1 0.1 0 0.2 0.3 0.1 0.4 0.1 0 0.2-0.4 0.1-0.4 0.2-0.4 0.1-0.2 0.1-0.4 0.2-0.3 0.1-0.4 0.1-0.4 0.2-0.3 0.1-0.3 0.1-0.2 0.2 0 0.1-0.2 0.1 0 0.2-0.1 0.1 0.6 0.1 0.9 0.2 0.9 0.1 0.8 0.1 0.3 0.2 0.3 0.1 0.2 0.1-0.2 0.2-0.3 0.1-0.3 0.1 0.1 0.2 0.1 0.1 0.2 0.1 0.7 0.2 0.9 0.1 0.9 0.1 0 0.2-0.9 0.1-1 0.1-0.5 0.2 0.3 0.1 0.3 0.2 0.2 0.1-0.1 0.1 0 0.2-0.1 0.1 0.4 0.1 0.4 0.2 0.3 0.1-0.6 0.1-1.1 0.2-1 0.1-0.2 0.1 0.4 0.2 0.4 0.1 0.4 0.1 0.3 0.2 0.3 0.1 0.3 0.1 0 0.2 0 0.1 0 0.1-0.1 0.2-0.1 0.1-0.1 0.1 0 0.2 0 0.1 0 0.1-0.2 0.2-0.3 0.1-0.2 0.1-0.2 0.2 0.2 0.1 0.1 0.1 0.1 0.2 0.3 0.1 0.3 0.2 0.3 0.1-0.1 0.1-0.1 0.2-0.1 0.1-0.2 0.1-0.2 0.2-0.3 0.1 0.2 0.1 0.4 0.2 0.5 0.1 0.3 0.1-0.2 0.2-0.1 0.1-0.3 0.1-0.4 0.2-0.4 0.1-0.4 0.1 0.2 0.2 0.3 0.1 0.3 0.1-0.2 0.2-0.5 0.1-0.4 0.1 0.2 0.2 0.8 0.1 0.8 0.1 0.5 0.2-0.3 0.1-0.2 0.1-0.1 0.2 0.1 0.1 0.1 0.1 0.1 0.2 0 0.1 0 0.2 0 0.1-0.4 0.1-0.5 0.2-0.5 0.1-0.4 0.1-0.2 0.2-0.2 0.1-0.1 0.1 0.2 0.2 0.2 0.1 0.1 0.1 0 0.2 0 0.1 0 0.1-0.5 0.2-0.5 0.1-0.4 0.1 0 0.2 0.2 0.1 0.2 0.1 0.7 0.2 1.3 0.1 1.2 0.1 0.5 0.2-0.5 0.1-0.6 0.1-0.4 0.2 0.6 0.1 0.6 0.1 0.6 0.2-0.1 0.1-0.2 0.1-0.1 0.2-0.2 0.1-0.3 0.2-0.3 0.1 0 0.1 0.1 0.2 0.2 0.1-0.1 0.1-0.5 0.2-0.6 0.1-0.4 0.1 0.3 0.2 0.4 0.1 0.3 0.1-0.1 0.2 0 0.1-0.1 0.1 0 0.2-0.1 0.1 0 0.1-0.4 0.2-0.5 0.1-0.6 0.1-0.2 0.2 0.5 0.1 0.4 0.1 0.4 0.2-0.2 0.1-0.2 0.1-0.2 0.2 0.1 0.1 0.1 0.1 0.2 0.2-0.2 0.1-0.2 0.1-0.2 0.2 0.1 0.1 0.4 0.2 0.3 0.1 0.3 0.1 0 0.2 0 0.1 0 0.1-0.4 0.2-0.4 0.1-0.4 0.1 0.3 0.2 0.3 0.1 0.4 0.1 0.5 0.2 0.5 0.1 0.6 0.1 0.1 0.2-0.1 0.1-0.1 0.1-0.1 0.2-0.3 0.1-0.2 0.1-0.3 0.2-0.3 0.1-0.3 0.1-0.2 0.2 0.3 0.1 0.4 0.1 0.4 0.2-0.4 0.1-0.7 0.1-0.7 0.2-0.1 0.1 0.3 0.1 0.3 0.2 0.3 0.1 0.2 0.2 0.2 0.1 0.3 0.1 0.3 0.2 0.3 0.1 0.2 0.1-0.5 0.2-0.6 0.1-0.6 0.1-0.1 0.2 0 0.1 0 0.1 0.4 0.2 0.5 0.1 0.5 0.1 0 0.2-0.8 0.1-0.9 0.1-0.7 0.2-0.1 0.1-0.1 0.1-0.2 0.2-0.2 0.1-0.3 0.1-0.2 0.2 0.1 0.1 0.4 0.1 0.3 0.2 0 0.1-0.3 0.1-0.3 0.2 0.3 0.1 1 0.1 1.1 0.2 0.8 0.1-0.6 0.2-0.5 0.1-0.6 0.1 0.4 0.2 0.4 0.1 0.4 0.1 0 0.2 0 0.1 0 0.1-0.1 0.2-0.2 0.1-0.1 0.1 0 0.2 0.4 0.1 0.3 0.1 0.3 0.2-0.2 0.1-0.1 0.1-0.2 0.2 0.3 0.1 0.2 0.1 0.3 0.2 0 0.1-0.1 0.1 0 0.2 0 0.1 0.1 0.1 0.1 0.2-0.1 0.1-0.5 0.1-0.4 0.2-0.4 0.1-0.3 0.1-0.3 0.2-0.2 0.1 0.7 0.2 0.6 0.1 0.7 0.1 0.3 0.2 0.2 0.1 0.2 0.1-0.2 0.2-0.4 0.1-0.4 0.1-0.4 0.2-0.1 0.1-0.2 0.1-0.2 0.2 0.1 0.1 0 0.1 0.1 0.2 0.4 0.1 0.4 0.1 0.5 0.2-0.2 0.1-0.4 0.1-0.3 0.2 0 0.1 0.3 0.1 0.2 0.2 0.1 0.1-0.1 0.1-0.1 0.2-0.2 0.1-0.1 0.1 0 0.2-0.1 0.1 0.1 0.1 0.1 0.2 0.1 0.1-0.2 0.2-0.3 0.1-0.3 0.1 0.1 0.2 0.3 0.1 0.3 0.1-0.1 0.2-0.6 0.1-0.6 0.1-0.4 0.2 0.4 0.1 0.4 0.1 0.5 0.2 0.3 0.1 0.4 0.1 0.4 0.2-0.5 0.1-0.6 0.1-0.6 0.2-0.2 0.1 0 0.1 0 0.2 0.1 0.1 0.2 0.1 0.2 0.2 0.1 0.1 0.1 0.1 0.1 0.2 0.1 0.1-0.1 0.1-0.1 0.2-0.1 0.1-0.2 0.1-0.1 0.2-0.2 0.1 0.2 0.2 0.3 0.1 0.2 0.1 0.1 0.2-0.3 0.1-0.3 0.1-0.1 0.2 0.4 0.1 0.4 0.1 0.4 0.2-0.3 0.1-0.3 0.1-0.3 0.2 0.3 0.1 0.5 0.1 0.4 0.2-0.1 0.1-0.4 0.1-0.4 0.2-0.3 0.1 0 0.1-0.1 0.2 0 0.1 0.4 0.1 0.3 0.2 0.3 0.1-0.2 0.1-0.3 0.2-0.3 0.1 0.5 0.1 0.7 0.2 0.7 0.1-0.1 0.1-0.6 0.2-0.5 0.1-0.3 0.2 0.1 0.1 0 0.1 0 0.2-0.3 0.1-0.2 0.1-0.3 0.2 0.2 0.1 0.2 0.1 0.2 0.2-0.2 0.1-0.3 0.1-0.3 0.2-0.3 0.1-0.3 0.1-0.2 0.2 0.1 0.1 0.5 0.1 0.5 0.2 0.4 0.1-0.3 0.1-0.2 0.2-0.2 0.1-0.3 0.1-0.2 0.2-0.2 0.1 0.1 0.1 0.2 0.2 0.2 0.1 0.1 0.1 0 0.2-0.1 0.1 0.2 0.1 0.4 0.2 0.3 0.1 0.3 0.2-0.2 0.1-0.2 0.1-0.1 0.2 0.4 0.1 0.4 0.1 0.4 0.2-0.4 0.1-0.5 0.1-0.6 0.2-0.1 0.1 0.1 0.1 0.1 0.2 0.1 0.1 0 0.1 0 0.2 0.2 0.1 0.7 0.1 0.7 0.2 0.6 0.1-0.9 0.1-0.9 0.2-0.8 0.1-0.3 0.1-0.1 0.2-0.2 0.1 0 0.1 0 0.2 0.1 0.1 0.1 0.1 0.3 0.2 0.3 0.1 0.1 0.1-0.2 0.2-0.3 0.1-0.2 0.2 0.4 0.1 0.3 0.1 0.4 0.2 0.3 0.1 0.2 0.1 0.2 0.2-0.1 0.1-0.2 0.1-0.1 0.2 0 0.1 0.2 0.1 0.2 0.2-0.1 0.1-0.7 0.1-0.8 0.2-0.6 0.1 1.3 0.1 1.2 0.2 1.3 0.1-0.5 0.1-0.8 0.2-0.8 0.1-0.1 0.1 0.3 0.2 0.4 0.1 0.1 0.1-0.1 0.2-0.1 0.1-0.1 0.1-0.4 0.2-0.4 0.1-0.3 0.1 0.2 0.2 0.2 0.1 0.3 0.2-0.3 0.1-0.3 0.1-0.4 0.2 0.2 0.1 0.3 0.1 0.4 0.2 0.2 0.1 0 0.1 0 0.2 0 0.1-0.1 0.1-0.1 0.2-0.1 0.1-0.3 0.1-0.3 0.2-0.4 0.1 0.5 0.1 0.6 0.2 0.5 0.1 0.1 0.1-0.1 0.2-0.1 0.1 0 0.1 0.1 0.2 0.1 0.1 0 0.1 0 0.2 0 0.1-0.1 0.1 0.3 0.2 0.2 0.1 0.2 0.1-0.2 0.2-0.2 0.1-0.3 0.2-0.3 0.1-0.2 0.1-0.2 0.2-0.2 0.1-0.3 0.1-0.3 0.2-0.1 0.1 0.2 0.1 0.3 0.2 0.3 0.1 0.3 0.1 0.3 0.2 0.3 0.1-0.5 0.1-0.6 0.2-0.6 0.1 0.5 0.1 0.9 0.2 1 0.1 0.1 0.1-0.6 0.2-0.7 0.1-0.3 0.1 0.5 0.2 0.5 0.1 0.4 0.1-0.3 0.2-0.3 0.1-0.3 0.1 0.3 0.2 0.3 0.1 0.4 0.1 0.1 0.2 0.1 0.1 0 0.2-0.1 0.1-0.2 0.1-0.3 0.2-0.4 0.1-0.7 0.1-0.7 0.2-0.6 0.1 0.4 0.1 0.4 0.2 0.5 0.1-0.1 0.1-0.2 0.2-0.2 0.1 0.3 0.1 0.3 0.2 0.4 0.1 0.1 0.1-0.1 0.2-0.1 0.1 0 0.1 0.1 0.2 0.1 0.1-0.1 0.1-0.7 0.2-1.1 0.1-1.6 0.1-1.9 0.2-2.2 0.1-1.8 0.1-1.3 0.2-0.4 0.1 0.7 0.1 1.6 0.2 2.3 0.1 2.1 0.1 1.7 0.2 1.3 0.1 1 0.2 0.6 0.1 0 0.1-0.1 0.2-0.2 0.1 0.2 0.1 0.2 0.2 0.2 0.1-0.2 0.1-0.4 0.2-0.4 0.1-0.2 0.1 0.1 0.2 0.1 0.1 0 0.1 0 0.2 0 0.1 0 0.1-0.1 0.2-0.2 0.1-0.1 0.1 0 0.2 0.1 0.1 0 0.1-0.2 0.2-0.2 0.1-0.3 0.1 0.2 0.2 0.7 0.1 0.6 0.1 0.3 0.2-0.4 0.1-0.5 0.1-0.3 0.2 0.3 0.1 0.2 0.2 0.3 0.1-0.3 0.1-0.3 0.2-0.3 0.1 0.2 0.1 0.4 0.2 0.4 0.1 0.4 0.1 0.3 0.2 0.2 0.1-0.2 0.1-0.9 0.2-1.5 0.1-2.1 0.1-2.5 0.2-3.2 0.1-3.5 0.1-2.8 0.2-1.6 0.1 0.1 0.1 1.7 0.2 2.9 0.1 3.3 0.1 2.9 0.2 2.1 0.1 1.3 0.1 0.9 0.2 1 0.1 0.7 0.1 0.5 0.2-0.3 0.1-0.3 0.1-0.3 0.2-0.2 0.1-0.2 0.2-0.2 0.1 0 0.1 0.1 0.2 0.1 0.1 0.2 0.1 0.1 0.2 0.2 0.1 0.1 0.1-0.2 0.2-0.1 0.1-0.1 0.1 0.4 0.2 0.4 0.1 0.4 0.1 0.3 0.2 0.2 0.1 0.3 0.1 0.1 0.2 0.1 0.1 0 0.1-0.3 0.2-0.7 0.1-0.7 0.1-0.6 0.2-0.1 0.1-0.1 0.1-0.1 0.2 0.5 0.1 0.5 0.1 0.5 0.2 0 0.1-0.1 0.1-0.1 0.2 0.4 0.1 0.7 0.2 0.7 0.1-0.2 0.1-0.8 0.2-0.9 0.1-0.5 0.1 0.2 0.2 0.3 0.1 0.2 0.1 0.5 0.2 0.6 0.1 0.5 0.1-0.6 0.2-0.7 0.1-0.7 0.1-0.2 0.2-0.1 0.1 0 0.1 0 0.2-0.1 0.1-0.1 0.1 0.1 0.2 0.3 0.1 0.2 0.1 0.3 0.2-0.2 0.1-0.1 0.1-0.1 0.2 0.3 0.1 0.4 0.1 0.3 0.2-0.4 0.1-0.7 0.1-0.7 0.2 0 0.1 0.5 0.2 0.5 0.1 0.2 0.1-0.5 0.2-0.4 0.1-0.4 0.1 0.2 0.2 0.2 0.1 0.2 0.1 0.2 0.2 0.3 0.1 0.2 0.1-0.3 0.2-0.4 0.1-0.5 0.1 0.1 0.2 0.6 0.1 0.6 0.1 0.2 0.2-0.3 0.1-0.3 0.1-0.2 0.2 0 0.1 0.1 0.1 0.1 0.2 0.1 0.1 0 0.1 0.1 0.2 0 0.1-0.1 0.1-0.1 0.2-0.2 0.1-0.1 0.1-0.2 0.2 0 0.1 0.4 0.2 0.3 0.1 0.2 0.1 0.1 0.2 0 0.1 0 0.1 0 0.2-0.1 0.1-0.1 0.1 0 0.2 0.1 0.1 0.1 0.1 0.1 0.2 0.2 0.1 0.1 0.1-0.1 0.2-0.3 0.1-0.4 0.1-0.2 0.2 0.6 0.1 0.6 0.1 0.6 0.2-0.5 0.1-0.5 0.1-0.5 0.2 0 0.1 0.1 0.1 0.1 0.2 0 0.1-0.2 0.1-0.2 0.2-0.1 0.1-0.1 0.1-0.1 0.2-0.1 0.1 0.1 0.2 0 0.1 0.1 0.1 0.1 0.2 0 0.1 0.1 0.1-0.3 0.2-0.4 0.1-0.4 0.1 0.1 0.2 0.6 0.1 0.5 0.1 0.4 0.2 0.2 0.1 0.2 0.1 0.1 0.2-0.3 0.1-0.2 0.1-0.3 0.2-0.3 0.1-0.3 0.1-0.3 0.2-0.3 0.1-0.3 0.1-0.4 0.2-0.2 0.1-0.1 0.1-0.1 0.2 0.2 0.1 0.5 0.1 0.5 0.2 0.3 0.1-0.2 0.1-0.3 0.2-0.2 0.1-0.2 0.2-0.1 0.1-0.2 0.1 0.5 0.2 0.6 0.1 0.6 0.1-0.1 0.2-0.6 0.1-0.6 0.1-0.2 0.2 0.3 0.1 0.3 0.1 0.3 0.2 0.1 0.1 0.2 0.1 0.1 0.2-0.2 0.1-0.2 0.1-0.2 0.2-0.1 0.1 0 0.1 0 0.2 0.4 0.1 0.8 0.1 0.8 0.2 0.2 0.1-0.6 0.1-0.7 0.2-0.5 0.1 0 0.1-0.1 0.2 0 0.1 0.2 0.1 0.3 0.2 0.3 0.1-0.2 0.2-0.3 0.1-0.2 0.1-0.1 0.2 0.2 0.1 0.2 0.1 0.1 0.2 0.1 0.1 0.2 0.1 0 0.2-0.2 0.1-0.2 0.1-0.2 0.2 0.5 0.1 0.6 0.1 0.5 0.2-0.4 0.1-0.8 0.1-0.7 0.2-0.3 0.1-0.1 0.1 0 0.2 0 0.1 0.1 0.1 0 0.2 0 0.1 0 0.1-0.1 0.2-0.1 0.1 0.3 0.1 0.3 0.2 0.3 0.1 0.1 0.1 0 0.2 0 0.1 0.3 0.2 0.3 0.1 0.4 0.1 0.2 0.2 0 0.1 0 0.1-0.1 0.2-0.3 0.1-0.3 0.1-0.3 0.2-0.5 0.1-0.5 0.1-0.5 0.2 0.1 0.1 0.3 0.1 0.3 0.2-0.2 0.1-0.4 0.1-0.4 0.2-0.2 0.1 0.2 0.1 0.2 0.2 0.2 0.1 0.6 0.1 0.5 0.2 0.5 0.1-0.1 0.1-0.1 0.2-0.1 0.1 0.1 0.1 0.1 0.2 0.2 0.1 0.1 0.1 0.1 0.2 0.1 0.1-0.1 0.2-0.6 0.1-0.5 0.1-0.4 0.2-0.1 0.1-0.1 0.1-0.2 0.2 0.5 0.1 0.5 0.1 0.5 0.2-0.4 0.1-0.6 0.1-0.6 0.2-0.2 0.1 0.1 0.1 0 0.2 0.3 0.1 0.4 0.1 0.4 0.2 0.3 0.1-0.2 0.1-0.3 0.2-0.3 0.1 0.4 0.1 0.4 0.2 0.4 0.1-0.1 0.1-0.3 0.2-0.3 0.1-0.2 0.1-0.2 0.2-0.1 0.1 0.2 0.1 0.7 0.2 0.8 0.1 0.3 0.2-1 0.1-1 0.1-0.9 0.2 0.9 0.1 1 0.1 1 0.2-0.3 0.1-0.5 0.1-0.6 0.2 0 0.1 0.1 0.1 0.2 0.2 0 0.1-0.4 0.1-0.4 0.2-0.1 0.1 0.5 0.1 0.6 0.2 0.6 0.1-0.1 0.1 0 0.2 0 0.1-0.8 0.1-0.9 0.2-0.8 0.1 0.1 0.1 0.7 0.2 0.7 0.1 0.7 0.1 0.6 0.2 0.6 0.1 0.7 0.1 0.9 0.2 0.8 0.1 0.9 0.2 0.2 0.1 0.2 0.1 0.2 0.2 0.7 0.1 0.9 0.1 0.8 0.2 0.3 0.1 0 0.1 0 0.2-0.2 0.1-0.3 0.1-0.3 0.2-0.4 0.1-0.3 0.1-0.3 0.2-0.5 0.1-0.1 0.1-0.1 0.2-0.2 0.1-0.6 0.1-0.8 0.2-0.7 0.1-0.7 0.1-0.6 0.2-0.8 0.1-0.9 0.1-1.3 0.2-2.2 0.1-3.6 0.1-5.7 0.2-6.9 0.1-7.6 0.1-6.9 0.2-5.3 0.1-2.8 0.2-0.2 0.1 2.5 0.1 4.5 0.2 5.7 0.1 5.1 0.1 2.9 0.2-0.3 0.1-3.5 0.1-5 0.2-4.9 0.1-3.2 0.1-0.8 0.2 2 0.1 3.7 0.1 5.5 0.2 6.1 0.1 7.4 0.1 6.6 0.2 5.4 0.1 2.6 0.1 0.9 0.2 0.3 0.1 0.6 0.1 1.3 0.2 1 0.1 0.7 0.1 0.2 0.2 0.1 0.1 0.1 0.1 0.7 0.2 0.6 0.1 0.6 0.1 0.1 0.2 0 0.1 0 0.2-0.1 0.1-0.3 0.1-0.2 0.2-0.1 0.1-0.1 0.1 0 0.2 0.1 0.1 0.6 0.1 0.6 0.2 0.5 0.1-0.4 0.1-0.4 0.2-0.4 0.1 0 0.1-0.1 0.2 0 0.1-0.1 0.1 0 0.2-0.1 0.1-0.1 0.1-0.1 0.2-0.2 0.1-0.1 0.1 0.1 0.2 0.1 0.1 0.1 0.1 0.1 0.2 0.2 0.1 0.1 0.1 0.2 0.2 0.3 0.1 0.2 0.1 0.1 0.2 0.1 0.1 0.1 0.2-0.1 0.1-0.3 0.1-0.4 0.2-0.4 0.1-0.3 0.1-0.3 0.2-0.2 0.1 0.3 0.1 0.4 0.2 0.3 0.1-0.1 0.1-0.2 0.2-0.2 0.1 0.3 0.1 0.4 0.2 0.5 0.1 0.1 0.1-0.5 0.2-0.4 0.1-0.3 0.1 0.3 0.2 0.2 0.1 0.3 0.1-0.1 0.2 0 0.1-0.1 0.1-0.1 0.2-0.1 0.1-0.1 0.1 0 0.2-0.1 0.1 0 0.1 0.1 0.2 0.1 0.1 0.1 0.2 0.1 0.1 0 0.1 0 0.2 0 0.1 0 0.1 0 0.2 0.1 0.1 0.2 0.1 0.2 0.2 0.3 0.1 0 0.1-0.1 0.2-0.1 0.1 0 0.1-0.1 0.2 0 0.1-0.2 0.1-0.3 0.2-0.4 0.1-0.2 0.1 0.6 0.2 0.6 0.1 0.7 0.1-0.2 0.2-0.3 0.1-0.2 0.1-0.2 0.2-0.2 0.1-0.2 0.1-0.1 0.2 0.1 0.1 0.1 0.1 0.2 0.2 0.3 0.1 0.4 0.2 0.3 0.1 0.1 0.1 0.1 0.2 0.1 0.1-0.2 0.1-0.1 0.2-0.1 0.1-0.2 0.1-0.2 0.2-0.1 0.1-0.2 0.1 0 0.2-0.1 0.1 0 0.1 0.2 0.2 0.2 0.1 0.2 0.1 0 0.2-0.1 0.1-0.1 0.1 0.1 0.2 0.2 0.1 0.1 0.1 0.1 0.2 0.1 0.1 0.1 0.1-0.2 0.2-0.4 0.1-0.4 0.1-0.3 0.2-0.1 0.1-0.1 0.1-0.1 0.2 0.5 0.1 0.4 0.2 0.4 0.1 0.1 0.1 0.2 0.2 0.1 0.1-0.1 0.1-0.3 0.2-0.3 0.1 0.1 0.1 0.4 0.2 0.5 0.1 0.3 0.1 0 0.2-0.1 0.1 0 0.1-0.3 0.2-0.3 0.1-0.3 0.1-0.3 0.2-0.3 0.1-0.4 0.1 0.3 0.2 0.4 0.1 0.5 0.1 0.2 0.2-0.1 0.1-0.1 0.1-0.1 0.2-0.3 0.1-0.3 0.1-0.2 0.2 0.6 0.1 0.5 0.1 0.6 0.2 0.1 0.1 0.1 0.2 0.1 0.1-0.5 0.1-0.7 0.2-0.8 0.1-0.2 0.1 0.2 0.2 0.3 0.1 0.2 0.1 0.3 0.2 0.3 0.1 0.3 0.1-0.2 0.2-0.2 0.1-0.2 0.1 0 0.2-0.1 0.1-0.1 0.1 0.2 0.2 0.2 0.1 0.3 0.1-0.2 0.2-0.5 0.1-0.6 0.1-0.1 0.2 0.9 0.1 0.8 0.1 0.7 0.2-0.7 0.1-0.6 0.1-0.6 0.2 0.1 0.1 0.3 0.1 0.2 0.2 0.1 0.1 0.1 0.2 0.1 0.1 0 0.1 0 0.2 0 0.1 0 0.1 0.2 0.2 0.2 0.1 0.1 0.1 0 0.2-0.1 0.1-0.1 0.1 0.1 0.2 0 0.1 0.1 0.1 0.2 0.2 0.2 0.1 0.2 0.1-0.2 0.2-0.3 0.1-0.4 0.1-0.2 0.2 0.4 0.1 0.4 0.1 0.3 0.2 0 0.1-0.1 0.1 0 0.2-0.6 0.1-0.5 0.1-0.6 0.2 0.3 0.1 0.4 0.1 0.5 0.2 0 0.1-0.3 0.2-0.4 0.1-0.3 0.1 0.1 0.2 0 0.1 0.1 0.1 0.2 0.2 0.3 0.1 0.2 0.1-0.2 0.2-0.3 0.1-0.2 0.1 0.2 0.2 0.4 0.1 0.4 0.1 0.3 0.2 0 0.1 0.1 0.1 0 0.2 0 0.1-0.1 0.1-0.1 0.2 0 0.1 0 0.1 0 0.2-0.1 0.1-0.2 0.1-0.1 0.2-0.3 0.1-0.2 0.1-0.3 0.2 0.2 0.1 0.5 0.1 0.5 0.2 0.3 0.1-0.1 0.2-0.1 0.1 0 0.1-0.1 0.2 0 0.1-0.1 0.1 0 0.2 0 0.1-0.1 0.1 0.1 0.2 0.1 0.1 0.1 0.1-0.1 0.2-0.3 0.1-0.3 0.1-0.1 0.2 0.4 0.1 0.3 0.1 0.3 0.2 0.1 0.1 0.1 0.1 0.1 0.2-0.4 0.1-0.5 0.1-0.5 0.2 0 0.1 0 0.1 0.1 0.2 0.2 0.1 0.2 0.1 0.3 0.2 0.2 0.1 0.2 0.1 0.2 0.2 0.1 0.1-0.2 0.2-0.2 0.1-0.2 0.1-0.1 0.2-0.1 0.1-0.1 0.1-0.1 0.2-0.1 0.1-0.2 0.1 0 0.2 0 0.1-0.1 0.1 0.2 0.2 0.3 0.1 0.4 0.1 0.3 0.2-0.1 0.1 0 0.1-0.1 0.2 0 0.1 0.1 0.1 0.1 0.2-0.1 0.1 0 0.1 0 0.2 0 0.1 0.1 0.1 0.1 0.2 0.1 0.1 0 0.1 0 0.2-0.1 0.1 0 0.1 0 0.2 0 0.1-0.1 0.2 0 0.1-0.1 0.1 0.3 0.2 0.3 0.1 0.4 0.1 0 0.2-0.2 0.1-0.3 0.1-0.2 0.2-0.2 0.1-0.2 0.1-0.1 0.2 0 0.1 0.1 0.1 0 0.2 0 0.1 0 0.1-0.1 0.2 0 0.1 0 0.1 0 0.2 0.1 0.1 0 0.1 0 0.2 0 0.1 0 0.1-0.1 0.2-0.1 0.1 0.2 0.1 0.2 0.2 0.2 0.1 0.2 0.1 0.2 0.2 0.3 0.1-0.3 0.2-0.4 0.1-0.4 0.1-0.1 0.2 0.1 0.1 0.2 0.1 0.2 0.2 0.4 0.1 0.4 0.1 0.2 0.2-0.4 0.1-0.5 0.1-0.4 0.2 0 0.1 0 0.1 0 0.2 0.3 0.1 0.4 0.1 0.4 0.2-0.1 0.1-0.2 0.1-0.3 0.2-0.2 0.1 0.1 0.1 0.1 0.2 0.1 0.1-0.1 0.1-0.1 0.2 0 0.1 0.1 0.1 0.2 0.2 0.2 0.1-0.3 0.1-0.4 0.2-0.3 0.1 0.1 0.2 0.4 0.1 0.5 0.1 0.3 0.2 0 0.1 0 0.1 0 0.2-0.1 0.1-0.1 0.1-0.1 0.2 0 0.1-0.1 0.1 0 0.2 0 0.1 0.1 0.1 0.1 0.2-0.2 0.1-0.3 0.1-0.3 0.2-0.1 0.1 0.5 0.1 0.4 0.2 0.2 0.1-0.5 0.1-0.6 0.2-0.5 0.1 0.6 0.1 0.6 0.2 0.6 0.1-0.1 0.1-0.3 0.2-0.3 0.1-0.2 0.1-0.2 0.2-0.2 0.1-0.2 0.2-0.1 0.1-0.1 0.1 0.1 0.2 0.4 0.1 0.4 0.1 0.4 0.2 0.2 0.1 0.2 0.1 0.3 0.2-0.1 0.1-0.1 0.1-0.1 0.2-0.1 0.1 0 0.1 0 0.2-0.1 0.1-0.2 0.1-0.2 0.2-0.1 0.1 0.3 0.1 0.2 0.2 0.3 0.1-0.3 0.1-0.3 0.2-0.3 0.1 0.2 0.1 0.3 0.2 0.3 0.1 0 0.1-0.3 0.2-0.3 0.1-0.3 0.1-0.2 0.2-0.3 0.1-0.2 0.2 0.3 0.1 0.3 0.1 0.3 0.2 0 0.1-0.1 0.1-0.1 0.2 0.1 0.1 0.2 0.1 0.2 0.2 0.1 0.1 0.1 0.1 0.1 0.2 0 0.1-0.2 0.1-0.1 0.2-0.1 0.1 0 0.1 0 0.2 0 0.1 0.5 0.1 0.6 0.2 0.5 0.1-0.1 0.1-0.3 0.2-0.4 0.1-0.3 0.1-0.5 0.2-0.4 0.1-0.2 0.1 0.2 0.2 0.3 0.1 0.2 0.1 0 0.2 0.1 0.1 0.1 0.2 0.1 0.1 0.1 0.1 0.1 0.2 0 0.1 0 0.1 0 0.2 0 0.1 0 0.1-0.1 0.2 0.2 0.1 0.5 0.1 0.5 0.2 0.2 0.1-0.8 0.1-0.7 0.2-0.8 0.1 0.3 0.1 0.2 0.2 0.2 0.1 0.2 0.1 0.2 0.2 0.1 0.1-0.1 0.1-0.3 0.2-0.3 0.1-0.1 0.1 0.2 0.2 0.2 0.1 0.2 0.1-0.3 0.2-0.2 0.1-0.2 0.1 0.3 0.2 0.3 0.1 0.3 0.2-0.1 0.1-0.2 0.1-0.2 0.2 0.2 0.1 0.3 0.1 0.4 0.2 0.1 0.1-0.4 0.1-0.4 0.2-0.2 0.1 0.4 0.1 0.3 0.2 0.4 0.1-0.2 0.1-0.3 0.2-0.2 0.1-0.1 0.1 0 0.2-0.1 0.1 0.2 0.1 0.2 0.2 0.3 0.1-0.1 0.1-0.5 0.2-0.5 0.1-0.5 0.1-0.3 0.2-0.2 0.1-0.2 0.1-0.2 0.2 0 0.1 0.1 0.1 0.2 0.2 0.3 0.1 0.2 0.1 0.3 0.2 0.4 0.1 0.3 0.2 0.1 0.1-0.1 0.1-0.2 0.2 0 0.1 0.3 0.1 0.3 0.2 0.3 0.1 0.1 0.1 0 0.2 0 0.1-0.2 0.1-0.3 0.2-0.3 0.1 0.1 0.1 0.3 0.2 0.3 0.1 0.1 0.1-0.2 0.2-0.2 0.1-0.1 0.1 0.2 0.2 0.2 0.1 0.1 0.1-0.1 0.2-0.1 0.1-0.1 0.1-0.1 0.2 0 0.1-0.1 0.1 0.1 0.2 0.2 0.1 0.1 0.1 0.1 0.2 0 0.1 0 0.2 0 0.1 0.2 0.1 0.1 0.2 0.1 0.1-0.4 0.1-0.3 0.2-0.3 0.1 0.2 0.1 0.2 0.2 0.3 0.1 0.1 0.1 0 0.2 0 0.1 0 0.1-0.2 0.2-0.1 0.1-0.1 0.1 0.1 0.2 0 0.1 0.1 0.1 0 0.2 0.1 0.1 0.1 0.1-0.1 0.2-0.2 0.1-0.2 0.1 0 0.2 0.1 0.1 0 0.1 0.1 0.2 0.1 0.1 0.1 0.1 0.1 0.2 0 0.1-0.1 0.2 0 0.1-0.2 0.1-0.3 0.2-0.2 0.1 0.1 0.1 0.2 0.2 0.1 0.1 0.1 0.1 0.1 0.2 0.1 0.1 0.1 0.1-0.1 0.2-0.1 0.1 0 0.1-0.1 0.2-0.1 0.1-0.1 0.1-0.2 0.2-0.1 0.1-0.2 0.1 0.3 0.2 0.4 0.1 0.5 0.1 0 0.2-0.2 0.1-0.3 0.1 0 0.2 0.1 0.1 0.2 0.1 0 0.2-0.1 0.1-0.1 0.1-0.1 0.2 0.1 0.1 0.2 0.2 0.1 0.1 0 0.1 0.1 0.2 0 0.1 0 0.1 0 0.2 0 0.1 0 0.1 0 0.2-0.1 0.1 0 0.1-0.1 0.2-0.1 0.1-0.1 0.1-0.2 0.2-0.3 0.1-0.2 0.1 0.3 0.2 0.4 0.1 0.4 0.1 0.2 0.2-0.1 0.1 0 0.1 0 0.2-0.1 0.1 0 0.1-0.1 0.2-0.3 0.1-0.2 0.1-0.3 0.2 0 0.1 0 0.1 0 0.2 0.1 0.1 0 0.2 0 0.1 0.1 0.1 0.1 0.2 0.1 0.1 0.1 0.1 0.1 0.2 0.1 0.1 0.1 0.1 0.1 0.2 0.2 0.1 0.1 0.1-0.1 0.2-0.2 0.1-0.2 0.1 0 0.2 0 0.1-0.1 0.1 0.1 0.2 0.1 0.1 0.1 0.1 0.1 0.2 0 0.1 0 0.1 0.1 0.2 0 0.1 0.1 0.1 0.1 0.2-0.2 0.1-0.2 0.1-0.2 0.2 0 0.1 0.1 0.1 0 0.2 0 0.1-0.2 0.2-0.1 0.1 0.1 0.1 0.2 0.2 0.2 0.1 0.1 0.1 0 0.2 0 0.1 0 0.1-0.2 0.2-0.3 0.1-0.2 0.1 0.1 0.2 0.2 0.1 0.1 0.1 0.2 0.2 0.2 0.1 0.2 0.1 0.1 0.2-0.1 0.1-0.1 0.1-0.1 0.2 0.1 0.1 0 0.1 0 0.2-0.1 0.1-0.1 0.1-0.1 0.2 0.2 0.1 0.2 0.1 0.3 0.2-0.2 0.1-0.3 0.1-0.4 0.2-0.1 0.1 0 0.2 0 0.1 0 0.1 0.1 0.2 0.1 0.1 0.1 0.1 0 0.2 0 0.1 0 0.1 0 0.2 0 0.1 0 0.1 0.1 0.2 0 0.1 0.1 0.1-0.1 0.2-0.2 0.1-0.2 0.1 0 0.2 0.2 0.1 0.3 0.1 0.2 0.2-0.4 0.1-0.5 0.1-0.4 0.2 0.4 0.1 0.4 0.1 0.5 0.2 0 0.1-0.2 0.1-0.2 0.2 0 0.1 0.2 0.1 0.2 0.2 0.1 0.1-0.1 0.2 0 0.1 0 0.1-0.1 0.2-0.1 0.1 0 0.1 0.1 0.2 0.2 0.1 0.2 0.1-0.2 0.2-0.2 0.1-0.3 0.1-0.1 0.2 0.1 0.1 0 0.1 0 0.2 0 0.1 0 0.1-0.1 0.2 0 0.1 0 0.1 0 0.2 0.1 0.1 0.2 0.1 0.2 0.2 0 0.1 0 0.1-0.1 0.2-0.1 0.1 0.1 0.1 0 0.2-0.1 0.1-0.1 0.1-0.2 0.2-0.1 0.1 0.1 0.2 0.2 0.1 0.1 0.1 0.1 0.2 0.1 0.1 0.1 0.1-0.1 0.2-0.1 0.1-0.1 0.1-0.1 0.2 0.1 0.1 0.1 0.1 0 0.2-0.1 0.1-0.2 0.1-0.1 0.2-0.1 0.1 0 0.1-0.1 0.2 0.1 0.1 0 0.1 0.1 0.2 0.1 0.1 0.2 0.1 0.3 0.2 0 0.1-0.2 0.1-0.2 0.2-0.1 0.1 0.2 0.1 0.2 0.2 0.2 0.1 0 0.1-0.1 0.2-0.1 0.1-0.1 0.2-0.2 0.1-0.1 0.1 0 0.2 0.1 0.1 0.1 0.1-0.1 0.2-0.2 0.1-0.2 0.1 0 0.2 0.1 0.1 0.1 0.1 0.1 0.2 0.1 0.1 0.1 0.1 0.1 0.2-0.1 0.1-0.1 0.1-0.2 0.2 0.1 0.1 0.1 0.1 0.2 0.2-0.1 0.1-0.1 0.1-0.1 0.2 0 0.1 0.4 0.1 0.5 0.2 0.3 0.1-0.3 0.1-0.2 0.2-0.3 0.1 0.1 0.1 0.1 0.2 0.1 0.1 0 0.2-0.1 0.1-0.1 0.1 0 0.2 0 0.1 0.1 0.1-0.1 0.2-0.3 0.1-0.2 0.1-0.3 0.2 0.2 0.1 0.2 0.1 0.1 0.2 0.1 0.1 0.1 0.1 0.1 0.2-0.1 0.1-0.1 0.1-0.1 0.2 0.1 0.1 0.4 0.1 0.4 0.2 0.1 0.1-0.4 0.1-0.5 0.2-0.3 0.1 0.4 0.1 0.4 0.2 0.4 0.1-0.2 0.1-0.2 0.2-0.3 0.1-0.2 0.1-0.2 0.2-0.2 0.1 0.1 0.2 0.3 0.1 0.4 0.1 0.2 0.2 0 0.1 0 0.1 0 0.2 0.1 0.1 0.2 0.1 0.1 0.2 0 0.1 0 0.1-0.1 0.2-0.2 0.1-0.2 0.1-0.2 0.2-0.1 0.1 0 0.1 0 0.2 0 0.1 0.1 0.1 0.1 0.2 0 0.1-0.1 0.1-0.1 0.2-0.1 0.1 0.1 0.1 0.1 0.2 0.1 0.1 0.1 0.1 0 0.2 0.1 0.1 0 0.1-0.1 0.2 0 0.1 0 0.2 0.1 0.1 0.1 0.1 0.1 0.2 0.1 0.1 0.1 0.1 0.1 0.2-0.2 0.1-0.2 0.1-0.2 0.2-0.1 0.1-0.1 0.1-0.1 0.2-0.1 0.1-0.1 0.1 0 0.2-0.1 0.1 0.1 0.1 0.1 0.2 0 0.1 0.1 0.1 0.1 0.2 0.2 0.1 0 0.1 0.1 0.2 0 0.1 0 0.1-0.1 0.2-0.1 0.1 0 0.1-0.1 0.2 0 0.1 0 0.1 0 0.2 0.1 0.1 0 0.2 0.1 0.1 0 0.1 0.1 0.2-0.1 0.1-0.1 0.1-0.1 0.2 0.2 0.1 0.3 0.1 0.3 0.2-0.1 0.1-0.3 0.1-0.3 0.2-0.3 0.1-0.1 0.1-0.1 0.2 0 0.1 0.3 0.1 0.3 0.2 0.4 0.1-0.2 0.1-0.2 0.2-0.2 0.1 0 0.1 0.1 0.2 0.1 0.1 0.1 0.1 0 0.2 0.1 0.1-0.1 0.1-0.1 0.2-0.2 0.1-0.1 0.1 0 0.2 0 0.1 0 0.2 0.1 0.1 0.1 0.1 0.1 0.2-0.1 0.1-0.3 0.1-0.2 0.2 0 0.1 0.2 0.1 0.1 0.2 0.2 0.1 0.2 0.1 0.3 0.2 0.1 0.1-0.3 0.1-0.4 0.2-0.3 0.1 0.1 0.1 0.2 0.2 0.1 0.1-0.1 0.1-0.1 0.2-0.2 0.1 0.1 0.1 0.3 0.2 0.3 0.1 0.1 0.1 0 0.2 0 0.1 0 0.1 0 0.2-0.1 0.1 0 0.1-0.1 0.2-0.1 0.1-0.1 0.2 0 0.1-0.1 0.1 0 0.2 0.1 0.1 0.1 0.1 0.2 0.2-0.1 0.1-0.4 0.1-0.5 0.2-0.2 0.1 0.4 0.1 0.5 0.2 0.5 0.1-0.1 0.1 0 0.2-0.1 0.1-0.2" stroke="#ff0000"/>
</g>
<rect x="542.5" y="64.5" width="181.0" height="95.0" fill="#fff" stroke="#b8b8b8" stroke-width="1"/>
<line x1="572.67" y1="159.5" x2="572.67" y2="157.5" stroke="#b8b8b8" stroke-width="1"/>
<line x1="572.67" y1="64.5" x2="572.67" y2="66.5" stroke="#b8b8b8" stroke-width="1"/>
<text transform="translate(557.07 193.0) rotate(-27.5)" x="-27.14" y="8.26" font-size="24.0" style="font-kerning:none">1100</text>
<line x1="633" y1="159.5" x2="633" y2="157.5" stroke="#b8b8b8" stroke-width="1"/>
<line x1="633" y1="64.5" x2="633" y2="66.5" stroke="#b8b8b8" stroke-width="1"/>
<text transform="translate(617.4 193.0) rotate(-27.5)" x="-27.14" y="8.26" font-size="24.0" style="font-kerning:none">1110</text>
<line x1="693.33" y1="159.5" x2="693.33" y2="157.5" stroke="#b8b8b8" stroke-width="1"/>
<line x1="693.33" y1="64.5" x2="693.33" y2="66.5" stroke="#b8b8b8" stroke-width="1"/>
<text transform="translate(677.73 193.0) rotate(-27.5)" x="-27.14" y="8.26" font-size="24.0" style="font-kerning:none">1120</text>
<g fill="none" stroke-width="1.6" stroke-linejoin="round">
<path d="M542.5 157.5l0.6-0.3 0.6 0.3 0.6-0.1 0.6-0.5 0.6 0.8 0.6-0.4 0.6 0.2 0.6 0.4 0.6-0.5 0.7-0.4 0.6 0.1 0.6 0.5 0.6-0.7 0.6 0.5 0.6 0 0.6-0.4 0.6 0.4 0.6 0.1 0.6-0.4 0.6 0.1 0.6 0.3 0.6-0.6 0.6 0.2 0.6 0.5 0.6-0.3 0.6-0.4 0.6 0.4 0.6 0.6 0.7-1 0.6 0.6 0.6 0 0.6-0.3 0.6 0.3 0.6-0.4 0.6 0.7 0.6 0 0.6-0.8 0.6 0.2 0.6 0.1 0.6-0.2 0.6 0.3 0.6-0.4 0.6 0.4 0.6-0.2 0.6 0 0.6 0.2 0.7 0.1 0.6-0.5 0.6 0.5 0.6 0 0.6-0.3 0.6 0.5 0.6-0.7 0.6 0.1 0.6 0.2 0.6-0.3 0.6 0.6 0.6-0.3 0.6 0.4 0.6-0.8 0.6 0 0.6 0.7 0.6-0.7 0.6 0.6 0.6-0.6 0.7 0.4 0.6 0.2 0.6-0.3 0.6-0.4 0.6 0.2 0.6 0.5 0.6-0.3 0.6 0.2 0.6-0.2 0.6 0 0.6-0.1 0.6-0.3 0.6 0.5 0.6-0.1 0.6-0.7 0.6 0.6 0.6 0.3 0.6 0.3 0.6-1 0.7 0.4 0.6 0.1 0.6 0.1 0.6-0.5 0.6 0.4 0.6-0.3 0.6 0.1 0.6-0.2 0.6 0.3 0.6-0.2 0.6 0.2 0.6-0.2 0.6 0.3 0.6 0.2 0.6-0.5 0.6-0.2 0.6 0.1 0.6-0.1 0.7-0.3 0.6 0.5 0.6-0.2 0.6 0.4 0.6-0.3 0.6 0.3 0.6-0.1 0.6-0.4 0.6 0 0.6-0.1 0.6 0 0.6 0.4 0.6-0.4 0.6 0 0.6-0.2 0.6 0.7 0.6-0.6 0.6 0.1 0.6-0.3 0.7 0.3 0.6-0.3 0.6 0 0.6-0.5 0.6 0.1 0.6 0.5 0.6 0.1 0.6-0.7 0.6 0.5 0.6-0.1 0.6 0.8 0.6-1.3 0.6 0.1 0.6-0.2 0.6 0.5 0.6-0.1 0.6-0.5 0.6 0.4 0.6 0.1 0.7-0.9 0.6 0.1 0.6-0.5 0.6-0.4 0.6-0.2 0.6-0.3 0.6-0.7 0.6-0.2 0.6-0.3 0.6-1.3 0.6-0.7 0.6-1 0.6-0.7 0.6-1.4 0.6-1.2 0.6-2 0.6-2.1 0.6-1.4 0.7-2.5 0.6-1.9 0.6-2.7 0.6-3.7 0.6-2.6 0.6-2.4 0.6-3.2 0.6-3.4 0.6-2.5 0.6-2.3 0.6-2.8 0.6-2.9 0.6-1.7 0.6-1.4 0.6-1.5 0.6 0.1 0.6-0.8 0.6 1.5 0.6 0.9 0.7 1.3 0.6 2 0.6 2.3 0.6 2.3 0.6 3.4 0.6 2.9 0.6 2.8 0.6 2.7 0.6 2.8 0.6 2.4 0.6 2.7 0.6 2.1 0.6 2.8 0.6 1.6 0.6 2.4 0.6 1.1 0.6 2 0.6 1.3 0.6 1 0.7 0.6 0.6 0.2 0.6 0.4 0.6 0.1 0.6 0.4 0.6 0.2 0.6-1.1 0.6 0.5 0.6-1.6 0.6-1.1 0.6-0.7 0.6-1.1 0.6-2 0.6-2.1 0.6-1.3 0.6-3.2 0.6-2 0.6-3.2 0.7-3.4 0.6-3.3 0.6-4.1 0.6-3.9 0.6-3.7 0.6-4.6 0.6-4.2 0.6-3.7 0.6-4.2 0.6-4.4 0.6-4 0.6-4 0.6-3.1 0.6-3 0.6-2.7 0.6-0.4 0.6-0.6 0.6 0.5 0.6 0.4 0.7 2.5 0.6 1.9 0.6 2.9 0.6 3.8 0.6 4.2 0.6 3.9 0.6 4.4 0.6 4 0.6 4.8 0.6 4.5 0.6 3.6 0.6 4.5 0.6 3.3 0.6 4.1 0.6 2.9 0.6 3.7 0.6 2.8 0.6 2.3 0.6 2.7 0.7 1.7 0.6 2.2 0.6 1.4 0.6 1.8 0.6 0.9 0.6 1.7 0.6 0.6 0.6 0.9 0.6 0.1 0.6 0.4 0.6 1 0.6 1.2 0.6-0.4 0.6 1 0.6 0.3 0.6-0.3 0.6 0.4 0.6 0.7 0.7-0.3 0.6 0.1 0.6 0.1 0.6 0.4 0.6 0.1 0.6 0.5 0.6-0.1 0.6 0.4 0.6-0.3 0.6 0.9 0.6-0.7 0.6 0.1 0.6-0.1 0.6-0.1 0.6 0.3 0.6 0.4 0.6-0.2 0.6 0.6 0.6-0.6 0.7 0 0.6 0.7 0.6 0.1 0.6-0.4 0.6 0.8 0.6 0.2 0.6-0.3 0.6-0.4 0.6 0.9 0.6-0.4" stroke="#000"/>
<path d="M542.5 156.9l0.6 0.3 0.6-0.6 0.6 1 0.6-0.9 0.6 0.7 0.6-0.1 0.6 0.5 0.6-0.6 0.6 0.1 0.7-0.5 0.6 0.1 0.6-0.2 0.6 0.6 0.6-0.6 0.6 0.9 0.6-0.7 0.6-0.5 0.6 0.3 0.6 0.8 0.6-0.8 0.6 0.5 0.6-0.9 0.6 0.9 0.6 0.1 0.6-0.1 0.6 0.1 0.6-0.8 0.6-0.3 0.7 0.2 0.6 0.9 0.6-0.2 0.6 0.2 0.6-0.6 0.6 0.6 0.6-1 0.6 0.9 0.6-0.7 0.6 0.3 0.6 0.5 0.6 0.1 0.6-0.5 0.6-0.1 0.6 0.8 0.6-0.2 0.6-0.7 0.6 0.4 0.7-0.2 0.6 0.5 0.6-0.2 0.6 0 0.6-0.2 0.6-0.3 0.6 0.8 0.6-0.3 0.6-1.3 0.6 0.9 0.6 0.3 0.6-0.5 0.6 0 0.6 0.1 0.6 0.4 0.6-0.6 0.6 0.6 0.6 0.5 0.6-0.2 0.7 0 0.6-0.5 0.6 0.6 0.6-0.5 0.6 0.3 0.6-0.9 0.6 1.1 0.6-0.8 0.6 0.3 0.6 0.4 0.6-0.5 0.6-0.2 0.6 0.2 0.6 0.5 0.6 0 0.6-0.2 0.6-0.6 0.6 0.1 0.6 0.5 0.7 0 0.6-0.6 0.6 0 0.6 0.6 0.6 0.2 0.6-0.5 0.6-0.5 0.6 1.2 0.6-0.7 0.6 0.2 0.6-1.2 0.6 0.7 0.6 0.2 0.6 0.2 0.6-0.5 0.6-0.3 0.6-0.1 0.6 0.6 0.7 0.3 0.6-0.1 0.6-0.9 0.6 0.5 0.6 0.3 0.6 0.4 0.6-0.2 0.6-0.1 0.6-0.9 0.6 1.3 0.6-0.6 0.6 0.2 0.6-0.5 0.6 0.2 0.6 0 0.6-0.1 0.6-0.2 0.6 0.7 0.6 0.1 0.7-0.7 0.6-0.1 0.6 0 0.6 0.2 0.6 0.8 0.6-0.7 0.6 0.8 0.6-1.4 0.6 0.1 0.6 0.1 0.6-0.1 0.6 0.5 0.6 0.6 0.6-1.2 0.6 0.5 0.6 0.3 0.6 0.5 0.6-1.1 0.6 0.3 0.7 0 0.6-0.7 0.6 0.1 0.6-0.6 0.6-0.4 0.6 0 0.6 0.5 0.6-0.1 0.6-0.8 0.6-0.9 0.6 0.7 0.6-0.9 0.6 0.3 0.6-1 0.6-0.9 0.6-0.1 0.6-0.6 0.6 0.5 0.7-2.2 0.6 0.2 0.6-0.3 0.6-1.3 0.6 0.6 0.6-0.4 0.6-0.4 0.6-0.5 0.6-0.8 0.6 0.1 0.6-1 0.6 0 0.6-0.2 0.6-0.2 0.6 0.1 0.6-0.5 0.6 0.3 0.6-0.1 0.6 0.4 0.7 0.4 0.6-0.2 0.6 1.3 0.6 0.6 0.6-0.3 0.6 0.2 0.6 0.1 0.6 0.6 0.6 0.4 0.6 0.8 0.6 0 0.6 0.6 0.6 0.2 0.6-0.2 0.6-0.2 0.6 0.2 0.6 0.2 0.6 0.5 0.6 0.5 0.7-1.1 0.6 0.6 0.6-0.6 0.6 0.3 0.6 0.1 0.6-0.9 0.6-0.8 0.6-0.5 0.6-0.2 0.6-1.4 0.6-0.9 0.6-0.3 0.6-0.1 0.6-1.8 0.6 0 0.6-0.9 0.6-1.3 0.6-1 0.7-1.2 0.6-0.5 0.6-0.1 0.6-0.4 0.6-1.1 0.6-0.5 0.6-0.5 0.6 1.2 0.6-1.9 0.6-0.1 0.6 1.1 0.6-0.8 0.6 1.2 0.6-0.4 0.6 1.2 0.6 0.6 0.6-0.4 0.6 0.8 0.6 0.1 0.7 1.5 0.6 0.1 0.6 0.4 0.6 1.3 0.6 0.6 0.6 0.5 0.6 0.5 0.6 1.3 0.6-0.1 0.6 0.5 0.6 0.9 0.6 0.8 0.6 0.1 0.6 0.4 0.6 0.2 0.6 0.5 0.6 0.4 0.6 1.5 0.6-1.4 0.7 0.8 0.6 0.4 0.6-0.3 0.6 0 0.6 0.9 0.6 0.4 0.6-0.1 0.6-0.2 0.6 0 0.6 0.7 0.6-0.9 0.6 0.5 0.6 1.2 0.6-0.3 0.6 0 0.6 0 0.6 0 0.6-0.1 0.7 0.7 0.6 0.1 0.6 0.1 0.6-1.3 0.6 1.8 0.6-0.1 0.6 0.3 0.6-0.8 0.6-0.7 0.6 0.5 0.6 0.2 0.6 1.4 0.6-1.2 0.6 0.2 0.6 0.7 0.6 0 0.6 0.1 0.6-0.6 0.6 1.1 0.7-0.6 0.6-0.5 0.6 0.6 0.6-0.8 0.6 0.1 0.6 0.3 0.6-0.1 0.6 0.3 0.6 0 0.6 0.1" stroke="#ff0000"/>
</g>
</g>
</svg>
</body></html>
